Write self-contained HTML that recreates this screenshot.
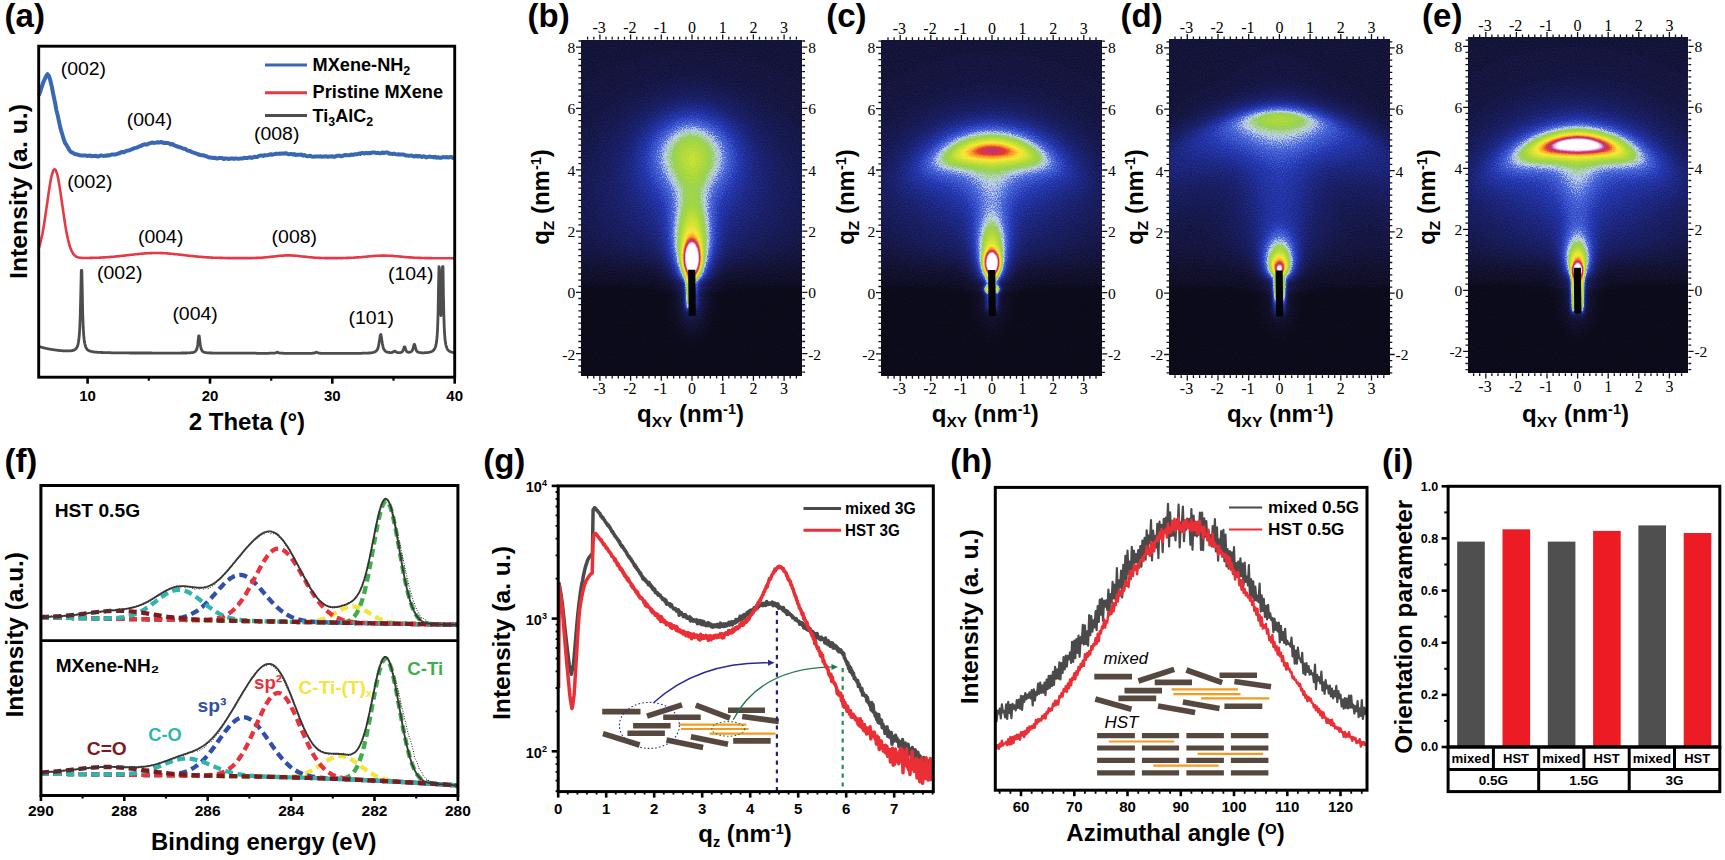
<!DOCTYPE html>
<html lang="en"><head><meta charset="utf-8"><title>Figure</title>
<style>html,body{margin:0;padding:0;background:#fff}svg{display:block}text{font-family:'Liberation Sans', Arial, Helvetica, sans-serif}.s text{font-family:'Liberation Serif','Times New Roman',serif}</style>
</head><body>
<svg width="1725" height="860" viewBox="0 0 1725 860">
<defs>
<filter id="cm" color-interpolation-filters="sRGB" filterUnits="userSpaceOnUse" x="570" y="30" width="1130" height="355"><feGaussianBlur in="SourceGraphic" stdDeviation="1.5" result="b"/><feTurbulence type="fractalNoise" baseFrequency="0.8" numOctaves="1" seed="7" result="t"/><feColorMatrix in="t" type="matrix" values="1 0 0 0 0 1 0 0 0 0 1 0 0 0 0 0 0 0 0 1" result="n"/><feComposite in="b" in2="n" operator="arithmetic" k1="-0.2" k2="1.1" k3="0.22" k4="-0.11" result="c"/><feComponentTransfer in="c"><feFuncR type="table" tableValues="0.043 0.046 0.048 0.051 0.054 0.056 0.059 0.063 0.067 0.071 0.075 0.078 0.082 0.085 0.087 0.089 0.092 0.094 0.096 0.099 0.101 0.104 0.106 0.11 0.115 0.119 0.123 0.127 0.132 0.136 0.14 0.145 0.149 0.17 0.19 0.211 0.231 0.252 0.273 0.293 0.314 0.405 0.496 0.587 0.678 0.769 0.724 0.678 0.633 0.588 0.601 0.613 0.626 0.638 0.651 0.675 0.698 0.722 0.745 0.769 0.792 0.816 0.839 0.864 0.889 0.914 0.939 0.963 0.988 0.987 0.986 0.985 0.984 0.983 0.982 0.98 0.966 0.952 0.937 0.923 0.908 0.894 0.867 0.839 0.812 0.784 0.757 0.729 0.761 0.792 0.824 0.855 0.886 0.915 0.943 0.972 1 1 1 1 1"/><feFuncG type="table" tableValues="0.039 0.042 0.044 0.047 0.05 0.052 0.055 0.059 0.064 0.069 0.073 0.078 0.082 0.087 0.093 0.098 0.103 0.108 0.113 0.118 0.123 0.128 0.133 0.143 0.152 0.162 0.171 0.18 0.19 0.199 0.209 0.218 0.227 0.253 0.278 0.304 0.329 0.355 0.38 0.406 0.431 0.511 0.591 0.671 0.751 0.831 0.827 0.824 0.82 0.816 0.822 0.828 0.835 0.841 0.847 0.853 0.859 0.865 0.871 0.876 0.882 0.888 0.894 0.897 0.899 0.902 0.905 0.907 0.91 0.869 0.829 0.789 0.748 0.708 0.668 0.627 0.559 0.492 0.424 0.356 0.288 0.22 0.217 0.214 0.212 0.209 0.207 0.204 0.298 0.392 0.486 0.58 0.675 0.751 0.827 0.904 0.98 0.985 0.99 0.995 1"/><feFuncB type="table" tableValues="0.086 0.095 0.105 0.114 0.123 0.132 0.141 0.157 0.173 0.188 0.204 0.22 0.235 0.256 0.276 0.296 0.317 0.337 0.358 0.378 0.398 0.419 0.439 0.467 0.494 0.522 0.549 0.576 0.604 0.631 0.659 0.686 0.714 0.733 0.753 0.773 0.792 0.812 0.831 0.851 0.871 0.885 0.899 0.913 0.927 0.941 0.8 0.659 0.518 0.376 0.35 0.323 0.296 0.27 0.243 0.238 0.233 0.228 0.224 0.219 0.214 0.209 0.204 0.204 0.204 0.204 0.204 0.204 0.204 0.198 0.193 0.187 0.182 0.176 0.17 0.165 0.167 0.17 0.173 0.175 0.178 0.18 0.237 0.293 0.349 0.405 0.461 0.518 0.591 0.665 0.739 0.813 0.886 0.915 0.943 0.972 1 1 1 1 1"/><feFuncA type="linear" slope="0" intercept="1"/></feComponentTransfer></filter>
<clipPath id="hc1"><rect x="581" y="40" width="221" height="336"/></clipPath>
<clipPath id="hc2"><rect x="881" y="40" width="221" height="336"/></clipPath>
<clipPath id="hc3"><rect x="1169" y="39" width="221" height="336"/></clipPath>
<clipPath id="hc4"><rect x="1468" y="37" width="220" height="336"/></clipPath>
<clipPath id="cg"><rect x="558.2" y="485.9" width="375.1" height="305.7"/></clipPath>
<clipPath id="ch"><rect x="995.3" y="487.4" width="371.7" height="302.8"/></clipPath>
</defs>
<rect width="1725" height="860" fill="#fff"/>
<g id="pa">
<path d="M38.7,95.6 40.2,91.7 41.6,87.3 43.1,82.8 44.6,79.5 46,76.4 47.5,74.2 49,76.2 50.4,80.7 51.9,87.1 53.4,95 54.9,101.9 56.3,109.6 57.8,115.9 59.3,122.9 60.7,129.2 62.2,134 63.7,139.2 65.1,143 66.6,145.2 68.1,147.7 69.5,150.2 71,152.1 72.5,152.7 73.9,153.4 75.4,154.2 76.9,154.3 78.3,154.8 79.8,155.3 81.3,155.5 82.7,155.4 84.2,155.5 85.7,155.5 87.2,155.9 88.6,155.7 90.1,155.5 91.6,156.3 93,156.1 94.5,156.1 96,155.7 97.4,156.4 98.9,156.3 100.4,155.5 101.8,155.6 103.3,155.9 104.8,155.8 106.2,155.8 107.7,155.2 109.2,155.4 110.6,155 112.1,154.4 113.6,154.5 115,154.5 116.5,154.2 118,153.5 119.5,153.2 120.9,152.3 122.4,152.1 123.9,152.2 125.3,151.4 126.8,150.7 128.3,150.5 129.7,150.2 131.2,149.6 132.7,148.8 134.1,148.3 135.6,147.9 137.1,147.6 138.5,146.8 140,146.1 141.5,145.7 142.9,144.8 144.4,144.3 145.9,144.5 147.3,144.4 148.8,143.6 150.3,143.1 151.8,142.6 153.2,142.7 154.7,142.9 156.2,142.6 157.6,142.3 159.1,142.6 160.6,142 162,142.3 163.5,142.9 165,142.7 166.4,142.9 167.9,143 169.4,143.6 170.8,144.4 172.3,143.9 173.8,145.1 175.2,145.7 176.7,146.3 178.2,146.7 179.7,147.3 181.1,147.6 182.6,148.3 184.1,148.8 185.5,149 187,150.4 188.5,150.7 189.9,150.9 191.4,151.8 192.9,152.4 194.3,152.8 195.8,153.3 197.3,154 198.7,154.5 200.2,155 201.7,155.2 203.1,155.2 204.6,155.8 206.1,156.1 207.5,156.8 209,157.4 210.5,157.6 212,157.8 213.4,158 214.9,157.7 216.4,158.4 217.8,158.4 219.3,158 220.8,158 222.2,158.1 223.7,159 225.2,158.5 226.6,158.4 228.1,159 229.6,158.7 231,158.5 232.5,158.5 234,158.9 235.4,158.5 236.9,158.6 238.4,158.9 239.8,158.6 241.3,158.4 242.8,158.4 244.3,157.8 245.7,158.1 247.2,158 248.7,157.6 250.1,157.3 251.6,157.9 253.1,157.3 254.5,156.8 256,157 257.5,156.9 258.9,155.9 260.4,155.6 261.9,155.5 263.3,155.9 264.8,155.1 266.3,155.4 267.7,155.1 269.2,154.8 270.7,154.2 272.1,154.8 273.6,154.4 275.1,154 276.6,153.6 278,153.9 279.5,153.6 281,153.7 282.4,153.4 283.9,153.7 285.4,153.2 286.8,153.5 288.3,154.2 289.8,154.2 291.2,153.8 292.7,154.5 294.2,154.1 295.6,154.9 297.1,154.8 298.6,154.7 300,154.7 301.5,154.6 303,155.7 304.5,155 305.9,155.9 307.4,156.2 308.9,156 310.3,155.7 311.8,156.6 313.3,156.8 314.7,156.6 316.2,156.5 317.7,156.4 319.1,156.4 320.6,156.3 322.1,156.8 323.5,156.6 325,156.4 326.5,156.3 327.9,156.8 329.4,156.4 330.9,156.5 332.3,156.3 333.8,156.7 335.3,156.7 336.8,155.7 338.2,155.7 339.7,155.7 341.2,156.3 342.6,155.9 344.1,155.3 345.6,155 347,155.3 348.5,155.3 350,155.3 351.4,154.5 352.9,154.9 354.4,154.5 355.8,154.1 357.3,154.4 358.8,153.5 360.2,153.9 361.7,153.1 363.2,153 364.6,153.6 366.1,152.8 367.6,153.3 369.1,153 370.5,153.2 372,152.6 373.5,152.6 374.9,152.5 376.4,153.1 377.9,152.8 379.3,153.2 380.8,153.2 382.3,152.5 383.7,153 385.2,152.6 386.7,152.6 388.1,152.8 389.6,153.7 391.1,153.8 392.5,154 394,153.6 395.5,154.1 396.9,154.4 398.4,154.2 399.9,154.5 401.4,154.4 402.8,154.4 404.3,154.8 405.8,155.6 407.2,155.4 408.7,155.9 410.2,155.6 411.6,155.6 413.1,156.2 414.6,156.4 416,155.7 417.5,156.5 419,156 420.4,156.2 421.9,157 423.4,156.3 424.8,156.6 426.3,157.4 427.8,156.9 429.3,156.6 430.7,156.8 432.2,156.9 433.7,157.4 435.1,156.8 436.6,157.7 438.1,157.2 439.5,157.8 441,157.8 442.5,157.2 443.9,157.1 445.4,157.4 446.9,157 448.3,157.6 449.8,157 451.3,157 452.7,157.9 454.2,157.3" fill="none" stroke="#3a67b1" stroke-width="4" stroke-linejoin="round" />
<path d="M38.7,248.3 39.9,244.5 41.1,239.8 42.4,234 43.6,227.2 44.8,219.5 46,211.1 47.3,202.5 48.5,193.9 49.7,185.9 50.9,179 52.2,173.7 53.4,170.3 54.6,169.2 55.8,170.3 57.1,173.7 58.3,179 59.5,185.9 60.7,193.9 61.9,202.5 63.2,211.1 64.4,219.5 65.6,227.1 66.8,233.9 68.1,239.7 69.3,244.5 70.5,248.3 71.7,251.2 73,253.4 74.2,255 75.4,256.1 76.6,256.8 77.9,257.3 79.1,257.6 80.3,257.8 81.5,257.9 82.7,258 84,258 85.2,258 86.4,258 87.6,258 88.9,258 90.1,257.9 91.3,257.9 92.5,257.9 93.8,257.8 95,257.8 96.2,257.8 97.4,257.7 98.7,257.7 99.9,257.6 101.1,257.6 102.3,257.5 103.5,257.4 104.8,257.4 106,257.3 107.2,257.2 108.4,257.1 109.7,257 110.9,256.9 112.1,256.8 113.3,256.7 114.6,256.6 115.8,256.5 117,256.4 118.2,256.3 119.5,256.1 120.7,256 121.9,255.9 123.1,255.8 124.3,255.6 125.6,255.5 126.8,255.3 128,255.2 129.2,255 130.5,254.9 131.7,254.8 132.9,254.6 134.1,254.5 135.4,254.3 136.6,254.2 137.8,254.1 139,254 140.3,253.8 141.5,253.7 142.7,253.6 143.9,253.5 145.1,253.4 146.4,253.3 147.6,253.3 148.8,253.2 150,253.1 151.3,253.1 152.5,253 153.7,253 154.9,253 156.2,253 157.4,253 158.6,253 159.8,253 161.1,253.1 162.3,253.1 163.5,253.2 164.7,253.3 165.9,253.3 167.2,253.4 168.4,253.5 169.6,253.6 170.8,253.7 172.1,253.8 173.3,254 174.5,254.1 175.7,254.2 177,254.3 178.2,254.5 179.4,254.6 180.6,254.8 181.9,254.9 183.1,255 184.3,255.2 185.5,255.3 186.7,255.5 188,255.6 189.2,255.8 190.4,255.9 191.6,256 192.9,256.1 194.1,256.3 195.3,256.4 196.5,256.5 197.8,256.6 199,256.7 200.2,256.8 201.4,256.9 202.7,257 203.9,257.1 205.1,257.2 206.3,257.3 207.5,257.4 208.8,257.4 210,257.5 211.2,257.6 212.4,257.6 213.7,257.7 214.9,257.7 216.1,257.8 217.3,257.8 218.6,257.8 219.8,257.9 221,257.9 222.2,257.9 223.5,258 224.7,258 225.9,258 227.1,258 228.3,258.1 229.6,258.1 230.8,258.1 232,258.1 233.2,258.1 234.5,258.1 235.7,258.1 236.9,258.1 238.1,258.1 239.4,258.1 240.6,258.1 241.8,258.1 243,258.1 244.3,258.1 245.5,258.1 246.7,258.1 247.9,258.1 249.1,258.1 250.4,258.1 251.6,258.1 252.8,258 254,258 255.3,258 256.5,257.9 257.7,257.9 258.9,257.8 260.2,257.8 261.4,257.7 262.6,257.6 263.8,257.5 265.1,257.4 266.3,257.3 267.5,257.2 268.7,257 269.9,256.9 271.2,256.8 272.4,256.6 273.6,256.5 274.8,256.4 276.1,256.2 277.3,256.1 278.5,256 279.7,255.8 281,255.7 282.2,255.6 283.4,255.6 284.6,255.5 285.9,255.4 287.1,255.4 288.3,255.4 289.5,255.4 290.7,255.4 292,255.5 293.2,255.6 294.4,255.6 295.6,255.7 296.9,255.8 298.1,256 299.3,256.1 300.5,256.2 301.8,256.4 303,256.5 304.2,256.6 305.4,256.8 306.7,256.9 307.9,257 309.1,257.2 310.3,257.3 311.5,257.4 312.8,257.5 314,257.6 315.2,257.7 316.4,257.8 317.7,257.8 318.9,257.9 320.1,257.9 321.3,258 322.6,258 323.8,258 325,258.1 326.2,258.1 327.5,258.1 328.7,258.1 329.9,258.1 331.1,258.1 332.3,258.1 333.6,258.1 334.8,258.1 336,258.1 337.2,258.1 338.5,258.1 339.7,258.1 340.9,258.1 342.1,258.1 343.4,258 344.6,258 345.8,258 347,257.9 348.3,257.9 349.5,257.8 350.7,257.8 351.9,257.7 353.1,257.7 354.4,257.6 355.6,257.5 356.8,257.4 358,257.4 359.3,257.3 360.5,257.2 361.7,257.1 362.9,257 364.2,256.8 365.4,256.7 366.6,256.6 367.8,256.5 369.1,256.4 370.3,256.3 371.5,256.2 372.7,256.1 373.9,256 375.2,255.9 376.4,255.8 377.6,255.8 378.8,255.7 380.1,255.7 381.3,255.6 382.5,255.6 383.7,255.6 385,255.6 386.2,255.6 387.4,255.7 388.6,255.7 389.9,255.8 391.1,255.8 392.3,255.9 393.5,256 394.7,256.1 396,256.2 397.2,256.3 398.4,256.4 399.6,256.5 400.9,256.6 402.1,256.7 403.3,256.8 404.5,257 405.8,257.1 407,257.2 408.2,257.3 409.4,257.4 410.7,257.4 411.9,257.5 413.1,257.6 414.3,257.7 415.5,257.7 416.8,257.8 418,257.8 419.2,257.9 420.4,257.9 421.7,258 422.9,258 424.1,258 425.3,258.1 426.6,258.1 427.8,258.1 429,258.1 430.2,258.1 431.5,258.1 432.7,258.2 433.9,258.2 435.1,258.2 436.3,258.2 437.6,258.2 438.8,258.2 440,258.2 441.2,258.2 442.5,258.2 443.7,258.2 444.9,258.2 446.1,258.2 447.4,258.2 448.6,258.2 449.8,258.2 451,258.2 452.3,258.2 453.5,258.2 454.7,258.2" fill="none" stroke="#e63946" stroke-width="2.6" stroke-linejoin="round" />
<path d="M38.7,346.4 39.2,346.5 39.7,346.7 40.2,346.8 40.7,347 41.1,347.1 41.6,347.3 42.1,347.4 42.6,347.5 43.1,347.7 43.6,347.8 44.1,347.9 44.6,348 45.1,348.2 45.6,348.3 46,348.4 46.5,348.5 47,348.6 47.5,348.7 48,348.8 48.5,348.9 49,349 49.5,349.1 50,349.2 50.4,349.3 50.9,349.3 51.4,349.4 51.9,349.5 52.4,349.6 52.9,349.7 53.4,349.7 53.9,349.8 54.4,349.9 54.9,349.9 55.3,350 55.8,350.1 56.3,350.1 56.8,350.2 57.3,350.3 57.8,350.3 58.3,350.4 58.8,350.4 59.3,350.5 59.7,350.5 60.2,350.6 60.7,350.6 61.2,350.6 61.7,350.7 62.2,350.7 62.7,350.8 63.2,350.8 63.7,350.8 64.1,350.8 64.6,350.9 65.1,350.9 65.6,350.9 66.1,350.9 66.6,350.9 67.1,350.9 67.6,350.9 68.1,350.9 68.6,350.9 69,350.9 69.5,350.9 70,350.9 70.5,350.8 71,350.8 71.5,350.7 72,350.7 72.5,350.6 73,350.4 73.4,350.3 73.9,350.1 74.4,349.9 74.9,349.6 75.4,349.3 75.9,348.8 76.4,348.3 76.9,347.5 77.4,346.4 77.9,345 78.3,342.9 78.8,339.8 79.3,335 79.8,327 80.3,313.7 80.8,292.7 81.3,270.3 81.8,270.3 82.3,292.7 82.7,313.8 83.2,327.2 83.7,335.1 84.2,340 84.7,343.2 85.2,345.3 85.7,346.8 86.2,347.9 86.7,348.7 87.2,349.3 87.6,349.8 88.1,350.2 88.6,350.5 89.1,350.7 89.6,350.9 90.1,351.1 90.6,351.3 91.1,351.4 91.6,351.5 92,351.6 92.5,351.7 93,351.8 93.5,351.9 94,352 94.5,352 95,352.1 95.5,352.1 96,352.2 96.5,352.2 96.9,352.2 97.4,352.3 97.9,352.3 98.4,352.3 98.9,352.4 99.4,352.4 99.9,352.4 100.4,352.4 100.9,352.5 101.3,352.5 101.8,352.5 102.3,352.5 102.8,352.5 103.3,352.6 103.8,352.6 104.3,352.6 104.8,352.6 105.3,352.6 105.7,352.6 106.2,352.6 106.7,352.7 107.2,352.7 107.7,352.7 108.2,352.7 108.7,352.7 109.2,352.7 109.7,352.7 110.2,352.7 110.6,352.7 111.1,352.8 111.6,352.8 112.1,352.8 112.6,352.8 113.1,352.8 113.6,352.8 114.1,352.8 114.6,352.8 115,352.8 115.5,352.8 116,352.8 116.5,352.8 117,352.8 117.5,352.8 118,352.9 118.5,352.9 119,352.9 119.5,352.9 119.9,352.9 120.4,352.9 120.9,352.9 121.4,352.9 121.9,352.9 122.4,352.9 122.9,352.9 123.4,352.9 123.9,352.9 124.3,352.9 124.8,352.9 125.3,352.9 125.8,352.9 126.3,352.9 126.8,352.9 127.3,352.9 127.8,352.9 128.3,352.9 128.8,352.9 129.2,352.9 129.7,353 130.2,353 130.7,353 131.2,353 131.7,353 132.2,353 132.7,353 133.2,353 133.6,353 134.1,353 134.6,353 135.1,353 135.6,353 136.1,353 136.6,353 137.1,353 137.6,353 138.1,353 138.5,353 139,353 139.5,353 140,353 140.5,353 141,353 141.5,353 142,353 142.5,353 142.9,353 143.4,353 143.9,353 144.4,353 144.9,353 145.4,353 145.9,353 146.4,353 146.9,353 147.3,353 147.8,353 148.3,353 148.8,353 149.3,353 149.8,353 150.3,353 150.8,353 151.3,353 151.8,353 152.2,353 152.7,353.1 153.2,353.1 153.7,353.1 154.2,353.1 154.7,353.1 155.2,353.1 155.7,353.1 156.2,353.1 156.6,353.1 157.1,353.1 157.6,353.1 158.1,353.1 158.6,353.1 159.1,353.1 159.6,353.1 160.1,353.1 160.6,353.1 161.1,353.1 161.5,353.1 162,353.1 162.5,353.1 163,353.1 163.5,353.1 164,353.1 164.5,353.1 165,353.1 165.5,353.1 165.9,353.1 166.4,353.1 166.9,353.1 167.4,353.1 167.9,353.1 168.4,353.1 168.9,353.1 169.4,353.1 169.9,353.1 170.4,353.1 170.8,353.1 171.3,353.1 171.8,353.1 172.3,353.1 172.8,353.1 173.3,353.1 173.8,353.1 174.3,353.1 174.8,353.1 175.2,353.1 175.7,353.1 176.2,353.1 176.7,353.1 177.2,353.1 177.7,353.1 178.2,353.1 178.7,353.1 179.2,353.1 179.7,353.1 180.1,353.1 180.6,353.1 181.1,353 181.6,353 182.1,353 182.6,353 183.1,353 183.6,353 184.1,353 184.5,353 185,353 185.5,353 186,353 186.5,353 187,353 187.5,352.9 188,352.9 188.5,352.9 188.9,352.9 189.4,352.9 189.9,352.8 190.4,352.8 190.9,352.7 191.4,352.7 191.9,352.6 192.4,352.6 192.9,352.5 193.4,352.3 193.8,352.2 194.3,352 194.8,351.7 195.3,351.4 195.8,350.8 196.3,350.1 196.8,348.9 197.3,347.1 197.8,344.2 198.2,339.9 198.7,335.9 199.2,335.9 199.7,339.9 200.2,344.2 200.7,347.1 201.2,348.9 201.7,350.1 202.2,350.9 202.7,351.4 203.1,351.7 203.6,352 204.1,352.2 204.6,352.4 205.1,352.5 205.6,352.6 206.1,352.7 206.6,352.7 207.1,352.8 207.5,352.8 208,352.9 208.5,352.9 209,352.9 209.5,352.9 210,353 210.5,353 211,353 211.5,353 212,353 212.4,353 212.9,353.1 213.4,353.1 213.9,353.1 214.4,353.1 214.9,353.1 215.4,353.1 215.9,353.1 216.4,353.1 216.8,353.1 217.3,353.1 217.8,353.1 218.3,353.1 218.8,353.1 219.3,353.1 219.8,353.1 220.3,353.1 220.8,353.1 221.3,353.2 221.7,353.2 222.2,353.2 222.7,353.2 223.2,353.2 223.7,353.2 224.2,353.2 224.7,353.2 225.2,353.2 225.7,353.2 226.1,353.2 226.6,353.2 227.1,353.2 227.6,353.2 228.1,353.2 228.6,353.2 229.1,353.2 229.6,353.2 230.1,353.2 230.5,353.2 231,353.2 231.5,353.2 232,353.2 232.5,353.2 233,353.2 233.5,353.2 234,353.2 234.5,353.2 235,353.2 235.4,353.2 235.9,353.2 236.4,353.2 236.9,353.2 237.4,353.2 237.9,353.2 238.4,353.2 238.9,353.2 239.4,353.2 239.8,353.2 240.3,353.2 240.8,353.2 241.3,353.2 241.8,353.2 242.3,353.2 242.8,353.2 243.3,353.2 243.8,353.2 244.3,353.2 244.7,353.2 245.2,353.2 245.7,353.2 246.2,353.2 246.7,353.2 247.2,353.2 247.7,353.2 248.2,353.2 248.7,353.2 249.1,353.2 249.6,353.2 250.1,353.2 250.6,353.2 251.1,353.2 251.6,353.2 252.1,353.2 252.6,353.2 253.1,353.2 253.6,353.2 254,353.2 254.5,353.2 255,353.2 255.5,353.2 256,353.2 256.5,353.3 257,353.3 257.5,353.3 258,353.3 258.4,353.3 258.9,353.3 259.4,353.3 259.9,353.3 260.4,353.3 260.9,353.3 261.4,353.3 261.9,353.3 262.4,353.3 262.9,353.3 263.3,353.3 263.8,353.3 264.3,353.3 264.8,353.3 265.3,353.3 265.8,353.3 266.3,353.3 266.8,353.3 267.3,353.3 267.7,353.3 268.2,353.3 268.7,353.3 269.2,353.2 269.7,353.2 270.2,353.2 270.7,353.2 271.2,353.2 271.7,353.2 272.1,353.2 272.6,353.2 273.1,353.2 273.6,353.2 274.1,353.1 274.6,353.1 275.1,353 275.6,352.9 276.1,352.7 276.6,352.4 277,352.1 277.5,352.1 278,352.4 278.5,352.7 279,352.9 279.5,353 280,353.1 280.5,353.1 281,353.2 281.4,353.2 281.9,353.2 282.4,353.2 282.9,353.2 283.4,353.3 283.9,353.3 284.4,353.3 284.9,353.3 285.4,353.3 285.9,353.3 286.3,353.3 286.8,353.3 287.3,353.3 287.8,353.3 288.3,353.3 288.8,353.3 289.3,353.3 289.8,353.3 290.3,353.3 290.7,353.3 291.2,353.3 291.7,353.3 292.2,353.3 292.7,353.3 293.2,353.3 293.7,353.3 294.2,353.3 294.7,353.3 295.2,353.3 295.6,353.3 296.1,353.3 296.6,353.3 297.1,353.3 297.6,353.3 298.1,353.3 298.6,353.3 299.1,353.3 299.6,353.3 300,353.3 300.5,353.3 301,353.3 301.5,353.3 302,353.3 302.5,353.3 303,353.3 303.5,353.3 304,353.3 304.5,353.3 304.9,353.3 305.4,353.3 305.9,353.3 306.4,353.3 306.9,353.3 307.4,353.3 307.9,353.3 308.4,353.3 308.9,353.3 309.3,353.3 309.8,353.3 310.3,353.3 310.8,353.3 311.3,353.3 311.8,353.3 312.3,353.2 312.8,353.2 313.3,353.2 313.7,353.1 314.2,353.1 314.7,352.9 315.2,352.7 315.7,352.5 316.2,352.2 316.7,352.2 317.2,352.5 317.7,352.7 318.2,352.9 318.6,353.1 319.1,353.1 319.6,353.2 320.1,353.2 320.6,353.3 321.1,353.3 321.6,353.3 322.1,353.3 322.6,353.3 323,353.3 323.5,353.3 324,353.3 324.5,353.3 325,353.3 325.5,353.3 326,353.3 326.5,353.3 327,353.3 327.5,353.3 327.9,353.3 328.4,353.3 328.9,353.3 329.4,353.3 329.9,353.3 330.4,353.3 330.9,353.3 331.4,353.3 331.9,353.3 332.3,353.3 332.8,353.3 333.3,353.3 333.8,353.3 334.3,353.3 334.8,353.3 335.3,353.3 335.8,353.3 336.3,353.4 336.8,353.4 337.2,353.4 337.7,353.4 338.2,353.4 338.7,353.4 339.2,353.4 339.7,353.4 340.2,353.4 340.7,353.4 341.2,353.4 341.6,353.4 342.1,353.3 342.6,353.3 343.1,353.3 343.6,353.3 344.1,353.3 344.6,353.3 345.1,353.3 345.6,353.3 346.1,353.3 346.5,353.3 347,353.3 347.5,353.3 348,353.3 348.5,353.3 349,353.3 349.5,353.3 350,353.3 350.5,353.3 350.9,353.3 351.4,353.3 351.9,353.3 352.4,353.3 352.9,353.3 353.4,353.3 353.9,353.3 354.4,353.3 354.9,353.3 355.3,353.3 355.8,353.3 356.3,353.3 356.8,353.3 357.3,353.3 357.8,353.3 358.3,353.3 358.8,353.3 359.3,353.3 359.8,353.3 360.2,353.3 360.7,353.3 361.2,353.3 361.7,353.3 362.2,353.2 362.7,353.2 363.2,353.2 363.7,353.2 364.2,353.2 364.6,353.2 365.1,353.2 365.6,353.2 366.1,353.1 366.6,353.1 367.1,353.1 367.6,353.1 368.1,353.1 368.6,353 369.1,353 369.5,353 370,352.9 370.5,352.9 371,352.8 371.5,352.8 372,352.7 372.5,352.6 373,352.5 373.5,352.4 373.9,352.2 374.4,352.1 374.9,351.9 375.4,351.6 375.9,351.2 376.4,350.8 376.9,350.2 377.4,349.4 377.9,348.3 378.4,346.7 378.8,344.5 379.3,341.6 379.8,338.2 380.3,335.2 380.8,334.5 381.3,336.5 381.8,339.9 382.3,343.2 382.8,345.7 383.2,347.5 383.7,348.8 384.2,349.8 384.7,350.5 385.2,351 385.7,351.4 386.2,351.7 386.7,351.9 387.2,352.1 387.7,352.2 388.1,352.3 388.6,352.4 389.1,352.5 389.6,352.5 390.1,352.6 390.6,352.6 391.1,352.6 391.6,352.5 392.1,352.5 392.5,352.3 393,352.1 393.5,351.8 394,351.4 394.5,351.1 395,351.1 395.5,351.4 396,351.8 396.5,352.2 396.9,352.4 397.4,352.5 397.9,352.6 398.4,352.7 398.9,352.7 399.4,352.7 399.9,352.6 400.4,352.5 400.9,352.4 401.4,352.3 401.8,352 402.3,351.6 402.8,350.9 403.3,349.9 403.8,348.3 404.3,346.8 404.8,346.8 405.3,348.3 405.8,349.8 406.2,350.8 406.7,351.5 407.2,351.9 407.7,352.1 408.2,352.2 408.7,352.3 409.2,352.3 409.7,352.2 410.2,352.1 410.7,352 411.1,351.7 411.6,351.3 412.1,350.7 412.6,349.7 413.1,348.2 413.6,346.2 414.1,344.4 414.6,344.4 415.1,346.2 415.5,348.2 416,349.7 416.5,350.7 417,351.4 417.5,351.8 418,352.1 418.5,352.3 419,352.4 419.5,352.5 420,352.6 420.4,352.7 420.9,352.7 421.4,352.8 421.9,352.8 422.4,352.8 422.9,352.8 423.4,352.8 423.9,352.8 424.4,352.8 424.8,352.7 425.3,352.7 425.8,352.7 426.3,352.7 426.8,352.6 427.3,352.6 427.8,352.5 428.3,352.4 428.8,352.4 429.3,352.3 429.7,352.2 430.2,352 430.7,351.9 431.2,351.7 431.7,351.5 432.2,351.3 432.7,351 433.2,350.6 433.7,350.1 434.1,349.6 434.6,348.8 435.1,347.8 435.6,346.4 436.1,344.4 436.6,341.3 437.1,336.5 437.6,328.3 438.1,313.3 438.5,287 439,266.6 439.5,269 440,296.1 440.5,311.7 441,315.5 441.5,309 442,290 442.5,266.6 443,266.6 443.4,294.7 443.9,317.9 444.4,330.8 444.9,338 445.4,342.3 445.9,345 446.4,346.8 446.9,348.1 447.4,349.1 447.8,349.8 448.3,350.3 448.8,350.8 449.3,351.1 449.8,351.4 450.3,351.7 450.8,351.9 451.3,352 451.8,352.2 452.3,352.3 452.7,352.4 453.2,352.5 453.7,352.6 454.2,352.7 454.7,352.7" fill="none" stroke="#4d4d4d" stroke-width="2.8" stroke-linejoin="round" />
<rect x="38.7" y="46.2" width="416" height="331" fill="none" stroke="#000" stroke-width="2.9" />
<line x1="87.6" y1="377.2" x2="87.6" y2="383.7" stroke="#000" stroke-width="2.6" />
<text x="87.6" y="401.3" font-size="15" font-weight="bold" text-anchor="middle" >10</text>
<line x1="210" y1="377.2" x2="210" y2="383.7" stroke="#000" stroke-width="2.6" />
<text x="210" y="401.3" font-size="15" font-weight="bold" text-anchor="middle" >20</text>
<line x1="332.3" y1="377.2" x2="332.3" y2="383.7" stroke="#000" stroke-width="2.6" />
<text x="332.3" y="401.3" font-size="15" font-weight="bold" text-anchor="middle" >30</text>
<line x1="454.7" y1="377.2" x2="454.7" y2="383.7" stroke="#000" stroke-width="2.6" />
<text x="454.7" y="401.3" font-size="15" font-weight="bold" text-anchor="middle" >40</text>
<line x1="148.8" y1="377.2" x2="148.8" y2="380.7" stroke="#000" stroke-width="2.2" />
<line x1="271.2" y1="377.2" x2="271.2" y2="380.7" stroke="#000" stroke-width="2.2" />
<line x1="393.5" y1="377.2" x2="393.5" y2="380.7" stroke="#000" stroke-width="2.2" />
<text x="246.9" y="430.2" font-size="24" font-weight="bold" text-anchor="middle" >2 Theta (°)</text>
<text x="26.5" y="191.5" font-size="24" font-weight="bold" text-anchor="middle" transform="rotate(-90 26.5 191.5)" textLength="175" lengthAdjust="spacingAndGlyphs" >Intensity (a. u.)</text>
<text x="60.7" y="75.3" font-size="18" textLength="45.4" lengthAdjust="spacingAndGlyphs" >(002)</text>
<text x="126.8" y="126.3" font-size="18" textLength="45.4" lengthAdjust="spacingAndGlyphs" >(004)</text>
<text x="254" y="140.3" font-size="18" textLength="45.4" lengthAdjust="spacingAndGlyphs" >(008)</text>
<text x="67.2" y="187.9" font-size="18" textLength="45.4" lengthAdjust="spacingAndGlyphs" >(002)</text>
<text x="138" y="243" font-size="18" textLength="45.4" lengthAdjust="spacingAndGlyphs" >(004)</text>
<text x="271.6" y="243" font-size="18" textLength="45.4" lengthAdjust="spacingAndGlyphs" >(008)</text>
<text x="97" y="279.2" font-size="18" textLength="45.4" lengthAdjust="spacingAndGlyphs" >(002)</text>
<text x="172.4" y="320.3" font-size="18" textLength="45.4" lengthAdjust="spacingAndGlyphs" >(004)</text>
<text x="348.5" y="324.1" font-size="18" textLength="45.4" lengthAdjust="spacingAndGlyphs" >(101)</text>
<text x="388" y="280.4" font-size="18" textLength="45.4" lengthAdjust="spacingAndGlyphs" >(104)</text>
<line x1="265" y1="65.1" x2="307" y2="65.1" stroke="#3a67b1" stroke-width="3" />
<line x1="265" y1="92.7" x2="307" y2="92.7" stroke="#e63946" stroke-width="3" />
<line x1="265" y1="115.4" x2="307" y2="115.4" stroke="#4d4d4d" stroke-width="3" />
<text x="312.6" y="70.9" font-size="17.5" font-weight="bold" textLength="97.7" lengthAdjust="spacingAndGlyphs" >MXene-NH<tspan font-size="12" dy="4">2</tspan></text>
<text x="312.6" y="97.9" font-size="17.5" font-weight="bold" textLength="130.5" lengthAdjust="spacingAndGlyphs" >Pristine MXene</text>
<text x="312.6" y="121.6" font-size="17.5" font-weight="bold" textLength="60.5" lengthAdjust="spacingAndGlyphs" >Ti<tspan font-size="12" dy="4">3</tspan><tspan dy="-4">AlC</tspan><tspan font-size="12" dy="4">2</tspan></text>
</g>
<g clip-path="url(#hc1)"><g filter="url(#cm)">
<rect x="573.2" y="31.6" width="237" height="352" fill="rgb(4,4,4)" />
<path fill="rgb(6,6,6)" fill-rule="evenodd" d="M575,33.5l233,0 0,255.5 -49.5,.5 -29.5,3 -5,1.5 -1,.5 -1,2 -2,17 -2.5,10 -2,6 -3,7 -4.5,7 -5,5 -5,3 -6,1 -6,-1 -5,-3 -5,-4.5 -4,-6.5 -3.5,-7 -3,-10 -1.5,-9 -2,-15 -1,-2 -1.5,-1 -4.5,-1 -29.5,-3 -50.5,-.5z"/>
<path fill="rgb(9,9,9)" fill-rule="evenodd" d="M575,33.5l233,0 0,253.5 -43,.5 -15,.5 -9,1 -16.5,2.5 -4.5,1.5 -1.5,.5 -1,2 -1,12 -1,8 -2.5,9 -3,7 -4,6 -4,4 -5,3 -5,1 -5,-.5 -5,-3 -4,-4.5 -4,-6 -3.5,-8 -2,-8 -1,-8 -1,-12 -1,-2 -1.5,-.5 -5,-1.5 -18,-3 -7,-.5 -16,-.5 -43,-.5z"/>
<path fill="rgb(12,12,12)" fill-rule="evenodd" d="M575,33.5l233,0 0,252.5 -48,.5 -18,.5 -8,1 -17,4.5 -2,2 -.5,11 -1.5,8 -1.5,7 -3,7 -3.5,5.5 -4,4.5 -4,2.5 -5,1 -5,-1 -4,-2 -4,-4 -3,-5.5 -2.5,-5 -2,-7 -1.5,-10 -1,-11 -.5,-2 -1.5,-1 -18,-4.5 -8,-1 -18,-.5 -48,-.5z"/>
<path fill="rgb(15,15,15)" fill-rule="evenodd" d="M575,33.5l233,0 0,251.5 -52,.5 -20,.5 -7,1 -5.5,2.5 -7.5,2.5 -2,1 -1,1.5 -.5,10 -1,8 -2,7 -3,7 -3.5,5 -3,3 -4,2.5 -4,.5 -4,-.5 -4,-2 -3,-3.5 -3.5,-5 -2.5,-6 -2.5,-8 -1,-7 -.5,-11 -1.5,-2 -2,-1 -7,-2 -6.5,-2.5 -7,-1 -20,-.5 -52,-.5z"/>
<path fill="rgb(18,18,18)" fill-rule="evenodd" d="M575,33.5l233,0 0,249.5 -67,1 -11,1 -5,1 -1,.5 -2,2 -7.5,3 -3,2 -.5,2 0,8 -1,7 -1.5,6 -2,6 -3,5 -3.5,4 -4,2.5 -4,1 -4,-1 -4,-2.5 -3.5,-4 -3,-5 -2,-5 -1.5,-7 -1.5,-17 -3,-2 -7.5,-3 -3,-2.5 -5,-1 -11,-1 -68,-1z"/>
<path fill="rgb(20,20,20)" fill-rule="evenodd" d="M575,33.5l233,0 0,243.5 -70,4.5 -10,1.5 -6,1.5 -2,1.5 -1,2.5 -6.5,3 -2.5,2 -.5,11 -1,7 -2,7 -3,6 -2.5,3 -3,2.5 -3,1.5 -3,1 -3,-.5 -3,-1.5 -3,-2.5 -2.5,-3.5 -3,-6 -2,-7 -1,-6 -.5,-12 -2.5,-2 -6.5,-3 -1,-2 -2,-1.5 -6,-2 -10,-1.5 -71,-4.5z"/>
<path fill="rgb(23,23,23)" fill-rule="evenodd" d="M575,33.5l233,0 0,237 -69,6.5 -9,2 -10,4.5 -3,2 -.5,3 -5.5,3 -2,2 -1.5,16 -2,7 -2.5,5 -2,3 -3,3 -3,2 -3,.5 -3,-.5 -3,-1.5 -2.5,-2.5 -2.5,-3 -2.5,-6 -1.5,-6 -1,-6 -1,-11 -2,-2 -5.5,-3 -.5,-3 -4,-2.5 -10,-4 -8,-2 -70,-6.5z"/>
<path fill="rgb(26,26,26)" fill-rule="evenodd" d="M575,33.5l233,0 0,232 -30,4 -38,3.5 -7,1.5 -5,2 -12,7.5 -1.5,1.5 0,3 -5,3 -2,2 -1,14 -1,5 -2,5 -2.5,4.5 -3,3.5 -3,1.5 -3,1 -4,-1 -3,-2 -2.5,-3.5 -2,-4 -2,-5 -1,-5 -1,-13 -.5,-1 -1.5,-2 -5,-3 0,-3 -2,-2 -11.5,-6.5 -5,-2.5 -7,-1.5 -38,-3.5 -31,-4z"/>
<path fill="rgb(29,29,29)" fill-rule="evenodd" d="M575,33.5l233,0 0,227 -31,5 -38,4.5 -6,1.5 -5,2 -13.5,10 -1.5,2 0,3 -6,4 -1,2 0,7 -.5,6 -1.5,5 -1.5,4 -2,4 -2.5,2.5 -3,2 -3,.5 -3,-.5 -3,-1.5 -2.5,-3 -2,-4 -1.5,-4 -1.5,-5 -.5,-6 0,-7 -1,-1.5 -6,-4.5 0,-3 -1.5,-2 -13.5,-9.5 -5,-2.5 -6,-1 -38.5,-5 -31.5,-5z"/>
<path fill="rgb(32,32,32)" fill-rule="evenodd" d="M692,48.5l13,.5 20,3 15,3 14,4.5 15,5.5 13,6 14,8 12,8.5 0,167.5 -14.5,3.5 -14.5,3 -42,6 -5,1.5 -4,2 -3,2 -6,5.5 -6.5,5 -1.5,2 .5,3 -5.5,4 -1,2 -.5,12 -2.5,8 -2,4 -2,2.5 -3,2 -3,.5 -3,-.5 -2.5,-1.5 -2.5,-2.5 -2,-3.5 -2.5,-8 -.5,-6 0,-7 -1,-2 -5.5,-4 .5,-3 -1.5,-2 -15.5,-12.5 -4,-1.5 -6,-2 -41,-6 -14.5,-3 -15.5,-4 0,-166.5 12,-8.5 13,-7.5 14,-7 14,-5 15,-4.5 15,-3.5 21,-3z"/>
<path fill="rgb(34,34,34)" fill-rule="evenodd" d="M692,66l14,1 20,4 15,4 15,6 15,8 14,8.5 12,9.5 11,11 0,129 -11,5 -14,4.5 -18,4 -28,4.5 -6,2 -4,2 -4,3.5 -5.5,6 -7.5,6 -.5,1 .5,3 -5,4 -1,1 -.5,12 -1,5 -1.5,4 -4,5 -2,1.5 -3,1 -3,-1 -2,-1 -2,-2 -2,-3.5 -1.5,-4 -1,-5 -.5,-12 -1,-1 -5,-4 .5,-3 -.5,-1 -7.5,-6 -6.5,-7 -4,-3 -4,-2 -6,-1.5 -27,-4.5 -17.5,-4 -14.5,-4.5 -12,-5 0,-128.5 11.5,-11 12.5,-10 14,-9 15,-7.5 15,-6 15,-4.5 20,-3.5z"/>
<path fill="rgb(37,37,37)" fill-rule="evenodd" d="M692,75l7,.5 8,1 20,4.5 16,6 14,7 16,10.5 14,12 11.5,12 5.5,7 4,7 0,92.5 -4.5,4.5 -5,4 -7,4 -6.5,3 -8.5,3 -11,3 -29.5,6 -5,2 -5,3 -4,3.5 -6,7.5 -7.5,6 0,1 .5,3 -5.5,4 -.5,1 -.5,11 -.5,4 -2,4.5 -2,3.5 -2,2 -2,1 -2,.5 -3,-1 -2,-1 -3,-4.5 -1.5,-4 -1,-4 -.5,-12 -.5,-1 -5.5,-4 .5,-3 0,-1 -7.5,-6 -7,-8 -4,-3.5 -4,-2.5 -5,-2 -30,-6 -10.5,-3 -8.5,-3 -6.5,-3 -7,-4 -5,-4 -5.5,-5.5 0,-90.5 6.5,-10 10,-12 12,-11 13.5,-10.5 14,-8.5 14,-6.5 15,-5 19,-4z"/>
<path fill="rgb(40,40,40)" fill-rule="evenodd" d="M692,81l8,.5 9,1.5 11,3 10,3 9,4 8,4 9,5.5 8,6 8.5,7 8,8 7,8 6,8 5.5,9 3.5,8 3.5,8 2,9 0,34.5 -1.5,6.5 -3,7 -3,6 -3.5,5 -4.5,5 -5,4 -6,4 -6,3 -14,5 -25.5,6.5 -5,2 -5,3 -4,4 -7.5,9.5 -7,6 -.5,1 1,3 -5.5,4 -.5,1 -.5,10 -2,8 -1.5,3 -2,2 -2,1 -2,.5 -3,-.5 -2,-1 -2.5,-4 -1,-3 -1,-5 -.5,-11 -.5,-1 -5.5,-4 1,-3 -.5,-1 -8,-7 -8.5,-10.5 -5,-4 -5,-2.5 -6,-1.5 -18,-4.5 -10,-3 -11,-4.5 -8.5,-5.5 -8,-7 -5.5,-8 -4.5,-10 -3.5,-11.5 0,-28.5 3.5,-13 4,-10 6,-11 7.5,-10 7.5,-9 9.5,-9 10,-8.5 10,-6.5 11,-6 12,-5 11,-3.5 14,-3z"/>
<path fill="rgb(43,43,43)" fill-rule="evenodd" d="M692,86l8,.5 11,2 11,3 10,4 9,4.5 8,5 9,6.5 7.5,7 8.5,9 7,9 5.5,9 5,9 3.5,9 3,9 1.5,10 .5,9 -1,12 -3,11 -4.5,10 -6.5,9 -8,7 -10,6 -10,4 -22,7 -5,2.5 -4,2.5 -5,5.5 -6.5,9.5 -8,7 -.5,1 .5,3 -5.5,4.5 0,1.5 -.5,11 -1,4 -1.5,3 -1,1.5 -2,1.5 -5,.5 -3,-1 -2,-3.5 -1.5,-5 -.5,-13 -1,-1 -4,-3 -.5,-1 .5,-3 -.5,-1 -8,-7 -6.5,-9 -5,-5.5 -4,-3 -5,-2.5 -22,-7 -12,-5 -9.5,-6 -7,-7 -6.5,-9 -4,-10 -3,-12 -1,-12 .5,-9 2,-10 3,-9 4,-9 5,-9 6,-9 7.5,-9 7.5,-8 8,-7 7.5,-5.5 8,-5 9,-4.5 10,-4 11,-3 10,-2z"/>
<path fill="rgb(46,46,46)" fill-rule="evenodd" d="M693,89.5l8,1 10,2 10,3 9,3.5 8,4.5 8,5 7,5.5 7,6.5 7,8 6.5,9 5.5,9 4.5,9 3.5,9 2.5,9 1.5,9 0,8 -1,11 -3,11 -4.5,10 -5.5,8 -7,7 -7,5 -9,4.5 -19,7 -5,3 -4,3 -5,6 -8,11.5 -8,7 0,1 .5,3 -.5,1 -4.5,3 -.5,2 -.5,12 -1.5,5 -2,2 -4,.5 -3,.5 -2,-.5 -2,-3.5 -1.5,-6 0,-11 -.5,-1 -4,-3 -.5,-1 .5,-3 0,-1 -8,-7 -7,-10 -5,-6 -5,-4 -5,-3 -20,-8 -9,-4.5 -8.5,-6.5 -6,-7 -6,-9 -3.5,-10 -2.5,-10 -.5,-11 .5,-9 2,-9 2.5,-9 4,-9 4.5,-9 6,-9 6,-8 7.5,-8 6.5,-6 7.5,-5.5 8,-5 8,-4 10,-4 10,-2.5 9,-1.5z"/>
<path fill="rgb(48,48,48)" fill-rule="evenodd" d="M693,92.5l7,1 9,1.5 10,3 8,3.5 8,4 7,5 6.5,5 6.5,6 6,7 5.5,8 5.5,9 4,9 3.5,9 2,9 1.5,9 0,8 -.5,10 -2.5,10 -4,9 -5,8 -6,6.5 -7,5.5 -6.5,4 -17.5,8.5 -4,3 -4,3.5 -6,7.5 -8,12.5 -8,7 -.5,1 1,3 -.5,1 -4,2.5 -.5,1.5 -.5,14 -1.5,4 -2.5,1.5 -3,-1 -2.5,1.5 -1.5,.5 -2,-1.5 -1,-3 -1,-6 0,-10 -1,-2 -3.5,-3 1,-3 -.5,-1 -8,-7 -8,-12 -5,-6.5 -4,-4 -5,-3.5 -17.5,-9 -8,-5 -7,-6 -6,-7 -5,-9 -3,-9 -2,-10 -.5,-10 .5,-8 1.5,-9 2.5,-9 4,-9 4.5,-9 4.5,-8 6,-8 6.5,-7 6.5,-6 6.5,-5 7,-4 8,-4 9,-3.5 10,-2.5 8,-1.5z"/>
<path fill="rgb(51,51,51)" fill-rule="evenodd" d="M693,95.5l7,.5 9,2 9,3 8,3 7,4 7,4.5 6,5 6,6 5.5,7 4.5,7 4.5,8 3.5,8 2.5,8 2,9 1.5,9 0,8 -.5,10 -2.5,9 -3,8 -5,8 -5,6 -5,5 -5.5,4 -15.5,9.5 -4,3.5 -4,4.5 -6,8 -8,13.5 -2.5,3 -6.5,5 -.5,1 1,3 -3.5,3 -1,2 0,12 -.5,3 -1,2 -1.5,1.5 -1,0 -3,-2 -2,2.5 -2,1 -2,-1.5 -1.5,-3.5 -.5,-15.5 -1,-2 -2.5,-2.5 1,-3 -.5,-1 -8.5,-7 -10.5,-17 -7,-8.5 -6,-5 -14.5,-9.5 -6.5,-4.5 -6,-6.5 -5,-7 -4,-8 -3,-9 -2,-9 0,-9 .5,-8 1.5,-9 2.5,-9 3,-8 3.5,-8 5,-8 5,-7 5,-6 6,-5.5 6,-5 7,-4.5 7,-3.5 8,-3 10,-3 8,-1z"/>
<path fill="rgb(54,54,54)" fill-rule="evenodd" d="M693,98l7,.5 8,2 8,2.5 8,3 7,4 6,4 6,5.5 5.5,5 4.5,6 5,7 3.5,7 3,8 2.5,8 2,8 1,8 0,8 -.5,9 -2,8 -3,8 -4,8 -3.5,5 -5,5 -18,15 -7,8 -6,8.5 -9.5,17.5 -3,3 -6.5,5 -.5,1 1,3 -2.5,2 -1,2 -.5,13 -.5,4 -2,2 -1,0 -1,-1 -2,-2.5 -1.5,3.5 -2.5,1.5 -2,-1.5 -1.5,-4 0,-15 -1.5,-2 -1.5,-2 1,-3 -.5,-1 -6.5,-5 -3,-3 -10.5,-18 -8,-11.5 -6,-6 -11,-8.5 -5.5,-5 -5,-6 -4.5,-7 -4,-8 -2.5,-8 -1.5,-9 0,-9 .5,-8 1.5,-8 2,-8 3,-8 3,-7 4,-7 4.5,-6 5,-6 5.5,-5.5 6,-4.5 6,-4 7,-3.5 8,-3 9,-2.5 7,-1.5z"/>
<path fill="rgb(57,57,57)" fill-rule="evenodd" d="M693,100l7,1 7,1.5 8,2.5 7,3 6,3 6,4 5.5,4.5 5,5 5,6 4,6 3.5,7 3,7 2,7 2,8 .5,8 .5,7 -1,9 -1.5,8 -3,8 -3.5,7 -7,9.5 -14,14 -6,7.5 -6,9.5 -12.5,23.5 -3,3 -6.5,5 -.5,1 1,3 -2.5,3 0,1 -.5,13 -1.5,4.5 -1,1 -1,0 -1,-1 -1,-2.5 -1,-2.5 -1.5,5.5 -1.5,2 -1,0 -1,-.5 -1,-1 -1,-3.5 -.5,-14 -.5,-2 -1.5,-3 .5,-2.5 0,-1.5 -6.5,-5 -3,-3 -13.5,-24.5 -6,-9.5 -5,-6 -14.5,-15 -4.5,-6 -3.5,-6 -3.5,-8 -2.5,-8 -1,-8 -.5,-9 .5,-7 1.5,-8 1.5,-7 3,-8 3.5,-7 3.5,-6 4.5,-6 4,-5 5.5,-5 5.5,-4 6,-4 7,-3 8,-3 7,-2 7,-1z"/>
<path fill="rgb(60,60,60)" fill-rule="evenodd" d="M693,102l6,.5 7,1.5 7,2.5 7,3 6,3 6,4 5,4 5,5 4,5 4,6 3.5,6 2.5,6 2,7 1.5,7 .5,7 .5,7 -1,8 -1.5,8 -2,7 -3,7 -6,9 -12,14 -5,7 -20.5,40 -2.5,3 -7,5 0,1 .5,3 -2,4 0,12 -.5,3 -1,2 -1,1 -1,0 -1,-1 -.5,-2 -1,-5 -.5,-9.5 -.5,13.5 -1,4 -1.5,1.5 -1,.5 -1,-.5 -1,-1.5 -1,-3 -.5,-14 -.5,-3 -.5,-2 0,-3 -.5,-1.5 -6,-4.5 -3.5,-4 -19.5,-38 -5,-7.5 -13,-15.5 -3,-5 -3,-6 -3,-7 -2,-8 -1,-8 -.5,-8 .5,-7 1.5,-7 1.5,-6 2.5,-7 2.5,-6 3.5,-6 4,-5 4.5,-5.5 5,-4.5 5,-3.5 6,-4 6,-3 7,-2.5 7,-2 7,-1z"/>
<path fill="rgb(62,62,62)" fill-rule="evenodd" d="M693,104l6,.5 6,1.5 7,2 6,2.5 11,6.5 5,4 5,4.5 4,5 3.5,5 3.5,6 2.5,6 3,12 1,13 -.5,8 -1.5,7 -2,7 -3.5,8 -4,7 -11,14.5 -4,6.5 -4,8 -8.5,21 -8,16 -2,3 -7.5,5 -.5,1 .5,4 -2,5 0,11 -.5,4 -1.5,1.5 -1,0 -1.5,-2.5 -.5,-6 0,-8 -1,-1.5 -.5,1.5 0,9 -.5,6 -1,2 -2,1.5 -1,-.5 -1,-1 -.5,-3 -.5,-14 -1.5,-5 .5,-4 -1,-1 -6.5,-5 -3,-4 -7,-15 -12.5,-28.5 -4,-6.5 -11,-15 -4.5,-8 -3.5,-8 -2,-8 -1,-8 -.5,-8 .5,-6 1,-7 4,-12 5.5,-11 4,-5 4.5,-5 4.5,-4 5,-4 5.5,-3 6,-3 6,-2.5 7,-1.5 6,-1z"/>
<path fill="rgb(65,65,65)" fill-rule="evenodd" d="M693,106l6,.5 6,1 12,4.5 6,3.5 5,3 9,8 7,9 2.5,5 3,6 1.5,6 1.5,6 .5,12 -.5,7 -1,6 -2,7 -2.5,6 -4,7 -10,14.5 -4,7.5 -3,7 -8,24 -8.5,18 -3,4 -6.5,4.5 -1,1.5 .5,4 -1.5,4 0,12 -1,4 -1,1 -1,0 -1,-2 -.5,-4 0,-10 -1.5,-2.5 -.5,2.5 -.5,14 -1,3 -2,1 -1.5,-1 -1,-3 -.5,-14 -1,-5 0,-4 -1,-2 -6,-4 -3,-5 -8,-18 -11,-29.5 -4,-7.5 -10,-15 -4.5,-8 -2.5,-7 -2,-7 -1,-7 0,-7 1,-12 3.5,-11 3,-6 3,-5 7.5,-9 9,-7.5 11,-6 6,-2 7,-2 6,-1z"/>
<path fill="rgb(68,68,68)" fill-rule="evenodd" d="M693,107.5l5,.5 6,1 11,4 10,5.5 5,4 4.5,4 7,9 5,10 3,11 .5,6 0,6 -1,10 -3,10 -4,9 -10,15 -4,7.5 -3,8.5 -6.5,23 -6,15 -5,10 -2.5,2.5 -5,3.5 -1,1.5 0,4.5 -1,5 0,10 -1,4.5 -1,1 -1,0 -1,-2.5 -.5,-13 -.5,-1.5 -1,-1.5 -1,2 0,15 -1.5,3 -1.5,1 -1.5,-1 -1,-3 -.5,-14 -.5,-5 -.5,-5 -1,-1 -6,-5 -3,-5 -5.5,-12 -2.5,-8 -7,-22.5 -3,-9 -4,-7.5 -9.5,-15 -4,-8 -2,-6 -1.5,-6 -1,-7 0,-6 1,-11 3.5,-11 5.5,-10 7,-8.5 9,-7 11,-6 12,-3.5z"/>
<path fill="rgb(71,71,71)" fill-rule="evenodd" d="M693,109l5,.5 6,1.5 11,4 10,5.5 8,7 6,8 5,10 3,10 .5,11 -1.5,11 -3,10 -4,8 -9.5,15 -3.5,7 -2,6.5 -5.5,24.5 -5.5,16 -6,12 -1.5,2 -5.5,3.5 -1,1.5 -.5,2 .5,3 -1.5,5 0,10 -.5,4 -1,1.5 -1,-.5 -.5,-2 -.5,-13 -1,-2.5 -1,-1 -1,2.5 -.5,15 -1,3 -1.5,1 -1,-1 -1.5,-3 -.5,-15 -.5,-4 -.5,-5.5 -1,-1 -4.5,-3.5 -2,-3 -6.5,-14 -4.5,-13 -5.5,-23 -3,-9.5 -3,-6.5 -10,-16 -4.5,-10 -2.5,-10 -.5,-10 1.5,-11 3,-10 5.5,-9 6.5,-8 9,-7 10,-5 11,-3.5z"/>
<path fill="rgb(74,74,74)" fill-rule="evenodd" d="M693,110.5l10,1.5 11,4 9.5,5.5 7.5,7 6.5,8 4.5,9 2.5,10 .5,10 -1,10 -3,9 -4,8 -9,14 -3.5,9 -2.5,9 -4,22 -5,16 -4.5,10 -2,4 -2.5,2.5 -4,3 -1,1.5 -.5,2 0,3 -1,5 -.5,13 -1,2 -1,-.5 -.5,-1.5 -.5,-13 -.5,-2 -1.5,-2.5 -1,3.5 -.5,15 -.5,2 -2,1.5 -1,-.5 -.5,-1 -1,-3 0,-14 -1.5,-10 -4.5,-4 -2.5,-3 -6.5,-14 -4.5,-16 -5,-24 -1.5,-7 -3.5,-7 -9,-15 -4.5,-9 -3,-10 -.5,-11 1,-10 3.5,-10 4.5,-8.5 6.5,-7.5 8.5,-6.5 10,-5.5 10,-3 5,-.5z"/>
<path fill="rgb(76,76,76)" fill-rule="evenodd" d="M693,112l9,1.5 10,3.5 9,5 8,6.5 5.5,7 5,9 2.5,9 1,10 -1.5,10 -2.5,9 -4,7.5 -9,14.5 -3,7.5 -2,8 -3.5,24.5 -2,8 -3,9 -6,14 -2.5,3 -5,4 -1,3 .5,3 -1,5 0,10 -.5,3 -1,1.5 -1,-.5 -.5,-2 0,-12 -2,-5 .5,-3 -1,-1 -.5,1 .5,3 -1,4 -.5,14 -1,3 -1.5,1.5 -1,-.5 -.5,-1 -1,-3 0,-14 -1,-10 -1.5,-1.5 -3,-2.5 -2.5,-3 -6.5,-15 -4.5,-16 -3.5,-24 -2,-8 -3,-8 -9.5,-15 -4,-8 -2.5,-10 -1,-10 1.5,-10 3,-9 4.5,-8 6,-7 8,-6.5 10,-5 10,-3z"/>
<path fill="rgb(79,79,79)" fill-rule="evenodd" d="M693,113.5l9,1.5 9,3 9,5 7.5,6.5 6.5,8 4,8 2,9 1,9 -1.5,9 -2.5,8 -3.5,7 -8.5,14 -3.5,8 -1.5,8 -3.5,27 -2,9 -2.5,8 -6,14 -2.5,3 -4.5,3.5 -1,2 0,4.5 -1,5 0,10 -1,4 -1,-.5 0,-1.5 -.5,-12 -1.5,-5 0,-3.5 -1,-1 -.5,1.5 0,3 -.5,4 -.5,14 -1,3 -1.5,1 -1.5,-1 -1,-3 -.5,-23 -1,-1.5 -4.5,-4.5 -2,-3 -6,-14 -4,-16 -3.5,-26 -1.5,-9 -3.5,-7.5 -8.5,-14.5 -4,-8 -2.5,-9 -1,-10 1.5,-9 3,-9 4.5,-8 6,-7 8,-6 9,-4.5 9,-2.5z"/>
<path fill="rgb(82,82,82)" fill-rule="evenodd" d="M693,115l9,1.5 9,3 8.5,5 7,6 5.5,7 4,8 2,8 1,9 -1,8 -2.5,8 -3.5,7 -9,14.5 -3,7.5 -1.5,9 -2,24 -2.5,12 -3,10 -4.5,11 -2.5,4 -5,4 -1,2 0,5 -1,5 0,9 -.5,4 -1,0 -.5,-1 -.5,-13 -1,-4 0,-4 -1.5,-1 -.5,1 -1,22 -1,3 -1.5,1 -1,-1 -1,-3 -1,-21 -.5,-3 -1.5,-2 -3,-3 -2.5,-4 -5,-12 -3,-10 -2,-11 -2,-24 -1.5,-9 -3.5,-8 -8.5,-14 -3.5,-7 -2.5,-9 -1,-9 1.5,-9 2.5,-8 4.5,-8 5.5,-6.5 7,-5.5 9,-5 9,-2.5z"/>
<path fill="rgb(85,85,85)" fill-rule="evenodd" d="M693,116.5l8,1 9,3 8,5 7,6 5.5,7 3.5,7 2.5,8 .5,8 -1,8 -2.5,8 -3.5,7 -8,13 -3,8 -1.5,9 -2.5,29 -1.5,9 -2.5,9 -3.5,9 -2.5,5 -2.5,3 -3.5,3 -1,2 -.5,6 -.5,4 -.5,9 -.5,3.5 -1,-1.5 0,-11 -1.5,-5 0,-4 -1.5,-1.5 -1,1 -.5,21.5 -.5,3 -1,1 -1,1 -1,-1 -1,-3 -1,-23 -1,-2.5 -4.5,-4.5 -2,-4 -4.5,-12 -2.5,-9 -2,-12 -2,-25 -1.5,-9 -3,-7.5 -8.5,-14.5 -3.5,-7 -2,-8 -1,-9 1,-8 2.5,-8 4,-7 6,-7 7.5,-5.5 8,-4.5 9,-2.5z"/>
<path fill="rgb(88,88,88)" fill-rule="evenodd" d="M693,117.5l8,1.5 8,3 8,4.5 6.5,5 5.5,7 3.5,7 2,8 .5,8 -1,8 -2.5,7 -3,6 -8,14 -3,8 -1.5,9 -1.5,28 -1.5,10 -2.5,9 -5.5,14 -2,3 -4,3.5 -1,2.5 -.5,6 -1,4 -.5,11.5 -1,-2 0,-9.5 -1,-5 0,-4 -1,-1 -1,-.5 -1,.5 -.5,10 -.5,13 -.5,2 -1.5,1.5 -1,-.5 -1,-3 -1,-23 -1,-2.5 -4,-4.5 -2,-4 -4,-11 -3,-11 -2,-14 -1.5,-25 -1,-8 -3.5,-8 -7.5,-13 -3.5,-7 -2.5,-8 -.5,-9 1,-8 2.5,-7 4,-7 5.5,-6.5 7,-5 8,-4.5 8,-2z"/>
<path fill="rgb(91,91,91)" fill-rule="evenodd" d="M693,119l7,1 8,2.5 8,5 6.5,5 4.5,6 3.5,7 2,7 1,8 -1,7 -2,7 -3.5,7 -8,13 -3,8.5 -1,8.5 -.5,20 -.5,10 -1.5,9 -2.5,10 -5.5,14 -2,3 -3.5,3 -1.5,3 0,6 -1,4 -.5,9.5 0,-3.5 0,-5 -1.5,-5 -.5,-5 -1,-1.5 -.5,-.5 -1.5,1 -.5,10 -.5,13 -.5,2 -1.5,1.5 -1,-.5 -.5,-1 -.5,-3 -1,-22.5 -1,-2.5 -4,-5 -2,-4 -4,-11 -2.5,-10 -1.5,-13 -1,-25 -1.5,-10 -3,-8 -7.5,-13 -3.5,-7 -2,-8 -1,-8 1.5,-8 2,-7 4,-6.5 5,-6 7,-5 8,-4.5 8,-2z"/>
<path fill="rgb(93,93,93)" fill-rule="evenodd" d="M693,120l7,1 8,3 7,4.5 6.5,5 4.5,6 3.5,7 1.5,7 .5,7 -1,7 -1.5,6 -3,6 -8,13.5 -2,4.5 -1,4 -1,9 -.5,20 -.5,10 -1,10 -2,9 -3,9 -3,6 -2,3 -3,3 -1,2 -1,3 0,4 -1,3 -1,-1 -.5,-2 0,-4 -.5,-2 -2,-1 -1,.5 -1,10.5 0,13 -.5,2 -1.5,1.5 -1,-.5 -.5,-1 -.5,-3 -1,-23 -1,-2.5 -3.5,-4.5 -2,-4 -4,-11 -2.5,-11 -1.5,-12 -.5,-26 -1,-10 -3,-8 -8,-14 -3,-6 -2,-7 -.5,-8 .5,-7 2.5,-7 3.5,-6.5 5,-6 6,-4.5 8,-4.5 8,-2.5z"/>
<path fill="rgb(96,96,96)" fill-rule="evenodd" d="M693,121.5l7,1 7,2.5 6.5,3.5 6,5 4.5,6 3.5,6 2,7 .5,7 -1,7 -1.5,6 -3,6 -7.5,13 -2,4 -1.5,5 -1,9 .5,21 -.5,10 -1.5,10 -2,10 -5,14 -2,3 -3,2.5 -1.5,2.5 -.5,3 0,3 -1,3.5 -1,-1 -.5,-1.5 0,-4 -.5,-2 -2,-1.5 -1,1 -1,9.5 0,14 -.5,2 -1.5,1 -1,-1 -1,-3 -1,-23.5 -1,-2 -3.5,-4.5 -1.5,-4 -4,-12 -2.5,-10 -1.5,-13 .5,-27 -1.5,-9 -3,-8.5 -7.5,-13.5 -3,-6 -2,-7 -.5,-8 1,-7 2.5,-7 3.5,-6 4.5,-5 6.5,-5 7,-3.5 7,-2z"/>
<path fill="rgb(99,99,99)" fill-rule="evenodd" d="M693,122.5l6,1 7,2.5 6.5,3.5 6,5 4.5,6 3,6 2,6 .5,7 -1,6 -1.5,6 -3,6 -8,14 -2.5,8 -1,9 .5,21 0,10 -1,10 -2.5,10 -4.5,14 -1.5,3 -3.5,3.5 -1.5,2.5 -.5,2 0,4 -1,2.5 -1,-.5 0,-1 0,-4 -.5,-2 -2.5,-1.5 -1,.5 -.5,2 -.5,22 -1,2 -1,1 -1,-1 -1,-3 0,-12 -1,-11.5 -1,-2.5 -3,-4 -2,-5 -3.5,-11 -2.5,-11 -1,-15 .5,-26 -1,-9 -3,-8 -7.5,-13 -3,-6 -2,-7 -.5,-7 1,-7 2,-6 3.5,-6 5,-5.5 6,-4.5 7,-3.5 7,-2z"/>
<path fill="rgb(102,102,102)" fill-rule="evenodd" d="M692,124l6,.5 7,2.5 6.5,3.5 5.5,5 4.5,5 3,6 1.5,6 1,6 -1,6 -1.5,6 -3,6 -7.5,13.5 -2.5,8.5 -1,9 1,22 0,10 -1.5,11 -2,10 -4.5,13 -1.5,3 -4,4.5 -1,2.5 -1,7 -1,-1 0,-4 -.5,-2 -1.5,-1.5 -1,-.5 -1,1 -.5,2 -.5,21 -1,3 -1,1 -1,-1 -1,-3 -.5,-21 -.5,-3 -1,-2.5 -3,-4.5 -2,-5 -3.5,-10 -2,-11 -1,-13 1,-27 -1,-10 -1,-5 -2,-4 -7,-13 -3,-6 -2,-7 -.5,-6 1,-6 2,-6 3,-6 4.5,-5 5.5,-4.5 6,-3.5 7,-2z"/>
<path fill="rgb(105,105,105)" fill-rule="evenodd" d="M692,125l6,1 6,2 6,3 5.5,4.5 4.5,5 3,6 1.5,6 .5,6 -.5,6 -2,6 -2,5 -7.5,13 -1.5,5 -1.5,4.5 -.5,9.5 1,20 0,11 -.5,10 -2,11 -4.5,14 -2,3 -3.5,4.5 -1,2.5 -1,2 0,4.5 -1,-1.5 1,-3 -2,-3 -2,-1 -1,1 -.5,3 -.5,20 -1,3 -1,1 -1,-1 -.5,-3 -.5,-12 -.5,-12 -1.5,-2.5 -3.5,-5.5 -1.5,-5 -3,-10 -2,-11 -1,-13 1.5,-27 -1,-10 -2.5,-8 -7.5,-14 -2.5,-6 -1.5,-6 -.5,-6 .5,-6 2,-6 2.5,-5 4.5,-5 5.5,-4.5 6,-3.5 6,-2z"/>
<path fill="rgb(107,107,107)" fill-rule="evenodd" d="M692,126.5l6,.5 6,2 6,3.5 4.5,4 4.5,5 2.5,5 1.5,6 .5,6 -.5,5 -1.5,6 -2.5,5 -7.5,14 -1.5,4 -1,5 -.5,9 1.5,21 0,10 -.5,11 -2,11 -4.5,14 -5,7 -2,4 -1,-.5 -2,-2.5 -1,0 -1,.5 -1,3.5 0,20 -1,2.5 -1,1 -1,-.5 -.5,-3 -.5,-12.5 -.5,-11.5 -1.5,-3 -3,-5 -2,-6 -2.5,-9 -2,-11 -.5,-14 1.5,-27 -.5,-10 -3,-8 -7,-14 -2.5,-5 -1.5,-6 -.5,-6 .5,-6 2,-6 3,-5 4,-5 5,-4 6,-3 5,-1.5z"/>
<path fill="rgb(110,110,110)" fill-rule="evenodd" d="M692,127.5l5,.5 6,2 6,3.5 5,4 3.5,5 2.5,5 1.5,5 .5,6 -.5,5 -1.5,5 -2,5 -7.5,14 -1.5,4 -1,5 -.5,9 2,21 0,11 -.5,11 -2.5,12 -4,13 -6.5,10.5 -1,-.5 -1.5,-2 -1.5,-.5 -1,.5 -1,4 -.5,20 -.5,2.5 -1,1 -1,-.5 -.5,-3 -.5,-21 -.5,-3 -1.5,-3 -2.5,-5 -2.5,-7 -2.5,-9 -1.5,-11 -.5,-16 2,-26 -.5,-9 -3,-8.5 -7,-13.5 -2,-5 -1.5,-6 -.5,-5 .5,-6 1.5,-5 3,-5 4,-5 5,-4 5,-2.5 6,-2z"/>
<path fill="rgb(113,113,113)" fill-rule="evenodd" d="M692,129l6,.5 5,2 5.5,3 4.5,4 3,4 2.5,5 1.5,5 .5,6 -.5,5 -1.5,5 -9.5,19 -1.5,4 -1,5 0,9 2,20 .5,11 -.5,11 -2,12 -3.5,13 -7,11 -4,-2.5 -1,.5 -.5,1 -.5,3 -.5,20 -.5,2 -1,1.5 -1,-.5 -.5,-3 -.5,-21 -.5,-3 -1.5,-3.5 -2.5,-4.5 -2.5,-8 -2,-9 -1.5,-10 -.5,-14 2.5,-27 -.5,-10 -1,-4 -1.5,-5 -7,-13 -2.5,-6 -1.5,-6 0,-5 .5,-5 1.5,-5 3,-5 3.5,-4 5,-4 5,-2.5 5,-1.5z"/>
<path fill="rgb(116,116,116)" fill-rule="evenodd" d="M692,130l5,.5 6,2 4.5,3 4.5,4 3,4 2.5,5 1.5,5 0,5 -.5,4 -1,5 -9.5,19 -1.5,5 -1,4 0,9 2.5,21 .5,11 -.5,12 -2,12 -3.5,12 -6.5,10.5 -4,-2 -1,0 -.5,1.5 -.5,3 -.5,20 -.5,2 -1,1 -1,-.5 -.5,-2.5 -.5,-23 -1,-2.5 -3,-6.5 -2.5,-7 -2,-9 -1.5,-11 -.5,-14 3,-28 0,-10 -3,-9 -6.5,-13 -2.5,-5 -1.5,-6 0,-5 .5,-5 2,-5 2,-4 3.5,-4 4,-3.5 5,-3 5,-1.5z"/>
<path fill="rgb(120,120,120)" fill-rule="evenodd" d="M692,132l5,.5 4,1.5 4,2 4.5,3.5 3,4 2.5,4 1.5,5 .5,5 -.5,4 -1,5 -2,5 -7.5,14.5 -1.5,4.5 -.5,5 0,8 2.5,20 1,11 0,12 -2,13 -3,12 -2,4 -4.5,7 -1,0 -3,-2 -1,.5 -.5,1.5 -.5,3 -1,21.5 -1,1.5 -1,-.5 -.5,-2.5 -.5,-23 -1,-3 -3,-7 -2.5,-7 -1.5,-9 -1.5,-10 0,-16 3.5,-27 0,-9 -.5,-4 -2,-5 -7,-14 -2,-5 -1,-5 -.5,-5 1,-5 1,-4 2.5,-4 3,-4 3.5,-3 5,-3 4,-1z"/>
<path fill="rgb(126,126,126)" fill-rule="evenodd" d="M692,135l4,.5 4,1 4,2.5 3,3 3,3.5 2,4 1,4 .5,4 -.5,4 -1,5 -9,19 -1.5,5 -.5,4 0,8 4,19 1.5,12 0,13 -1.5,14 -1.5,6 -2,6 -5.5,9.5 -1,0 -3,-2 -1,.5 -1,2 -.5,11 0,11 -.5,2 -1,1.5 -1,-.5 0,-3 -1,-22 -1,-4 -3.5,-8 -2,-7 -1,-7 -1,-11 0,-9 .5,-8 5,-26 0,-9 -.5,-4 -2,-5 -8.5,-18 -1,-5 -.5,-5 .5,-4 1.5,-4 2,-4 2.5,-3 3.5,-3 3.5,-2 4,-1.5z"/>
<path fill="rgb(133,133,133)" fill-rule="evenodd" d="M692,138l4,.5 3,1.5 3,1.5 3,3 2.5,3 1.5,3 .5,3 .5,4 -.5,4 -1,5 -10,20 -1.5,7 .5,6 5,18 2,13 1,14 -1,15 -2.5,11 -5,9.5 -1,1.5 -1,-.5 -3,-1 -1,0 -1,2 -.5,3.5 -.5,19 -1,3 -1,-1 0,-2 -1,-22 -1,-4.5 -2.5,-6.5 -2,-7 -1,-8 -1,-12 .5,-10 1,-9 2,-10 4.5,-16 .5,-7 -2,-7 -9.5,-19 -1,-5 -.5,-5 .5,-4 1,-3 1.5,-3 2.5,-3 2.5,-2 3,-2 3,-1z"/>
<path fill="rgb(139,139,139)" fill-rule="evenodd" d="M692,141.5l5,1.5 3,1.5 2,2 3.5,5 1,6 -1,7 -3.5,7.5 -6,9 -2,2 -2,1 -2,-.5 -2,-2 -6,-9 -3.5,-8 -1,-7 1.5,-6 1,-3 2,-2.5 2,-1.5 3,-2zM692,203.5l2,1 3,4.5 2.5,5.5 2,7 2.5,14 .5,16 -1.5,13 -3,9 -4,7 -1,0 -3,-1 -1,.5 -1,1.5 -.5,4 -.5,18 -1,3.5 -1,-1 -.5,-23.5 -1.5,-5.5 -3.5,-9.5 -1,-7 -1,-9 0,-10 1.5,-14 3,-12 4,-9 2,-2.5z"/>
<path fill="rgb(145,145,145)" fill-rule="evenodd" d="M692,146l4,1 3.5,2.5 2,4 1,5 -1,5 -2.5,5.5 -3.5,4.5 -3.5,1.5 -3,-1 -4,-4.5 -2.5,-6 -1,-5 1,-5 2,-4 3.5,-2.5zM692,210.5l2,.5 3,3.5 2,5 1.5,5 2.5,14 .5,16 -.5,8 -1.5,6 -1.5,4 -4,7.5 -1,0 -3,-1 -1,.5 -1,2 -.5,3 -.5,19 -1,3 -1,-2 -.5,-22 -1.5,-6.5 -3,-9.5 -1.5,-6 0,-15 1,-13 2.5,-11 2,-5 2,-3.5 2,-2z"/>
<path fill="rgb(152,152,152)" fill-rule="evenodd" d="M692,153l2,.5 1,1 1,2 .5,2 -.5,3 -.5,2 -1.5,1.5 -2,1 -2,-1 -1,-1.5 -1,-2 -.5,-3 .5,-2 1,-2 1,-1zM692,215.5l2,1 2,2 2,4 2,6 2.5,14 .5,14 -1.5,11 -1.5,5 -4,7 -1,.5 -3,-1 -1,0 -1,2.5 -1,3 -1,21.5 -.5,-3.5 -.5,-19 -1.5,-8 -2.5,-6 -1.5,-6 -.5,-7 0,-8 1.5,-13 2.5,-11 3,-6.5 2,-2z"/>
<path fill="rgb(158,158,158)" fill-rule="evenodd" d="M692,220l2,1 2,2.5 2,4 2,5 2.5,13 0,12 -.5,6 -1,5 -5,10.5 -1,.5 -3,-1 -1,0 -1.5,3 -.5,4 -1,19.5 -1,-21.5 -1.5,-8 -2,-6 -1.5,-6 -.5,-6 0,-7 1,-11 2.5,-10.5 3,-6 2,-2z"/>
<path fill="rgb(164,164,164)" fill-rule="evenodd" d="M692,224.5l2,1 2,2 3.5,8 2.5,11 .5,11 -1,6 -1,5 -4.5,10 -1,.5 -3,-1 -1,.5 -1,1 -.5,2 -1,4 -.5,17 0,-9 -1,-4 0,-6 -1,-8 -3.5,-11 -.5,-6 0,-7 1,-10 2.5,-9 1.5,-4 2,-2.5 1,-1z"/>
<path fill="rgb(171,171,171)" fill-rule="evenodd" d="M692,228l2,1 2,2 3.5,7.5 2,10 .5,11 -2,10 -4,8 -1,.5 -4,0 -1,1 -1.5,5.5 -.5,7 -.5,-3 0,-3 -1.5,-10 -2,-7 -1.5,-5 -.5,-11 1.5,-9 2,-8 1.5,-3.5 2,-2.5 2,-1.5z"/>
<path fill="rgb(177,177,177)" fill-rule="evenodd" d="M692,231l2,.5 2,2.5 3,6.5 2,9 .5,10 -1.5,9 -4,8.5 -1,.5 -4,0 -1,1 -1.5,5 -.5,6.5 0,-5.5 -1,-4 -.5,-6 -2.5,-6 -1,-5 -.5,-5 0,-6 1,-8 2.5,-7.5 3,-5 2,-1z"/>
<path fill="rgb(184,184,184)" fill-rule="evenodd" d="M692,233l2,1 2,2 3,6.5 2,8 0,10 -1.5,8 -3.5,7.5 -1,1 -3,0 -1.5,.5 -.5,1 -2,5.5 -1,-3.5 -.5,-6 -3,-10 -1,-6 .5,-6 1,-7 2,-6.5 3,-4.5z"/>
<path fill="rgb(190,190,190)" fill-rule="evenodd" d="M692,235l2,.5 2,2 3,6 1.5,8 .5,9 -1.5,7 -2.5,6 -2,3 -4,.5 -1,.5 -2,5.5 -1,-2.5 0,-6 -2.5,-6 -1,-5 -.5,-5 0,-6 1.5,-7 2,-6 2.5,-3.5z"/>
<path fill="rgb(196,196,196)" fill-rule="evenodd" d="M692,236.5l2,.5 2,2 3,5.5 1.5,8 0,8 -1,7 -2.5,5.5 -2,3 -4,.5 -1,.5 -2,5 -1,-2.5 0,-5 -2,-6 -1,-5 -.5,-10 1,-7 2,-5 2.5,-4z"/>
<path fill="rgb(203,203,203)" fill-rule="evenodd" d="M692,237.5l3,1.5 2,2.5 1.5,3 1.5,7 .5,9 -1,6 -2.5,6 -2,3 -5,1 -2,5 -.5,-3 0,-4 -2.5,-7 -1,-4 -.5,-5 0,-5 1.5,-7 2,-5 2,-3 1,-.5z"/>
<path fill="rgb(209,209,209)" fill-rule="evenodd" d="M692,238.5l3,1.5 2,2.5 1,3 2,8 0,8 -1.5,7 -2.5,5 -2,2 -4,.5 -.5,.5 -1.5,4 -.5,-2 .5,-4 -2.5,-6 -1,-5 -.5,-5 0,-5 1,-6 2,-5 2,-2.5 1,-1z"/>
<path fill="rgb(215,215,215)" fill-rule="evenodd" d="M692,239.5l3,1.5 2,2.5 1,3 1.5,7 .5,8 -1.5,6 -2.5,5.5 -2,2 -4,.5 -1,.5 -1,-1 -3,-9.5 -1,-6 0,-5 1,-6 2,-5 2,-3 1,-.5zM688,276.5l.5,1 -.5,2z"/>
<path fill="rgb(222,222,222)" fill-rule="evenodd" d="M692,240.5l2,.5 1,1 3,4.5 1.5,7 0,8 -1,6 -2.5,5 -1,1.5 -2,1 -4,0 -2.5,-4.5 -1.5,-5 -.5,-5 0,-6 1,-6 1.5,-4 2,-3 1,-.5z"/>
<path fill="rgb(228,228,228)" fill-rule="evenodd" d="M692,241l2,1 1,1 2.5,3.5 1.5,6 .5,7 -1,7 -2,5 -2.5,2.5 -3,.5 -2,-.5 -2.5,-4.5 -1.5,-6 -.5,-6 1,-7 1.5,-5 2,-3 2,-1.5z"/>
<path fill="rgb(235,235,235)" fill-rule="evenodd" d="M692,242l2,.5 1,1 2,3.5 2,5.5 .5,6 -1,6 -1.5,5 -2,3.5 -1,.5 -2,1 -3,-1 -2,-3 -1.5,-5 -1,-7 1,-7 1.5,-5 2,-3.5 1,-.5z"/>
<path fill="rgb(241,241,241)" fill-rule="evenodd" d="M692,242.5l2,1 1,1 2,3.5 1.5,5.5 .5,5 -.5,5 -1.5,5.5 -2,3.5 -1,1 -2,.5 -3,-1 -2,-3 -1.5,-4.5 -.5,-7 .5,-7 1.5,-4.5 2,-3 1,-1z"/>
<path fill="rgb(247,247,247)" fill-rule="evenodd" d="M692,243l2,1 1,1 2,3.5 1.5,5 0,10 -1.5,5 -2,3.5 -1,1 -2,.5 -2.5,-1 -2.5,-3 -1,-4 -1,-7 1,-7 1,-4 2,-3 1.5,-1z"/>
<path fill="rgb(254,254,254)" fill-rule="evenodd" d="M692,244l2,.5 1,1 1.5,3 .5,1 .5,3 .5,1 0,10 -.5,1 -.5,3 -.5,1 -.5,1 -2.5,3 -3.5,0 -2,-2 0,-1 -1,-1 0,-2 -1,-1 0,-14 1,-1 0,-2 1,-1 0,-1 2,-2z"/>
</g>
<path d="M688.1,269.7 l7.2,0 l0.6,46 l-7.2,0z" fill="#050508"/>
</g>
<path d="M587.6,39.6v-2.8M587.6,375.6v2.8M593.8,39.6v-2.8M593.8,375.6v2.8M599.9,39.6v-5.2M599.9,375.6v5.2M606,39.6v-2.8M606,375.6v2.8M612.2,39.6v-2.8M612.2,375.6v2.8M618.3,39.6v-2.8M618.3,375.6v2.8M624.5,39.6v-2.8M624.5,375.6v2.8M630.6,39.6v-5.2M630.6,375.6v5.2M636.7,39.6v-2.8M636.7,375.6v2.8M642.9,39.6v-2.8M642.9,375.6v2.8M649,39.6v-2.8M649,375.6v2.8M655.2,39.6v-2.8M655.2,375.6v2.8M661.3,39.6v-5.2M661.3,375.6v5.2M667.4,39.6v-2.8M667.4,375.6v2.8M673.6,39.6v-2.8M673.6,375.6v2.8M679.7,39.6v-2.8M679.7,375.6v2.8M685.9,39.6v-2.8M685.9,375.6v2.8M692,39.6v-5.2M692,375.6v5.2M698.1,39.6v-2.8M698.1,375.6v2.8M704.3,39.6v-2.8M704.3,375.6v2.8M710.4,39.6v-2.8M710.4,375.6v2.8M716.6,39.6v-2.8M716.6,375.6v2.8M722.7,39.6v-5.2M722.7,375.6v5.2M728.8,39.6v-2.8M728.8,375.6v2.8M735,39.6v-2.8M735,375.6v2.8M741.1,39.6v-2.8M741.1,375.6v2.8M747.3,39.6v-2.8M747.3,375.6v2.8M753.4,39.6v-5.2M753.4,375.6v5.2M759.5,39.6v-2.8M759.5,375.6v2.8M765.7,39.6v-2.8M765.7,375.6v2.8M771.8,39.6v-2.8M771.8,375.6v2.8M778,39.6v-2.8M778,375.6v2.8M784.1,39.6v-5.2M784.1,375.6v5.2M790.2,39.6v-2.8M790.2,375.6v2.8M796.4,39.6v-2.8M796.4,375.6v2.8M581.2,372.1h-2.8M802.2,372.1h2.8M581.2,366h-2.8M802.2,366h2.8M581.2,359.9h-2.8M802.2,359.9h2.8M581.2,353.7h-5.2M802.2,353.7h5.2M581.2,347.6h-2.8M802.2,347.6h2.8M581.2,341.5h-2.8M802.2,341.5h2.8M581.2,335.3h-2.8M802.2,335.3h2.8M581.2,329.2h-2.8M802.2,329.2h2.8M581.2,323.1h-2.8M802.2,323.1h2.8M581.2,316.9h-2.8M802.2,316.9h2.8M581.2,310.8h-2.8M802.2,310.8h2.8M581.2,304.7h-2.8M802.2,304.7h2.8M581.2,298.5h-2.8M802.2,298.5h2.8M581.2,292.4h-5.2M802.2,292.4h5.2M581.2,286.3h-2.8M802.2,286.3h2.8M581.2,280.1h-2.8M802.2,280.1h2.8M581.2,274h-2.8M802.2,274h2.8M581.2,267.9h-2.8M802.2,267.9h2.8M581.2,261.7h-2.8M802.2,261.7h2.8M581.2,255.6h-2.8M802.2,255.6h2.8M581.2,249.5h-2.8M802.2,249.5h2.8M581.2,243.3h-2.8M802.2,243.3h2.8M581.2,237.2h-2.8M802.2,237.2h2.8M581.2,231.1h-5.2M802.2,231.1h5.2M581.2,224.9h-2.8M802.2,224.9h2.8M581.2,218.8h-2.8M802.2,218.8h2.8M581.2,212.7h-2.8M802.2,212.7h2.8M581.2,206.6h-2.8M802.2,206.6h2.8M581.2,200.4h-2.8M802.2,200.4h2.8M581.2,194.3h-2.8M802.2,194.3h2.8M581.2,188.2h-2.8M802.2,188.2h2.8M581.2,182h-2.8M802.2,182h2.8M581.2,175.9h-2.8M802.2,175.9h2.8M581.2,169.8h-5.2M802.2,169.8h5.2M581.2,163.6h-2.8M802.2,163.6h2.8M581.2,157.5h-2.8M802.2,157.5h2.8M581.2,151.4h-2.8M802.2,151.4h2.8M581.2,145.2h-2.8M802.2,145.2h2.8M581.2,139.1h-2.8M802.2,139.1h2.8M581.2,133h-2.8M802.2,133h2.8M581.2,126.8h-2.8M802.2,126.8h2.8M581.2,120.7h-2.8M802.2,120.7h2.8M581.2,114.6h-2.8M802.2,114.6h2.8M581.2,108.4h-5.2M802.2,108.4h5.2M581.2,102.3h-2.8M802.2,102.3h2.8M581.2,96.2h-2.8M802.2,96.2h2.8M581.2,90h-2.8M802.2,90h2.8M581.2,83.9h-2.8M802.2,83.9h2.8M581.2,77.8h-2.8M802.2,77.8h2.8M581.2,71.6h-2.8M802.2,71.6h2.8M581.2,65.5h-2.8M802.2,65.5h2.8M581.2,59.4h-2.8M802.2,59.4h2.8M581.2,53.3h-2.8M802.2,53.3h2.8M581.2,47.1h-5.2M802.2,47.1h5.2M581.2,41h-2.8M802.2,41h2.8" stroke="#111" stroke-width="1.3" fill="none"/>
<g class="s">
<text x="599.1" y="33.3" font-size="16" text-anchor="middle" >-3</text>
<text x="599.1" y="394" font-size="16" text-anchor="middle" >-3</text>
<text x="629.8" y="33.3" font-size="16" text-anchor="middle" >-2</text>
<text x="629.8" y="394" font-size="16" text-anchor="middle" >-2</text>
<text x="660.5" y="33.3" font-size="16" text-anchor="middle" >-1</text>
<text x="660.5" y="394" font-size="16" text-anchor="middle" >-1</text>
<text x="692" y="33.3" font-size="16" text-anchor="middle" >0</text>
<text x="692" y="394" font-size="16" text-anchor="middle" >0</text>
<text x="722.7" y="33.3" font-size="16" text-anchor="middle" >1</text>
<text x="722.7" y="394" font-size="16" text-anchor="middle" >1</text>
<text x="753.4" y="33.3" font-size="16" text-anchor="middle" >2</text>
<text x="753.4" y="394" font-size="16" text-anchor="middle" >2</text>
<text x="784.1" y="33.3" font-size="16" text-anchor="middle" >3</text>
<text x="784.1" y="394" font-size="16" text-anchor="middle" >3</text>
<text x="575.2" y="53" font-size="15.5" text-anchor="end" >8</text>
<text x="808.2" y="53" font-size="15.5" >8</text>
<text x="575.2" y="114.3" font-size="15.5" text-anchor="end" >6</text>
<text x="808.2" y="114.3" font-size="15.5" >6</text>
<text x="575.2" y="175.7" font-size="15.5" text-anchor="end" >4</text>
<text x="808.2" y="175.7" font-size="15.5" >4</text>
<text x="575.2" y="237" font-size="15.5" text-anchor="end" >2</text>
<text x="808.2" y="237" font-size="15.5" >2</text>
<text x="575.2" y="298.3" font-size="15.5" text-anchor="end" >0</text>
<text x="808.2" y="298.3" font-size="15.5" >0</text>
<text x="575.2" y="359.6" font-size="15.5" text-anchor="end" >-2</text>
<text x="808.2" y="359.6" font-size="15.5" >-2</text>
</g>
<text x="690.5" y="421.6" font-size="24" font-weight="bold" text-anchor="middle" >q<tspan font-size="15.5" dy="5">XY</tspan><tspan dy="-5"> (nm</tspan><tspan font-size="14.5" dy="-8">-1</tspan><tspan dy="8">)</tspan></text>
<text x="548.6" y="197" font-size="24" font-weight="bold" text-anchor="middle" transform="rotate(-90 548.6 197)" >q<tspan font-size="15.5" dy="5">Z</tspan><tspan dy="-5"> (nm</tspan><tspan font-size="14.5" dy="-8">-1</tspan><tspan dy="8">)</tspan></text>
<g clip-path="url(#hc2)"><g filter="url(#cm)">
<rect x="873.2" y="32.1" width="236.9" height="351.9" fill="rgb(4,4,4)" />
<path fill="rgb(6,6,6)" fill-rule="evenodd" d="M875,34l233,0 0,255 -33,.5 -18,.5 -31,3 -4.5,1 -1.5,1 -.5,1 -3.5,23 -2.5,8 -3,7 -4,6 -4.5,4.5 -5,2.5 -5,1 -5,-.5 -5,-3 -4.5,-4.5 -4,-6 -3,-7 -2.5,-9 -3.5,-22 -.5,-1 -1.5,-1 -4.5,-1 -32,-3 -51,-1z"/>
<path fill="rgb(9,9,9)" fill-rule="evenodd" d="M875,34l233,0 0,253.5 -58,.5 -9.5,1 -19,3 -4,1 -2,1 -.5,1 -2.5,19 -2,7 -3,7 -3.5,5.5 -4,4 -4,2 -4,1 -5,-1 -4,-2.5 -3.5,-4 -3,-5 -3,-6 -2,-7 -1,-7 -1.5,-13 -.5,-1 -2,-1 -4,-1 -19.5,-3 -9,-1 -59,-.5z"/>
<path fill="rgb(12,12,12)" fill-rule="evenodd" d="M875,34l233,0 0,252.5 -46,0 -19,.5 -8.5,1 -18,4 -3,1 -1.5,1 -.5,1 -.5,10 -1,7 -1.5,6 -2.5,6 -3.5,5 -3.5,3.5 -3,2 -4,.5 -4,-.5 -4,-2.5 -3,-3 -3,-5 -2.5,-6 -1.5,-7 -1.5,-16 -2,-2 -3,-1 -18,-4 -8.5,-1 -19,-.5 -47,0z"/>
<path fill="rgb(15,15,15)" fill-rule="evenodd" d="M875,34l233,0 0,251.5 -52,0 -20,.5 -7,1 -4.5,2 -11.5,3 -2,1 -2,2 -.5,9 -.5,6 -1.5,6 -2.5,6 -3,4 -3,3 -3,1.5 -3,.5 -3,-.5 -3,-1.5 -3,-2.5 -3,-4.5 -2.5,-6 -1.5,-6 -1,-15 -2,-2 -2,-1 -11.5,-3 -4.5,-2 -7,-1 -20,-.5 -53,0z"/>
<path fill="rgb(18,18,18)" fill-rule="evenodd" d="M875,34l233,0 0,249.5 -70,1 -9,.5 -5.5,1 -3.5,3 -9.5,3 -3,2 -.5,2 -1,12 -1,5 -2,5 -2,3.5 -3,3.5 -3,2 -3,.5 -3,-.5 -3,-2 -3,-3 -2,-4 -2,-5 -1,-5 -1.5,-14 -3,-2 -9.5,-3 -3.5,-3 -5.5,-1 -10,-.5 -70,-1z"/>
<path fill="rgb(20,20,20)" fill-rule="evenodd" d="M875,34l233,0 0,243.5 -73,4 -8,1 -6,1.5 -3,2 -.5,2 -.5,1 -8.5,3 -3,2 -1,13 -2.5,8 -2,4 -3,3 -2,1.5 -3,.5 -3,-.5 -2,-1.5 -3,-2.5 -2,-3.5 -2.5,-9 -1,-13 -3,-2 -8.5,-3 -.5,-1 -.5,-2 -3,-2 -6,-1.5 -8,-1 -74,-4z"/>
<path fill="rgb(23,23,23)" fill-rule="evenodd" d="M875,34l233,0 0,237 -72,6 -7,1 -5,1.5 -9,5 -.5,1.5 .5,2 -1,1 -7.5,3 -2.5,2 -1,11 -2,8 -2,3.5 -2,2.5 -2,1 -3,1 -3,-.5 -2,-1.5 -1.5,-2 -2,-3 -2.5,-8 -1,-12 -2.5,-2 -7.5,-3 -1,-1 .5,-2 -1.5,-2 -9,-4.5 -5,-1.5 -7,-1.5 -72,-5.5z"/>
<path fill="rgb(26,26,26)" fill-rule="evenodd" d="M875,34l233,0 0,232 -36,4 -36,3 -6,1 -5,1.5 -12.5,8.5 -1,2 1,2 -.5,1 -7,3 -3,2 -.5,2 0,6 -.5,6 -2,6 -3,3 -6,.5 -3,-.5 -2.5,-4 -2,-8 0,-9 -1,-2 -2.5,-2 -7,-3 -.5,-1 1,-2 -1,-2 -9.5,-6.5 -4,-2 -4,-1.5 -6,-1 -37,-3 -36,-4z"/>
<path fill="rgb(29,29,29)" fill-rule="evenodd" d="M875,34l233,0 0,227 -35.5,5 -38,4 -5.5,1 -4,1.5 -4,2.5 -10.5,9 -1,2 1,2 -.5,1 -7,3 -2,2 -.5,2 -1,14 -1.5,4 -2,2 -1,0 -3,-1.5 -4,1.5 -2,-1.5 -1.5,-4.5 -1,-6 0,-8 -.5,-2 -2.5,-2 -6.5,-3 -.5,-1 1,-2 0,-1 -1,-1 -10.5,-8.5 -4,-2.5 -4,-1.5 -6,-1.5 -38,-4 -36,-5z"/>
<path fill="rgb(32,32,32)" fill-rule="evenodd" d="M977,52l18,-.5 18,1 18,3 17,4 17,6 15,6.5 15,9 13,9 0,165.5 -16.5,3.5 -17,3 -41.5,5.5 -5,1 -4,1.5 -4,3 -5.5,6 -6,5 -1,1 0,1 1,2 -.5,1 -6,3 -1.5,2 -.5,2 -.5,10 -.5,5 -1,2 -2,2 -2,-.5 -2,-3 -3,3 -2,0 -1,-1 -1.5,-4.5 -.5,-13 -.5,-2 -2.5,-2.5 -5,-2.5 -.5,-1 1,-2 0,-1 -1,-1 -6,-5 -6.5,-6.5 -4,-2.5 -8,-2.5 -41.5,-5.5 -17,-3 -17.5,-3.5 0,-165 11,-8 11,-7 12,-6 14,-5.5 13,-4.5 13,-3.5 14,-2.5z"/>
<path fill="rgb(34,34,34)" fill-rule="evenodd" d="M981,72.5l18,0 17,1.5 18,3.5 17,5 16,7 15,8.5 14,10.5 12,11.5 0,128.5 -13,4.5 -15,4 -20,4 -27,3.5 -6,2 -4,1.5 -4,3.5 -6,7.5 -6.5,5 -.5,1 0,1 1,2 -.5,1 -4.5,2.5 -2,2.5 -.5,2 -.5,14 -1.5,3 -1.5,1 -1,0 -1,-1 -1.5,-2 -.5,-2 -1,3 -2,2 -1,0 -1,0 -1,-1 -1,-5 -.5,-12 -.5,-2 -3,-3 -3.5,-2 -.5,-1 1,-2 0,-1 -.5,-1 -5.5,-4 -7,-8 -5,-4 -4,-2 -5,-1 -27,-4 -19.5,-4 -15.5,-4 -14,-4.5 0,-128 10,-9.5 12,-9.5 12,-8 13,-6.5 14,-5.5 14,-4 15,-3z"/>
<path fill="rgb(37,37,37)" fill-rule="evenodd" d="M982,84.5l19,0 18,2 17,4 17,6 16,8 15,10 13,12 11,12.5 0,100.5 -6,3.5 -6,3 -16,6 -19,5 -29,5 -5,1.5 -4,2 -5,4.5 -6.5,9 -7.5,6 0,1 1.5,2 -.5,1 -3,2 -2.5,4 -.5,14 -1,3 -2,1.5 -1.5,-.5 -1,-2 -1,-2 -.5,-5 -.5,4 -1.5,4 -1,1.5 -1,0 -1,0 -1,-1.5 -.5,-2 -.5,-3 -.5,-12 -2.5,-3.5 -3,-2.5 -.5,-1 1.5,-2 0,-1 -7.5,-6 -7.5,-9.5 -5,-4 -4,-2 -4,-1.5 -29,-5 -19,-5 -16,-6 -7,-3.5 -6,-3.5 0,-99 9,-11 11,-10.5 12,-9 13,-8 15,-7 15,-5 16,-3.5z"/>
<path fill="rgb(40,40,40)" fill-rule="evenodd" d="M983,92l9,0 10,.5 18,2 9,2 10,3 17,7 8,4.5 8,5 7,5 7,6 6.5,6 6.5,7 5,7 4,6.5 0,73.5 -6,5.5 -7,5.5 -8,5 -8,3.5 -8.5,3.5 -10,3 -29.5,6.5 -5,2 -4,2.5 -5,5 -6.5,10 -8,6 0,1 1.5,2 -.5,1 -4.5,6 -.5,14 -1,3 -1.5,1 -1,0 -1,-1 -1,-3 -1,-15.5 -.5,1.5 0,8 -.5,7 -2,3 -1,.5 -1,-.5 -1,-2 -.5,-2 -.5,-14 -2,-2.5 -2.5,-3.5 -.5,-1 1.5,-2 0,-1 -8,-6 -7.5,-11 -5,-4.5 -4,-2.5 -4,-1.5 -29.5,-6.5 -10,-3 -9.5,-3.5 -8.5,-4.5 -8,-5 -6.5,-5 -6,-6 0,-71.5 5,-7.5 5,-7 9,-10 10,-8.5 11,-8 13,-7 13,-5.5 14,-4.5 14,-3z"/>
<path fill="rgb(43,43,43)" fill-rule="evenodd" d="M984,97.5l10,0 9,.5 10,1 10,2 10,2.5 9,3 9,4 8,4 8,5 8,5.5 7.5,6 6.5,7 6.5,7 5,7 4.5,8 3,7.5 0,44.5 -4,6 -6,7 -6.5,6 -8.5,6 -8.5,5 -8,4 -8.5,3 -28,8 -5,2 -4,3 -5,6 -6,10 -3,3 -5,3 -.5,1 1.5,3 -.5,1 -3.5,6 -.5,14 -.5,2 -2,2 -1.5,-1 -1,-2 -.5,-5 -.5,-10 -.5,-2.5 -1,2 0,11.5 -.5,4 -1.5,2.5 -1,.5 -1,-.5 -1.5,-3.5 -.5,-14 -3.5,-6 0,-1 .5,-2 0,-1.5 -6,-4 -2,-2.5 -7,-11 -5,-5.5 -4,-2.5 -4,-2 -29,-8 -9.5,-4 -10,-5 -9.5,-6 -9,-8 -7,-8 -5,-7.5 0,-41.5 3.5,-8 5,-9 6,-8 7,-8 8.5,-8 9,-7 10,-6 11,-5.5 12,-5 11,-3 13,-2.5z"/>
<path fill="rgb(46,46,46)" fill-rule="evenodd" d="M985,101.5l11,0 11,1 12,2 10,2 9,3 10,4 10,5.5 9,5.5 8,6 8,7.5 6.5,7 6,8 4.5,8 4,9 2,8 1,8 0,6 -1,5 -1,5 -2,4 -3,5 -4,5 -10,10 -10.5,8 -10.5,6.5 -12.5,5.5 -23.5,8 -5,3 -5,4.5 -4,6 -6,10.5 -3,3 -5,3 0,1 1,4 -3,6 -.5,13 -1,3 -1.5,1.5 -1,-.5 -1.5,-3 -.5,-14 -1,-3 -.5,1 -.5,13 -1,4 -1,2 -1,.5 -1,-.5 -.5,-1 -1,-4 -.5,-12 -3,-6 1,-4 0,-1 -6,-3.5 -2,-2.5 -7,-11.5 -5,-6.5 -4,-3.5 -5,-2.5 -22,-7.5 -11,-5 -10,-5.5 -10,-7.5 -10.5,-9.5 -7.5,-9 -2,-4 -2,-5 -1.5,-5 -.5,-5 .5,-8 1,-8 3,-8 3.5,-8 5,-8 5,-7 6.5,-7 7.5,-7 8,-6 8,-5 9,-4.5 9,-4 9,-3 11,-3 11,-2z"/>
<path fill="rgb(48,48,48)" fill-rule="evenodd" d="M985,105l10,0 11,.5 11,1.5 10,2.5 10,3 9,4 9,4.5 8,5 8,6 7,6 6.5,7 6,8 5,8 3,8 2.5,8 1,7 -1,9 -1,4 -2,4.5 -5,7.5 -9,9.5 -11,9 -10.5,7.5 -12.5,6.5 -20,8.5 -5,3 -5,5 -5,7 -6.5,13 -2.5,2 -5.5,4 1.5,5 -3.5,6 -.5,14 -.5,2 -1.5,1 -1,0 -.5,-1 -1,-2 -.5,-15 -1,-2.5 -1,1 0,1.5 -.5,12 -.5,4 -1,1.5 -1,.5 -1.5,-1 -1,-4 0,-12 -3.5,-6 1.5,-5 -1,-1 -5,-3 -2,-2 -7.5,-14 -5,-7 -4,-3.5 -5,-3.5 -20,-8 -10.5,-6 -10.5,-6.5 -10,-8 -9.5,-9.5 -6.5,-8 -3,-7 -2,-9 .5,-7 1.5,-7 2.5,-8 3,-7 5,-8 5.5,-7 6,-6.5 7,-6 8,-6 8,-4.5 9,-4.5 9,-4 9,-3 9,-2 10,-1.5z"/>
<path fill="rgb(51,51,51)" fill-rule="evenodd" d="M985,107.5l10,0 9,.5 10,1.5 10,2 10,3 8,3 10,5 8,5 8,5.5 7,6 6.5,7 5,7 4.5,7 3.5,8 2,7 .5,7 -.5,8 -2.5,7 -4,6.5 -7,7.5 -12,10 -13,9.5 -9,5.5 -15,7.5 -5,3 -5,4 -4,4.5 -5,8 -7,14 -2.5,3 -5.5,3.5 0,1.5 1.5,4 -3,6 -.5,13 -1,3 -1,1 -1.5,-1 -.5,-2 -.5,-15 -1.5,-3 -1,1 -.5,2 0,12 -.5,4 -1,1.5 -1,.5 -1,-1 -1,-4 -.5,-12 -3,-6 1.5,-5 -1,-1 -5,-3 -2,-3 -8,-15 -6,-9 -4,-4 -5,-3.5 -18,-9.5 -11.5,-7 -10.5,-7.5 -10,-8.5 -8,-8 -4,-6 -3,-7 -1,-7 0,-7 1.5,-7 3,-7 3.5,-7 4.5,-7 5,-6 6,-6 6.5,-6 7,-5 8,-4.5 8,-4 9,-3.5 9,-3 9,-2 9,-1.5z"/>
<path fill="rgb(54,54,54)" fill-rule="evenodd" d="M986,110l9,-.5 10,1 9,1 9,2 9,3 9,3.5 8,3.5 8,5 8,5.5 7,6 5.5,6 5.5,7 4,7 3.5,7 1.5,7 1,6 -.5,7 -2,6 -3.5,5.5 -5,5.5 -11,9.5 -12,9 -9.5,6.5 -19.5,11.5 -4,4 -4,4.5 -6,9.5 -8.5,18.5 -2.5,2.5 -5,3.5 0,2 1.5,4 -.5,2 -2.5,4 -.5,13 -1,2.5 -1,1 -1,-.5 -1,-2 -.5,-15 -1.5,-3.5 -1,1 -.5,2.5 -.5,15 -1,2 -1,.5 -1,-.5 -1,-4 -.5,-12 -3,-6 2,-4 -.5,-1.5 -5,-3.5 -2.5,-3 -9.5,-19.5 -3,-5 -4,-5.5 -4,-4.5 -4,-3 -18,-10.5 -12,-8 -10,-8 -9,-7.5 -6,-6.5 -3,-5 -2,-5 -1,-6 .5,-6 1.5,-7 2,-6 3.5,-7 4.5,-7 5,-6 6,-6 6,-5 7,-5 8,-4.5 8,-4 8,-3 9,-2.5 9,-2z"/>
<path fill="rgb(57,57,57)" fill-rule="evenodd" d="M986,112l9,-.5 9,1 9,1 9,2 8,2.5 9,3.5 9,4 7,4.5 7,5 6.5,5 6,6 4.5,6 4,6 3,7 2.5,7 .5,6 0,6 -1.5,5 -3,5 -4.5,5 -9,7.5 -12,9.5 -27,17.5 -4,3.5 -4,5 -7,12 -9.5,22 -2.5,3 -5,3.5 -.5,.5 0,2 1,2 .5,2 -.5,2 -2.5,4 0,13 -1,2.5 -1,1 -1,-.5 -1,-3 -.5,-14 -1.5,-4 -1,1 -.5,3 -.5,15 -1,1.5 -1,1 -1,-.5 -.5,-1 -.5,-4 0,-11 -2.5,-4 -.5,-2 1.5,-4 0,-2 -5.5,-4 -2.5,-3 -10.5,-23.5 -4,-7 -3,-4.5 -4,-4.5 -4,-3.5 -26,-17 -12,-9 -9,-7.5 -4,-4.5 -3,-4.5 -1.5,-4.5 -.5,-5 0,-6 1.5,-6 2,-6 3,-6 4,-6 5,-6 5.5,-5.5 6.5,-5.5 6.5,-4.5 7,-4 8,-4 8,-3 9,-3 8,-1.5 8,-1.5zM992,284.5l0,1.5 0,1z"/>
<path fill="rgb(60,60,60)" fill-rule="evenodd" d="M986,113.5l9,0 8,.5 9,1 8,2 9,2.5 8,3 8,3.5 7,4 7,5 6.5,5 5.5,6 5,6 4,6 3,6 2,6 1,6 -.5,5 -1,5 -2.5,4 -4,4.5 -7,6 -14,10.5 -24,15.5 -4,3.5 -4,5 -6,11 -11.5,29 -2.5,3 -5,4 -.5,1 0,2 1.5,4 -.5,2 -2.5,4 -.5,13 -.5,2 -1,1 -1,0 -1,-3 -.5,-14 -1.5,-4.5 -1,1.5 -1,3 -.5,15 -.5,1.5 -1,.5 -1,-1 -1,-3 0,-12 -2.5,-4 -.5,-2 1.5,-4 0,-2 -.5,-1 -5,-3.5 -2.5,-3.5 -11.5,-28 -4,-8.5 -3,-4.5 -3,-3.5 -4,-3.5 -25,-16.5 -13,-9.5 -6.5,-6 -4,-4 -2.5,-3.5 -1,-4.5 -1,-4 .5,-5 1.5,-6 2,-6 3.5,-6 4,-6 4,-5 5.5,-5.5 6,-4.5 13,-8.5 8,-4 8,-3 16,-4zM992,284l-.5,1 .5,3 .5,-3z"/>
<path fill="rgb(62,62,62)" fill-rule="evenodd" d="M986,115l8,0 9,.5 8,1 9,2 8,2.5 8,3 7,3 7,4 7,5 6,5 5.5,5 5,6 3.5,6 3,6 2,6 .5,5 0,5 -1.5,4 -2,3.5 -3,3.5 -6,5 -14,9.5 -24,16 -4,3.5 -4,5 -4,8.5 -13,35.5 -2.5,4 -4.5,3.5 -1,1 0,2.5 2,4 -.5,2 -2.5,4 -.5,13 -.5,1.5 -1,1.5 -1,-.5 -.5,-2.5 -.5,-13 -1.5,-6 .5,-4 -1,-1.5 -1,1 0,2.5 1,2 -2,5 -.5,14 -.5,2 -1,1 -1,-1 -.5,-3 -.5,-12 -2.5,-4 -.5,-2 .5,-2 1.5,-2 0,-2 -1,-1 -4.5,-4 -2.5,-4 -14,-37 -2,-4.5 -3,-4.5 -3,-3.5 -4,-3.5 -22,-14.5 -20,-14.5 -3,-3 -2.5,-4 -1.5,-4 -.5,-4 0,-5 1.5,-5 2.5,-6 3,-6 4.5,-6 4,-4.5 11,-9.5 12,-7.5 14,-6 15,-4 9,-1.5z"/>
<path fill="rgb(65,65,65)" fill-rule="evenodd" d="M986,116.5l16,.5 16,2.5 8,2.5 8,3 7,3 7,4 6.5,4 5.5,4.5 6,5.5 4,5 3.5,5 3,6 2.5,6 .5,5 0,4 -1,4 -2,4 -3,3 -7.5,6 -34.5,22 -4.5,4 -3.5,5 -3.5,7 -8.5,28 -4.5,13 -2,4 -2,2 -3,2 -1,2 0,2 2,4 -1,2 -2,4 -.5,12 -.5,2 -1,1.5 -1,-.5 -.5,-2 -.5,-13 -1.5,-6 .5,-4 -1,-2 -1,1 0,1 .5,4 -1.5,5 -.5,14 -.5,1.5 -1,1 -1,-.5 -.5,-3 -.5,-12 -2.5,-4 0,-2 .5,-2 1,-2 0,-2 -1,-1.5 -5,-4.5 -2,-4 -5.5,-15 -7.5,-24.5 -2,-5.5 -3,-5 -3,-4 -5,-3.5 -33,-21.5 -7,-5 -2.5,-3 -2.5,-3 -1,-3 -.5,-4 0,-5 1.5,-5 2,-5 3,-6 3.5,-5 4.5,-5 5.5,-5 5.5,-4.5 12,-7 14,-6 15,-4z"/>
<path fill="rgb(68,68,68)" fill-rule="evenodd" d="M987,118l8,0 8,.5 15,2.5 14,4.5 7,3 7,4 6,4 6,4.5 5.5,5 4,5 4.5,6 2.5,5 1.5,5 1,5 0,4 -1.5,4 -1.5,3 -3,3 -5,3.5 -35,22 -5,4 -4,5.5 -3,8 -6.5,25 -5,16 -2.5,6 -1.5,2 -3.5,2.5 -1,2.5 0,2 1.5,4 -.5,2 -2,4 -.5,12 -.5,2 -1,1.5 -1,-.5 -.5,-2 -.5,-13 -1.5,-6 1,-4 -.5,-1 -1,-1 -1,.5 -.5,1.5 .5,4 -1,6 -.5,13 -1.5,2.5 -1,-1.5 -.5,-14 -2.5,-4 -.5,-2 1.5,-4 0,-2.5 -1,-1.5 -4.5,-4 -3,-6 -5,-16 -6.5,-25.5 -2,-6 -2,-3.5 -4,-5 -5,-4 -34,-21 -5,-4 -4,-5 -1.5,-3 -.5,-4 .5,-5 1.5,-5 2,-5 3,-5 4,-5 4.5,-5 10.5,-8.5 12,-7 13,-5.5 14,-3.5z"/>
<path fill="rgb(71,71,71)" fill-rule="evenodd" d="M987,119l15,.5 14,2.5 15,4.5 13,6.5 12,8 5,5 4.5,5 3.5,5 2.5,5 2,5 1,5 -.5,4 -.5,3 -2,3 -2.5,2.5 -5,3.5 -16,9 -17,10.5 -6,5 -4,5 -2,4.5 -1.5,5 -5,25 -4.5,17 -3.5,8 -5.5,5.5 -.5,1.5 0,2 2,4 -.5,2 -2.5,4 0,12 -1.5,3 -1,-.5 -.5,-1.5 0,-13 -1.5,-6 .5,-4 -.5,-1.5 -1,-1 -1,.5 -.5,2 .5,4 -1.5,6 0,13 -1.5,2 -1,-1 -.5,-3 0,-11 -2.5,-4 -.5,-2 2,-4 -.5,-3 -1,-1.5 -3,-2.5 -1.5,-2 -3,-7 -5,-17 -5.5,-27 -2,-5.5 -2,-4 -4,-4.5 -6,-4.5 -16,-10.5 -16,-8.5 -5,-3.5 -4,-5 -1,-3 -.5,-3 .5,-4 1,-5 2.5,-5 3,-5 7.5,-9 10,-8.5 12,-7 12,-5 15,-3.5z"/>
<path fill="rgb(74,74,74)" fill-rule="evenodd" d="M987,120.5l15,.5 15,2.5 13,4 13,6.5 6,4 5.5,4 9,9 3.5,5 2.5,5 2,5 .5,4 0,3 -1,3 -1.5,3 -2.5,2.5 -5,3.5 -19,10 -13,8 -6,5 -4.5,6 -2,4 -1.5,5.5 -4,26.5 -4,16 -3.5,9 -2,3 -3.5,3 -.5,2 0,2 2,4 -.5,2 -2.5,4 -.5,12 -1,2.5 -1,-.5 -.5,-2 0,-12 -1.5,-6 .5,-4 -.5,-2 -1,-.5 -1,0 -.5,2.5 .5,4 -1.5,6 -.5,13 -1,2 -1,-1 -.5,-14 -2.5,-4 -.5,-2 2,-4 0,-2 -1.5,-2.5 -2.5,-2.5 -2,-3 -3.5,-10 -4.5,-17 -4,-25 -1.5,-5 -2,-5 -5,-5.5 -6.5,-5.5 -13,-8 -16.5,-8.5 -5.5,-3.5 -2.5,-2 -1.5,-3 -1.5,-5 0,-4 1.5,-5 2.5,-5 2.5,-4 7.5,-9 10,-8 11,-6.5 13,-5 14,-3.5z"/>
<path fill="rgb(76,76,76)" fill-rule="evenodd" d="M987,121.5l14,.5 14,2 14,4.5 12,5.5 11.5,8 4.5,4.5 4.5,4.5 3,4 3,5 1.5,5 1,4 -.5,3 -.5,3 -2,2.5 -2,2 -5,3.5 -18.5,9 -11.5,7 -7,5.5 -3,3.5 -2,3 -2,4.5 -1,5.5 -3.5,26 -3.5,17 -4,11 -1,2 -4,3.5 -.5,2.5 0,2 2,4 -.5,2 -2.5,4 -.5,11 -1,3.5 -1,-1 0,-1.5 -.5,-12 -1.5,-6 .5,-5 -.5,-1 -1,-1 -1,.5 -.5,1.5 .5,5 -1.5,6 -.5,12 -1,2.5 -1,-1 -.5,-13.5 -2.5,-4 -.5,-2 2,-4 0,-2 -1.5,-3 -3,-3 -1,-2 -4,-11 -3.5,-16 -3.5,-27 -1.5,-6 -2.5,-5 -5,-6 -8,-6 -9.5,-6 -18.5,-9 -4.5,-3 -4,-4 -1,-5 0,-4 1,-4 2.5,-5 2.5,-4 7.5,-9 9,-7.5 11,-6 12,-5 14,-3.5z"/>
<path fill="rgb(79,79,79)" fill-rule="evenodd" d="M987,122.5l13,.5 14,2 13,4 12,5.5 11,7.5 9,8 3.5,5 2.5,4 2,5 .5,4 0,3 -1,3 -3.5,4 -6,4 -18,8 -9,5 -8.5,7 -2.5,3 -2.5,4 -2,5 -1,5 -2.5,27 -3,17 -4,11 -1.5,3 -3.5,3.5 -1,2.5 .5,2 1.5,4 0,2 -2.5,4 -.5,11 -1,3 -1,-.5 -.5,-13.5 -1,-6 0,-5 -.5,-1.5 -1,-.5 -1,0 -1,2 1,5 -1.5,6 -.5,12 -1,2 -1,-1 -.5,-13 -2,-4 -1,-2 2,-4 .5,-2 -1,-2 -3.5,-4 -1.5,-3 -4,-12 -3,-17 -2.5,-27 -1.5,-5 -2,-5 -3,-4 -2.5,-3 -8.5,-6 -10,-6 -17,-7.5 -5,-3 -3,-3.5 -1,-2 -.5,-3 0,-4 1,-4 4.5,-8 7,-8 10,-8 11,-6.5 11,-4 13,-3.5z"/>
<path fill="rgb(82,82,82)" fill-rule="evenodd" d="M987,123.5l13,.5 13,2 13,3.5 12,5.5 10.5,7 8.5,8 4,5 2,4 2,4 .5,4 -.5,5 -2,3 -2,2 -6,3 -17,7.5 -9,5 -8,6.5 -3.5,4 -2.5,3.5 -2,5.5 -1,5 -1.5,27 -2.5,17 -2.5,8 -1.5,5 -2,3 -3,3 -1,3 0,2 2,4 -.5,2 -2.5,4 0,10 -1,3.5 -1,-1.5 0,-12 -1.5,-5 .5,-6 -1,-1.5 -1,-1 -1,.5 -1,2 .5,5 -1.5,6 0,11 -1,2.5 -1,-1.5 0,-12 -2.5,-4 -.5,-2 2,-4 0,-2 -1,-2 -3.5,-5 -1.5,-3 -3.5,-11 -3,-18 -1.5,-27 -1.5,-6 -2.5,-5.5 -3,-4 -3,-3.5 -8,-6 -9,-5 -16,-6.5 -6,-3.5 -2,-2 -1.5,-2 -1,-4 0,-3 1,-4 2,-4 2.5,-4 7,-8 9,-7.5 11,-6 11,-4.5 13,-3z"/>
<path fill="rgb(85,85,85)" fill-rule="evenodd" d="M987,124.5l12,0 13,2 13,4 11,5 10.5,6.5 9,8 5.5,8 2,4 .5,4 -.5,5 -1,2 -2,2 -5,3 -18,7 -9.5,5 -4.5,3.5 -4,3.5 -3,3.5 -2.5,4.5 -1.5,5 -1.5,6 -.5,25 -1.5,13 -1.5,9 -2.5,8 -1.5,4 -4,4.5 -1,2.5 0,3 2,4 -.5,2 -2.5,4 -.5,10 -.5,3 -1,-1.5 0,-11.5 -1.5,-5 .5,-6 -1,-2 -1,-.5 -1,.5 -1,2 .5,5 -1.5,6 -.5,11 -.5,2.5 -.5,-2.5 -.5,-11 -2.5,-4 -.5,-2 2,-4 0,-2 -1,-2.5 -3.5,-4.5 -1.5,-4 -2.5,-7 -2,-10 -1.5,-14 -.5,-25 -1.5,-6 -2,-6 -3,-4 -3,-3.5 -8,-6.5 -8,-4.5 -18,-7 -5,-2.5 -2,-2 -1.5,-2 -1,-4 0,-3 1,-4 2,-4 2.5,-4 7,-7.5 9,-7 10,-5.5 11,-4 12,-3z"/>
<path fill="rgb(88,88,88)" fill-rule="evenodd" d="M988,125.5l12,0 13,2.5 12,3.5 11,5 10.5,6.5 8,8 3,4 2.5,4 1.5,4 .5,3 -1,4 -1,2 -2,2 -6,3 -18.5,7 -7.5,4 -5,3.5 -3.5,3.5 -3,4 -2.5,4 -2,6 -.5,6 0,25 -1.5,15 -2,10 -2,7 -2,4 -3,3.5 -1,2.5 0,3 2,4 -.5,2 -2.5,4 -1,12.5 -1,-2.5 0,-10 -1.5,-5 .5,-6 -1,-2.5 -1,-.5 -1.5,1 -.5,2 .5,5 -1.5,6 -1,12.5 -.5,-1.5 -.5,-11 -2.5,-4 -.5,-2 2,-4 0,-2 -1,-3 -3.5,-5 -2,-4 -1.5,-7 -2,-10 -1.5,-14 0,-26 -1,-6 -2.5,-6 -5,-7 -6.5,-6 -9,-5 -17.5,-6 -5,-2.5 -4,-3.5 -1,-2 -1,-3 .5,-3 1,-4 4,-7 7.5,-8 9,-6.5 10,-5 11,-4.5 11,-2.5z"/>
<path fill="rgb(91,91,91)" fill-rule="evenodd" d="M988,126.5l12,0 13,2 12,4 11,5 10,7 8,7.5 4.5,7 1.5,4 0,3 -.5,3 -1.5,2 -4,3.5 -5,2 -17,6 -9,4.5 -7,6 -5,7.5 -2,5.5 -1,6 .5,31 -1,10 -1.5,11 -3,9 -1.5,3 -2.5,3 -1,3 0,3 2,4 -.5,2 -3,4 -.5,12 -.5,-3 -.5,-9 -1.5,-5 .5,-6.5 -1,-2 -1,-.5 -1,0 -1,1.5 -.5,2.5 1,4 -1.5,6 -1,12 -.5,-3 0,-8 -.5,-2 -2.5,-3 -.5,-2 2,-4 0,-2.5 -1,-3 -3,-4.5 -2,-4 -2,-8 -1.5,-8 -1,-16 .5,-26 -1,-6 -2,-5.5 -2,-4 -3,-4 -3,-3.5 -4,-3 -9,-4.5 -17,-6 -5.5,-2.5 -3,-2 -1.5,-1.5 -1,-4.5 0,-3 1.5,-4 4.5,-7 7,-7 8,-6 10,-5 10,-4 11,-2.5z"/>
<path fill="rgb(93,93,93)" fill-rule="evenodd" d="M995,127l11,1 11,2.5 11,4 9,5 8.5,5.5 7,7 4.5,7 1,3 .5,3 -1.5,4 -1.5,2 -2.5,2 -6,2.5 -17.5,5.5 -8.5,4.5 -6,5.5 -3,3.5 -2.5,4.5 -2,6 -1,6 1.5,30 -.5,10 -2,12 -2.5,10 -4,5.5 -1,3.5 0,3 2,4 -.5,2 -3,4 -.5,10.5 -.5,-9.5 -2,-7 1,-5 -1.5,-2.5 -1,-1 -1,.5 -1,1 -.5,2 1,5 -2,7 -.5,10 -.5,-10 -.5,-2 -2.5,-3 -.5,-2 2,-4 .5,-2 -1.5,-3.5 -3,-4.5 -1.5,-4 -2,-7 -1.5,-10 -1,-16 1.5,-26 -.5,-6 -2,-6 -5,-7.5 -3,-3.5 -3.5,-3 -4.5,-2.5 -4.5,-2.5 -17.5,-5.5 -6,-2.5 -2.5,-2 -2,-2 -.5,-2 -.5,-3 1,-3 1.5,-4 5,-7 8,-7 9,-5.5 11,-5 11,-3.5 11,-1.5z"/>
<path fill="rgb(96,96,96)" fill-rule="evenodd" d="M995,128l11,1 11,2.5 10,3.5 9,4.5 8,6 7,6.5 4.5,7 1,3 0,3 -.5,2 -1,2 -4,3 -6,2.5 -18,5.5 -8,4 -6,5.5 -4.5,7.5 -2.5,6 -1,7 2.5,31 -.5,11 -1.5,11 -2.5,9 -1.5,3 -2.5,3.5 -1.5,3.5 0,3 2,3 0,2 -3,5 -.5,2 -2,-7 .5,-5 -.5,-2 -1,-2 -1,-.5 -1,.5 -1,1 -.5,3 .5,5 -1.5,5 -.5,7.5 -.5,-7.5 -3,-5 0,-2 2,-4 0,-2 -1.5,-3 -2.5,-4 -2,-4 -1.5,-7 -1.5,-9 -1,-9 0,-8 2.5,-28 -1,-6 -2,-5.5 -5,-8.5 -3,-3 -3,-3 -8,-4 -19,-5.5 -5.5,-2.5 -2.5,-2 -1.5,-2 -1,-4 .5,-3 1,-3 2.5,-4 2.5,-3.5 8,-7 9,-5.5 10,-4.5 12,-3.5 11,-2z"/>
<path fill="rgb(99,99,99)" fill-rule="evenodd" d="M987,128.5l11,.5 12,1.5 11,3 10,4.5 9,5.5 8,6.5 5,7 1.5,3 .5,3 -1,4 -1.5,2 -2.5,2 -6,2.5 -19,5.5 -8,4 -3,2.5 -3,3 -5,8.5 -2,6 -.5,6 3,28 .5,9 -1,9 -1,8 -1.5,6 -1.5,5 -4,6 -.5,3 0,2 2,3 0,2 -3.5,5.5 -1,-1.5 -1,-4 .5,-5 0,-2 -1,-2 -1.5,-.5 -1.5,.5 -1,2 0,2 .5,5 -2,5.5 -3.5,-4.5 0,-3 2,-3 0,-2 -1.5,-4.5 -3.5,-6.5 -2,-7 -2,-12 -.5,-12 .5,-9 2.5,-17 .5,-7 -1,-6 -2.5,-7 -5.5,-8 -6,-5 -8.5,-4 -17,-4.5 -5,-2 -2.5,-1.5 -2,-2 -1,-2 -.5,-2 .5,-3 1,-3 3.5,-6 6,-6 8,-5.5 9,-4.5 9,-3.5 11,-2.5z"/>
<path fill="rgb(102,102,102)" fill-rule="evenodd" d="M987,129.5l11,0 10,1.5 11,3 10,4 9,5 7.5,6 6,7 1,3 1,3 -.5,3 -.5,2 -2,2 -2.5,1.5 -6,2 -18,5 -5,2 -4,2.5 -3,2.5 -3,3 -4.5,8.5 -2,6 -.5,6 4,27 .5,9 -.5,9 -1,9 -1.5,7 -2,5 -3.5,6 -.5,3 0,2 2,3 0,2 -3.5,5 -1,-1.5 -1,-3.5 .5,-5 0,-2 -1,-2 -1.5,-1 -1.5,1 -1,2 0,2 .5,5 -2,5 -3,-4 -.5,-1 0,-2 2,-3 0,-2 -1.5,-4.5 -3.5,-6.5 -2,-8 -1.5,-13 0,-12 .5,-9 3,-17 .5,-6 -.5,-6 -2.5,-7 -5.5,-8 -5.5,-5 -4,-2 -5,-2 -17,-4 -6,-2.5 -2.5,-1.5 -2,-2 -.5,-2 -.5,-2 1,-5 4,-6 6,-6 7.5,-5 8,-4.5 10,-3.5 10,-2.5z"/>
<path fill="rgb(105,105,105)" fill-rule="evenodd" d="M987,130l11,.5 10,1 11,3 10,4 9,5.5 7.5,6 4.5,6 1.5,3 .5,3 0,2 -1,2 -2,2 -3,2 -6,2 -17,4 -5,2 -4,2 -3.5,3 -3,3 -3,5 -2.5,5 -2,6 0,5 5,26 .5,9 0,9 -1,10 -1,7 -2,5 -3.5,6.5 -1,3.5 .5,2 2,3 0,2 -1,2 -2.5,2.5 -1,-1 -1,-3.5 0,-2 1,-3 -.5,-2 -1,-2 -1.5,-1 -1,0 -1,1 -.5,2 -.5,2 1,5 -2,4.5 -1,-.5 -2,-3 -.5,-1 0,-2 2,-3 .5,-2 -2,-5 -3.5,-7 -2,-8 -1,-14 0,-12 1,-9 4,-16 .5,-6 -.5,-6 -2.5,-6 -5,-8 -3,-3 -3,-3 -4,-2 -5,-2 -17,-4 -6,-2 -4,-3 -1.5,-2 -.5,-2 1,-5 3.5,-6 6.5,-6 7,-5 9,-4.5 9,-3 9,-2z"/>
<path fill="rgb(107,107,107)" fill-rule="evenodd" d="M988,131l10,0 11,1.5 10,3 9,3.5 9,5 7,6 5,6 1.5,5 -.5,3 -1,2 -4,3 -6,2 -19,4.5 -5,2 -4,2.5 -3.5,3 -3.5,4 -3,5 -2.5,5 -1,5 0,4 6.5,24 1,9 0,9 -.5,11 -1,8 -1.5,5 -4,7 -1,4 .5,2 2,3 0,2 -1,2 -2.5,2 -1,-.5 -1,-3.5 0,-2 1,-3 0,-2 -1,-2 -2,-1 -1,0 -1,1 -1,2 0,2 1,3 0,2 -2,4 -1,0 -2,-3 -.5,-1 0,-2 2.5,-3 0,-2 -2,-5.5 -3.5,-6.5 -2,-10 -1,-15 1,-11 1.5,-10 4.5,-15 1,-5 0,-5 -2,-5 -2.5,-5 -3.5,-5 -3,-3 -4,-3 -3.5,-2 -5.5,-2 -17.5,-4 -5.5,-2 -4.5,-3 -1,-2 -.5,-2 1,-5 3.5,-5 6,-6 7,-4.5 8,-4 10,-3.5 10,-2.5z"/>
<path fill="rgb(110,110,110)" fill-rule="evenodd" d="M935,161l1.5,-5 3.5,-5 6,-5.5 8,-5 9,-4 9,-2.5 10,-2 10,-.5 9,.5 10,1.5 9,3 9,4 8,4.5 6,5 4.5,6 1.5,5 0,2 -1,2 -2.5,2 -2.5,1.5 -6,2 -18,4 -5,1.5 -5,3 -5.5,5 -9.5,13 -2,1.5 -1,-.5 -2,-2 -9.5,-13 -5.5,-4.5 -4.5,-2.5 -4.5,-1.5 -19,-4.5 -6,-2 -4,-3 -1,-2zM992,206l2,1.5 2,3.5 4.5,10 3,10 1,11 0,11 -1,11 -1.5,7 -4,8 -1,4 0,2 2,3 .5,2 -1.5,2 -2,2 -1,-1 -1,-3 0,-2 1,-3 0,-2 -1,-2 -2,-1.5 -2,1 -1,2.5 0,2 1,3 0,2 -2,4 -1,-.5 -2,-2.5 -.5,-1 .5,-2 2,-3 0,-2 -2,-5.5 -2,-4.5 -1.5,-4 -1.5,-7 -.5,-8 0,-15 2.5,-13 2,-7.5 3,-6.5 3,-5z"/>
<path fill="rgb(113,113,113)" fill-rule="evenodd" d="M936.5,161l0,-2 1,-3 3.5,-5 6,-5 8,-5 9,-4 9,-2.5 9,-2 10,-.5 9,.5 10,2 10,3 8,3.5 8,5 6,5 3.5,5 1,3 0,2 0,2 -1.5,2 -5,3 -6,1.5 -16,3.5 -9,3.5 -5.5,3.5 -9.5,9 -3,1 -3,-1 -9.5,-9 -5.5,-3.5 -9,-3.5 -17,-3.5 -6,-2 -4,-2.5 -1.5,-2zM992,212l2,.5 2,2.5 4,7.5 3,9.5 1,11 0,11 -.5,10 -1.5,7 -4,7.5 -1.5,4.5 .5,2 2,3 .5,2 -1.5,2 -2,2 -1,-1 -1,-3 0,-2 1.5,-4 -1.5,-3 -1,-1 -1,-.5 -2,1 -1,2.5 0,2 1,4 -1,3 -1,1.5 -1,0 -2,-2.5 -.5,-1 .5,-2 2.5,-4 -2,-6 -2.5,-5 -1.5,-4 -1,-5 -.5,-8 0,-16 2,-12.5 2,-6 3,-6 3,-3z"/>
<path fill="rgb(116,116,116)" fill-rule="evenodd" d="M937.5,160l.5,-2 1.5,-3 4,-5 5.5,-4.5 7,-4.5 8,-3.5 10,-3 9,-1.5 9,-.5 9,.5 9,1.5 9,3 8,3.5 7.5,4 6,5 4,5 1.5,3 .5,2 -.5,2 -1,2 -4,2.5 -6,2 -16.5,3.5 -6.5,2 -6.5,3 -10.5,7 -3,.5 -4,-1 -9.5,-6.5 -6.5,-3 -6.5,-2 -17.5,-3.5 -5,-1.5 -4,-3 -1,-2zM992,215l2,1 2,1.5 2,3.5 2,4 2.5,9 1.5,10 0,13 -1,9 -1.5,5 -3.5,7 -1.5,5 .5,2 2,3 .5,2 -1.5,2 -2,1.5 -1,-1.5 -1,-3 1.5,-5 -1.5,-3 -2,-1.5 -2,.5 -1.5,3 0,2 1.5,4 -1,3 -1,1.5 -1,0 -2,-2.5 -.5,-1 .5,-2 2.5,-4 -2,-7 -2.5,-5 -1,-3 -1.5,-10 0,-17 2,-12 1.5,-5.5 3,-6 3,-3z"/>
<path fill="rgb(120,120,120)" fill-rule="evenodd" d="M939.5,159l1.5,-4 4,-5 6,-5 8,-4.5 8,-3 8,-2 9,-1.5 9,-.5 9,.5 8,1.5 9,3 8,3.5 7,4 6,5 3.5,5 1,4 -.5,2 -2,2 -4,2.5 -6,1.5 -20,4 -5.5,2 -10.5,4.5 -4,.5 -4,-.5 -10.5,-4.5 -5.5,-2 -21,-4 -5.5,-2 -2.5,-1 -2,-2 -1,-2zM992,218.5l3,1.5 2,2.5 2,3.5 2,6 2,11 .5,17 -.5,5 -1.5,5 -3.5,7.5 -2,6.5 -2,-4 -2,-1 -2,1 -1.5,3 0,2 1.5,4 -.5,2 -1.5,2.5 -1,-.5 -1,-.5 -1,-2.5 0,-2 3,-4 -3,-8 -2.5,-5 -1,-5 -1,-8 .5,-13 1,-10 3,-9 3,-5.5 2,-1.5zM996,284l.5,1 2,2 1,2 -.5,2 -3,2.5 -1,-1.5 -1,-3 1,-3.5z"/>
<path fill="rgb(126,126,126)" fill-rule="evenodd" d="M942.5,159l1,-4 3.5,-4.5 5.5,-4.5 6.5,-4 8,-3 8,-2.5 8,-1 9,-1 9,1 8,1 8,2.5 8,3.5 7,4 5.5,4.5 3,4 1,4 -.5,2 -2,2 -5,2.5 -23.5,4.5 -13.5,3.5 -5,.5 -5,-.5 -14,-3.5 -23,-4.5 -5,-2.5 -2,-2zM992,223l3,1.5 2,2.5 2,4 1.5,4 2,11 0,16 -.5,5 -1,4 -3,5.5 -2,6 -1,-1 -1.5,-2.5 -1.5,-.5 -2,1 -2,3 -1,-1.5 -1.5,-5 -2,-4 -1.5,-6 -1,-7 .5,-11 1,-10 2.5,-8 3,-5 2,-1.5zM988,285l1.5,3 0,2 -1.5,3 -1,0 -1.5,-2 -.5,-2 1,-2.5 1,-1zM996,285l2,2 1,2 -.5,2 -1.5,1.5 -1,.5 -1,-1 -.5,-3 .5,-3z"/>
<path fill="rgb(133,133,133)" fill-rule="evenodd" d="M945.5,158l1,-4 3.5,-4 5,-4 6,-3.5 7,-2.5 8,-2.5 8,-1 8,-.5 8,.5 8,1 8,2.5 7,3 6,3 5,4 3.5,4 1,4 -.5,2 -2,2 -6,2.5 -31,5.5 -7,1 -7,-.5 -32,-6 -3.5,-1.5 -2.5,-1.5 -1,-1.5zM992,226.5l2,1 2,1.5 2,3.5 1.5,4.5 2.5,13 .5,12 -1.5,8 -3,6 -2,5.5 -1,-.5 -1,-2 -2,-.5 -2,.5 -2,2.5 -1,-1 -4.5,-12.5 -1,-6 .5,-8 1,-12 2,-8 3,-5.5 2,-1.5zM988,285.5l1.5,2.5 0,2 -1.5,2.5 -1,0 -1.5,-1.5 -.5,-2 1,-2 1,-1zM996,285.5l2,2 1,1.5 -1,2.5 -2,1.5 -1,-2 -.5,-2 .5,-2.5z"/>
<path fill="rgb(139,139,139)" fill-rule="evenodd" d="M948,157l1,-3 3,-4 5,-3.5 6,-3.5 7,-2.5 7,-2 7,-1 8,-.5 8,.5 7,1 7,2 7,3 6,3 5,3.5 3,4 1,3 -.5,2 -1.5,1.5 -2.5,1.5 -3.5,1 -26,4.5 -10,1 -10,-1 -26,-4 -3.5,-1.5 -2.5,-1.5 -1.5,-1.5zM992,230l2,.5 2,2.5 3,6 2.5,14 .5,10 -1.5,7 -4.5,10.5 -1,0 -2,-2.5 -1,0 -2,.5 -2,2.5 -1,-1.5 -.5,-3.5 -2.5,-5 -1,-3 -1,-6 0,-6 2,-13 2,-7 1,-2 2,-3zM996,286l2,1.5 1,1.5 -1,2.5 -2,1 -1,-1.5 -.5,-2 .5,-2zM987,286l1,0 1.5,3 -1,3 -1.5,.5 -1.5,-1.5 -.5,-2 1,-2z"/>
<path fill="rgb(145,145,145)" fill-rule="evenodd" d="M951,156l1,-3 2.5,-3 4.5,-3.5 6,-3 6,-2.5 7,-1.5 7,-1 7,-.5 7,.5 7,1 7,2 6,2 6,3.5 4.5,3 2.5,3 1,3 0,2 -2,2 -2,1 -4,1.5 -21,3 -12,1 -12,-1 -21,-3 -6,-2.5 -2,-2zM992,233l2,1 1,1 2,3 1,3 3,12 .5,10 -1,6 -4.5,11 -1,-.5 -1.5,-1.5 -1.5,-.5 -2,.5 -2,2 -4.5,-12 -1,-5 0,-6 1.5,-9.5 2.5,-8.5 2.5,-4.5 1,-1zM987,286.5l1,0 1.5,2.5 -1,3 -1.5,.5 -1,-1.5 -1,-2 1,-2zM996,286l2,1.5 1,1.5 -1,2 -2,1.5 -1,-1.5 -.5,-2 .5,-2z"/>
<path fill="rgb(152,152,152)" fill-rule="evenodd" d="M953.5,156l1,-3 2,-3 4.5,-3 5,-2.5 6,-2.5 6,-1.5 7,-1 7,-.5 7,.5 7,1 6,1.5 6,2.5 5,2.5 4.5,3 2,3 1,3 -1,2 -1,1 -6.5,2.5 -16,2.5 -14,1 -12,-1 -18,-2.5 -6.5,-2.5 -1.5,-1zM992,236.5l2,.5 1,1.5 3,6.5 3,10 0,9 -1,6 -4,9 -1,0 -1,-1 -2,-.5 -2,0 -2,2 -4.5,-11.5 -.5,-5 0,-5 1.5,-8 2.5,-9 2,-3 1,-1zM987,286.5l1,0 1,2.5 0,2 -1,1 -1,0 -1,-1 -.5,-2 .5,-1.5zM996,286.5l1.5,.5 1,2 -.5,2 -2,1 -1,-1 0,-2 0,-1.5z"/>
<path fill="rgb(158,158,158)" fill-rule="evenodd" d="M956,155l.5,-2 2.5,-3 4,-3 5,-2.5 11,-3 6,-1 7,-.5 7,.5 6,1 11,3 5,2.5 4,3 2.5,3 .5,2 -.5,2 -1.5,1 -6,2.5 -15,2 -13,1 -13,-.5 -15,-2.5 -6,-2.5 -1.5,-1zM992,239.5l2,1 1,1 3.5,7.5 2,8 .5,7 -1.5,6 -3.5,8 -1,0 -2,-1 -2,0 -3,1.5 -4,-10.5 -1,-5 .5,-5 1,-7 2.5,-7 2,-3 1,-1zM987,286.5l1,.5 1,2 -.5,2 -.5,1 -1,0 -1,-1 -.5,-2 .5,-1.5zM996,286.5l1,.5 1.5,2 -.5,2 -2,1 -1,-1 0,-2 0,-1z"/>
<path fill="rgb(164,164,164)" fill-rule="evenodd" d="M958.5,154l1,-2 3,-3 7.5,-4 11,-3 11,-1 11,1 11,3 7.5,4 3,3 1,2 -.5,2 -1,1 -6,2.5 -13,2 -13,1 -13,-1 -13,-2 -4,-1 -2,-1.5 -1,-1zM992,242l2,1 3,4 2.5,6 1,6 0,5 -1,5 -3.5,7.5 -1,1 -3,-1 -4,.5 -3.5,-7 -1,-6 0,-7 2,-7 1.5,-3.5 2,-3 1,-1zM987,287l1,0 1,2 -.5,2 -1.5,1 -1,-1 -.5,-2 .5,-1.5zM996,287l1,0 1.5,2 -1,2 -1.5,1 -1,-1.5 0,-1.5z"/>
<path fill="rgb(171,171,171)" fill-rule="evenodd" d="M961,154l.5,-2 2,-2 2.5,-2 5,-2.5 10,-3 11,-.5 11,1 10,2.5 5,2.5 2.5,2 2,2 .5,2 -1,2 -1.5,1 -5.5,2 -11,1.5 -12,.5 -11,-.5 -12,-1.5 -6,-2 -1.5,-2zM992,244l1,0 2,2 3,5 2,6 .5,7 -1.5,6 -3,5.5 -1,1 -6,0 -1,-.5 -3.5,-7 -1,-5 .5,-5 1,-6 2,-5 3,-3.5zM987,287l1,.5 1,1.5 -.5,2 -1.5,.5 -1,-.5 -.5,-2 .5,-1zM996,287l1,.5 1.5,1.5 -1,2 -1.5,.5 -1,-1.5 0,-1z"/>
<path fill="rgb(177,177,177)" fill-rule="evenodd" d="M963.5,153l1,-2 2.5,-2 6,-3 9,-2.5 10,-1 10,1 9,2.5 6,3 2.5,2 1,2 0,1 -1.5,1.5 -5,2 -10,2 -12,.5 -11,-.5 -11,-1.5 -5,-2 -1,-1zM991,245.5l2,0 1,1 2,2 2.5,4.5 1.5,6 0,6 -1,5 -3,5 -1,1 -6,0 -1,-.5 -2.5,-5.5 -1.5,-6 0,-6 2,-6 2,-4zM987,287.5l1,0 .5,1.5 -.5,2 -1,.5 -1,-1 0,-1.5 0,-1zM996,287.5l1,0 1,1.5 -.5,2 -1.5,.5 -1,-2.5z"/>
<path fill="rgb(184,184,184)" fill-rule="evenodd" d="M966,153l1,-2 2,-2 6,-3 8,-2 9,-.5 9,.5 8,2.5 6,3 2,1.5 1,2 -1.5,2 -5,2 -9.5,1.5 -10,.5 -10,-.5 -9.5,-1.5 -5,-2zM992,246.5l3,2 2.5,3.5 2,6 .5,6 -1,5 -3,5.5 -1,1 -1,0 -4,0 -2,-.5 -2.5,-5 -1,-5 -.5,-5 1,-5 2,-4.5 2,-2.5zM987,287.5l1,.5 .5,1 -.5,2 -1,.5 -1,-1 0,-1.5zM996,287.5l1,0 1,1.5 -1,2 -1,.5 -.5,-1.5 0,-1z"/>
<path fill="rgb(190,190,190)" fill-rule="evenodd" d="M968.5,153l0,-1 1.5,-2 5.5,-3 7.5,-2 9,-1 9,1 7.5,2 5.5,3 1.5,2 0,1 -1,1 -1.5,1 -4,1.5 -8,1 -9,.5 -9,-.5 -8,-1 -4,-1.5 -1.5,-1zM992,247.5l3,1.5 3,4 1.5,5 0,5 -1,6 -2.5,5 -2,1.5 -3,0 -2,-.5 -1,-.5 -2,-3.5 -1.5,-5 0,-5 1,-6 1.5,-3.5 2,-2.5zM987,287.5l1,.5 .5,1 -.5,1.5 -1,.5 -1,-1 0,-1zM996,287.5l1,.5 1,1 -1,2 -1,0 -.5,-1 0,-1z"/>
<path fill="rgb(196,196,196)" fill-rule="evenodd" d="M971.5,152l0,-1 2.5,-2 4.5,-2 6.5,-1.5 7,-.5 7,.5 6.5,1.5 4.5,2 2.5,2 0,1 0,1 -1,1 -4.5,1.5 -7,1 -8,.5 -9,-.5 -7,-1 -3.5,-1.5 -1,-1zM992,248.5l3,1.5 2,3 2,4 .5,5 -.5,5 -2,5 -2,2.5 -3,.5 -3,-.5 -2,-2.5 -2,-5 -.5,-5 1,-6 1.5,-4 2,-2.5zM987,288l1,.5 .5,.5 -.5,1.5 -1,.5 -.5,-1 -.5,-1zM996,288l1,0 1,1 -1,1.5 -1,.5 -.5,-2z"/>
<path fill="rgb(203,203,203)" fill-rule="evenodd" d="M974,152l1,-2 4,-2 6,-1.5 7,-.5 7,.5 6,1.5 4,2 1,2 -.5,1 -1.5,1 -4,1 -12,1 -12,-1 -4,-1 -1.5,-1zM992,249l3,1.5 2,3 2,4.5 0,5 -.5,5 -1.5,4 -2,2 -3,1 -3,-.5 -2,-2.5 -1.5,-4 -.5,-5 .5,-6 1.5,-4 2,-2.5zM987,288l1.5,1 -.5,1 -1,1 -.5,-1 0,-1zM996,288l1,.5 .5,.5 -.5,1.5 -1,0 0,-.5z"/>
<path fill="rgb(209,209,209)" fill-rule="evenodd" d="M977,151l2.5,-2 2.5,-1 4.5,-1 5.5,-.5 5,.5 5,1 2.5,1 2.5,2 0,1 -1.5,1 -2.5,1 -5,1 -6,0 -11,-1 -2.5,-1 -1.5,-1zM992,250l3,1.5 2,2.5 1.5,4 .5,5 -.5,4 -1.5,4 -2,2.5 -3,1 -3,-.5 -2,-2.5 -1.5,-3.5 -.5,-5 .5,-5 1.5,-4.5 2,-2.5zM987,288.5l1,.5 0,1 -1,.5 -.5,-1.5zM996,288.5l1,0 0,2 -1,-.5z"/>
<path fill="rgb(215,215,215)" fill-rule="evenodd" d="M980.5,151l1,-1 2.5,-1 3,-1 5,-.5 5,.5 3,1 2.5,1 1,1 -.5,1 -2,1 -9,1 -9,-1 -2,-1zM992,250.5l2,.5 3,3 1.5,4 .5,5 -.5,4 -1.5,4 -2,2.5 -3,1 -3,-1 -2,-2.5 -1.5,-4 -.5,-4 .5,-5 1.5,-4 2,-2.5zM987,288.5l1,.5 -1,1.5 0,-1.5zM996,289l1,0 0,1 -1,0z"/>
<path fill="rgb(222,222,222)" fill-rule="evenodd" d="M985.5,151l.5,-1 6,-1 5,1 1.5,1 -1.5,1 -5,.5 -5,-.5zM992,251l3,1.5 2,2.5 1.5,4 0,4 -.5,4 -1.5,4 -2.5,2.5 -2,.5 -3,-.5 -1.5,-2.5 -1.5,-4 -.5,-4 0,-4 1.5,-4.5 2,-2.5z"/>
<path fill="rgb(228,228,228)" fill-rule="evenodd" d="M992,251.5l2,.5 2.5,3 1.5,4 .5,4 -.5,4 -1.5,4 -2.5,2.5 -2,.5 -2.5,-1 -2,-2 -1.5,-4 -.5,-4 .5,-4 1.5,-4 1.5,-2.5z"/>
<path fill="rgb(235,235,235)" fill-rule="evenodd" d="M992,252l2,.5 2.5,2.5 1.5,4 .5,4 -.5,4 -2,4 -2,2 -2,.5 -2,-.5 -2,-2 -2,-4 -.5,-4 .5,-4 1.5,-4 2.5,-2.5z"/>
<path fill="rgb(241,241,241)" fill-rule="evenodd" d="M992,252l2,1 2,2.5 1.5,3.5 .5,4 -.5,4 -1,3 -2.5,2.5 -2,1 -2,-.5 -2,-2 -1.5,-3 -.5,-5 0,-3 2,-5 2,-2.5z"/>
<path fill="rgb(247,247,247)" fill-rule="evenodd" d="M992,252.5l2,1 2.5,2.5 1,3 0,8 -1.5,3 -2,2.5 -2,.5 -2.5,-1 -1.5,-1.5 -1,-2.5 -1,-5 1,-5 1,-3 2.5,-2z"/>
<path fill="rgb(254,254,254)" fill-rule="evenodd" d="M991.5,253l1,0 2.5,2 1,2 .5,1 .5,1 0,8 -.5,1 -1,3 -1.5,1 -4,0 -2,-2 0,-1 -1,-1 0,-10 1,-1 0,-1z"/>
</g>
<path d="M988.1,269.9 l7.2,0 l0.6,46 l-7.2,0z" fill="#050508"/>
</g>
<path d="M888,40.1v-2.8M888,376v2.8M894.1,40.1v-2.8M894.1,376v2.8M900.2,40.1v-5.2M900.2,376v5.2M906.3,40.1v-2.8M906.3,376v2.8M912.4,40.1v-2.8M912.4,376v2.8M918.6,40.1v-2.8M918.6,376v2.8M924.7,40.1v-2.8M924.7,376v2.8M930.8,40.1v-5.2M930.8,376v5.2M936.9,40.1v-2.8M936.9,376v2.8M943,40.1v-2.8M943,376v2.8M949.2,40.1v-2.8M949.2,376v2.8M955.3,40.1v-2.8M955.3,376v2.8M961.4,40.1v-5.2M961.4,376v5.2M967.5,40.1v-2.8M967.5,376v2.8M973.6,40.1v-2.8M973.6,376v2.8M979.8,40.1v-2.8M979.8,376v2.8M985.9,40.1v-2.8M985.9,376v2.8M992,40.1v-5.2M992,376v5.2M998.1,40.1v-2.8M998.1,376v2.8M1004.2,40.1v-2.8M1004.2,376v2.8M1010.4,40.1v-2.8M1010.4,376v2.8M1016.5,40.1v-2.8M1016.5,376v2.8M1022.6,40.1v-5.2M1022.6,376v5.2M1028.7,40.1v-2.8M1028.7,376v2.8M1034.8,40.1v-2.8M1034.8,376v2.8M1041,40.1v-2.8M1041,376v2.8M1047.1,40.1v-2.8M1047.1,376v2.8M1053.2,40.1v-5.2M1053.2,376v5.2M1059.3,40.1v-2.8M1059.3,376v2.8M1065.4,40.1v-2.8M1065.4,376v2.8M1071.6,40.1v-2.8M1071.6,376v2.8M1077.7,40.1v-2.8M1077.7,376v2.8M1083.8,40.1v-5.2M1083.8,376v5.2M1089.9,40.1v-2.8M1089.9,376v2.8M1096,40.1v-2.8M1096,376v2.8M881.2,372.3h-2.8M1102.1,372.3h2.8M881.2,366.2h-2.8M1102.1,366.2h2.8M881.2,360.1h-2.8M1102.1,360.1h2.8M881.2,353.9h-5.2M1102.1,353.9h5.2M881.2,347.8h-2.8M1102.1,347.8h2.8M881.2,341.7h-2.8M1102.1,341.7h2.8M881.2,335.5h-2.8M1102.1,335.5h2.8M881.2,329.4h-2.8M1102.1,329.4h2.8M881.2,323.3h-2.8M1102.1,323.3h2.8M881.2,317.1h-2.8M1102.1,317.1h2.8M881.2,311h-2.8M1102.1,311h2.8M881.2,304.9h-2.8M1102.1,304.9h2.8M881.2,298.7h-2.8M1102.1,298.7h2.8M881.2,292.6h-5.2M1102.1,292.6h5.2M881.2,286.5h-2.8M1102.1,286.5h2.8M881.2,280.3h-2.8M1102.1,280.3h2.8M881.2,274.2h-2.8M1102.1,274.2h2.8M881.2,268.1h-2.8M1102.1,268.1h2.8M881.2,261.9h-2.8M1102.1,261.9h2.8M881.2,255.8h-2.8M1102.1,255.8h2.8M881.2,249.7h-2.8M1102.1,249.7h2.8M881.2,243.5h-2.8M1102.1,243.5h2.8M881.2,237.4h-2.8M1102.1,237.4h2.8M881.2,231.3h-5.2M1102.1,231.3h5.2M881.2,225.1h-2.8M1102.1,225.1h2.8M881.2,219h-2.8M1102.1,219h2.8M881.2,212.9h-2.8M1102.1,212.9h2.8M881.2,206.8h-2.8M1102.1,206.8h2.8M881.2,200.6h-2.8M1102.1,200.6h2.8M881.2,194.5h-2.8M1102.1,194.5h2.8M881.2,188.4h-2.8M1102.1,188.4h2.8M881.2,182.2h-2.8M1102.1,182.2h2.8M881.2,176.1h-2.8M1102.1,176.1h2.8M881.2,170h-5.2M1102.1,170h5.2M881.2,163.8h-2.8M1102.1,163.8h2.8M881.2,157.7h-2.8M1102.1,157.7h2.8M881.2,151.6h-2.8M1102.1,151.6h2.8M881.2,145.4h-2.8M1102.1,145.4h2.8M881.2,139.3h-2.8M1102.1,139.3h2.8M881.2,133.2h-2.8M1102.1,133.2h2.8M881.2,127h-2.8M1102.1,127h2.8M881.2,120.9h-2.8M1102.1,120.9h2.8M881.2,114.8h-2.8M1102.1,114.8h2.8M881.2,108.6h-5.2M1102.1,108.6h5.2M881.2,102.5h-2.8M1102.1,102.5h2.8M881.2,96.4h-2.8M1102.1,96.4h2.8M881.2,90.2h-2.8M1102.1,90.2h2.8M881.2,84.1h-2.8M1102.1,84.1h2.8M881.2,78h-2.8M1102.1,78h2.8M881.2,71.8h-2.8M1102.1,71.8h2.8M881.2,65.7h-2.8M1102.1,65.7h2.8M881.2,59.6h-2.8M1102.1,59.6h2.8M881.2,53.5h-2.8M1102.1,53.5h2.8M881.2,47.3h-5.2M1102.1,47.3h5.2M881.2,41.2h-2.8M1102.1,41.2h2.8" stroke="#111" stroke-width="1.3" fill="none"/>
<g class="s">
<text x="899.4" y="33.8" font-size="16" text-anchor="middle" >-3</text>
<text x="899.4" y="394.4" font-size="16" text-anchor="middle" >-3</text>
<text x="930" y="33.8" font-size="16" text-anchor="middle" >-2</text>
<text x="930" y="394.4" font-size="16" text-anchor="middle" >-2</text>
<text x="960.6" y="33.8" font-size="16" text-anchor="middle" >-1</text>
<text x="960.6" y="394.4" font-size="16" text-anchor="middle" >-1</text>
<text x="992" y="33.8" font-size="16" text-anchor="middle" >0</text>
<text x="992" y="394.4" font-size="16" text-anchor="middle" >0</text>
<text x="1022.6" y="33.8" font-size="16" text-anchor="middle" >1</text>
<text x="1022.6" y="394.4" font-size="16" text-anchor="middle" >1</text>
<text x="1053.2" y="33.8" font-size="16" text-anchor="middle" >2</text>
<text x="1053.2" y="394.4" font-size="16" text-anchor="middle" >2</text>
<text x="1083.8" y="33.8" font-size="16" text-anchor="middle" >3</text>
<text x="1083.8" y="394.4" font-size="16" text-anchor="middle" >3</text>
<text x="875.2" y="53.2" font-size="15.5" text-anchor="end" >8</text>
<text x="1108.1" y="53.2" font-size="15.5" >8</text>
<text x="875.2" y="114.5" font-size="15.5" text-anchor="end" >6</text>
<text x="1108.1" y="114.5" font-size="15.5" >6</text>
<text x="875.2" y="175.9" font-size="15.5" text-anchor="end" >4</text>
<text x="1108.1" y="175.9" font-size="15.5" >4</text>
<text x="875.2" y="237.2" font-size="15.5" text-anchor="end" >2</text>
<text x="1108.1" y="237.2" font-size="15.5" >2</text>
<text x="875.2" y="298.5" font-size="15.5" text-anchor="end" >0</text>
<text x="1108.1" y="298.5" font-size="15.5" >0</text>
<text x="875.2" y="359.8" font-size="15.5" text-anchor="end" >-2</text>
<text x="1108.1" y="359.8" font-size="15.5" >-2</text>
</g>
<text x="985.2" y="421.6" font-size="24" font-weight="bold" text-anchor="middle" >q<tspan font-size="15.5" dy="5">XY</tspan><tspan dy="-5"> (nm</tspan><tspan font-size="14.5" dy="-8">-1</tspan><tspan dy="8">)</tspan></text>
<text x="854" y="197" font-size="24" font-weight="bold" text-anchor="middle" transform="rotate(-90 854 197)" >q<tspan font-size="15.5" dy="5">Z</tspan><tspan dy="-5"> (nm</tspan><tspan font-size="14.5" dy="-8">-1</tspan><tspan dy="8">)</tspan></text>
<g clip-path="url(#hc3)"><g filter="url(#cm)">
<rect x="1161.3" y="31.2" width="236.2" height="352" fill="rgb(4,4,4)" />
<path fill="rgb(6,6,6)" fill-rule="evenodd" d="M1163.5,33l233,0 0,258 -9.5,-1 -10.5,0 -30,0 -29.5,3 -6.5,1 -2,1 -1,1 -.5,2 -2,14 -2,9 -2,7 -3,6 -4,6 -4.5,5 -5,3 -5,.5 -5,-.5 -5,-3 -5,-5 -4,-6 -2.5,-6 -2,-7 -2,-9 -2,-14 -.5,-2 -1,-1 -2.5,-1 -6,-1 -28.5,-3 -29,0 -13,0 -8,1z"/>
<path fill="rgb(9,9,9)" fill-rule="evenodd" d="M1163.5,33l233,0 0,255.5 -33,-.5 -26,.5 -7,.5 -24,4 -2.5,1 -2,2 -1,13 -2,9 -2,6 -2,5 -3.5,5.5 -4,3.5 -4,2.5 -4,.5 -5,-1 -4,-2.5 -4,-4.5 -3,-5 -2.5,-6 -1.5,-5 -1.5,-8 -1.5,-13 -1.5,-2 -3,-1 -23.5,-4 -7,-.5 -26,-.5 -32,.5z"/>
<path fill="rgb(12,12,12)" fill-rule="evenodd" d="M1163.5,33l233,0 0,254.5 -37,-.5 -28,.5 -8,1 -21,4.5 -2,1 -1.5,2 -.5,9 -1,7 -2,7 -2.5,6 -2.5,4.5 -4,3.5 -3,2 -4,1 -4,-1 -3,-2 -3.5,-3 -3,-5 -2.5,-5 -2,-7 -1,-7 -1,-10 -1,-2 -2,-1 -20,-4.5 -8,-1 -27,-.5 -38,.5z"/>
<path fill="rgb(15,15,15)" fill-rule="evenodd" d="M1163.5,33l233,0 0,253.5 -40,-.5 -32,.5 -8,1 -6,2.5 -11,3 -2.5,2 -2,16 -1.5,6 -2,5 -2,3.5 -3,3.5 -3,2 -4,.5 -3,-.5 -3.5,-2 -3,-3 -2.5,-4 -2.5,-5 -1.5,-6 -1.5,-16 -2.5,-2 -11,-3 -6,-2.5 -7,-1 -31,-.5 -41,.5z"/>
<path fill="rgb(18,18,18)" fill-rule="evenodd" d="M1163.5,33l233,0 0,252 -28,-1 -29,.5 -19,.5 -9,1.5 -1.5,.5 -1.5,2 -2,1 -7,2.5 -4,1.5 -1,2 -.5,8 -.5,6 -1.5,5 -1.5,4 -2.5,4 -2.5,3 -3,1.5 -3,.5 -3,-.5 -3,-2 -3,-3 -2,-3.5 -3,-9 -1,-6 -.5,-8 -.5,-2 -4,-2 -7,-2 -2,-1 -1.5,-2 -1.5,-.5 -4,-1 -6,-.5 -18,-.5 -29,-.5 -27,1z"/>
<path fill="rgb(20,20,20)" fill-rule="evenodd" d="M1163.5,33l233,0 0,247.5 -8,-1.5 -8,-1 -9,-.5 -11,0 -15,1 -19,2 -10,1.5 -7,2 -4,2 -.5,3 -1.5,1 -8.5,3 -1.5,1 -1,2 -.5,12 -2.5,8.5 -2.5,3.5 -2.5,3 -2,1 -3,.5 -3,-.5 -2,-1 -3,-3 -2,-4 -2.5,-8 -1,-12 -.5,-2 -1.5,-1 -8.5,-3 -1.5,-1 -.5,-3 -4,-2 -7,-2 -10,-1.5 -18,-2 -15,-1 -11,0 -9,0 -8,1.5 -8,1.5z"/>
<path fill="rgb(23,23,23)" fill-rule="evenodd" d="M1163.5,33l233,0 0,239.5 -8,-1.5 -9,-.5 -19,0 -15,1.5 -15,2 -10,2 -6,2 -11,6 -2,2 .5,3 -1,1 -8,3 -1.5,1 -.5,2 -1,11 -2,8 -2.5,5 -1,1 -2,.5 -7,0 -2,-2 -2,-2.5 -3,-10 -.5,-11 -1,-2 -1.5,-1 -7.5,-3 -1.5,-1 .5,-3 -.5,-1 -4,-3 -8,-4 -6,-2 -10,-2 -14,-2 -15,-1.5 -19,0 -9,.5 -8,1.5z"/>
<path fill="rgb(26,26,26)" fill-rule="evenodd" d="M1163.5,33l233,0 0,233 -9,-1 -8,-.5 -18,.5 -13,1.5 -15,2.5 -12,3 -6,2 -4,2 -11.5,8 -1,2 1,3 -1.5,1 -7,3 -1.5,1 -1,2 0,7 -1,8 -2,6 -1.5,2.5 -1,.5 -1,0 -3,-1.5 -3,1.5 -2.5,-1 -2,-4 -2,-11 -.5,-8 -.5,-2 -1.5,-1 -7.5,-3 -1,-1 1,-3 -1.5,-2 -14,-9.5 -6,-2.5 -11,-2.5 -15,-2.5 -13,-2 -10,-.5 -9,-.5 -9,1 -8,1z"/>
<path fill="rgb(29,29,29)" fill-rule="evenodd" d="M1163.5,33l233,0 0,227 -8,-1 -8,-1 -8,0 -9,1 -12,2 -14,3 -15,4 -7,2.5 -4,2.5 -14,11 -1,2 1.5,3 -1,1 -7.5,3 -1,1 -2,20 -1,3.5 -2,1.5 -2,-1 -2,-2 -3,3 -1,0 -1.5,-1 -1.5,-2 -1,-4 -1,-18 -1,-1 -7.5,-3 -1,-1 1,-3 -1,-2 -13.5,-11 -4,-2.5 -7,-2.5 -15,-4 -14,-3 -11,-2 -9,-1 -8,0 -8,.5 -8,1.5z"/>
<path fill="rgb(32,32,32)" fill-rule="evenodd" d="M1278.5,52.5l7,.5 8,1.5 7,2.5 8,4 61,35 15,10 12,9 0,138.5 -8,-2 -8,-1 -7,0 -8,1 -9,2 -12,3.5 -21,7 -8,3.5 -4,2.5 -8,8 -8,6 -1,2 1.5,3 -1,1 -6.5,3 -1,2 -1,18 -1,4 -1,1 -1,.5 -2,-1.5 -2,-4 -1.5,3 -1.5,2 -1,.5 -1.5,-1.5 -1.5,-2 -.5,-3 -1,-17 -.5,-2 -7,-3 -1,-1 1.5,-3 -1,-2 -7.5,-6 -8,-8 -4,-2.5 -8,-3.5 -21,-7 -11,-3.5 -9,-2 -8,-1 -7,0 -8,1 -8,1.5 0,-138.5 13,-10 13,-8.5 60,-34.5 8,-4 7,-2.5 7,-1.5z"/>
<path fill="rgb(34,34,34)" fill-rule="evenodd" d="M1278.5,71.5l11,1 12,3 13,5 30,13 15,7 13,7.5 12,8 12,9 0,120 -9,-3 -8,-2 -7,-.5 -7,1 -10,4 -40,20 -5,4 -9,9.5 -7.5,6 -1.5,2 2,3 -1,1 -5,2.5 -1,2 -.5,7.5 -1,12 -1,2 -.5,1.5 -1,.5 -1.5,-1 -1.5,-2 -1,-5.5 -.5,3.5 -1.5,3.5 -1,1 -1,.5 -2,-2 -1,-4 -1.5,-19 -1,-1 -4.5,-2 -1,-1 1.5,-3 -1,-2 -8,-6 -8.5,-10 -5,-4 -40,-19.5 -10,-4 -6,-1 -7,.5 -8,1.5 -9,3.5 0,-120.5 10,-8 12,-7.5 12,-7 15,-7.5 30,-13 15,-6 11,-3z"/>
<path fill="rgb(37,37,37)" fill-rule="evenodd" d="M1278.5,80l12,1 13,2.5 18,6.5 22,8.5 15,7 13,7.5 13,8.5 12,9.5 0,104 -14,-6 -6,-2 -5,-.5 -5,0 -4,1 -5,1.5 -4,3 -18.5,16 -21.5,14.5 -4,4 -8,10.5 -10.5,8 0,1 1.5,3 -.5,1 -3.5,2 -1,1 -1.5,20 -1,3 -1.5,1.5 -2,-1.5 -1,-2 -1,-9.5 -1,6.5 -.5,4 -1.5,2 -1,.5 -1,-1 -1,-1.5 -1,-3 -1,-19 -1,-1.5 -3.5,-1.5 -1,-1 2,-3 -.5,-1 -1,-1 -9,-7 -7,-9.5 -5,-5 -20.5,-13.5 -20.5,-18 -4,-2.5 -4,-1 -4,-1 -5,0 -5,1 -6,1.5 -13,5.5 0,-104.5 12,-9 12,-8 13,-7.5 15,-7 22,-8.5 18,-6 12,-3z"/>
<path fill="rgb(40,40,40)" fill-rule="evenodd" d="M1277.5,85l13,.5 14,3 19,6 19,7.5 15,7 14,7.5 13,9 12,10 0,89.5 -15,-7 -7,-2 -6,-1 -6,-.5 -5,1 -4,1.5 -4,2.5 -5,5.5 -9.5,13 -5.5,7 -18,16.5 -11.5,15.5 -10.5,8 -.5,1 2,3 -2.5,2 -1,1.5 -1.5,20.5 -1.5,3 -1,1 -1.5,-1 -1.5,-3 -1,-11 0,-6.5 -.5,6.5 -1,12 -1.5,2.5 -1,.5 -1,-.5 -1.5,-4.5 -1.5,-19 0,-1 -4,-3 2,-3 0,-1 -11,-8 -8,-12 -3,-4 -18,-16 -5,-6 -10,-14.5 -5,-5 -4,-2.5 -4,-1.5 -5,-1 -6,.5 -6,1 -7,2 -14,6.5 0,-90 11,-9 13,-8.5 13,-7.5 14,-7 18,-7 18,-6 14,-3z"/>
<path fill="rgb(43,43,43)" fill-rule="evenodd" d="M1277.5,88.5l13,.5 14,2.5 20,6 18,7 15,7 14,8.5 13,9 12,10 0,77 -10,-4.5 -8,-3 -7,-2 -7,-1 -6,-.5 -5,1 -5,1.5 -4,3 -3,3 -3,4 -8.5,16.5 -4.5,7 -3.5,5 -11.5,13.5 -10,15.5 -3.5,4 -7.5,5 -1,1 0,2 1,2 -2.5,3 -1.5,21 -.5,2 -1.5,1.5 -2,-1.5 -.5,-2 -1.5,-19.5 -1.5,19.5 -1.5,3.5 -1,0 -1,-.5 -1.5,-4 -1,-19 -.5,-1.5 -2,-2.5 1,-2 0,-2.5 -8.5,-5.5 -4,-4 -9.5,-16 -11.5,-13 -3.5,-5 -4.5,-7 -8.5,-16.5 -3,-4.5 -3,-3 -4,-2.5 -5,-1.5 -5,-1 -6,.5 -7,1 -7,2 -17,7 0,-77 11,-9.5 12,-8.5 13,-7.5 15,-7.5 17,-6.5 19,-6 14,-3.5z"/>
<path fill="rgb(46,46,46)" fill-rule="evenodd" d="M1277.5,91l14,1 15,2.5 17,5 19,7.5 16,8 13,7.5 13,9.5 12,11 0,65 -20,-7 -8,-2 -8,-1.5 -6,0 -6,1 -5,2 -4,3 -3,3.5 -3,4 -11.5,26 -12.5,20.5 -9,16.5 -4,5 -8.5,5 -.5,2 1,3 -1,2 -1,3 -1,18 -1,3 -1,1.5 -1.5,-1.5 -1,-3 -1.5,-19.5 -2,20.5 -1,3 -1,0 -1,-.5 -1.5,-4.5 -1,-17 -1.5,-5 .5,-3 -.5,-2 -8,-5.5 -4,-4.5 -9,-17 -13,-20 -11,-26 -3,-4.5 -3,-3.5 -4,-2.5 -5,-2 -6,-1 -6,0 -7,1 -8,2 -20,7 0,-65.5 12,-10.5 12,-9 13,-7.5 14,-7 16,-6.5 18,-6 15,-3z"/>
<path fill="rgb(48,48,48)" fill-rule="evenodd" d="M1276.5,93l14,1 16,2.5 17,5 18,7 16,8 14,8.5 13,10 12,11 0,54.5 -25,-7.5 -9,-1.5 -7,-.5 -6,0 -6,1.5 -5,2.5 -4,3 -3,4 -3,5 -9.5,26 -9.5,20 -9,19 -1.5,3 -2.5,3 -8,5 -1,1 0,2 .5,3 -1.5,5 -1,18 -1,3 -1,1 -1.5,-1 -1,-3 -1,-18 -.5,-2 -2,21 -1,2.5 -1,.5 -1,-1 -1,-3 -1,-18.5 -1.5,-4.5 .5,-5 -1,-1 -8,-5 -4,-5 -9,-20.5 -9.5,-19.5 -10,-26 -2.5,-5 -4,-5 -4,-3 -5,-2 -6,-1 -6,0 -7,.5 -9,2 -23,6.5 0,-54.5 4,-4.5 11.5,-10 12.5,-8.5 13,-7.5 13,-6.5 15,-6 17,-5 14,-3z"/>
<path fill="rgb(51,51,51)" fill-rule="evenodd" d="M1276.5,95l15,.5 16,3 17,5 18,7 16,8.5 14,9 12.5,10 11.5,12 0,43 -31,-6.5 -9,-1 -7,0 -6,.5 -6,2 -5,3.5 -4,4.5 -2.5,4 -2.5,6 -7.5,23 -15,41 -2,4 -2.5,3 -3,2.5 -5,3 -1,1.5 0,5 -1,5 -1.5,18 -.5,3 -1,.5 -1,-.5 -1,-3 -1.5,-18 -.5,-2.5 -1,2.5 -1.5,19 -.5,2 -1,.5 -1.5,-1.5 -1.5,-13 0,-8 -1,-4 0,-3 0,-2.5 -1,-1 -5,-3 -3,-2.5 -2.5,-3 -1.5,-3 -15.5,-42 -8.5,-25 -3,-6.5 -4,-5 -4,-3.5 -5,-2 -6,-1.5 -6,0 -7,0 -8,1.5 -28,5.5 0,-43.5 13,-13 11,-8.5 11,-7 12,-7 13,-5.5 14,-5.5 14,-4 13,-2.5z"/>
<path fill="rgb(54,54,54)" fill-rule="evenodd" d="M1276.5,96.5l14,.5 17,3 19,6 17,7 16,8.5 14,9.5 12.5,11 10.5,11.5 0,31.5 -10,-.5 -27,-3.5 -13,-.5 -6,1 -6,2 -5,3.5 -4,4.5 -3,5 -3,8 -10,34 -5,18.5 -4,12 -2.5,5 -2.5,3 -3,3 -4,2 -1,1 -.5,6 -.5,4.5 -1.5,18.5 -.5,3 -1,.5 -1,-1 -1,-2.5 -1,-11 0,-7.5 -1,-2.5 -1,3 -1.5,19 -.5,2 -1,.5 -1.5,-1.5 -1.5,-13 0,-8 -1,-4 .5,-3 -.5,-3 -1,-1 -4,-2.5 -3.5,-2.5 -2,-3 -2.5,-4 -4,-12 -5,-20 -10.5,-35 -3.5,-9 -4,-5.5 -4,-3.5 -4,-2 -6,-1.5 -6,-1 -12,.5 -27,3.5 -9,.5 0,-32.5 10.5,-11.5 11.5,-10 10,-7 11,-6.5 11,-5.5 12,-5 12,-4 12,-3.5 12,-2z"/>
<path fill="rgb(57,57,57)" fill-rule="evenodd" d="M1276.5,98l8,0 8,.5 17,3.5 19,6 18,8 15,8.5 14,10.5 6.5,6 5.5,6 5,6 4,6 0,16 -2.5,1 -4.5,1.5 -6,.5 -29,-2 -7,0 -6,.5 -6,1.5 -5,2.5 -4.5,2.5 -3.5,4.5 -4,7 -3.5,10.5 -6.5,25.5 -5,25.5 -3.5,12 -2,5 -2,3 -2.5,2.5 -5,3 -1,1 -2.5,29.5 -.5,2.5 -1,.5 -1,-.5 -1,-2.5 -1,-11 0,-8 -1,-3 -1,4 -.5,7 -1,12 -.5,1.5 -1,.5 -1,-1 -1.5,-13 -1.5,-18 0,-1 -5,-3 -3.5,-3 -2,-3 -2.5,-5 -3.5,-12 -4.5,-25 -7,-28 -3.5,-10 -4.5,-7 -4,-4 -4,-2.5 -5,-2 -6,-1 -13,-.5 -29,2 -6,-1 -5,-1.5 0,-17.5 7,-10 7.5,-8 7.5,-7 9.5,-7 9.5,-5.5 9,-5 10,-5 11,-4 11,-3.5 10,-2.5 11,-2z"/>
<path fill="rgb(60,60,60)" fill-rule="evenodd" d="M1276.5,99l8,0 9,1 9,1.5 9,2 19,6.5 17,8 9,5 7.5,5 7.5,6 6.5,6 5.5,6 4.5,6 3.5,6 1,4 0,2.5 -2,2.5 -3,2 -3,1.5 -8,1.5 -27,0 -12,1 -6,2 -4.5,2 -4,3 -4,4 -3,5 -2.5,6 -5,21 -3,14 -2.5,24 -3,13 -2,5 -3,4 -2.5,3 -4.5,2 -1,2 0,6 -1,4 -1,18 -.5,3 -1,1 -1,-1 -.5,-2 -1.5,-11 0,-8 -1,-4 .5,-3 -.5,-2 -.5,5 -.5,4 -.5,8 -1,11 -.5,2 -1,1 -1.5,-2 -1,-13 -1,-17 -.5,-1.5 -5,-3 -3,-2.5 -2.5,-4 -2,-5 -3,-13 -2.5,-24 -3,-15 -5.5,-20 -2.5,-6.5 -3,-4.5 -3,-3.5 -3,-2.5 -4,-2 -5,-2 -6,-1.5 -7,-.5 -25,0 -9,-1 -4,-1 -4,-2 -2,-2 -1,-3 .5,-4 2.5,-5 4,-6 5.5,-6 6,-6 7.5,-6 15,-10 17,-8.5 18,-6.5 18,-4.5z"/>
<path fill="rgb(62,62,62)" fill-rule="evenodd" d="M1276.5,100l16,.5 16,3 18,6 17,7.5 15,9 6.5,5 7,6 5.5,6 4,5 3,5 1,4 -1,3 -2,2.5 -3,2 -4,1.5 -8,1 -25,1.5 -6,1 -6,2 -5,2 -4,2.5 -3.5,3 -3,4 -2.5,5 -3,7 -5,23.5 -1.5,10.5 -.5,21 -2,12 -2,7 -2.5,5 -2.5,3 -5,3.5 -1.5,1.5 -.5,3 0,4 -1.5,22 -.5,2.5 -1,1 -1,-1 -2,-13.5 0,-7 -1,-4 .5,-4 -.5,-2 -.5,2 0,4 -1,4 0,8 -1,10 -.5,3 -1,.5 -1,-1.5 -1.5,-13 -1,-17 -.5,-2 -5,-3 -3,-3 -2,-3 -2,-5 -1.5,-7 -1.5,-8 -.5,-24 -1.5,-10.5 -5.5,-23.5 -2.5,-6.5 -3.5,-5.5 -3,-4 -3.5,-2.5 -4,-2.5 -4,-2 -6,-1.5 -6,-1 -25,-1.5 -8,-1 -4,-1.5 -3,-2 -2,-2.5 -1,-3 1,-4 2,-4 3.5,-5 6,-6 11.5,-10 15,-9 15,-7.5 17,-6 16,-4z"/>
<path fill="rgb(65,65,65)" fill-rule="evenodd" d="M1275.5,101l15,.5 15,2.5 16,4.5 17,7.5 14.5,8 7,5 6,5 5,5 4,5 2.5,4 1,4 0,2.5 -2,3 -3,2 -4,1.5 -8,2 -23,2.5 -7,1.5 -5.5,2 -4.5,2.5 -4,3 -3.5,3.5 -3,4 -2.5,5 -2.5,7 -3,12 -2,11 -.5,10 1,22 -1.5,13 -2,7 -2.5,5 -2.5,3 -5.5,4 -1,4 0,4 -.5,11 -1.5,13 -1,1 -1,-1 -1.5,-13 -.5,-7 -.5,-4 0,-4 -.5,-2 -1,2 .5,4 -1,4 0,7 -1.5,13.5 -1,.5 -1.5,-2 -1,-11 -.5,-18 -1,-2 -4.5,-3 -3,-3 -2.5,-4 -2,-6 -1.5,-8 -.5,-7 1,-24 -1,-10 -2.5,-12 -2.5,-11 -2.5,-7 -3,-5 -2.5,-3.5 -3.5,-3.5 -4,-3 -4.5,-2 -5,-2 -7,-1.5 -23,-2.5 -8,-2 -3,-1 -3,-2 -2,-2 -1.5,-3 .5,-3 2,-4 2.5,-4 4.5,-5 5.5,-5 6.5,-5 14,-8.5 15,-7 16,-5.5 14,-3.5z"/>
<path fill="rgb(68,68,68)" fill-rule="evenodd" d="M1275.5,102l15,.5 14,2 15,4.5 15,6 14.5,8 12,9 5,5 3.5,4 2.5,4 .5,3 -.5,2 -2,3 -2,2 -4,2 -7.5,2 -23,4.5 -6.5,1.5 -5.5,2.5 -5,3.5 -4,3 -3.5,4 -2.5,4 -2.5,6 -2,7 -2.5,11 -1.5,9 0,9 2.5,23 -.5,7 -.5,7 -2,7 -2.5,6 -2.5,3 -5,3.5 -1,3.5 -1,17 -1,11 -1,2 -1.5,-3 -1,-11 -1,-11 .5,-4.5 -1,-2 -1,2.5 0,4 -.5,4 0,8 -1.5,11 -1,2 -1,-2.5 -1.5,-11.5 -.5,-17.5 -1,-2 -5,-3.5 -2.5,-3 -2,-4 -1.5,-5 -1.5,-9 -.5,-8 .5,-7 2,-17 0,-9 -1.5,-9 -3,-12 -2,-7 -3,-6 -3,-4.5 -3,-3.5 -4,-3 -5,-3 -5,-2 -6.5,-2 -22.5,-4 -7.5,-2 -3.5,-1.5 -3,-2.5 -2,-3 0,-2 .5,-3 2.5,-4 7,-8 10,-8 13.5,-8 14.5,-6.5 13,-4 14,-3z"/>
<path fill="rgb(71,71,71)" fill-rule="evenodd" d="M1275.5,102.5l13,.5 14,2 14,3.5 15,6 14,7.5 10.5,8 4.5,4 3.5,4 2,4 1,3 -.5,2 -2.5,3 -2.5,2 -3,2 -7,2 -22,5.5 -6,2 -6,2.5 -4.5,3 -4.5,4 -3,4 -3,5 -2.5,6 -2.5,8 -2,10 -1,7 .5,8 3,16 1,8 .5,7 -.5,8 -1.5,7 -2.5,6 -3,4 -4.5,3.5 -1,1.5 -1,19 -1,11 -1,1.5 -1,-2 -1.5,-10.5 -1,-18 -.5,-1 -1,2 -1,17 -1,11 -1,1.5 -1,-2.5 -1.5,-11 -.5,-18 -1,-2 -4.5,-3 -2.5,-3 -2,-4 -2,-6 -1,-9 0,-9 1,-8 3.5,-17 .5,-8 -1,-7 -2.5,-11 -2.5,-8 -2.5,-6 -3.5,-5 -3,-3.5 -4,-3.5 -4.5,-3 -5.5,-2.5 -6,-2.5 -22,-5 -7,-2 -3.5,-2 -2.5,-2 -2,-3 -.5,-2 .5,-3 1.5,-3 3.5,-4 4,-4 10.5,-8 11.5,-6.5 13,-5.5 13,-4.5 13,-2.5z"/>
<path fill="rgb(74,74,74)" fill-rule="evenodd" d="M1275.5,103.5l13,0 14,2 14,4 12,4.5 13,7 10,7 4.5,4 3,4 2,3 .5,3 -.5,2 -2,3 -2.5,2 -3,2 -6,2.5 -22,6 -6.5,2.5 -5.5,3 -5.5,4 -4,4 -4,5 -2.5,5 -2.5,7 -2.5,8 -1.5,7 -.5,6 .5,7 5,16 2,8 .5,9 0,8 -1.5,8 -2.5,6 -3,4 -4,3 -1,2 -1,18 -1,11 -1,2 -1,-3 -1.5,-10 -.5,-17 -1,-1.5 -1,2.5 -1,17 -1,10.5 -1,1.5 -1,-3 -1.5,-10 -.5,-18.5 -1,-1.5 -4,-3 -2.5,-3 -2.5,-5 -1.5,-7 -1,-9 1,-10 2,-9 4.5,-16 1,-7 -.5,-6 -2,-8 -2.5,-8 -2.5,-7 -3,-5 -3.5,-4.5 -4,-4 -5,-3.5 -5.5,-3 -6.5,-2.5 -22,-6 -6,-2.5 -3.5,-2 -2,-2 -2,-3 -.5,-2 0,-2 1.5,-3 2,-3 4,-4 9,-7 12.5,-7 12,-5 13,-4 12,-2.5z"/>
<path fill="rgb(76,76,76)" fill-rule="evenodd" d="M1275.5,104l13,.5 12,1.5 12,3 13,5 12.5,6 10,7 4,4 2.5,3 1.5,3 .5,2 0,2 -2,3 -2,2 -3,2 -6,3 -23,7.5 -7.5,3.5 -6.5,4 -5.5,5 -4.5,5 -3.5,6 -4.5,9 -4.5,12 -1,3 0,3 2,5 7.5,14.5 2.5,7.5 2.5,10 .5,10 -1,9 -2.5,7 -2.5,4 -4.5,3.5 -1,2.5 -1,18 -1.5,10 -.5,2.5 -1,-2.5 -1.5,-10 -.5,-17.5 -1,-1 -1,2 -1,16.5 -1,10.5 -1,2 -2,-11.5 -1,-20 -1,-1.5 -4.5,-3.5 -2.5,-3 -2,-6 -1.5,-7 0,-11 2,-11 4.5,-11.5 7.5,-14.5 1,-4 -.5,-3 -1,-3 -6.5,-16 -3.5,-6 -4,-6 -5,-5 -4.5,-4 -5.5,-3 -7,-3.5 -22,-7.5 -7,-3 -3,-2 -2,-2 -2,-3 -.5,-2 .5,-2 1.5,-3 6,-6 8,-6 11.5,-6.5 11,-4.5 11,-3.5 13,-2.5z"/>
<path fill="rgb(79,79,79)" fill-rule="evenodd" d="M1206.5,137l.5,-2 1.5,-3 6,-6 8.5,-6 11.5,-5.5 12,-4.5 11,-3 11,-2 11,-.5 11,.5 12,2 12,3.5 11,4 10.5,5.5 8.5,6 5.5,6 2,3 0,2 -.5,2 -1.5,3 -5.5,4 -6.5,3 -20.5,8 -11.5,6 -9,7 -12.5,13 -3,2 -2,.5 -2,-.5 -3,-2 -12.5,-13 -9,-7 -11.5,-6 -21,-8 -6.5,-3 -5,-4 -2,-3zM1279.5,219l3,1 3,2 3,3.5 3,5 2,4.5 2,6 2,11 -.5,10 -2,8 -2.5,5 -5,4.5 -1,1.5 -1,19 -2,12 -2,-11 -1,-19 -1,-1 -1,2 -1,17 -1,9 -1,3 -2,-11 -.5,-17 -.5,-3.5 -1,-1.5 -4,-3 -3,-4 -2,-6 -1,-9 0,-7 1,-6 1.5,-6 2.5,-5.5 3,-5.5 4,-5 3,-2z"/>
<path fill="rgb(82,82,82)" fill-rule="evenodd" d="M1211,135l0,-2 2,-3 5,-5 8.5,-6 10,-5 10,-3.5 11,-3 11,-2 11,-.5 11,.5 11,2 11,3 10,3.5 9.5,5 9,6 5,5 1.5,3 .5,2 -.5,2 -2,3 -5,4.5 -5.5,2.5 -24,10 -10.5,6 -14,10 -4,2 -3,.5 -3,-.5 -4,-2 -14,-10 -10.5,-6 -24,-10 -5.5,-2.5 -5.5,-4.5 -1.5,-3zM1279.5,223l3,.5 3,2 3,3 2,3.5 2.5,5 2,5 1,5 .5,6 0,9 -2,8 -2.5,5 -4.5,4 -1,2 -1,19 -2,11.5 -2,-10.5 -1,-19 -1,-1 -1,1.5 -1,17.5 -2,11 -2,-10 -.5,-17 -.5,-4 -1,-1 -4,-3.5 -2.5,-3.5 -2,-6 -1,-8 0,-6 1,-6 1.5,-6 2,-5 3,-4.5 3,-4 4,-2.5z"/>
<path fill="rgb(85,85,85)" fill-rule="evenodd" d="M1214.5,133l.5,-2 1.5,-2 4.5,-5 7.5,-5 10,-5 10,-3.5 10,-2.5 10,-1.5 11,-1 11,1 10,1.5 10,2.5 10,3.5 10,5 7,5 5,5 1,2 .5,2 0,2 -2,3 -2.5,3 -4,2.5 -26,11.5 -21,11.5 -5,2 -4,.5 -4,-.5 -4,-1.5 -22,-12 -26,-11.5 -4,-3 -2.5,-2.5 -2,-3zM1279.5,226l3,.5 3,1.5 3,3 2,3 2,4 2,5 1,5 .5,6 -.5,9 -1.5,7 -2.5,5 -4,3.5 -1,2 -1,19.5 -2,10 -2,-9 -.5,-16 -.5,-3.5 -1,-1 -1.5,1.5 -.5,18 -2,10 -2,-10 -.5,-16 -.5,-4 -1,-1.5 -4,-3.5 -2,-3 -2,-6 -1,-7 0,-6 1,-6 1.5,-6 2,-5 3.5,-4.5 3,-3 3,-2z"/>
<path fill="rgb(88,88,88)" fill-rule="evenodd" d="M1218.5,132l0,-2 1,-2 5,-5 7.5,-5 8,-4 9.5,-3 10,-2.5 10,-2 10,-.5 10,.5 10,1.5 10,3 9,3 8.5,4 7.5,5 4.5,5 1,2 .5,2 -1,3 -2,3 -3,2.5 -5,2.5 -39,19 -6,2 -5,.5 -5,-.5 -6,-2.5 -39,-18.5 -5,-3 -3,-2.5 -2,-2.5zM1279.5,228l3,.5 3,2 3,2.5 2,3 2,4 1.5,5 1.5,10 -.5,9 -1.5,6 -2,5 -4,3.5 -1.5,1.5 -1,20 -1.5,8.5 -2,-7.5 -.5,-16 -.5,-4 -1,-.5 -1.5,1.5 -1,19 -1.5,7.5 -2,-8.5 -.5,-16 -.5,-4 -1,-2 -3.5,-3 -2,-3 -2,-6 -1,-7 .5,-6 .5,-5 1.5,-5 2,-5 3,-4.5 3,-3 3,-2z"/>
<path fill="rgb(91,91,91)" fill-rule="evenodd" d="M1221.5,130l.5,-2 1.5,-2 4,-4 6,-4 9,-4 9,-3 9,-2.5 9,-1 10,-1 10,1 9,1 9,2.5 9,3 8.5,4 6,4 4.5,4 1,2 .5,2 -.5,3 -2.5,3 -3.5,3 -5,3.5 -33,15 -7,2.5 -6,.5 -6,-.5 -7,-2.5 -33,-15.5 -5,-3 -4,-3 -2,-3zM1279.5,230l3,.5 3,1.5 4.5,5 3.5,8 1.5,10 0,8 -1.5,7 -2,4 -4.5,4 -1,2 -1,20 -.5,4.5 -1,2.5 -2,-6 -.5,-17 -.5,-3 -1,-1 -1,1 -1.5,20 -.5,4 -1,2 -2,-7 -1,-20 -1,-2 -4,-4 -1.5,-3 -1.5,-5 -1,-6 .5,-6 .5,-5 1.5,-5 2,-5 2.5,-3.5 3,-3 3,-2z"/>
<path fill="rgb(93,93,93)" fill-rule="evenodd" d="M1224.5,129l.5,-2 1.5,-2 4.5,-4 6,-4 7.5,-3 8,-3 9,-2 9,-1.5 9,0 9,0 9,1.5 9,2 8,3 7,3 6.5,4 4.5,4 1,2 .5,2 -.5,3 -3,3.5 -4,3 -7,4 -15,7 -11,5 -8,2.5 -6,.5 -6,-1 -8,-2 -26,-12 -7,-4 -4,-3 -3,-3.5zM1279.5,231.5l2,.5 3,1 3,2.5 2,2.5 2,4 1.5,4 1,5 .5,5 0,8 -1.5,6 -2,4 -4,4 -1,2 -1,20 -.5,4 -1,2.5 -1,-2.5 -1,-4 -.5,-17 -.5,-2.5 -1,-.5 -1,1 -.5,2 -1,18 -.5,3.5 -1,1.5 -2,-6 -.5,-20 -.5,-1.5 -4,-3.5 -2,-3 -1.5,-5 -1,-6 0,-5 1,-6 1.5,-5 2,-4.5 2,-3.5 3,-3 3,-2z"/>
<path fill="rgb(96,96,96)" fill-rule="evenodd" d="M1227.5,128l1,-3 4,-4 6.5,-4 6.5,-3 8,-2.5 8,-2 9,-1.5 9,-.5 9,.5 9,1.5 8,2 8,2.5 6.5,3 6,4 4,4 1,3 -.5,3 -3,3.5 -5,3.5 -8,4.5 -12,5.5 -9,3.5 -7,2 -7,1 -7,-1 -7,-2 -9,-3.5 -12,-5.5 -8,-4.5 -5,-3.5 -3,-3.5zM1279.5,233l3,.5 2,1 3,2.5 2,3 3,7 1.5,9 0,8 -1.5,6 -2,4 -3,3.5 -1.5,1.5 -.5,5 -.5,16 -.5,4 -1,1.5 -1,-2 -1,-3.5 -.5,-17 -.5,-3 -1,-.5 -1,1 -.5,1.5 -1,18 -.5,4 -1,1.5 -1.5,-5.5 -.5,-16 -1,-5 0,-1 -3.5,-3 -2,-3 -1.5,-5 -1,-5 0,-6 1,-5 1,-5 2,-4 2,-3.5 3,-3 3,-2z"/>
<path fill="rgb(99,99,99)" fill-rule="evenodd" d="M1230.5,127l1,-3 3,-3 6,-4 7,-3 8,-2.5 8,-2 8,-1 8,-.5 8,.5 8,1 8,2 8,2.5 7,3 4.5,3 4.5,4 1,3 -1,3 -3,3.5 -5.5,3.5 -8.5,5 -10,4.5 -8,3 -7,1.5 -6,.5 -6,-.5 -7,-1.5 -8,-3 -10,-5 -9,-4.5 -5,-3.5 -3.5,-3.5zM1279.5,234.5l3,.5 2,1 2.5,2 2,3 3,7 1.5,9 0,7 -1.5,6 -2,4 -3.5,4 -.5,1 -1,21 -.5,3.5 -1,1.5 -1,-2 -.5,-3 -1,-18 -.5,-2 -1,-.5 -1,.5 -1,3 -1,19 0,1.5 -1,1.5 -1,-2 -.5,-4 -.5,-16 -.5,-4 -.5,-1 -3,-3 -2,-3 -1.5,-5 -1,-5 .5,-10 1.5,-5 1.5,-4 2.5,-4 2.5,-2 3,-2z"/>
<path fill="rgb(102,102,102)" fill-rule="evenodd" d="M1233,126l1,-3 3.5,-3 4.5,-3 6.5,-3 7,-2 8,-2 8,-1 8,-.5 8,.5 8,1 8,2 6.5,2 6.5,3 5,3 3,3 1.5,3 -1,3 -3,3 -4.5,3.5 -9,5 -9,4 -7,2.5 -7,1.5 -6,.5 -6,-.5 -7,-1.5 -7,-2.5 -9,-4.5 -9,-4.5 -5,-3.5 -2.5,-3zM1279.5,235.5l3,.5 2,1 2,2 2.5,3 3,7 1.5,9 -.5,7 -1,5 -2,4 -3.5,4 -.5,1 -1,21 -.5,3 -1,1.5 -1,-1.5 -.5,-3 -1,-18 -.5,-2.5 -1,-.5 -1.5,1 -.5,3 -1,19 -1,2.5 -1,-2 -1.5,-23.5 -.5,-1.5 -2.5,-2.5 -2,-3 -1.5,-4 -1,-5 .5,-10 1.5,-5 1.5,-4 2.5,-3.5 2,-2.5 3,-1.5z"/>
<path fill="rgb(105,105,105)" fill-rule="evenodd" d="M1235.5,125l1.5,-3 3.5,-3 5.5,-3 5.5,-2 7,-2 7,-1.5 7,-1 8,-.5 8,.5 7,1 7,1.5 7,2.5 5.5,2.5 4.5,3 3,3 1,3 -1.5,3 -3.5,3 -5,3.5 -9,4.5 -7,3 -7,2 -6,1.5 -5,0 -6,-.5 -7,-1.5 -7,-2.5 -9,-4 -7,-4 -4.5,-3 -3,-3zM1279.5,237l3,.5 2,1 4,4.5 3,6.5 1.5,8.5 -.5,7 -1,5 -1.5,3 -3.5,4.5 -1,1.5 -.5,21 -.5,3 -1,1.5 -1,-2 -.5,-2.5 -1,-18 -.5,-2.5 -1,-.5 -1.5,1 -.5,3 -1,19 -1,2.5 -1,-2.5 -1.5,-23 -.5,-2 -3,-3 -2,-3 -1,-4 -.5,-4 0,-5 .5,-5 3,-8 2,-3.5 3,-3 2,-1z"/>
<path fill="rgb(107,107,107)" fill-rule="evenodd" d="M1238,125l1,-3 3,-3 5.5,-3 4.5,-2 6.5,-2 7,-1 14,-1.5 14,1.5 6.5,1 6.5,2 5,2 5,3 3.5,3 1,3 -.5,2.5 -3,3 -5,3 -8,4 -8,3 -6,2 -6,1.5 -5,0 -6,-.5 -6,-1 -14,-5.5 -7,-3.5 -5,-3 -3,-3.5zM1279.5,238l3,.5 2,1 4,4.5 2.5,7 1.5,8 0,6 -1.5,5 -2,4 -2.5,3 -1,2 -.5,21 -.5,2.5 -1,1.5 -1,-2 -.5,-2 -.5,-18 -1,-3 -1,0 -1,.5 -1,2.5 -1,19 0,2 -1,1 -1,-2 -.5,-3 -1,-20 -.5,-2 -3,-3 -1.5,-3 -1,-4 -.5,-4 0,-5 .5,-5 3,-8 2,-3 2.5,-2 2,-1.5z"/>
<path fill="rgb(110,110,110)" fill-rule="evenodd" d="M1240,124l1,-2 3,-3 5,-3 5,-2 12.5,-3 13,-1 13,1 12.5,3 4.5,2 5.5,3 3,3 .5,2 -.5,2 -2.5,3 -4,3 -6,3 -14,5 -6,1.5 -6,0 -6,0 -6,-1.5 -14,-5.5 -6,-2.5 -4,-3 -3,-3zM1279.5,239l3,.5 2,1.5 3.5,4 2.5,6 1.5,8 0,6 -1,5 -1.5,3 -3,4 -1,1 -1,22 0,2.5 -1,1 -1.5,-3.5 -.5,-18.5 -1,-2.5 -1,-.5 -1.5,.5 -.5,3 -1,19 0,1.5 -1,1 -1,-1.5 -.5,-3 -.5,-20.5 -1,-1.5 -2.5,-3 -1.5,-3 -2,-7 0,-5 1,-4.5 1,-4.5 1.5,-4 2.5,-3 2,-2 2,-1.5z"/>
<path fill="rgb(113,113,113)" fill-rule="evenodd" d="M1242.5,124l.5,-2 2.5,-3 3,-2 6,-2.5 12,-3 13,-1 13,1 12,3 5.5,2.5 3,2 3,3 .5,2 -1,2 -2,2.5 -4,2.5 -6,2.5 -13,4.5 -6,1 -5,.5 -5,-.5 -6,-1 -13,-4.5 -9,-4.5 -3.5,-3zM1279.5,240l4,1 2,1.5 2,2.5 3,7 1.5,8 -.5,5 -1,5 -1.5,3 -2.5,3.5 -1,1.5 -1,21 0,3 -1,1.5 -1,-2 -1,-20.5 -1,-2 -1,-.5 -1.5,.5 -.5,3 -1,19 -1,2.5 -1,-1.5 -.5,-3 -.5,-21 -5,-7 -1.5,-7 .5,-9 3,-8 2,-3 2,-2 2,-1z"/>
<path fill="rgb(116,116,116)" fill-rule="evenodd" d="M1244.5,123l1,-2 2,-2 3,-2 6,-2.5 11,-2.5 12,-1 12,1 11,2.5 6,2.5 3,2 2,2 .5,2 -.5,2 -2,2 -3,2.5 -5,2 -13,4.5 -6,1 -5,0 -5,0 -6,-1 -13,-4.5 -5,-2 -3.5,-2.5 -2,-2zM1279.5,241l2,.5 2,.5 2,2 2,2.5 2.5,5.5 1.5,8 0,5 -1.5,5 -1,3 -3,3 -.5,2 -1,21 0,2.5 -1,1.5 -1,-2 -1,-20.5 -1,-2 -1,-.5 -1.5,1 -.5,2 -1,20 -1,2 -1.5,-4 -.5,-21 -4.5,-7 -1,-3 -.5,-4 .5,-8 2.5,-8 2,-3 2,-2 2,-1z"/>
<path fill="rgb(120,120,120)" fill-rule="evenodd" d="M1248,122l1,-2 2.5,-2 7,-3 10,-2.5 11,-1 11,1 10,2.5 7,3 2.5,2 1,2 -.5,2 -2,2 -3,2 -4,2 -12,3.5 -10,1 -11,-1.5 -11,-3 -7.5,-4 -1.5,-2zM1279.5,242.5l2,.5 2,.5 2,2 2,2.5 2.5,6 1,7 0,5 -1,4 -1.5,3 -2.5,3 -1,2 -.5,23.5 -1,1.5 -1.5,-4 -.5,-19 -1,-2 -1,0 -1,0 -1,3 -1,20 -1,2 -1,-2 -.5,-11 -.5,-12 0,-1 -4,-6 -1,-3 -.5,-4 .5,-8 2.5,-7 3.5,-4.5 2,-1.5z"/>
<path fill="rgb(126,126,126)" fill-rule="evenodd" d="M1253,121l.5,-1 2,-2 6.5,-3 8.5,-1.5 9,-.5 9,.5 8,1.5 7,3 2,2 .5,1 -.5,2 -1,1 -3,2 -3,1.5 -9,2.5 -10,.5 -10,-1 -9,-2 -6,-3.5 -1,-1zM1279.5,244.5l2,.5 2,1 3,3 2.5,5 1.5,7 0,4 -1,4 -1,3 -3.5,5 -.5,22 -1,3.5 -1,-3.5 -1,-20 -.5,-1 -1.5,-.5 -2,.5 0,1 -1,21 -1,2.5 -.5,-1.5 -1,-11 0,-13 -4,-6 -1.5,-6 .5,-7 2.5,-7 2,-3 2,-2 2,-1z"/>
<path fill="rgb(133,133,133)" fill-rule="evenodd" d="M1258.5,121l0,-1 2,-2 4,-2 7,-1.5 8,-.5 8,.5 7,1.5 4,2 2,2 0,1 -.5,1 -1.5,1.5 -5,2 -7,1.5 -7,.5 -7,-.5 -7,-1.5 -5,-2zM1279.5,246.5l2,.5 2,1 3,3.5 2,4.5 1,6 0,4 -1,4 -4,7 .5,13 -.5,9 -1,2.5 -1,-3.5 -1,-20 -1,-1 -1,0 -1.5,0 -1,1 -.5,21 -1,2.5 -1,-3.5 -.5,-9 .5,-12 -4,-6 -1.5,-6 1,-7 2,-6 3.5,-4 2,-1z"/>
<path fill="rgb(139,139,139)" fill-rule="evenodd" d="M1265,120l0,-1 1,-1 2.5,-1 5,-1 6,-.5 6,.5 5,1 2,1 1,1 .5,1 -1.5,2 -2.5,1 -4.5,1.5 -6,0 -6,-.5 -5,-1 -2,-1zM1279.5,248.5l3,.5 3,3 2,4 1.5,6 0,4 -1,4 -4,7 .5,4 0,8 -.5,9 -.5,3 -1,-3 -.5,-8 0,-12 -.5,-1 -2,-.5 -2.5,.5 -.5,1 0,11 0,8.5 -1,3.5 -1.5,-12 0,-8 1,-4 -4,-7 -1,-5 .5,-6 2,-5 3,-4 2,-1z"/>
<path fill="rgb(145,145,145)" fill-rule="evenodd" d="M1276,119l3.5,-.5 3,.5 -.5,1 -2.5,.5 -2.5,-.5zM1278.5,250.5l3,0 3,2 2,3.5 1.5,5 .5,5 -1,4 -4,6.5 -1,0 -3,-.5 -3,1 -1,-1 -3.5,-5 -1.5,-4 0,-6 1.5,-5 3.5,-4zM1283.5,278l1,3 0,8 -1,11.5 -1.5,-11.5 .5,-8.5zM1275.5,278.5l1,.5 0,10 -.5,9 -.5,2.5 -1.5,-11.5 .5,-8z"/>
<path fill="rgb(152,152,152)" fill-rule="evenodd" d="M1278.5,252l3,0 3,2.5 2,3 1,4.5 .5,4 -1,4 -2.5,4 -2,2 -6,0 -1,-1 -3,-4 -1.5,-4 0,-5 1.5,-5 3,-3.5zM1275.5,279l1,1.5 0,8.5 -1,10.5 -1,-10.5 0,-7zM1283.5,279l1,3 0,7 -1,10.5 -1,-10.5 0,-8z"/>
<path fill="rgb(158,158,158)" fill-rule="evenodd" d="M1279.5,253l3,1 2,2 2,4 1,4 -.5,4 -2,4 -1.5,2.5 -3,1 -3,0 -2.5,-1.5 -2.5,-4 -1,-5 .5,-4 1.5,-4 3,-3zM1275.5,280l.5,2 .5,7 -1,8 -1,-8 .5,-7zM1283.5,280l.5,2 0,7 -.5,8 -1,-8 0,-7z"/>
<path fill="rgb(164,164,164)" fill-rule="evenodd" d="M1279.5,254.5l3,1 2,2 1.5,3.5 .5,4 -.5,4 -2,4 -1.5,1.5 -3,.5 -3,-.5 -1.5,-1.5 -2.5,-4 -.5,-4 .5,-4 2,-3.5 2,-2zM1275.5,281l0,1 .5,7 -.5,4 -.5,-4zM1283.5,280.5l.5,8.5 -.5,4 -.5,-4z"/>
<path fill="rgb(171,171,171)" fill-rule="evenodd" d="M1279.5,255.5l3,1 2,2.5 1,3 .5,3 -.5,4 -1.5,3 -1.5,2 -3,1 -3,-1 -2,-2 -1.5,-3 -.5,-4 1,-4 1.5,-3 2.5,-2zM1275.5,282l0,7 0,2.5zM1283.5,282l0,7 0,2.5z"/>
<path fill="rgb(177,177,177)" fill-rule="evenodd" d="M1279.5,256.5l2,.5 2,2 1.5,3 .5,4 -.5,3 -1,3 -1.5,2 -3,.5 -3,-1 -1.5,-1.5 -1.5,-3 -.5,-4 .5,-3 2,-3 2,-1.5z"/>
<path fill="rgb(184,184,184)" fill-rule="evenodd" d="M1279.5,258l2,.5 2,1.5 1,3 .5,3 0,3 -1.5,3 -2,2 -2,.5 -2,-.5 -2,-2 -1.5,-3 -.5,-3 .5,-3 1.5,-2.5 2,-2z"/>
<path fill="rgb(190,190,190)" fill-rule="evenodd" d="M1279.5,259l2,.5 2,2 1,2.5 0,3 -.5,3 -1,2 -1.5,1.5 -2,.5 -2,-.5 -2,-1.5 -1,-2 -.5,-3 .5,-3 1,-3 2,-1.5z"/>
<path fill="rgb(196,196,196)" fill-rule="evenodd" d="M1279.5,260l2,.5 1.5,1.5 1,2 0,3 0,3 -1.5,2 -1,1.5 -2,.5 -2,-1 -1.5,-1 -1,-2 -.5,-3 .5,-3 1,-2 1.5,-1.5z"/>
<path fill="rgb(203,203,203)" fill-rule="evenodd" d="M1279.5,261l2,.5 1,1 1,2 .5,2.5 -.5,3 -1,2 -1,1 -2,.5 -2,-.5 -2,-2 -.5,-4 .5,-2 1,-2 1,-1.5z"/>
<path fill="rgb(209,209,209)" fill-rule="evenodd" d="M1279.5,262l2,.5 1,1 1,2 0,2.5 -.5,2 -.5,2 -1,1 -2,.5 -2,-1 -1,-1 -1.5,-3.5 .5,-2 1,-2 1,-1.5z"/>
<path fill="rgb(215,215,215)" fill-rule="evenodd" d="M1279.5,262.5l2,1 1,1 1,3.5 -1,3.5 -1,1 -2,.5 -2,-.5 -1,-1.5 -1,-3 1,-3 1,-1.5z"/>
<path fill="rgb(222,222,222)" fill-rule="evenodd" d="M1279.5,263.5l2,.5 1,1 .5,3 -.5,3 -1,1.5 -2,.5 -2,-1 -1,-1 -1,-3 1,-3 2,-1.5z"/>
<path fill="rgb(228,228,228)" fill-rule="evenodd" d="M1279.5,264l1,0 1.5,1 1,3 -1,3 -1,1 -1.5,.5 -1.5,-.5 -1,-1 -1,-3 1,-3z"/>
<path fill="rgb(235,235,235)" fill-rule="evenodd" d="M1279.5,264.5l2,.5 1,3 -.5,3 -1.5,1.5 -1,0 -2.5,-1.5 -1,-3 1.5,-2.5z"/>
<path fill="rgb(241,241,241)" fill-rule="evenodd" d="M1279.5,264.5l2,1 1,2.5 -1,3 -2,1.5 -2,-1.5 -1,-3 1,-2z"/>
<path fill="rgb(247,247,247)" fill-rule="evenodd" d="M1279.5,265l2,1 .5,2 -.5,3 -2,1 -2,-1 -.5,-3 .5,-1.5z"/>
<path fill="rgb(254,254,254)" fill-rule="evenodd" d="M1278.5,266l2,0 1,1 0,3 -1,1.5 -2,0 -1,-1.5 -.5,-3z"/>
</g>
<path d="M1275.5,270.5 l7.2,0 l0.6,46 l-7.2,0z" fill="#050508"/>
</g>
<path d="M1175,39.2v-2.8M1175,375.2v2.8M1181.2,39.2v-2.8M1181.2,375.2v2.8M1187.3,39.2v-5.2M1187.3,375.2v5.2M1193.4,39.2v-2.8M1193.4,375.2v2.8M1199.6,39.2v-2.8M1199.6,375.2v2.8M1205.7,39.2v-2.8M1205.7,375.2v2.8M1211.9,39.2v-2.8M1211.9,375.2v2.8M1218,39.2v-5.2M1218,375.2v5.2M1224.1,39.2v-2.8M1224.1,375.2v2.8M1230.3,39.2v-2.8M1230.3,375.2v2.8M1236.4,39.2v-2.8M1236.4,375.2v2.8M1242.6,39.2v-2.8M1242.6,375.2v2.8M1248.7,39.2v-5.2M1248.7,375.2v5.2M1254.8,39.2v-2.8M1254.8,375.2v2.8M1261,39.2v-2.8M1261,375.2v2.8M1267.1,39.2v-2.8M1267.1,375.2v2.8M1273.3,39.2v-2.8M1273.3,375.2v2.8M1279.4,39.2v-5.2M1279.4,375.2v5.2M1285.5,39.2v-2.8M1285.5,375.2v2.8M1291.7,39.2v-2.8M1291.7,375.2v2.8M1297.8,39.2v-2.8M1297.8,375.2v2.8M1304,39.2v-2.8M1304,375.2v2.8M1310.1,39.2v-5.2M1310.1,375.2v5.2M1316.2,39.2v-2.8M1316.2,375.2v2.8M1322.4,39.2v-2.8M1322.4,375.2v2.8M1328.5,39.2v-2.8M1328.5,375.2v2.8M1334.7,39.2v-2.8M1334.7,375.2v2.8M1340.8,39.2v-5.2M1340.8,375.2v5.2M1346.9,39.2v-2.8M1346.9,375.2v2.8M1353.1,39.2v-2.8M1353.1,375.2v2.8M1359.2,39.2v-2.8M1359.2,375.2v2.8M1365.4,39.2v-2.8M1365.4,375.2v2.8M1371.5,39.2v-5.2M1371.5,375.2v5.2M1377.6,39.2v-2.8M1377.6,375.2v2.8M1383.8,39.2v-2.8M1383.8,375.2v2.8M1169.3,372.9h-2.8M1389.5,372.9h2.8M1169.3,366.8h-2.8M1389.5,366.8h2.8M1169.3,360.7h-2.8M1389.5,360.7h2.8M1169.3,354.5h-5.2M1389.5,354.5h5.2M1169.3,348.4h-2.8M1389.5,348.4h2.8M1169.3,342.3h-2.8M1389.5,342.3h2.8M1169.3,336.1h-2.8M1389.5,336.1h2.8M1169.3,330h-2.8M1389.5,330h2.8M1169.3,323.9h-2.8M1389.5,323.9h2.8M1169.3,317.7h-2.8M1389.5,317.7h2.8M1169.3,311.6h-2.8M1389.5,311.6h2.8M1169.3,305.5h-2.8M1389.5,305.5h2.8M1169.3,299.3h-2.8M1389.5,299.3h2.8M1169.3,293.2h-5.2M1389.5,293.2h5.2M1169.3,287.1h-2.8M1389.5,287.1h2.8M1169.3,280.9h-2.8M1389.5,280.9h2.8M1169.3,274.8h-2.8M1389.5,274.8h2.8M1169.3,268.7h-2.8M1389.5,268.7h2.8M1169.3,262.5h-2.8M1389.5,262.5h2.8M1169.3,256.4h-2.8M1389.5,256.4h2.8M1169.3,250.3h-2.8M1389.5,250.3h2.8M1169.3,244.1h-2.8M1389.5,244.1h2.8M1169.3,238h-2.8M1389.5,238h2.8M1169.3,231.9h-5.2M1389.5,231.9h5.2M1169.3,225.7h-2.8M1389.5,225.7h2.8M1169.3,219.6h-2.8M1389.5,219.6h2.8M1169.3,213.5h-2.8M1389.5,213.5h2.8M1169.3,207.4h-2.8M1389.5,207.4h2.8M1169.3,201.2h-2.8M1389.5,201.2h2.8M1169.3,195.1h-2.8M1389.5,195.1h2.8M1169.3,189h-2.8M1389.5,189h2.8M1169.3,182.8h-2.8M1389.5,182.8h2.8M1169.3,176.7h-2.8M1389.5,176.7h2.8M1169.3,170.6h-5.2M1389.5,170.6h5.2M1169.3,164.4h-2.8M1389.5,164.4h2.8M1169.3,158.3h-2.8M1389.5,158.3h2.8M1169.3,152.2h-2.8M1389.5,152.2h2.8M1169.3,146h-2.8M1389.5,146h2.8M1169.3,139.9h-2.8M1389.5,139.9h2.8M1169.3,133.8h-2.8M1389.5,133.8h2.8M1169.3,127.6h-2.8M1389.5,127.6h2.8M1169.3,121.5h-2.8M1389.5,121.5h2.8M1169.3,115.4h-2.8M1389.5,115.4h2.8M1169.3,109.2h-5.2M1389.5,109.2h5.2M1169.3,103.1h-2.8M1389.5,103.1h2.8M1169.3,97h-2.8M1389.5,97h2.8M1169.3,90.8h-2.8M1389.5,90.8h2.8M1169.3,84.7h-2.8M1389.5,84.7h2.8M1169.3,78.6h-2.8M1389.5,78.6h2.8M1169.3,72.4h-2.8M1389.5,72.4h2.8M1169.3,66.3h-2.8M1389.5,66.3h2.8M1169.3,60.2h-2.8M1389.5,60.2h2.8M1169.3,54.1h-2.8M1389.5,54.1h2.8M1169.3,47.9h-5.2M1389.5,47.9h5.2M1169.3,41.8h-2.8M1389.5,41.8h2.8" stroke="#111" stroke-width="1.3" fill="none"/>
<g class="s">
<text x="1186.5" y="32.9" font-size="16" text-anchor="middle" >-3</text>
<text x="1186.5" y="393.6" font-size="16" text-anchor="middle" >-3</text>
<text x="1217.2" y="32.9" font-size="16" text-anchor="middle" >-2</text>
<text x="1217.2" y="393.6" font-size="16" text-anchor="middle" >-2</text>
<text x="1247.9" y="32.9" font-size="16" text-anchor="middle" >-1</text>
<text x="1247.9" y="393.6" font-size="16" text-anchor="middle" >-1</text>
<text x="1279.4" y="32.9" font-size="16" text-anchor="middle" >0</text>
<text x="1279.4" y="393.6" font-size="16" text-anchor="middle" >0</text>
<text x="1310.1" y="32.9" font-size="16" text-anchor="middle" >1</text>
<text x="1310.1" y="393.6" font-size="16" text-anchor="middle" >1</text>
<text x="1340.8" y="32.9" font-size="16" text-anchor="middle" >2</text>
<text x="1340.8" y="393.6" font-size="16" text-anchor="middle" >2</text>
<text x="1371.5" y="32.9" font-size="16" text-anchor="middle" >3</text>
<text x="1371.5" y="393.6" font-size="16" text-anchor="middle" >3</text>
<text x="1163.3" y="53.8" font-size="15.5" text-anchor="end" >8</text>
<text x="1395.5" y="53.8" font-size="15.5" >8</text>
<text x="1163.3" y="115.1" font-size="15.5" text-anchor="end" >6</text>
<text x="1395.5" y="115.1" font-size="15.5" >6</text>
<text x="1163.3" y="176.5" font-size="15.5" text-anchor="end" >4</text>
<text x="1395.5" y="176.5" font-size="15.5" >4</text>
<text x="1163.3" y="237.8" font-size="15.5" text-anchor="end" >2</text>
<text x="1395.5" y="237.8" font-size="15.5" >2</text>
<text x="1163.3" y="299.1" font-size="15.5" text-anchor="end" >0</text>
<text x="1395.5" y="299.1" font-size="15.5" >0</text>
<text x="1163.3" y="360.4" font-size="15.5" text-anchor="end" >-2</text>
<text x="1395.5" y="360.4" font-size="15.5" >-2</text>
</g>
<text x="1280.4" y="421.6" font-size="24" font-weight="bold" text-anchor="middle" >q<tspan font-size="15.5" dy="5">XY</tspan><tspan dy="-5"> (nm</tspan><tspan font-size="14.5" dy="-8">-1</tspan><tspan dy="8">)</tspan></text>
<text x="1142.5" y="197" font-size="24" font-weight="bold" text-anchor="middle" transform="rotate(-90 1142.5 197)" >q<tspan font-size="15.5" dy="5">Z</tspan><tspan dy="-5"> (nm</tspan><tspan font-size="14.5" dy="-8">-1</tspan><tspan dy="8">)</tspan></text>
<g clip-path="url(#hc4)"><g filter="url(#cm)">
<rect x="1460.3" y="29.2" width="236.1" height="352" fill="rgb(4,4,4)" />
<path fill="rgb(6,6,6)" fill-rule="evenodd" d="M1462.5,31l233,0 0,256 -36,0 -14,.5 -28.5,2.5 -6.5,1 -2.5,1 -1,1 -.5,2 -2,15 -1.5,9 -3,9 -3,6 -4,6 -4.5,5 -5,2.5 -6,1.5 -6,-1.5 -5,-3 -5,-5.5 -4,-6 -2.5,-6 -2.5,-7 -2,-9 -2,-16 -.5,-2 -1,-1 -2.5,-1 -6.5,-1 -26.5,-2.5 -14,-.5 -35,0z"/>
<path fill="rgb(9,9,9)" fill-rule="evenodd" d="M1462.5,31l233,0 0,254.5 -42,0 -19,.5 -28,4 -2.5,1 -1.5,2 -1.5,13 -1.5,9 -2,7 -2.5,6 -4,6 -4.5,4.5 -4,2 -5,1 -5,-1 -4,-2.5 -4,-4 -4,-6 -2.5,-6 -2.5,-7 -1.5,-9 -1,-13 -1.5,-2 -3,-1 -27,-4 -19,-.5 -40,0z"/>
<path fill="rgb(12,12,12)" fill-rule="evenodd" d="M1462.5,31l233,0 0,253 -47,.5 -20,.5 -8,1 -18,4 -2,1 -1,2 -.5,10 -1.5,8 -1.5,7 -3,7 -3.5,5.5 -4,4 -4,2 -4,.5 -4,-1 -4,-2 -4,-4 -3,-5 -3,-6 -2,-8 -1,-7 -1,-11 -1,-2 -1.5,-1 -17.5,-4 -8,-1 -20,-.5 -45,-.5z"/>
<path fill="rgb(15,15,15)" fill-rule="evenodd" d="M1462.5,31l233,0 0,252 -53,.5 -21,.5 -7,1 -5,2 -10,3 -2,2 -1.5,17 -2,7 -2.5,6 -3,5 -3,3.5 -4,2 -4,1 -4,-1 -4,-2.5 -3,-3.5 -3,-4.5 -2.5,-6 -1.5,-6 -1,-7 -1,-11 -2,-2 -10,-3 -5,-2 -7,-1 -20,-.5 -51,-.5z"/>
<path fill="rgb(18,18,18)" fill-rule="evenodd" d="M1462.5,31l233,0 0,250.5 -70,1 -10,.5 -5,1 -5,3 -6,2.5 -3,1.5 -1,2 -.5,9 -.5,6 -1.5,6 -2,5 -3,5 -3.5,4 -3,1.5 -4,1 -4,-1 -3,-2 -3,-3.5 -3,-5 -2,-5 -1.5,-6 -1,-7 -.5,-8 -.5,-2 -3.5,-2 -6,-2 -4,-3 -5,-1 -9,-.5 -69,-1z"/>
<path fill="rgb(20,20,20)" fill-rule="evenodd" d="M1462.5,31l233,0 0,245.5 -76,3 -7,1 -5,1.5 -2.5,1 -1,3 -1,1 -5.5,2.5 -3,1.5 -.5,2 0,8 -1,6 -1,5 -2,5 -2.5,4.5 -3,3.5 -3,2 -4,.5 -4,-1 -3,-2 -3,-3.5 -2,-4 -2,-5 -1.5,-5 -.5,-6 -.5,-8 -.5,-2 -2,-1.5 -6,-2.5 -1.5,-1 -1,-3 -1.5,-1 -5,-1.5 -7,-1 -74,-3z"/>
<path fill="rgb(23,23,23)" fill-rule="evenodd" d="M1462.5,31l233,0 0,239.5 -77,5 -6,.5 -4,1.5 -3,2 -3.5,2.5 -.5,1 0,3 -1,1 -5,2.5 -2.5,1.5 -.5,2 0,7 -1,6 -2.5,9 -2.5,5 -3,3 -3,1.5 -3,.5 -3,-.5 -3,-2 -3,-3.5 -2.5,-4 -2.5,-9 -1,-6 0,-7 -.5,-2 -1.5,-1 -6,-3 -1,-1 0,-3 -.5,-1 -2.5,-2 -4,-2.5 -4,-1.5 -6,-.5 -74,-5z"/>
<path fill="rgb(26,26,26)" fill-rule="evenodd" d="M1462.5,31l233,0 0,234.5 -46,4 -32,2.5 -5,.5 -4,1.5 -4,3 -4.5,4 -1,2 .5,3 -1,1 -5,3 -1.5,1 -.5,2 -.5,7 -.5,5 -1,5 -1.5,4 -2.5,4 -2,2.5 -3,2 -3,0 -3,-.5 -3,-2 -2.5,-3 -2,-4 -2.5,-8 -.5,-5 0,-7 -.5,-2 -1,-1 -6,-3 -1,-1 .5,-3 -.5,-1.5 -5,-5 -3,-2.5 -4,-1.5 -5,-.5 -32,-2.5 -44,-3.5z"/>
<path fill="rgb(29,29,29)" fill-rule="evenodd" d="M1462.5,31l233,0 0,230 -42,5 -37,3 -5,1 -3,1 -4,3 -6.5,7 -1,2 1,3 -1,1 -5.5,3 -1,1 -.5,2 0,7 -1,6 -2,6 -2.5,5 -1,2 -2,1 -4,.5 -3,-.5 -2,-1 -2,-2 -2,-4 -2.5,-9 -1,-11 -.5,-2 -1,-1 -5.5,-3 -.5,-1 .5,-3 -.5,-2 -6,-7 -4,-3 -3,-1 -5,-1 -37,-3 -40,-4.5z"/>
<path fill="rgb(32,32,32)" fill-rule="evenodd" d="M1568.5,45.5l17,0 17,1.5 18,2.5 16,4 16,5 15,6.5 15,8 13,8.5 0,175 -40,6 -40,4 -5,1 -3,1 -4,3.5 -7.5,9 -.5,2 1,3 -1,1 -5,3 -1,1 -1,2 0,10 -2.5,9 -2.5,5 -2,2 -4,-1 -3,1 -1,-.5 -2.5,-2.5 -2.5,-5 -1.5,-7 -.5,-5 0,-6 -.5,-2 -1,-1 -5.5,-3 -.5,-1 1,-3 -1,-2 -7.5,-9.5 -4,-3 -3,-1 -4,-1 -39,-4 -39,-5.5 0,-177.5 11,-7 13,-6.5 12,-5.5 13,-5 14,-4 14,-2.5 14,-2.5z"/>
<path fill="rgb(34,34,34)" fill-rule="evenodd" d="M1573.5,65.5l16,.5 18,2 17,3.5 16,5 15,6.5 15,8 13,8.5 12,10 0,141.5 -13.5,3 -18.5,3.5 -22,3.5 -26,3 -5,1 -3,1 -4,3.5 -9,11.5 -.5,2 1,3 -1,1 -5,3 -1,1 -.5,2 -.5,10 -1,8 -2.5,5 -1,1.5 -1,.5 -4,-1.5 -2,1 -2,0 -2.5,-2.5 -1.5,-3 -1,-5 -1.5,-16 -6,-4 -.5,-1 1,-3 -1,-2 -8,-11 -4,-3.5 -3,-1.5 -4,-1 -41,-5 -21,-3.5 -17,-4 0,-144 11,-9 12,-8 13,-7 14,-6 14,-4.5 15,-3.5 16,-3z"/>
<path fill="rgb(37,37,37)" fill-rule="evenodd" d="M1574.5,77l16,.5 20,3 17,4 15,5.5 15,7 14,8.5 13,10.5 11,10.5 0,118 -14,4.5 -18,5 -22,4 -27,3.5 -5,1.5 -3,1.5 -4,4 -5.5,7.5 -4.5,6 0,1 1,3 -.5,1 -5,3 -1,1 -1.5,19 -1.5,5 -1.5,2 -1,0 -1,0 -3,-2.5 -2,2 -2,.5 -1,-.5 -2,-2.5 -1,-3 -.5,-7 -.5,-13 -1,-1 -5,-3 -1,-1 1.5,-3 -.5,-1 -4.5,-6 -5.5,-8.5 -4,-3.5 -3,-1.5 -4,-1 -27,-3.5 -21,-4 -16,-4 -15,-4.5 0,-121.5 11,-10 12,-9.5 13,-7.5 13,-6.5 14,-5 15,-4 17,-3z"/>
<path fill="rgb(40,40,40)" fill-rule="evenodd" d="M1574.5,84.5l16,.5 20,3.5 17,4.5 16,6 15,8 14,9.5 12,10.5 11,12.5 0,96.5 -14.5,7 -17.5,6.5 -21,5 -29,4.5 -4,1.5 -3,1.5 -4,4 -6.5,10 -4.5,6 -.5,1 1.5,3 -1,1 -4,2.5 -1,1.5 -.5,14 -1,7 -1.5,3.5 -2,1 -1.5,-.5 -2.5,-2.5 -1.5,1.5 -1.5,1.5 -2,-.5 -1.5,-2 -1.5,-5 -.5,-18 -.5,-1 -5,-3 -.5,-1 1,-3 0,-1 -5,-6 -5.5,-9.5 -2,-2.5 -3,-2.5 -3,-1.5 -4,-1 -26,-4 -21,-5 -18,-6 -14,-6.5 0,-101 10,-11.5 12,-9.5 13,-9 13,-6.5 15,-6 15,-4.5 18,-3.5z"/>
<path fill="rgb(43,43,43)" fill-rule="evenodd" d="M1575.5,90l8,.5 8,.5 21,4 17,5 16,6.5 15,8.5 13,10 12,12 10,13 0,76 -7,5 -8.5,5 -10,5 -9.5,4 -9,3 -11,3 -28,5.5 -3,1 -3,2 -4,4 -6.5,11.5 -6,7 0,1 1,3 -.5,1 -3,2 -1.5,1 -1,21 -1.5,4 -1,1 -1,0 -2,-1 -2,-3 -2,3 -1,1 -2,-.5 -2,-3.5 -.5,-4 -.5,-17.5 -1,-1 -4,-2.5 -.5,-1 1.5,-3 -.5,-1 -5.5,-7 -6,-11 -4,-4 -3,-2 -4,-1.5 -28,-5.5 -11,-3 -9,-3 -9.5,-4 -8,-4 -7.5,-4 -7,-5 0,-81.5 4.5,-6.5 9.5,-10 11,-9.5 13,-8.5 13,-7 14,-5.5 15,-4.5 18,-3.5z"/>
<path fill="rgb(46,46,46)" fill-rule="evenodd" d="M1575.5,95l8,0 9,1 21,4 18,5.5 16,7.5 8,4.5 7,5 13,11 6,6 5,6.5 5,7 4,6.5 0,56 -6.5,5.5 -9.5,7 -10,6.5 -11,5.5 -9.5,4 -9.5,3.5 -27,6.5 -4,1.5 -3,2 -4,5.5 -6.5,12 -6,7 -.5,1 1.5,3 -.5,1 -3,2 -1,2 -.5,20 -1.5,4 -1,.5 -1,.5 -2,-1.5 -2,-3.5 -1.5,3 -1.5,2 -1,0 -1,-1 -1.5,-2 -1,-6 -.5,-17.5 -3.5,-2.5 -.5,-1 1,-3 0,-1 -5.5,-6 -7.5,-14 -4,-5 -3,-2 -3,-1 -26,-6 -9,-3 -9.5,-4 -10.5,-5 -9,-5.5 -10,-7 -7,-5.5 0,-62.5 6,-9.5 6.5,-8 9.5,-9 11,-8.5 11,-6.5 12,-6 13,-5 14,-4 17,-3z"/>
<path fill="rgb(48,48,48)" fill-rule="evenodd" d="M1575.5,98.5l8,0 10,1.5 11,1.5 11,3 9,2.5 9,3.5 16,8 8,5 7,5.5 7,6 6,6 5.5,7 5,7 4,7 3.5,8 0,34 -2.5,3 -4.5,5.5 -8.5,6.5 -12.5,9 -12,7 -9,5 -9,3.5 -26,7.5 -3,1.5 -3,2.5 -4,5.5 -7.5,14.5 -6.5,7 0,1 1,3 -.5,1 -1.5,1.5 -1,2.5 -1,20 -1,3.5 -2,1 -2,-1.5 -2,-4.5 -1,3.5 -2,2.5 -1,0 -1,-.5 -1.5,-2 -.5,-2 -1,-21 0,-1 -2.5,-2 -.5,-1 1,-2 0,-2 -6.5,-7 -6.5,-14 -2,-3 -3,-3.5 -3,-2.5 -3,-1 -25,-7.5 -9,-3.5 -9,-4.5 -11,-6.5 -13,-9 -9,-7 -5,-5.5 0,-43 4,-8.5 5,-7 5.5,-7 6.5,-6.5 9,-7.5 10,-7 11,-6.5 11,-5 12,-4 13,-3.5 14,-2.5z"/>
<path fill="rgb(51,51,51)" fill-rule="evenodd" d="M1575.5,101.5l9,.5 11,1.5 13,2.5 11,3 10,3.5 9,4 8,4 9,6 8,6 7,6.5 6.5,7 6,8 4.5,8 3.5,8 2.5,8 1,7 -1,8 -1,4 -2,3 -4.5,6 -7.5,6.5 -18,12.5 -15,9 -13,6.5 -21,7 -3,1.5 -3,3 -4,5.5 -7.5,16.5 -2,3 -5,5 -.5,2 1,2 -2,3 -.5,2 -.5,19 -1,4 -1,1 -1,.5 -1,-.5 -1.5,-2 -1.5,-5.5 -.5,3.5 -1.5,3.5 -1,.5 -1,.5 -1,-1 -1,-1.5 -1,-4 -.5,-18 -.5,-2.5 -2,-2.5 1,-2 0,-2 -6.5,-7 -7.5,-16.5 -2,-3.5 -3,-4 -3,-2.5 -4,-1.5 -16,-5.5 -11,-4.5 -8,-4 -9.5,-6 -15.5,-10.5 -11,-8.5 -5.5,-6 -3.5,-6.5 0,-20 4,-11.5 5,-9 6,-8 7,-8 8,-7 9,-6.5 9,-5.5 10,-5.5 9,-3.5 11,-3.5 12,-3 13,-2z"/>
<path fill="rgb(54,54,54)" fill-rule="evenodd" d="M1575.5,104.5l9,0 9,1 12,2.5 11,3 9,3 10,4 9,4.5 8,5 8,6 7,6.5 6.5,7 5.5,7 4,7 3.5,8 2,7 1,7 -.5,6 -2,6 -3.5,5 -5.5,5 -22,15.5 -13,8.5 -13,6.5 -19,8 -3,2 -3,2.5 -4,6.5 -8.5,19.5 -2,3 -4.5,5 -.5,2 .5,2 -1,3 -1,21 -1,4 -1,1 -1,0 -1.5,-1 -1.5,-2 -1,-8 -.5,6 -1,3 -1.5,2 -1,0 -2,-2 -1,-4 -.5,-18 -1.5,-5 .5,-3 -.5,-2 -4.5,-4 -2,-3 -7.5,-18.5 -2,-4 -3,-4 -3,-2.5 -3,-2 -18,-7 -13,-7 -12.5,-8 -21.5,-15 -6,-5 -4,-5 -2.5,-5 -1,-6 .5,-7 2,-7 3,-8 4,-7 5,-7 6,-7 7,-6 8,-6.5 7,-4.5 9,-5 9,-4.5 8,-3 10,-3 12,-2.5 11,-2z"/>
<path fill="rgb(57,57,57)" fill-rule="evenodd" d="M1575.5,107l8,0 9,1 11,2 12,3 9,3 9,3.5 8,4.5 8,4.5 8,6 7,6 6,6.5 5.5,7 4.5,7 3,7 2,7 .5,6 0,5 -2,5 -2.5,4.5 -5,4.5 -35,23 -12,7 -18,8.5 -3,2.5 -3,3 -4,7.5 -8.5,21.5 -2.5,4 -4.5,4 -.5,2 .5,3 -1,5 -.5,18 -1,4 -1,1.5 -1,.5 -1.5,-1 -1.5,-3 -1,-9 0,-11 -.5,15 -.5,5 -.5,2 -1.5,2 -1,0 -2,-2 -1,-4 0,-18 -1.5,-5 .5,-4.5 -1,-1.5 -4,-3.5 -2.5,-3.5 -8.5,-23 -4,-7 -3,-2.5 -3,-2 -17.5,-8.5 -11.5,-6.5 -35,-23 -5,-4.5 -3,-4 -2,-5 -.5,-5 .5,-6 2,-7 3,-7 4,-7 5.5,-7 5.5,-6 6.5,-6 7.5,-5.5 7,-4.5 8,-4.5 8,-3.5 9,-3.5 10,-3 11,-2.5 10,-1.5z"/>
<path fill="rgb(60,60,60)" fill-rule="evenodd" d="M1575.5,109l8,0 9,1 11,2 11,3 9,3 9,3.5 8,4 7,4.5 7,5 7,6 6,6 5.5,7 4,6 3,7 2,6 .5,6 -.5,5 -1.5,4 -2.5,4 -3.5,3.5 -39,25 -24,13 -3,2 -3,3.5 -2,3.5 -2,4.5 -6,18 -2.5,7 -2.5,4 -4,4 -1,3 .5,3 -1,5 -.5,18 -1,4 -1,1.5 -1,0 -2,-1.5 -1,-3 -.5,-18 -.5,-2 -.5,16 -.5,5 -1,2 -1,1.5 -1,0 -1,-.5 -1,-2 -1,-4 0,-17 -1,-4 0,-6 -5,-5 -2.5,-4 -8.5,-26.5 -2,-4.5 -2,-3 -3,-3 -3,-2 -23,-12.5 -39,-25 -4,-3.5 -3,-4 -1.5,-4 -.5,-4 .5,-6 1.5,-6 3.5,-7 3.5,-6 5.5,-7 5.5,-5.5 6,-5.5 7,-5.5 8,-5 7,-3.5 9,-4 8,-3 9,-2.5 11,-2.5 9,-1.5z"/>
<path fill="rgb(62,62,62)" fill-rule="evenodd" d="M1575.5,110.5l8,.5 9,1 11,2 10,2.5 9,3 8,3 8,4 7,4.5 7,5 6,5 6,6 5,6 4,6 3.5,7 2,6 .5,5 -.5,4 -1.5,4 -2,3.5 -3,3 -5,3.5 -15.5,8 -20.5,13 -18,10.5 -5,3.5 -3,3.5 -2,3 -2,5 -5.5,20.5 -3,9 -2.5,5 -4,3.5 -1,2.5 0,4 -1,5 -.5,19 -.5,3 -1,1.5 -1,0 -2,-1.5 -1,-3 0,-18 -1,-2.5 -.5,17.5 -1,5 -1.5,2 -1,.5 -1,-.5 -1,-2 -1,-4 0,-17 -1,-5 0,-5 0,-1 -5,-5 -2,-4 -3,-8 -5.5,-22 -2.5,-5 -2,-3.5 -3,-3 -4,-3 -18,-10 -23,-14.5 -18,-10 -3,-3 -3,-4 -1,-3 -.5,-4 0,-5 2,-6 2.5,-6 4.5,-7 4.5,-6 6,-5.5 6,-5.5 7,-5 14,-8 16,-6.5 19,-4.5 9,-1.5z"/>
<path fill="rgb(65,65,65)" fill-rule="evenodd" d="M1575.5,112.5l8,0 9,1 19,4 9,3 8,3 14,7.5 7,4.5 6.5,5.5 5.5,5.5 5,5.5 4,6 3,6 2,6 1,5 -.5,4 -1.5,4 -2,3 -3,2.5 -5,3 -16,8 -34,20 -6,4.5 -4,4.5 -2,3.5 -2,6 -4.5,21 -3,10 -2,5 -4.5,5 -1,2 -1.5,29 -1,3 -.5,1 -1,.5 -1.5,-1.5 -1,-3 -.5,-19.5 -1,-2 -1,18.5 -.5,4 -.5,2 -1,1 -1,.5 -1,-1 -1,-1.5 -.5,-4 -.5,-17 -.5,-5 0,-5 -.5,-1.5 -5,-5.5 -2.5,-5 -3,-11 -4.5,-22 -2,-5 -2,-3.5 -4,-4 -6,-4.5 -34.5,-20 -14.5,-7 -5,-3 -3.5,-3 -2,-3 -1.5,-3 -.5,-4 .5,-5 1.5,-5 2.5,-6 4,-6 4.5,-6 5.5,-5 6,-5.5 7,-5 14,-7.5 16,-6.5 19,-4.5 9,-1z"/>
<path fill="rgb(68,68,68)" fill-rule="evenodd" d="M1575.5,113.5l8,.5 8,1 19,4 16,5.5 14,7 7,4.5 6,5 5.5,5 5,6 3.5,5 3.5,6 1.5,5 1,5 -.5,4 -1,3 -2,3 -2.5,2.5 -5,3 -19.5,8.5 -26.5,15.5 -8,5.5 -5,5.5 -2.5,4.5 -1.5,5.5 -3.5,22.5 -3,12 -2.5,6 -4,4.5 -1,2 -1,10.5 -.5,19 -1,3 -.5,1 -1,0 -1.5,-1 -1,-3 -.5,-20 -1,-2 -.5,3 -.5,14 -.5,6 -.5,2 -1,1 -1,0 -2,-2 -.5,-4 -.5,-17 -.5,-10 -.5,-2 -4.5,-5 -3,-7 -3,-13 -3,-21 -1.5,-5 -3,-5.5 -5,-5 -8,-5.5 -26.5,-15 -18.5,-8 -5,-3 -3,-2.5 -2,-3 -1.5,-3.5 0,-3 .5,-5 1.5,-5 3,-6 3.5,-5 4,-5 6,-5.5 12,-9.5 14,-7.5 15,-5.5 18,-4.5z"/>
<path fill="rgb(71,71,71)" fill-rule="evenodd" d="M1575.5,115l7,0 8,1 18,3.5 16,5.5 14,7 7,4.5 6,4.5 5,5 4.5,5 4,5 3,6 2,5 .5,5 0,3 -1,3.5 -2,2.5 -3,2.5 -6,3 -19.5,7.5 -20.5,11 -10,7 -3,3 -3,3.5 -2.5,4.5 -2,6 -2.5,24 -2.5,13 -2.5,7 -5,7 -1,11 -.5,19 -1,3 -1.5,1 -1.5,-1 -1,-3 -.5,-21 -1,-1.5 -1,3.5 0,14 -.5,6 -1,2 -.5,1 -1,0 -1,-1 -1,-2 -.5,-4 -.5,-25.5 -1,-3 -4.5,-5.5 -3,-8 -2.5,-12 -2,-23 -2,-6.5 -3,-5.5 -3,-4 -4,-3.5 -10.5,-6.5 -18.5,-10 -20,-7.5 -5,-2.5 -3,-2.5 -2,-2.5 -1.5,-3 -.5,-3 .5,-4 1,-5 2.5,-5 4,-6 4,-5 6,-5.5 6,-5 6,-4 13,-7 15,-5.5 18,-4.5z"/>
<path fill="rgb(74,74,74)" fill-rule="evenodd" d="M1575.5,116.5l14,.5 18,3.5 15,5 14,7 12,8 5,4.5 5,5 3.5,5 3,5 2,5 1,5 0,3 -1,3 -2,3 -2.5,2.5 -6,2.5 -21.5,7 -14.5,7.5 -7,4 -5,3.5 -4,4 -4,5 -2.5,6 -1.5,6 -1.5,24 -2,13 -2.5,8 -2,3 -2,2.5 -1.5,2.5 -.5,11 -.5,19 -1.5,3 -1,1 -2,-2 -.5,-3 -.5,-20.5 -1,-2.5 .5,-3 -.5,-1 -1.5,29 -1,2 -1.5,1 -1,-1 -1,-2 -.5,-4 -.5,-26 -1,-3 -3,-3 -1.5,-3 -3,-8 -2,-13 -.5,-19 -1,-6 -2,-7 -3,-6 -4,-4.5 -4,-3.5 -6,-4 -8,-4.5 -13,-6 -19,-6 -6,-3 -3,-2.5 -1.5,-2 -1.5,-3 -.5,-3 .5,-4 1.5,-5 2.5,-5 3.5,-5 4.5,-5 5,-4.5 6,-4.5 6,-4 13,-7 14,-5 17,-4z"/>
<path fill="rgb(76,76,76)" fill-rule="evenodd" d="M1575.5,117.5l7,0 8,1 17,3 15,5 13,6.5 11.5,8 9.5,9 4,5 3,5 1.5,5 .5,4 0,3 -1,3 -2,2 -2.5,2 -6.5,3.5 -21.5,5.5 -12.5,6 -7,4 -5,4 -4.5,4 -3.5,5.5 -3,6.5 -2,7 0,24 -1.5,12 -2.5,10 -1.5,3 -2.5,3 -1.5,2 -1,12 0,18 -.5,3 -1,1.5 -1,.5 -2,-2 -.5,-3 -.5,-18 -.5,-5 0,-3 -.5,-1.5 -1,9.5 -.5,19 -.5,2 -1,1.5 -1,0 -1,-.5 -1,-2 -.5,-4 -.5,-26.5 -1,-3 -4.5,-5.5 -2.5,-9 -2,-13 .5,-20 -.5,-6 -2,-7 -3,-6.5 -4,-5.5 -4,-3.5 -6,-4.5 -7,-4 -11.5,-5 -20.5,-5.5 -7,-3 -3,-2.5 -1.5,-2 -1,-2 -.5,-3 .5,-4 1,-4 2.5,-5 3.5,-5 8.5,-9 12,-8.5 13,-6.5 14,-5.5 17,-3.5z"/>
<path fill="rgb(79,79,79)" fill-rule="evenodd" d="M1575.5,118.5l14,.5 17,3.5 15,5 13,6 11,7.5 5,4.5 4.5,4.5 3.5,5 2.5,4 2,5 .5,4 -.5,3 -1.5,3 -2,2.5 -3,2 -7,2.5 -22.5,5 -7.5,3 -6,3.5 -5,3.5 -4,3.5 -4,5 -3,4.5 -3,7 -1.5,7 0,6 1,18 -1,13 -1.5,6 -1.5,5 -5,8 -1,12 0,18 -1,3 -.5,1.5 -1,0 -1.5,-1.5 -1,-3 -.5,-26.5 -1,-1.5 -1,10 -.5,19 -.5,2 -1,1.5 -1,0 -2,-2.5 -.5,-4 0,-16 -.5,-11 -1,-2.5 -2.5,-3.5 -2,-4 -2,-7 -1,-7 -.5,-9 1,-19 -.5,-7 -2,-7 -3.5,-7 -3.5,-5 -4.5,-5 -5,-3.5 -6,-3.5 -10,-4 -22,-5.5 -5,-1.5 -3,-1.5 -3,-2.5 -1.5,-2 -1,-2 0,-3 .5,-4 1.5,-4 2,-4 3.5,-5 9,-8.5 11,-8 12,-6 14,-5 16,-3.5z"/>
<path fill="rgb(82,82,82)" fill-rule="evenodd" d="M1574.5,119.5l13,.5 16,2.5 14,4.5 13,5.5 12,7.5 5,4.5 5,4.5 3,4 3,5 2,4 .5,4 0,3 -1,3 -2.5,3 -3,1.5 -7,2.5 -23,4.5 -7,2.5 -5,2.5 -5,4 -4,3.5 -4,5 -3.5,5 -3.5,8 -1,7 0,6 1.5,19 -.5,13 -1,6 -1.5,5 -1.5,3 -3,5 -.5,2 -1,11 0,18 -1,3 -.5,1 -1,.5 -1.5,-1.5 -1,-3 -.5,-27 -1,-1.5 -1,10 -.5,19.5 -.5,2 -1,1.5 -1.5,-.5 -1.5,-2 -1,-31.5 -1,-2.5 -3,-4 -1.5,-4 -2,-7 -1,-7 0,-9 2,-19 -.5,-8 -1.5,-7 -3.5,-7.5 -3,-4.5 -4,-4.5 -4,-3.5 -5.5,-4 -5.5,-2.5 -6,-2 -22,-4.5 -7,-2 -3,-2 -2.5,-2 -1.5,-3 -.5,-3 .5,-4 1.5,-4 3,-5 3,-4 8.5,-8 11,-7.5 12,-6 12,-4 15,-3.5z"/>
<path fill="rgb(85,85,85)" fill-rule="evenodd" d="M1575.5,120l13,1 15,2.5 14,4.5 13,5.5 11,7 9,8.5 6,8 2,4 .5,4 0,3 -1.5,3 -2,2.5 -4,2 -7,2 -23,4 -6,2 -5,2.5 -4.5,3 -4.5,5 -4,5.5 -3.5,5.5 -3.5,8 -1,7 0,6 3,19 0,7 -.5,7 -2,10 -2,4 -2.5,4.5 -1,2.5 -.5,29 -1,3 -.5,1 -1,.5 -1.5,-1.5 -.5,-3 -1,-28 -1,-1 -1,10 -.5,20 -1,2 -.5,1 -1,.5 -1.5,-1.5 -.5,-2 -.5,-19 -.5,-12 -1,-2.5 -3,-4.5 -1.5,-4 -1.5,-6 -1,-7 .5,-10 2.5,-20 0,-7 -1.5,-7 -3.5,-8 -4,-6 -4,-5 -4,-3.5 -4.5,-3.5 -4.5,-2 -6.5,-2 -21.5,-3.5 -7,-1.5 -3.5,-2 -2.5,-2 -2,-3 -.5,-3 .5,-3 1,-4 2.5,-4 3.5,-5 8.5,-8 10.5,-7 11,-5.5 14,-4.5 15,-3.5z"/>
<path fill="rgb(88,88,88)" fill-rule="evenodd" d="M1575.5,121l13,.5 15,3 14,4 11,5 11,7 9,7.5 3,4 3,4 2,4 .5,4 0,3 -1.5,3 -2.5,2 -3.5,2 -8,2 -22,3 -6,2 -5,2 -4,3.5 -4,4.5 -4.5,6 -4.5,7 -3,8 -1,7 .5,6 3.5,19 .5,7 0,7 -2,10 -1.5,4 -3,5 -1,3 -.5,29 -1,3 -.5,1 -1,0 -1.5,-1 -.5,-3 -1,-28.5 -1,-1 -1,2.5 -.5,28 -1,2 -.5,1 -1,0 -1,-1 -1,-2 -1,-30 -1,-4 -2.5,-4 -2,-5 -1,-5 -1,-7 .5,-12 4,-19 0,-7 -1.5,-7 -3.5,-8 -4,-6.5 -4,-5.5 -4,-4 -4,-3 -5,-2.5 -6,-1.5 -21,-2.5 -8,-2 -3,-1.5 -3,-2.5 -2,-2.5 -.5,-3 .5,-3 1.5,-4 2,-4 3,-4 8.5,-7.5 10,-7 12,-6 12,-4 14,-3z"/>
<path fill="rgb(91,91,91)" fill-rule="evenodd" d="M1575.5,121.5l13,1 13,2 14,4.5 12,5 11,7 8.5,7 3.5,4 2.5,4 1.5,4 .5,3 0,3 -1.5,3 -2.5,2 -3.5,2 -8,2 -23,2.5 -6,1.5 -4,2 -4,3.5 -4,5 -5.5,7.5 -4.5,8 -2.5,7 -1,6 1,5 4.5,19 1,8 0,7 -1,6 -1,5 -1.5,4 -2.5,5 -1,3 -1,29 -.5,3 -1.5,1 -1.5,-1 -.5,-3 -1,-27 0,-2 -1,-.5 -1,3.5 -1,27 -1,3 -1,0 -1.5,-2 -.5,-4 0,-16 -1,-11 -1,-4.5 -3.5,-6.5 -1.5,-7 -1,-8 .5,-9 1.5,-8 4,-14 .5,-5 0,-3 -1,-4 -4,-9 -4.5,-7.5 -4.5,-6.5 -3.5,-4 -4,-3 -4,-2 -6,-1.5 -22,-2.5 -8,-2 -3,-1 -3,-2.5 -2,-2.5 -.5,-3 .5,-3 1.5,-4 4.5,-7 8.5,-8 10.5,-6.5 12,-5.5 12,-4 14,-3z"/>
<path fill="rgb(93,93,93)" fill-rule="evenodd" d="M1574.5,122.5l12,.5 13,2 14,4 12,5 10.5,6 8.5,7 3.5,4 3,4 1.5,4 1,3 -.5,3 -1,2 -1.5,2.5 -4,2 -9,2 -23,2.5 -5,1.5 -5,2 -4,3.5 -4,5.5 -8,11.5 -4.5,9 -2,5 .5,4 7,21.5 1,7.5 .5,8 -.5,6 -1,5 -1.5,5 -2.5,5.5 -1,4 -1,28.5 -1,3 -1,1 -1,-1 -1,-3 -1,-27 0,-2 -1,-1 -1,4 -1,27 -1,3 -1,0 -1.5,-2 -.5,-4 0,-16 -1,-11 -1,-5 -3.5,-7 -1.5,-7 -.5,-9 1.5,-10 2,-7.5 4.5,-12.5 1,-5 -.5,-5 -2.5,-6 -11.5,-18.5 -4,-5 -4,-3 -5,-2.5 -5,-1 -22,-2.5 -8,-1.5 -4,-2 -2.5,-2 -1.5,-2 -.5,-3 0,-3 2,-4 5,-7 7.5,-7 10,-6 11,-5.5 12,-4 13,-2.5z"/>
<path fill="rgb(96,96,96)" fill-rule="evenodd" d="M1503.5,162l.5,-3 1,-3 5,-7 8,-7 10.5,-6.5 11,-5 12,-3.5 14,-3 12,-1 12,1 14,2.5 12,4 11,4.5 9.5,6 8,7 5.5,7 1.5,4 .5,3 -.5,3 -1.5,2 -2.5,2 -3.5,1.5 -8,2 -22,2 -6,1.5 -4,1.5 -3,2.5 -3.5,3 -14.5,22 -3,3 -2,.5 -2,-1 -2,-2 -15,-22 -3,-3 -3,-2.5 -4,-2 -6,-1.5 -23,-2.5 -8,-1.5 -3.5,-1.5 -2.5,-2 -1.5,-2zM1577.5,221l2,.5 2,2 3,5 2,4.5 2.5,9 1.5,10 0,7 -1,6 -1.5,5 -2.5,6 -1,4 -1,29 -1,3 -1,1 -1,-1 -1,-3 -.5,-27 -.5,-2.5 -1,-.5 -1,3.5 -1,27.5 -1,2.5 -1,.5 -1.5,-2 -.5,-4 -.5,-27 -.5,-3 -4.5,-10 -1.5,-10 1,-11 2.5,-11 2.5,-5 3,-5.5 2,-2.5z"/>
<path fill="rgb(99,99,99)" fill-rule="evenodd" d="M1505,161l1,-3 1,-3 5.5,-7 8,-6.5 9,-5.5 11,-5 13,-4 12,-2.5 12,-1 12,1 12,2.5 13,3.5 11,5 10,6 7.5,6.5 5,7 1.5,3 .5,3 -.5,3 -1.5,2 -2.5,2 -3,1.5 -8,1.5 -23,2 -5,1 -5,2 -2.5,2 -3,3 -8.5,13 -4,5 -3,2.5 -3,1 -3,-1 -3,-3 -12,-17 -3,-3.5 -3,-2 -4,-1.5 -5,-1.5 -23,-2 -8,-1.5 -3.5,-1.5 -3,-2 -1,-2zM1577.5,225.5l2,0 2,2 2,2.5 2,4 3,9 1.5,10 0,7 -1,6 -1,4 -2.5,5.5 -1,4 -1,28.5 -.5,3 -.5,1.5 -1,.5 -1,-1 -1,-3 -.5,-27 -.5,-3 -1,-.5 -1,3.5 -1,27 -.5,2 -.5,1.5 -1,0 -1.5,-1.5 -.5,-4 -.5,-27 -.5,-3 -4,-10 -1.5,-9 .5,-11 3,-10 4,-8 3,-3z"/>
<path fill="rgb(102,102,102)" fill-rule="evenodd" d="M1507,160l.5,-3 1.5,-3 5.5,-7 7.5,-6 9.5,-5.5 11,-4.5 11,-3.5 13,-2.5 11,-.5 11,.5 14,2.5 11,3.5 11,4.5 10,6.5 7,6 5,6 1,3 1,3 -.5,3 -1.5,2 -2.5,2 -3.5,1.5 -8,1.5 -23,2 -5,1 -4,2 -3,2 -2.5,2 -8.5,12.5 -3,3.5 -3,2.5 -3,.5 -3,-1 -3,-2.5 -11,-15 -3,-3 -3,-2 -4,-1.5 -5,-1 -23,-2 -8,-1.5 -3,-1.5 -3,-2 -1,-2zM1577.5,228l2,.5 2,1.5 2,2 2,3.5 3,8.5 1,10 0,6 -.5,5 -1,4 -2.5,6 -1,4 -1,29 -.5,3 -.5,1.5 -1,0 -1,-1 -1,-2.5 -.5,-27 -.5,-3 -1,-1 -1.5,4 -.5,27 -1,3.5 -1,0 -1.5,-1.5 -.5,-4 -.5,-26 -.5,-4.5 -4,-9.5 -1,-8 .5,-10 2.5,-10 2,-4 2,-3.5 3,-2.5z"/>
<path fill="rgb(105,105,105)" fill-rule="evenodd" d="M1508.5,160l.5,-3 1,-3 4.5,-6 8,-6.5 10,-5.5 10,-4.5 12,-3.5 12,-2.5 11,-.5 11,.5 12,2.5 13,3.5 10,4.5 10,6 7,6 4.5,6 1.5,3 .5,3 -1,3 -1.5,2 -3,1.5 -3,1 -8,1.5 -21,1.5 -5,1 -5,1.5 -3,2 -3,3 -10,13 -3,2 -3,1 -2,-.5 -3,-2 -3,-3.5 -7.5,-10 -3,-3 -3.5,-2 -4,-1.5 -5,-1 -22,-1.5 -8,-1.5 -3.5,-1.5 -2.5,-1.5 -1.5,-2.5zM1577.5,230.5l2,0 2,1.5 2,2 2,3.5 2.5,7.5 1.5,9 0,6 -1,5 -3,9.5 -1.5,5.5 -.5,29 -1,3 -1,.5 -1.5,-1.5 -.5,-3 -.5,-26 -.5,-3.5 -1,-.5 -1.5,4 -.5,27 -1,3.5 -1,0 -1.5,-2.5 -1,-29 -.5,-5 -3.5,-10 -1,-7 .5,-10 2.5,-9 3.5,-6.5 2,-2z"/>
<path fill="rgb(107,107,107)" fill-rule="evenodd" d="M1510,159l.5,-3 1.5,-3 5,-6 7,-6 9.5,-5 10,-4.5 11,-3 12,-2.5 11,-.5 11,.5 12,2.5 11,3 10,4 9.5,5.5 7.5,6 5,6 1,3 1,3 -.5,2 -1.5,2.5 -2.5,1.5 -3.5,1.5 -8,1.5 -22,1.5 -5,1 -4.5,1.5 -3.5,2 -2,2 -10,12 -3,1.5 -2,.5 -2,-.5 -3,-2 -9.5,-11.5 -2.5,-2 -3.5,-2 -4.5,-1.5 -5,-1 -21,-1.5 -8,-1 -3,-1 -3,-2 -2,-2zM1577.5,232l2,.5 2,1.5 2,2 1.5,3 2.5,7 1.5,9 0,5 -.5,5 -3,9.5 -1.5,5.5 -.5,29 -1,3 -1,.5 -1.5,-1.5 -.5,-3 -.5,-26 -.5,-3.5 -1,-1 -1,2.5 -1,29 -1,3 -1,.5 -1.5,-2.5 -.5,-29 -1,-5.5 -3.5,-9.5 -.5,-6 .5,-10 2,-9 2.5,-4 2,-2.5 2,-1.5z"/>
<path fill="rgb(110,110,110)" fill-rule="evenodd" d="M1511.5,158l1.5,-5 5,-6 7.5,-6 9,-5 10,-4 11,-3 11,-2 11,-1 11,.5 11,2 11,3.5 10,4 9.5,5 7.5,6 4.5,6 2,5 -.5,2 -1,2.5 -2.5,1.5 -3.5,1.5 -8,1.5 -22,2 -5,.5 -4.5,1.5 -4,2 -2.5,2 -8,9 -3,1.5 -2,.5 -2,-.5 -2,-1.5 -9,-9 -2.5,-2 -3.5,-2 -5,-1.5 -5,-1 -21,-1.5 -8,-1 -4,-1.5 -2,-1.5 -1.5,-2zM1577.5,234l2,0 2,1.5 3.5,4.5 2.5,7 1,9 -.5,9 -2.5,9 -1.5,6 -.5,29 -1,3 -1,.5 -1,-1.5 -1,-3 -.5,-26 -.5,-4 -1,-.5 -1,2.5 -1,29 -1,3 -1,.5 -1.5,-2.5 -.5,-29 -1,-5.5 -3,-9.5 -1,-6 .5,-9 2.5,-8.5 2,-4 2,-2.5 2,-1.5z"/>
<path fill="rgb(113,113,113)" fill-rule="evenodd" d="M1513,158l0,-2 1,-3 5,-6 7.5,-5.5 8,-5 9,-3.5 11,-3.5 12,-2 11,-1 10,.5 11,2 11,3 11,4.5 9,5 6.5,5.5 5,6 1,3 .5,2 -.5,2 -1.5,2.5 -3,1.5 -3,1 -8,1.5 -21,1.5 -9,2 -6.5,3 -8.5,7.5 -2,1 -2,.5 -3,-1 -9.5,-8 -5.5,-3 -5,-1.5 -5,-.5 -20,-1.5 -8.5,-1.5 -3.5,-1 -3,-2 -1.5,-2zM1577.5,235.5l2,0 2,1.5 3,4 2.5,7 1.5,8 -.5,9 -2.5,8.5 -1.5,6.5 -1,29 -.5,3 -1,0 -1,-1 -1,-3 0,-26 -1,-4 -1,-1 -1,2.5 -.5,2.5 -.5,27 -1,3 -1,0 -1.5,-2 -.5,-29.5 -1,-5.5 -3,-9 -.5,-5 .5,-9 2,-8 2,-4 2,-2.5 2,-1.5z"/>
<path fill="rgb(116,116,116)" fill-rule="evenodd" d="M1514,157l.5,-2 1.5,-3 5,-6 7.5,-5.5 8,-4 9,-4 11,-3 11,-2 10,-.5 11,.5 11,2 11,3.5 9,3.5 9,5 6.5,5.5 4.5,5 1,3 .5,2 -.5,2 -1,2 -2,2 -3,1 -7,1.5 -20,1 -9,1.5 -8,3 -9,6 -4,1 -4,-1.5 -10,-6 -6.5,-2.5 -8.5,-1 -20,-1.5 -8,-1.5 -3,-1.5 -2,-1.5 -1,-2zM1577.5,237l2,0 2,1.5 3,4 2.5,6.5 1,8 -.5,7 -3,13 -.5,4 -1,28 -.5,2.5 -1,.5 -1,-1 -.5,-3 -.5,-26 -1,-4.5 -1,-.5 -1,2 -.5,3 -.5,27 -1,3 -1,0 -1.5,-2 -.5,-30 -1,-5.5 -2.5,-8.5 -1,-5 .5,-9 2.5,-8 3.5,-5 2,-1.5z"/>
<path fill="rgb(120,120,120)" fill-rule="evenodd" d="M1516,156l.5,-2 1.5,-3 4.5,-5 6.5,-5 8.5,-4.5 10,-3.5 10,-3 10,-1.5 10,-1 10,.5 10,2 10,2.5 10,4 8.5,4.5 6.5,5 4.5,5 1.5,3 .5,2 0,2 -1.5,2 -2,2 -3,1 -8,1.5 -17,1 -8,1 -7,2 -11,4.5 -4,.5 -4,-1 -10,-4 -7,-2 -8,-1 -18,-1 -7,-1.5 -3,-1 -3,-2 -1,-2zM1577.5,238.5l2,.5 2,1.5 2.5,3.5 2.5,6 1,7 -.5,7 -2.5,12.5 -1,4.5 -.5,28 -.5,2.5 -1,.5 -1,-1.5 -.5,-2.5 -.5,-27 -1,-4 -1,-.5 -1,2.5 -.5,3 -1,27 -.5,2.5 -1,.5 -1,-2 -1,-30 -3.5,-15 -.5,-4 .5,-8 2.5,-7.5 3,-4.5 2,-1.5z"/>
<path fill="rgb(126,126,126)" fill-rule="evenodd" d="M1519,155l1.5,-4 4,-5 7,-5 8,-4 9,-3.5 10,-2.5 10,-2 9,-.5 9,.5 10,1.5 10,3 9,3 8.5,4.5 6.5,5 4.5,5 1.5,4 -.5,2 -1.5,2 -2,1.5 -4,1.5 -7,1 -22,1.5 -17,4 -5,.5 -4,-.5 -17,-4 -23,-1.5 -7,-1.5 -3,-.5 -3,-2 -1.5,-2zM1577.5,241l3,1 3,3.5 2,5.5 1.5,7 -.5,6 -3,17 -.5,27 -.5,3 -1,.5 -1,-1.5 -.5,-3 -.5,-26 -1,-4.5 -1,-.5 -1,2 -1,4 -.5,27 -.5,2.5 -1,0 -1,-2 -1,-28.5 -3,-19 0,-7 2,-7 3,-4.5 2,-1.5z"/>
<path fill="rgb(133,133,133)" fill-rule="evenodd" d="M1521.5,154l1.5,-4 3.5,-4 6,-4 8,-4.5 8,-3 10,-3 10,-1.5 9,-.5 9,.5 10,1.5 9,2.5 8,3 8,4 6,4 4.5,5 1.5,4 0,2 -2,2 -2,1.5 -4,1 -26,2.5 -16,3 -6,.5 -5,-.5 -16,-3 -20,-1.5 -7,-1 -3,-1 -3,-1.5 -1.5,-2zM1577.5,243.5l3,1 3,3.5 2,5 1,6 -.5,5 -2.5,17 -.5,27 -.5,3 -1,.5 -1,-2 -1,-28.5 -1,-5 -1,-.5 -1,2 -1,4.5 -.5,27 -.5,2 -1,.5 -1,-2.5 -1,-28 -2.5,-19 .5,-7 2,-6 3,-4z"/>
<path fill="rgb(139,139,139)" fill-rule="evenodd" d="M1524,153l2,-4 3.5,-4 6,-4 7,-3.5 8,-3 9,-2 9,-1.5 9,-.5 8,0 9,1.5 10,2.5 8,3 7,3.5 6,4 4,4 1.5,4 0,2 -1.5,2 -2,1 -4,1.5 -46,4.5 -21,-2.5 -24,-2 -4,-1 -2.5,-1.5 -1.5,-2zM1577.5,245.5l3,1 2,2.5 2.5,5 .5,5 -.5,10 -1.5,13 -.5,26 -.5,2.5 -1,.5 -1,-2 -1,-28 -1,-5.5 -1,-.5 -1,2 -1,5 -.5,27 -.5,2 -1,0 -1,-2 -.5,-28 -2.5,-18 .5,-6 1.5,-5.5 3,-4.5z"/>
<path fill="rgb(145,145,145)" fill-rule="evenodd" d="M1526.5,153l.5,-3 3.5,-4 5,-4 8,-4 8,-2.5 9,-2.5 9,-1.5 8,-.5 8,.5 9,1.5 8,2 9,3 6.5,3 5.5,4 4,4 1,2 .5,2 -1,2 -1,1 -2.5,1.5 -4,1 -43,4 -42,-4 -4,-1 -3,-1.5 -1.5,-1zM1577.5,247.5l3,.5 2,2.5 2,4.5 .5,5 0,9 -2,13 0,25 -.5,3.5 -1,.5 -1,-4 -.5,-26 -1.5,-6 -1,-.5 -1,2 -1,5.5 -1,27 0,1.5 -1,.5 -1,-4 -.5,-25 -1.5,-12 -.5,-11 1,-4 1.5,-4 2,-2z"/>
<path fill="rgb(152,152,152)" fill-rule="evenodd" d="M1528.5,152l1,-3 3.5,-4 5.5,-3.5 7,-3.5 7,-2.5 8,-2 8,-1 9,-.5 9,.5 8,1 8,2 7,2.5 7,3.5 5.5,3.5 3.5,4 1,3 -.5,2 -1,1 -2.5,1.5 -4,1 -41,3.5 -40,-3.5 -4,-1 -3,-1.5 -1,-1zM1577.5,249l3,1 2,2.5 1.5,3.5 .5,4 0,9 -1.5,13 -.5,25 0,3 -1,.5 -1,-4.5 -.5,-25 -1.5,-6.5 -1,-.5 -1,2 -1.5,6 -.5,26 0,2 -1,.5 -1,-3.5 -.5,-25 -1.5,-12 0,-10 1,-4 1.5,-4 2.5,-2.5z"/>
<path fill="rgb(158,158,158)" fill-rule="evenodd" d="M1530.5,151l1.5,-3 3,-3 5.5,-3.5 6,-3 8,-2.5 8,-2 8,-1 7,-.5 7,0 8,1.5 8,1.5 8,3 7,3.5 5,3 2.5,3 1.5,3 -.5,2 -1.5,1.5 -6,2 -31,3 -8,.5 -31,-2.5 -8,-1 -4,-1 -2,-1 -1.5,-1.5zM1577.5,250.5l2,0 2.5,2.5 1.5,3.5 .5,4.5 .5,8 -1.5,13 -.5,27.5 -1,.5 -1,-4 -.5,-25 -1.5,-7 -1,-.5 -1,2 -1.5,5.5 -.5,28.5 -1,.5 -1,-3 -.5,-25 -1,-13 0,-8 1,-4 1.5,-3.5 2,-2.5z"/>
<path fill="rgb(164,164,164)" fill-rule="evenodd" d="M1533,151l.5,-3 3,-3 4.5,-3 6.5,-3 7,-2.5 8,-2 7,-1 8,-.5 8,.5 7,1 8,2 7,2 6,3 5,3.5 3,3 1,3 -1,2 -1.5,1 -5.5,2 -28,2.5 -9,.5 -36,-3 -6,-2 -1.5,-1zM1577.5,251.5l2,.5 1,1 2,3 1,4 .5,7 0,5 -1,10 -.5,26.5 -1,1.5 -1,-5 -.5,-24 -1,-6 -.5,-1.5 -1,-.5 -1,1.5 -1.5,6.5 -.5,28 -1,.5 -.5,-2.5 -.5,-25 -1.5,-11 0,-4 1,-7 1,-4 1.5,-3z"/>
<path fill="rgb(171,171,171)" fill-rule="evenodd" d="M1534.5,150l1.5,-3 3.5,-3 4.5,-3 5.5,-2 7,-2.5 7,-1.5 7,-1 7,-.5 7,.5 7,1 7,1.5 7,2 5.5,2.5 5,3 3,3 1.5,3 -1,2 -1,1 -6,2 -25,2.5 -10,.5 -26,-2 -9,-1 -6,-2 -1,-1zM1577.5,253l2,.5 2,2.5 1.5,4 1,8 -1,14 -.5,25 -1,2.5 -.5,-4.5 -1,-24 -1,-6 -.5,-2 -1,-.5 -1,1.5 -1.5,7 -.5,27 -1,1 -.5,-2 -.5,-25 -1.5,-14 1.5,-7.5 1,-3.5 2,-3z"/>
<path fill="rgb(177,177,177)" fill-rule="evenodd" d="M1536.5,150l.5,-2 2.5,-3 4.5,-3 6.5,-3 7,-2 6,-1.5 7,-1 7,-.5 7,.5 7,1 7,1.5 6.5,2 6.5,3 4,3 2.5,3 .5,2 -.5,1 -1.5,1.5 -6,2 -22,2 -11,.5 -11,-.5 -21,-2 -6,-1.5 -2,-1.5zM1577.5,254.5l2,.5 2,2.5 1,3.5 1.5,7 -1.5,14 0,23 -1,3.5 -1,-27.5 -1,-6 -1,-2.5 -1,-.5 -1,1.5 -1.5,6.5 -.5,26.5 -1,2 -1,-26.5 -1,-14 2,-10 2,-2.5z"/>
<path fill="rgb(184,184,184)" fill-rule="evenodd" d="M1538.5,149l.5,-2 3.5,-3 4,-2.5 5.5,-2.5 12.5,-3 13,-1.5 13,1.5 7,1.5 5.5,1.5 5.5,2.5 4.5,2.5 3,3 .5,2 -.5,2 -1.5,1 -5,1.5 -17,2 -15,.5 -14,-.5 -17,-1.5 -5.5,-2 -1.5,-1zM1577.5,255.5l2,.5 1.5,2 1.5,4 1,6 0,4 -1,10 -.5,22 -.5,4 -1,-27 -1,-6.5 -1,-2.5 -1,0 -1,1 -2,8 0,21 -.5,4 -.5,1 -1,-25 -1,-9 0,-5 1.5,-6 1.5,-4 1,-1.5z"/>
<path fill="rgb(190,190,190)" fill-rule="evenodd" d="M1540.5,149l.5,-2 2.5,-3 4,-2 5,-2.5 12,-3 13,-1.5 13,1.5 12,3 5,2 4,2.5 3,3 .5,2 -1.5,2.5 -6,1.5 -15,1.5 -15,1 -15,-1 -14,-1 -6,-2 -2,-1.5zM1577.5,257l2,.5 2,3 1.5,4.5 .5,4 -1,12 0,8 -.5,2 -.5,15 -1,-25 -1,-7 -1,-2 -1,-.5 -1.5,1.5 -1.5,7 -1,25.5 -.5,-23.5 -1.5,-9 0,-5 3,-8 1,-2z"/>
<path fill="rgb(196,196,196)" fill-rule="evenodd" d="M1542,148l1,-2 2,-2 4.5,-2.5 5,-2 11,-3 12,-1 12,1 11,3 4.5,1.5 4.5,2.5 2.5,2.5 1,2 0,1 -1.5,2 -5,1.5 -13,1.5 -16,.5 -16,-.5 -12,-1.5 -5,-1.5 -1.5,-1zM1577.5,258l2,1 1,1 2,4 1,4 0,4 -1.5,11 .5,4.5 -1,4 -1,-12.5 -1.5,-6 -.5,-1.5 -1,-.5 -1,1 -2,9 0,7 -1,2.5 -.5,-9.5 -1.5,-9 0,-4 3,-7 1,-1.5z"/>
<path fill="rgb(203,203,203)" fill-rule="evenodd" d="M1544,148l.5,-2 2,-2 3,-2 6,-2 11,-3 11,-1 12,1 11,3 5,2 3,2 2,2 1,2 -.5,1 -1.5,1.5 -6,1.5 -13,1.5 -13,.5 -13,-.5 -13,-1.5 -6,-1.5 -1.5,-1.5zM1577.5,259.5l1,0 2,1.5 2,4 1,3 0,4 -1.5,11 0,4 -.5,2 -.5,-8 -1.5,-8 -1,-2 -1,0 -1,1 -2.5,11 0,4 -.5,2 -.5,-8 -1,-9 0,-4 2.5,-6 2,-2.5z"/>
<path fill="rgb(209,209,209)" fill-rule="evenodd" d="M1545.5,147l1.5,-2 2.5,-2 8,-3.5 10,-2 11,-1 11,1 10,2.5 4.5,2 3,2 2,2 .5,2 -.5,1 -1.5,1 -6,2 -13,1 -13,.5 -14,-1 -10,-1 -3,-1 -2,-1 -1,-1.5zM1577.5,260l2,1 1,1 2,3.5 .5,2.5 0,4 -.5,8 -1,2 0,6 -.5,-8 -1.5,-7.5 -1,-1.5 -1,-.5 -1,1 -2,9 -1,2.5 -1.5,-10 0,-5 2.5,-5.5 2,-2z"/>
<path fill="rgb(215,215,215)" fill-rule="evenodd" d="M1547,147l1.5,-2 2.5,-2 6.5,-3 10,-2 10,-1 10,.5 10,2.5 7,3 2.5,2 1,2 0,1 -1.5,1.5 -5.5,1.5 -11.5,1.5 -12,.5 -12,-.5 -11,-1.5 -4,-1 -2,-1 -1,-1zM1577.5,261l2,.5 1,1 2,3.5 .5,2 0,7 -.5,4 -1,2.5 -2,-9.5 -1,-1.5 -1,0 -1,.5 -2,8.5 -1,1.5 -1.5,-8 0,-5 2.5,-4.5 1,-1.5z"/>
<path fill="rgb(222,222,222)" fill-rule="evenodd" d="M1549,147l0,-1 2,-2 3,-2 4.5,-1.5 9,-2 10,-1 10,.5 9,2.5 6.5,2.5 2.5,2 1,2 -.5,1 -1.5,1 -5,2 -10,1 -12,.5 -11,-.5 -10,-1 -6,-2 -1,-1zM1577.5,261.5l2,.5 1,1 2.5,5 -.5,7 0,3 -1,2 -2,-8.5 -1,-1 -1,-.5 -1.5,1 -1.5,8 -1,1 -1.5,-7 .5,-5 2,-5 2,-1.5z"/>
<path fill="rgb(228,228,228)" fill-rule="evenodd" d="M1550.5,147l0,-1 1.5,-2 6.5,-3 9,-2.5 10,-.5 10,.5 9,2.5 3,1 3.5,2 1.5,2 0,1 -.5,1 -2,1 -4.5,1.5 -9,1 -11,.5 -11,-.5 -9,-1 -4.5,-1.5 -1.5,-1zM1577.5,262l2,.5 1,1 2.5,4.5 -.5,9.5 -1,2 -2,-8.5 -1,-1 -1,0 -1.5,1 -1.5,7 -1,1 -1,-6 0,-4 2,-5 1,-1z"/>
<path fill="rgb(235,235,235)" fill-rule="evenodd" d="M1552,146l.5,-1 2.5,-2 6.5,-2.5 8,-1.5 8,-.5 9,.5 8,1.5 5.5,2.5 2.5,2 .5,1 0,1 -1,1 -4.5,1.5 -9,1.5 -11,.5 -11,-.5 -8,-1 -5,-2 -1,-1zM1577.5,262l2,1 1,1 2,4 0,8.5 -1,2 -2,-7.5 -1,-1 -1,-.5 -1,.5 -1,1 -1,6.5 -1,1 -1,-7.5 .5,-4 2.5,-3.5z"/>
<path fill="rgb(241,241,241)" fill-rule="evenodd" d="M1554,146l.5,-1 2,-2 5,-2 8,-1.5 8,-1 8,.5 8,2 5,2 2.5,2 .5,1 -.5,1 -1.5,1 -4,1.5 -8,1 -10,.5 -10,-.5 -8,-1 -4,-1.5 -1,-1zM1577.5,262.5l2,.5 3,5 0,7 -1,3 -1.5,-7 -1.5,-1.5 -1,0 -1.5,.5 -1,3 -.5,4 -1,.5 -1,-6.5 .5,-4 2.5,-3z"/>
<path fill="rgb(247,247,247)" fill-rule="evenodd" d="M1555.5,146l.5,-1 2,-2 5,-2 6.5,-1.5 8,-.5 8,.5 7,1.5 4.5,2 2.5,2 0,1 -.5,1 -1.5,1 -4.5,1 -15.5,1.5 -15.5,-1.5 -4,-1 -1.5,-1zM1577.5,263l2,.5 3,4.5 0,7 -1,2 -2,-7 -2,-.5 -2,.5 -.5,2 -.5,4 -1,1 -.5,-6 0,-4 2.5,-3z"/>
<path fill="rgb(254,254,254)" fill-rule="evenodd" d="M1557.5,146l1,-2 3.5,-2 2.5,-.5 .5,-.5 3.5,0 2,-1 15,0 2,1 3,0 1,1 2,0 2,1 2,2 0,1 -1,1 -2,1 -4,.5 -2,.5 -11,.5 -11,-.5 -1,-.5 -4.5,-.5 -2.5,-1zM1577.5,263l2,1 1,1 0,1 2,3 0,5.5 -1,.5 0,1.5 -.5,-3.5 -.5,-.5 -.5,-2.5 -1.5,-1.5 -1,0 -3,2.5 0,4.5 -1,.5 0,-8 .5,-1 .5,-1z"/>
</g>
<path d="M1573.7,267.7 l7.2,0 l0.6,45.8 l-7.2,0z" fill="#050508"/>
</g>
<path d="M1473.6,37.2v-2.8M1473.6,373.2v2.8M1479.7,37.2v-2.8M1479.7,373.2v2.8M1485.8,37.2v-5.2M1485.8,373.2v5.2M1491.9,37.2v-2.8M1491.9,373.2v2.8M1498,37.2v-2.8M1498,373.2v2.8M1504.2,37.2v-2.8M1504.2,373.2v2.8M1510.3,37.2v-2.8M1510.3,373.2v2.8M1516.4,37.2v-5.2M1516.4,373.2v5.2M1522.5,37.2v-2.8M1522.5,373.2v2.8M1528.6,37.2v-2.8M1528.6,373.2v2.8M1534.8,37.2v-2.8M1534.8,373.2v2.8M1540.9,37.2v-2.8M1540.9,373.2v2.8M1547,37.2v-5.2M1547,373.2v5.2M1553.1,37.2v-2.8M1553.1,373.2v2.8M1559.2,37.2v-2.8M1559.2,373.2v2.8M1565.4,37.2v-2.8M1565.4,373.2v2.8M1571.5,37.2v-2.8M1571.5,373.2v2.8M1577.6,37.2v-5.2M1577.6,373.2v5.2M1583.7,37.2v-2.8M1583.7,373.2v2.8M1589.8,37.2v-2.8M1589.8,373.2v2.8M1596,37.2v-2.8M1596,373.2v2.8M1602.1,37.2v-2.8M1602.1,373.2v2.8M1608.2,37.2v-5.2M1608.2,373.2v5.2M1614.3,37.2v-2.8M1614.3,373.2v2.8M1620.4,37.2v-2.8M1620.4,373.2v2.8M1626.6,37.2v-2.8M1626.6,373.2v2.8M1632.7,37.2v-2.8M1632.7,373.2v2.8M1638.8,37.2v-5.2M1638.8,373.2v5.2M1644.9,37.2v-2.8M1644.9,373.2v2.8M1651,37.2v-2.8M1651,373.2v2.8M1657.2,37.2v-2.8M1657.2,373.2v2.8M1663.3,37.2v-2.8M1663.3,373.2v2.8M1669.4,37.2v-5.2M1669.4,373.2v5.2M1675.5,37.2v-2.8M1675.5,373.2v2.8M1681.6,37.2v-2.8M1681.6,373.2v2.8M1468.3,369.6h-2.8M1688.4,369.6h2.8M1468.3,363.5h-2.8M1688.4,363.5h2.8M1468.3,357.4h-2.8M1688.4,357.4h2.8M1468.3,351.3h-5.2M1688.4,351.3h5.2M1468.3,345.2h-2.8M1688.4,345.2h2.8M1468.3,339.1h-2.8M1688.4,339.1h2.8M1468.3,333h-2.8M1688.4,333h2.8M1468.3,326.9h-2.8M1688.4,326.9h2.8M1468.3,320.8h-2.8M1688.4,320.8h2.8M1468.3,314.7h-2.8M1688.4,314.7h2.8M1468.3,308.6h-2.8M1688.4,308.6h2.8M1468.3,302.5h-2.8M1688.4,302.5h2.8M1468.3,296.4h-2.8M1688.4,296.4h2.8M1468.3,290.3h-5.2M1688.4,290.3h5.2M1468.3,284.2h-2.8M1688.4,284.2h2.8M1468.3,278.1h-2.8M1688.4,278.1h2.8M1468.3,272h-2.8M1688.4,272h2.8M1468.3,265.9h-2.8M1688.4,265.9h2.8M1468.3,259.8h-2.8M1688.4,259.8h2.8M1468.3,253.7h-2.8M1688.4,253.7h2.8M1468.3,247.6h-2.8M1688.4,247.6h2.8M1468.3,241.5h-2.8M1688.4,241.5h2.8M1468.3,235.4h-2.8M1688.4,235.4h2.8M1468.3,229.3h-5.2M1688.4,229.3h5.2M1468.3,223.2h-2.8M1688.4,223.2h2.8M1468.3,217.1h-2.8M1688.4,217.1h2.8M1468.3,211h-2.8M1688.4,211h2.8M1468.3,204.9h-2.8M1688.4,204.9h2.8M1468.3,198.8h-2.8M1688.4,198.8h2.8M1468.3,192.7h-2.8M1688.4,192.7h2.8M1468.3,186.6h-2.8M1688.4,186.6h2.8M1468.3,180.5h-2.8M1688.4,180.5h2.8M1468.3,174.4h-2.8M1688.4,174.4h2.8M1468.3,168.3h-5.2M1688.4,168.3h5.2M1468.3,162.2h-2.8M1688.4,162.2h2.8M1468.3,156.1h-2.8M1688.4,156.1h2.8M1468.3,150h-2.8M1688.4,150h2.8M1468.3,143.9h-2.8M1688.4,143.9h2.8M1468.3,137.8h-2.8M1688.4,137.8h2.8M1468.3,131.7h-2.8M1688.4,131.7h2.8M1468.3,125.6h-2.8M1688.4,125.6h2.8M1468.3,119.5h-2.8M1688.4,119.5h2.8M1468.3,113.4h-2.8M1688.4,113.4h2.8M1468.3,107.3h-5.2M1688.4,107.3h5.2M1468.3,101.2h-2.8M1688.4,101.2h2.8M1468.3,95.1h-2.8M1688.4,95.1h2.8M1468.3,89h-2.8M1688.4,89h2.8M1468.3,82.9h-2.8M1688.4,82.9h2.8M1468.3,76.8h-2.8M1688.4,76.8h2.8M1468.3,70.7h-2.8M1688.4,70.7h2.8M1468.3,64.6h-2.8M1688.4,64.6h2.8M1468.3,58.5h-2.8M1688.4,58.5h2.8M1468.3,52.4h-2.8M1688.4,52.4h2.8M1468.3,46.3h-5.2M1688.4,46.3h5.2M1468.3,40.2h-2.8M1688.4,40.2h2.8" stroke="#111" stroke-width="1.3" fill="none"/>
<g class="s">
<text x="1485" y="30.9" font-size="16" text-anchor="middle" >-3</text>
<text x="1485" y="391.6" font-size="16" text-anchor="middle" >-3</text>
<text x="1515.6" y="30.9" font-size="16" text-anchor="middle" >-2</text>
<text x="1515.6" y="391.6" font-size="16" text-anchor="middle" >-2</text>
<text x="1546.2" y="30.9" font-size="16" text-anchor="middle" >-1</text>
<text x="1546.2" y="391.6" font-size="16" text-anchor="middle" >-1</text>
<text x="1577.6" y="30.9" font-size="16" text-anchor="middle" >0</text>
<text x="1577.6" y="391.6" font-size="16" text-anchor="middle" >0</text>
<text x="1608.2" y="30.9" font-size="16" text-anchor="middle" >1</text>
<text x="1608.2" y="391.6" font-size="16" text-anchor="middle" >1</text>
<text x="1638.8" y="30.9" font-size="16" text-anchor="middle" >2</text>
<text x="1638.8" y="391.6" font-size="16" text-anchor="middle" >2</text>
<text x="1669.4" y="30.9" font-size="16" text-anchor="middle" >3</text>
<text x="1669.4" y="391.6" font-size="16" text-anchor="middle" >3</text>
<text x="1462.3" y="52.2" font-size="15.5" text-anchor="end" >8</text>
<text x="1694.4" y="52.2" font-size="15.5" >8</text>
<text x="1462.3" y="113.2" font-size="15.5" text-anchor="end" >6</text>
<text x="1694.4" y="113.2" font-size="15.5" >6</text>
<text x="1462.3" y="174.2" font-size="15.5" text-anchor="end" >4</text>
<text x="1694.4" y="174.2" font-size="15.5" >4</text>
<text x="1462.3" y="235.2" font-size="15.5" text-anchor="end" >2</text>
<text x="1694.4" y="235.2" font-size="15.5" >2</text>
<text x="1462.3" y="296.2" font-size="15.5" text-anchor="end" >0</text>
<text x="1694.4" y="296.2" font-size="15.5" >0</text>
<text x="1462.3" y="357.2" font-size="15.5" text-anchor="end" >-2</text>
<text x="1694.4" y="357.2" font-size="15.5" >-2</text>
</g>
<text x="1575.5" y="421.6" font-size="24" font-weight="bold" text-anchor="middle" >q<tspan font-size="15.5" dy="5">XY</tspan><tspan dy="-5"> (nm</tspan><tspan font-size="14.5" dy="-8">-1</tspan><tspan dy="8">)</tspan></text>
<text x="1434.5" y="197" font-size="24" font-weight="bold" text-anchor="middle" transform="rotate(-90 1434.5 197)" >q<tspan font-size="15.5" dy="5">Z</tspan><tspan dy="-5"> (nm</tspan><tspan font-size="14.5" dy="-8">-1</tspan><tspan dy="8">)</tspan></text>
<g id="pf">
<path d="M40.9,617.4 41.9,617.4 43,617.4 44,617.5 45.1,617.5 46.1,617.5 47.2,617.5 48.2,617.5 49.2,617.5 50.3,617.6 51.3,617.6 52.4,617.6 53.4,617.6 54.5,617.6 55.5,617.7 56.5,617.7 57.6,617.7 58.6,617.7 59.7,617.7 60.7,617.8 61.8,617.8 62.8,617.8 63.8,617.8 64.9,617.8 65.9,617.8 67,617.9 68,617.9 69,617.9 70.1,617.9 71.1,617.9 72.2,618 73.2,618 74.3,618 75.3,618 76.3,618 77.4,618 78.4,618.1 79.5,618.1 80.5,618.1 81.6,618.1 82.6,618.1 83.6,618.2 84.7,618.2 85.7,618.2 86.8,618.2 87.8,618.2 88.9,618.3 89.9,618.3 90.9,618.3 92,618.3 93,618.3 94.1,618.3 95.1,618.4 96.2,618.4 97.2,618.4 98.2,618.4 99.3,618.4 100.3,618.5 101.4,618.5 102.4,618.5 103.5,618.5 104.5,618.5 105.5,618.5 106.6,618.6 107.6,618.6 108.7,618.6 109.7,618.6 110.7,618.6 111.8,618.7 112.8,618.7 113.9,618.7 114.9,618.7 116,618.7 117,618.8 118,618.8 119.1,618.8 120.1,618.8 121.2,618.8 122.2,618.8 123.3,618.9 124.3,618.9 125.3,618.9 126.4,618.9 127.4,618.9 128.5,619 129.5,619 130.6,619 131.6,619 132.6,619 133.7,619 134.7,619.1 135.8,619.1 136.8,619.1 137.9,619.1 138.9,619.1 139.9,619.2 141,619.2 142,619.2 143.1,619.2 144.1,619.2 145.2,619.2 146.2,619.3 147.2,619.3 148.3,619.3 149.3,619.3 150.4,619.3 151.4,619.4 152.4,619.4 153.5,619.4 154.5,619.4 155.6,619.4 156.6,619.5 157.7,619.5 158.7,619.5 159.7,619.5 160.8,619.5 161.8,619.5 162.9,619.6 163.9,619.6 165,619.6 166,619.6 167,619.6 168.1,619.7 169.1,619.7 170.2,619.7 171.2,619.7 172.3,619.7 173.3,619.7 174.3,619.8 175.4,619.8 176.4,619.8 177.5,619.8 178.5,619.8 179.6,619.9 180.6,619.9 181.6,619.9 182.7,619.9 183.7,619.9 184.8,620 185.8,620 186.9,620 187.9,620 188.9,620 190,620 191,620.1 192.1,620.1 193.1,620.1 194.1,620.1 195.2,620.1 196.2,620.2 197.3,620.2 198.3,620.2 199.4,620.2 200.4,620.2 201.4,620.2 202.5,620.3 203.5,620.3 204.6,620.3 205.6,620.3 206.7,620.3 207.7,620.4 208.7,620.4 209.8,620.4 210.8,620.4 211.9,620.4 212.9,620.5 214,620.5 215,620.5 216,620.5 217.1,620.5 218.1,620.5 219.2,620.6 220.2,620.6 221.3,620.6 222.3,620.6 223.3,620.6 224.4,620.7 225.4,620.7 226.5,620.7 227.5,620.7 228.6,620.7 229.6,620.7 230.6,620.8 231.7,620.8 232.7,620.8 233.8,620.8 234.8,620.8 235.8,620.9 236.9,620.9 237.9,620.9 239,620.9 240,620.9 241.1,621 242.1,621 243.1,621 244.2,621 245.2,621 246.3,621 247.3,621.1 248.4,621.1 249.4,621.1 250.4,621.1 251.5,621.1 252.5,621.2 253.6,621.2 254.6,621.2 255.7,621.2 256.7,621.2 257.7,621.2 258.8,621.3 259.8,621.3 260.9,621.3 261.9,621.3 263,621.3 264,621.4 265,621.4 266.1,621.4 267.1,621.4 268.2,621.4 269.2,621.5 270.2,621.5 271.3,621.5 272.3,621.5 273.4,621.5 274.4,621.5 275.5,621.6 276.5,621.6 277.5,621.6 278.6,621.6 279.6,621.6 280.7,621.7 281.7,621.7 282.8,621.7 283.8,621.7 284.8,621.7 285.9,621.7 286.9,621.8 288,621.8 289,621.8 290.1,621.8 291.1,621.8 292.1,621.8 293.2,621.8 294.2,621.9 295.3,621.9 296.3,621.9 297.4,621.9 298.4,621.9 299.4,621.9 300.5,621.9 301.5,621.9 302.6,621.9 303.6,621.8 304.7,621.8 305.7,621.8 306.7,621.8 307.8,621.7 308.8,621.6 309.9,621.6 310.9,621.5 311.9,621.4 313,621.3 314,621.1 315.1,621 316.1,620.8 317.2,620.6 318.2,620.4 319.2,620.2 320.3,619.9 321.3,619.6 322.4,619.3 323.4,618.9 324.5,618.5 325.5,618.1 326.5,617.7 327.6,617.2 328.6,616.7 329.7,616.2 330.7,615.7 331.8,615.1 332.8,614.5 333.8,614 334.9,613.4 335.9,612.8 337,612.1 338,611.5 339.1,611 340.1,610.4 341.1,609.8 342.2,609.3 343.2,608.8 344.3,608.3 345.3,607.9 346.4,607.5 347.4,607.2 348.4,606.9 349.5,606.7 350.5,606.5 351.6,606.5 352.6,606.4 353.6,606.5 354.7,606.6 355.7,606.7 356.8,607 357.8,607.3 358.9,607.6 359.9,608 360.9,608.4 362,608.9 363,609.4 364.1,610 365.1,610.6 366.2,611.2 367.2,611.8 368.2,612.5 369.3,613.1 370.3,613.7 371.4,614.4 372.4,615 373.5,615.6 374.5,616.2 375.5,616.8 376.6,617.4 377.6,617.9 378.7,618.4 379.7,618.9 380.8,619.4 381.8,619.8 382.8,620.2 383.9,620.6 384.9,620.9 386,621.2 387,621.5 388.1,621.8 389.1,622 390.1,622.2 391.2,622.4 392.2,622.6 393.3,622.8 394.3,622.9 395.4,623.1 396.4,623.2 397.4,623.3 398.5,623.4 399.5,623.4 400.6,623.5 401.6,623.6 402.6,623.6 403.7,623.7 404.7,623.7 405.8,623.8 406.8,623.8 407.9,623.8 408.9,623.9 409.9,623.9 411,623.9 412,624 413.1,624 414.1,624 415.2,624 416.2,624 417.2,624.1 418.3,624.1 419.3,624.1 420.4,624.1 421.4,624.1 422.5,624.2 423.5,624.2 424.5,624.2 425.6,624.2 426.6,624.2 427.7,624.3 428.7,624.3 429.8,624.3 430.8,624.3 431.8,624.3 432.9,624.4 433.9,624.4 435,624.4 436,624.4 437.1,624.4 438.1,624.4 439.1,624.5 440.2,624.5 441.2,624.5 442.3,624.5 443.3,624.5 444.3,624.6 445.4,624.6 446.4,624.6 447.5,624.6 448.5,624.6 449.6,624.7 450.6,624.7 451.6,624.7 452.7,624.7 453.7,624.7 454.8,624.7 455.8,624.8 456.9,624.8 457.9,624.8" fill="none" stroke="#f2e63c" stroke-width="4.3" stroke-linejoin="round" stroke-dasharray="8 4.6"/>
<path d="M40.9,617.4 41.9,617.4 43,617.4 44,617.5 45.1,617.5 46.1,617.5 47.2,617.5 48.2,617.5 49.2,617.5 50.3,617.6 51.3,617.6 52.4,617.6 53.4,617.6 54.5,617.6 55.5,617.7 56.5,617.7 57.6,617.7 58.6,617.7 59.7,617.7 60.7,617.8 61.8,617.8 62.8,617.8 63.8,617.8 64.9,617.8 65.9,617.8 67,617.9 68,617.9 69,617.9 70.1,617.9 71.1,617.9 72.2,618 73.2,618 74.3,618 75.3,618 76.3,618 77.4,618 78.4,618.1 79.5,618.1 80.5,618.1 81.6,618.1 82.6,618.1 83.6,618.2 84.7,618.2 85.7,618.2 86.8,618.2 87.8,618.2 88.9,618.3 89.9,618.3 90.9,618.3 92,618.3 93,618.3 94.1,618.3 95.1,618.4 96.2,618.4 97.2,618.4 98.2,618.4 99.3,618.4 100.3,618.5 101.4,618.5 102.4,618.5 103.5,618.5 104.5,618.5 105.5,618.5 106.6,618.6 107.6,618.6 108.7,618.6 109.7,618.6 110.7,618.6 111.8,618.7 112.8,618.7 113.9,618.7 114.9,618.7 116,618.7 117,618.8 118,618.8 119.1,618.8 120.1,618.8 121.2,618.8 122.2,618.8 123.3,618.9 124.3,618.9 125.3,618.9 126.4,618.9 127.4,618.9 128.5,619 129.5,619 130.6,619 131.6,619 132.6,619 133.7,619 134.7,619.1 135.8,619.1 136.8,619.1 137.9,619.1 138.9,619.1 139.9,619.2 141,619.2 142,619.2 143.1,619.2 144.1,619.2 145.2,619.2 146.2,619.3 147.2,619.3 148.3,619.3 149.3,619.3 150.4,619.3 151.4,619.4 152.4,619.4 153.5,619.4 154.5,619.4 155.6,619.4 156.6,619.5 157.7,619.5 158.7,619.5 159.7,619.5 160.8,619.5 161.8,619.5 162.9,619.6 163.9,619.6 165,619.6 166,619.6 167,619.6 168.1,619.7 169.1,619.7 170.2,619.7 171.2,619.7 172.3,619.7 173.3,619.7 174.3,619.8 175.4,619.8 176.4,619.8 177.5,619.8 178.5,619.8 179.6,619.9 180.6,619.9 181.6,619.9 182.7,619.9 183.7,619.9 184.8,620 185.8,620 186.9,620 187.9,620 188.9,620 190,620 191,620.1 192.1,620.1 193.1,620.1 194.1,620.1 195.2,620.1 196.2,620.2 197.3,620.2 198.3,620.2 199.4,620.2 200.4,620.2 201.4,620.2 202.5,620.3 203.5,620.3 204.6,620.3 205.6,620.3 206.7,620.3 207.7,620.4 208.7,620.4 209.8,620.4 210.8,620.4 211.9,620.4 212.9,620.5 214,620.5 215,620.5 216,620.5 217.1,620.5 218.1,620.5 219.2,620.6 220.2,620.6 221.3,620.6 222.3,620.6 223.3,620.6 224.4,620.7 225.4,620.7 226.5,620.7 227.5,620.7 228.6,620.7 229.6,620.7 230.6,620.8 231.7,620.8 232.7,620.8 233.8,620.8 234.8,620.8 235.8,620.9 236.9,620.9 237.9,620.9 239,620.9 240,620.9 241.1,621 242.1,621 243.1,621 244.2,621 245.2,621 246.3,621 247.3,621.1 248.4,621.1 249.4,621.1 250.4,621.1 251.5,621.1 252.5,621.2 253.6,621.2 254.6,621.2 255.7,621.2 256.7,621.2 257.7,621.2 258.8,621.3 259.8,621.3 260.9,621.3 261.9,621.3 263,621.3 264,621.4 265,621.4 266.1,621.4 267.1,621.4 268.2,621.4 269.2,621.5 270.2,621.5 271.3,621.5 272.3,621.5 273.4,621.5 274.4,621.5 275.5,621.6 276.5,621.6 277.5,621.6 278.6,621.6 279.6,621.6 280.7,621.7 281.7,621.7 282.8,621.7 283.8,621.7 284.8,621.7 285.9,621.7 286.9,621.8 288,621.8 289,621.8 290.1,621.8 291.1,621.8 292.1,621.9 293.2,621.9 294.2,621.9 295.3,621.9 296.3,621.9 297.4,622 298.4,622 299.4,622 300.5,622 301.5,622 302.6,622 303.6,622.1 304.7,622.1 305.7,622.1 306.7,622.1 307.8,622.1 308.8,622.2 309.9,622.2 310.9,622.2 311.9,622.2 313,622.2 314,622.2 315.1,622.3 316.1,622.3 317.2,622.3 318.2,622.3 319.2,622.3 320.3,622.4 321.3,622.4 322.4,622.4 323.4,622.4 324.5,622.4 325.5,622.4 326.5,622.5 327.6,622.5 328.6,622.5 329.7,622.5 330.7,622.5 331.8,622.5 332.8,622.5 333.8,622.6 334.9,622.6 335.9,622.6 337,622.5 338,622.5 339.1,622.5 340.1,622.4 341.1,622.4 342.2,622.3 343.2,622.2 344.3,622 345.3,621.8 346.4,621.6 347.4,621.3 348.4,620.9 349.5,620.4 350.5,619.8 351.6,619.1 352.6,618.3 353.6,617.2 354.7,616 355.7,614.6 356.8,613 357.8,611.1 358.9,608.9 359.9,606.5 360.9,603.7 362,600.6 363,597.2 364.1,593.4 365.1,589.3 366.2,584.8 367.2,580 368.2,575 369.3,569.6 370.3,564.1 371.4,558.4 372.4,552.5 373.5,546.6 374.5,540.8 375.5,535.1 376.6,529.5 377.6,524.3 378.7,519.3 379.7,514.9 380.8,510.9 381.8,507.6 382.8,504.9 383.9,502.8 384.9,501.6 386,501 387,501.3 388.1,502.3 389.1,504.1 390.1,506.5 391.2,509.7 392.2,513.4 393.3,517.8 394.3,522.5 395.4,527.7 396.4,533.2 397.4,538.9 398.5,544.7 399.5,550.6 400.6,556.5 401.6,562.3 402.6,568 403.7,573.5 404.7,578.7 405.8,583.6 406.8,588.3 407.9,592.6 408.9,596.5 409.9,600.1 411,603.4 412,606.3 413.1,608.9 414.1,611.3 415.2,613.3 416.2,615.1 417.2,616.6 418.3,617.9 419.3,619 420.4,620 421.4,620.8 422.5,621.5 423.5,622 424.5,622.5 425.6,622.9 426.6,623.2 427.7,623.4 428.7,623.6 429.8,623.8 430.8,623.9 431.8,624 432.9,624.1 433.9,624.2 435,624.3 436,624.3 437.1,624.4 438.1,624.4 439.1,624.4 440.2,624.5 441.2,624.5 442.3,624.5 443.3,624.5 444.3,624.6 445.4,624.6 446.4,624.6 447.5,624.6 448.5,624.6 449.6,624.7 450.6,624.7 451.6,624.7 452.7,624.7 453.7,624.7 454.8,624.7 455.8,624.8 456.9,624.8 457.9,624.8" fill="none" stroke="#3fae4a" stroke-width="4.3" stroke-linejoin="round" stroke-dasharray="8 4.6"/>
<path d="M40.9,617.4 41.9,617.4 43,617.4 44,617.5 45.1,617.5 46.1,617.5 47.2,617.5 48.2,617.5 49.2,617.5 50.3,617.6 51.3,617.6 52.4,617.6 53.4,617.6 54.5,617.6 55.5,617.7 56.5,617.7 57.6,617.7 58.6,617.7 59.7,617.7 60.7,617.8 61.8,617.8 62.8,617.8 63.8,617.8 64.9,617.8 65.9,617.8 67,617.9 68,617.9 69,617.9 70.1,617.9 71.1,617.9 72.2,618 73.2,618 74.3,618 75.3,618 76.3,618 77.4,618 78.4,618.1 79.5,618.1 80.5,618.1 81.6,618.1 82.6,618.1 83.6,618.2 84.7,618.2 85.7,618.2 86.8,618.2 87.8,618.2 88.9,618.3 89.9,618.3 90.9,618.3 92,618.3 93,618.3 94.1,618.3 95.1,618.4 96.2,618.4 97.2,618.4 98.2,618.4 99.3,618.4 100.3,618.5 101.4,618.5 102.4,618.5 103.5,618.5 104.5,618.5 105.5,618.5 106.6,618.6 107.6,618.6 108.7,618.6 109.7,618.6 110.7,618.6 111.8,618.7 112.8,618.7 113.9,618.7 114.9,618.7 116,618.7 117,618.8 118,618.8 119.1,618.8 120.1,618.8 121.2,618.8 122.2,618.8 123.3,618.9 124.3,618.9 125.3,618.9 126.4,618.9 127.4,618.9 128.5,619 129.5,619 130.6,619 131.6,619 132.6,619 133.7,619 134.7,619.1 135.8,619.1 136.8,619.1 137.9,619.1 138.9,619.1 139.9,619.1 141,619.2 142,619.2 143.1,619.2 144.1,619.2 145.2,619.2 146.2,619.2 147.2,619.3 148.3,619.3 149.3,619.3 150.4,619.3 151.4,619.3 152.4,619.3 153.5,619.3 154.5,619.3 155.6,619.3 156.6,619.3 157.7,619.3 158.7,619.3 159.7,619.3 160.8,619.3 161.8,619.3 162.9,619.3 163.9,619.3 165,619.2 166,619.2 167,619.2 168.1,619.1 169.1,619.1 170.2,619 171.2,618.9 172.3,618.8 173.3,618.7 174.3,618.6 175.4,618.5 176.4,618.4 177.5,618.2 178.5,618.1 179.6,617.9 180.6,617.7 181.6,617.5 182.7,617.2 183.7,616.9 184.8,616.6 185.8,616.3 186.9,616 187.9,615.6 188.9,615.2 190,614.7 191,614.3 192.1,613.7 193.1,613.2 194.1,612.6 195.2,612 196.2,611.4 197.3,610.7 198.3,609.9 199.4,609.2 200.4,608.4 201.4,607.5 202.5,606.7 203.5,605.7 204.6,604.8 205.6,603.8 206.7,602.8 207.7,601.7 208.7,600.7 209.8,599.6 210.8,598.4 211.9,597.3 212.9,596.1 214,595 215,593.8 216,592.6 217.1,591.4 218.1,590.2 219.2,589.1 220.2,587.9 221.3,586.8 222.3,585.7 223.3,584.6 224.4,583.5 225.4,582.5 226.5,581.6 227.5,580.7 228.6,579.8 229.6,579 230.6,578.2 231.7,577.6 232.7,577 233.8,576.4 234.8,576 235.8,575.6 236.9,575.3 237.9,575.1 239,575 240,574.9 241.1,575 242.1,575.1 243.1,575.3 244.2,575.6 245.2,576 246.3,576.5 247.3,577 248.4,577.6 249.4,578.3 250.4,579 251.5,579.9 252.5,580.7 253.6,581.7 254.6,582.7 255.7,583.7 256.7,584.8 257.7,585.9 258.8,587 259.8,588.2 260.9,589.3 261.9,590.5 263,591.8 264,593 265,594.2 266.1,595.4 267.1,596.6 268.2,597.8 269.2,599 270.2,600.2 271.3,601.3 272.3,602.5 273.4,603.5 274.4,604.6 275.5,605.6 276.5,606.6 277.5,607.6 278.6,608.5 279.6,609.4 280.7,610.3 281.7,611.1 282.8,611.9 283.8,612.6 284.8,613.3 285.9,614 286.9,614.6 288,615.2 289,615.8 290.1,616.3 291.1,616.8 292.1,617.3 293.2,617.7 294.2,618.1 295.3,618.5 296.3,618.8 297.4,619.1 298.4,619.4 299.4,619.7 300.5,619.9 301.5,620.2 302.6,620.4 303.6,620.6 304.7,620.8 305.7,620.9 306.7,621.1 307.8,621.2 308.8,621.3 309.9,621.4 310.9,621.5 311.9,621.6 313,621.7 314,621.8 315.1,621.9 316.1,621.9 317.2,622 318.2,622.1 319.2,622.1 320.3,622.2 321.3,622.2 322.4,622.3 323.4,622.3 324.5,622.3 325.5,622.4 326.5,622.4 327.6,622.4 328.6,622.4 329.7,622.5 330.7,622.5 331.8,622.5 332.8,622.5 333.8,622.6 334.9,622.6 335.9,622.6 337,622.6 338,622.7 339.1,622.7 340.1,622.7 341.1,622.7 342.2,622.7 343.2,622.8 344.3,622.8 345.3,622.8 346.4,622.8 347.4,622.8 348.4,622.9 349.5,622.9 350.5,622.9 351.6,622.9 352.6,622.9 353.6,622.9 354.7,623 355.7,623 356.8,623 357.8,623 358.9,623 359.9,623.1 360.9,623.1 362,623.1 363,623.1 364.1,623.1 365.1,623.2 366.2,623.2 367.2,623.2 368.2,623.2 369.3,623.2 370.3,623.2 371.4,623.3 372.4,623.3 373.5,623.3 374.5,623.3 375.5,623.3 376.6,623.4 377.6,623.4 378.7,623.4 379.7,623.4 380.8,623.4 381.8,623.4 382.8,623.5 383.9,623.5 384.9,623.5 386,623.5 387,623.5 388.1,623.6 389.1,623.6 390.1,623.6 391.2,623.6 392.2,623.6 393.3,623.7 394.3,623.7 395.4,623.7 396.4,623.7 397.4,623.7 398.5,623.7 399.5,623.8 400.6,623.8 401.6,623.8 402.6,623.8 403.7,623.8 404.7,623.9 405.8,623.9 406.8,623.9 407.9,623.9 408.9,623.9 409.9,623.9 411,624 412,624 413.1,624 414.1,624 415.2,624 416.2,624.1 417.2,624.1 418.3,624.1 419.3,624.1 420.4,624.1 421.4,624.2 422.5,624.2 423.5,624.2 424.5,624.2 425.6,624.2 426.6,624.2 427.7,624.3 428.7,624.3 429.8,624.3 430.8,624.3 431.8,624.3 432.9,624.4 433.9,624.4 435,624.4 436,624.4 437.1,624.4 438.1,624.4 439.1,624.5 440.2,624.5 441.2,624.5 442.3,624.5 443.3,624.5 444.3,624.6 445.4,624.6 446.4,624.6 447.5,624.6 448.5,624.6 449.6,624.7 450.6,624.7 451.6,624.7 452.7,624.7 453.7,624.7 454.8,624.7 455.8,624.8 456.9,624.8 457.9,624.8" fill="none" stroke="#2f4fa8" stroke-width="4.3" stroke-linejoin="round" stroke-dasharray="8 4.6"/>
<path d="M40.9,617.4 41.9,617.4 43,617.4 44,617.5 45.1,617.5 46.1,617.5 47.2,617.5 48.2,617.5 49.2,617.5 50.3,617.6 51.3,617.6 52.4,617.6 53.4,617.6 54.5,617.6 55.5,617.7 56.5,617.7 57.6,617.7 58.6,617.7 59.7,617.7 60.7,617.8 61.8,617.8 62.8,617.8 63.8,617.8 64.9,617.8 65.9,617.8 67,617.9 68,617.9 69,617.9 70.1,617.9 71.1,617.9 72.2,618 73.2,618 74.3,618 75.3,618 76.3,618 77.4,618 78.4,618.1 79.5,618.1 80.5,618.1 81.6,618.1 82.6,618.1 83.6,618.2 84.7,618.2 85.7,618.2 86.8,618.2 87.8,618.2 88.9,618.3 89.9,618.3 90.9,618.3 92,618.3 93,618.3 94.1,618.3 95.1,618.4 96.2,618.4 97.2,618.4 98.2,618.4 99.3,618.4 100.3,618.5 101.4,618.5 102.4,618.5 103.5,618.5 104.5,618.5 105.5,618.5 106.6,618.6 107.6,618.6 108.7,618.6 109.7,618.6 110.7,618.6 111.8,618.7 112.8,618.7 113.9,618.7 114.9,618.7 116,618.7 117,618.8 118,618.8 119.1,618.8 120.1,618.8 121.2,618.8 122.2,618.8 123.3,618.9 124.3,618.9 125.3,618.9 126.4,618.9 127.4,618.9 128.5,619 129.5,619 130.6,619 131.6,619 132.6,619 133.7,619 134.7,619.1 135.8,619.1 136.8,619.1 137.9,619.1 138.9,619.1 139.9,619.2 141,619.2 142,619.2 143.1,619.2 144.1,619.2 145.2,619.2 146.2,619.3 147.2,619.3 148.3,619.3 149.3,619.3 150.4,619.3 151.4,619.4 152.4,619.4 153.5,619.4 154.5,619.4 155.6,619.4 156.6,619.5 157.7,619.5 158.7,619.5 159.7,619.5 160.8,619.5 161.8,619.5 162.9,619.6 163.9,619.6 165,619.6 166,619.6 167,619.6 168.1,619.7 169.1,619.7 170.2,619.7 171.2,619.7 172.3,619.7 173.3,619.7 174.3,619.8 175.4,619.8 176.4,619.8 177.5,619.8 178.5,619.8 179.6,619.9 180.6,619.9 181.6,619.9 182.7,619.9 183.7,619.9 184.8,619.9 185.8,619.9 186.9,620 187.9,620 188.9,620 190,620 191,620 192.1,620 193.1,620 194.1,620 195.2,620 196.2,620 197.3,620 198.3,620 199.4,620 200.4,620 201.4,620 202.5,620 203.5,619.9 204.6,619.9 205.6,619.8 206.7,619.8 207.7,619.7 208.7,619.6 209.8,619.5 210.8,619.4 211.9,619.3 212.9,619.2 214,619 215,618.8 216,618.6 217.1,618.4 218.1,618.2 219.2,617.9 220.2,617.6 221.3,617.2 222.3,616.9 223.3,616.4 224.4,616 225.4,615.5 226.5,614.9 227.5,614.3 228.6,613.7 229.6,613 230.6,612.2 231.7,611.4 232.7,610.6 233.8,609.6 234.8,608.6 235.8,607.6 236.9,606.4 237.9,605.2 239,604 240,602.6 241.1,601.2 242.1,599.8 243.1,598.2 244.2,596.7 245.2,595 246.3,593.3 247.3,591.5 248.4,589.7 249.4,587.9 250.4,586 251.5,584 252.5,582.1 253.6,580.1 254.6,578.1 255.7,576.1 256.7,574.1 257.7,572.2 258.8,570.2 259.8,568.3 260.9,566.4 261.9,564.5 263,562.8 264,561.1 265,559.4 266.1,557.9 267.1,556.4 268.2,555.1 269.2,553.8 270.2,552.7 271.3,551.7 272.3,550.8 273.4,550.1 274.4,549.5 275.5,549.1 276.5,548.8 277.5,548.6 278.6,548.6 279.6,548.8 280.7,549 281.7,549.4 282.8,549.9 283.8,550.5 284.8,551.2 285.9,552 286.9,553 288,554 289,555.1 290.1,556.4 291.1,557.7 292.1,559.1 293.2,560.5 294.2,562.1 295.3,563.7 296.3,565.3 297.4,567 298.4,568.8 299.4,570.5 300.5,572.3 301.5,574.1 302.6,576 303.6,577.8 304.7,579.6 305.7,581.4 306.7,583.3 307.8,585.1 308.8,586.8 309.9,588.6 310.9,590.3 311.9,592 313,593.6 314,595.2 315.1,596.8 316.1,598.3 317.2,599.8 318.2,601.2 319.2,602.5 320.3,603.8 321.3,605.1 322.4,606.3 323.4,607.4 324.5,608.5 325.5,609.5 326.5,610.5 327.6,611.4 328.6,612.3 329.7,613.1 330.7,613.9 331.8,614.6 332.8,615.3 333.8,615.9 334.9,616.5 335.9,617.1 337,617.6 338,618.1 339.1,618.5 340.1,618.9 341.1,619.3 342.2,619.7 343.2,620 344.3,620.3 345.3,620.6 346.4,620.8 347.4,621 348.4,621.2 349.5,621.4 350.5,621.6 351.6,621.8 352.6,621.9 353.6,622.1 354.7,622.2 355.7,622.3 356.8,622.4 357.8,622.5 358.9,622.6 359.9,622.6 360.9,622.7 362,622.8 363,622.8 364.1,622.9 365.1,622.9 366.2,623 367.2,623 368.2,623.1 369.3,623.1 370.3,623.1 371.4,623.2 372.4,623.2 373.5,623.2 374.5,623.3 375.5,623.3 376.6,623.3 377.6,623.3 378.7,623.4 379.7,623.4 380.8,623.4 381.8,623.4 382.8,623.5 383.9,623.5 384.9,623.5 386,623.5 387,623.5 388.1,623.6 389.1,623.6 390.1,623.6 391.2,623.6 392.2,623.6 393.3,623.7 394.3,623.7 395.4,623.7 396.4,623.7 397.4,623.7 398.5,623.7 399.5,623.8 400.6,623.8 401.6,623.8 402.6,623.8 403.7,623.8 404.7,623.9 405.8,623.9 406.8,623.9 407.9,623.9 408.9,623.9 409.9,623.9 411,624 412,624 413.1,624 414.1,624 415.2,624 416.2,624.1 417.2,624.1 418.3,624.1 419.3,624.1 420.4,624.1 421.4,624.2 422.5,624.2 423.5,624.2 424.5,624.2 425.6,624.2 426.6,624.2 427.7,624.3 428.7,624.3 429.8,624.3 430.8,624.3 431.8,624.3 432.9,624.4 433.9,624.4 435,624.4 436,624.4 437.1,624.4 438.1,624.4 439.1,624.5 440.2,624.5 441.2,624.5 442.3,624.5 443.3,624.5 444.3,624.6 445.4,624.6 446.4,624.6 447.5,624.6 448.5,624.6 449.6,624.7 450.6,624.7 451.6,624.7 452.7,624.7 453.7,624.7 454.8,624.7 455.8,624.8 456.9,624.8 457.9,624.8" fill="none" stroke="#e8323c" stroke-width="4.3" stroke-linejoin="round" stroke-dasharray="8 4.6"/>
<path d="M40.9,617.4 41.9,617.4 43,617.4 44,617.5 45.1,617.5 46.1,617.5 47.2,617.5 48.2,617.5 49.2,617.5 50.3,617.6 51.3,617.6 52.4,617.6 53.4,617.6 54.5,617.6 55.5,617.7 56.5,617.7 57.6,617.7 58.6,617.7 59.7,617.7 60.7,617.8 61.8,617.8 62.8,617.8 63.8,617.8 64.9,617.8 65.9,617.8 67,617.9 68,617.9 69,617.9 70.1,617.9 71.1,617.9 72.2,618 73.2,618 74.3,618 75.3,618 76.3,618 77.4,618 78.4,618.1 79.5,618.1 80.5,618.1 81.6,618.1 82.6,618.1 83.6,618.2 84.7,618.2 85.7,618.2 86.8,618.2 87.8,618.2 88.9,618.2 89.9,618.2 90.9,618.3 92,618.3 93,618.3 94.1,618.3 95.1,618.3 96.2,618.3 97.2,618.3 98.2,618.3 99.3,618.4 100.3,618.4 101.4,618.4 102.4,618.4 103.5,618.4 104.5,618.4 105.5,618.3 106.6,618.3 107.6,618.3 108.7,618.3 109.7,618.3 110.7,618.2 111.8,618.2 112.8,618.2 113.9,618.1 114.9,618 116,618 117,617.9 118,617.8 119.1,617.7 120.1,617.6 121.2,617.5 122.2,617.3 123.3,617.2 124.3,617 125.3,616.8 126.4,616.6 127.4,616.4 128.5,616.2 129.5,615.9 130.6,615.6 131.6,615.3 132.6,615 133.7,614.6 134.7,614.2 135.8,613.8 136.8,613.4 137.9,612.9 138.9,612.4 139.9,611.9 141,611.4 142,610.8 143.1,610.2 144.1,609.6 145.2,609 146.2,608.3 147.2,607.6 148.3,606.9 149.3,606.2 150.4,605.5 151.4,604.7 152.4,603.9 153.5,603.1 154.5,602.4 155.6,601.6 156.6,600.8 157.7,600 158.7,599.2 159.7,598.4 160.8,597.6 161.8,596.9 162.9,596.2 163.9,595.5 165,594.8 166,594.1 167,593.5 168.1,592.9 169.1,592.4 170.2,591.9 171.2,591.5 172.3,591.1 173.3,590.7 174.3,590.4 175.4,590.2 176.4,590 177.5,589.9 178.5,589.9 179.6,589.9 180.6,589.9 181.6,590 182.7,590.2 183.7,590.5 184.8,590.8 185.8,591.1 186.9,591.5 187.9,592 188.9,592.5 190,593 191,593.6 192.1,594.2 193.1,594.9 194.1,595.6 195.2,596.3 196.2,597.1 197.3,597.8 198.3,598.6 199.4,599.4 200.4,600.3 201.4,601.1 202.5,601.9 203.5,602.7 204.6,603.6 205.6,604.4 206.7,605.2 207.7,606 208.7,606.8 209.8,607.6 210.8,608.3 211.9,609.1 212.9,609.8 214,610.5 215,611.1 216,611.8 217.1,612.4 218.1,613 219.2,613.6 220.2,614.1 221.3,614.6 222.3,615.1 223.3,615.6 224.4,616 225.4,616.4 226.5,616.8 227.5,617.1 228.6,617.5 229.6,617.8 230.6,618.1 231.7,618.4 232.7,618.6 233.8,618.8 234.8,619.1 235.8,619.3 236.9,619.4 237.9,619.6 239,619.8 240,619.9 241.1,620 242.1,620.2 243.1,620.3 244.2,620.4 245.2,620.5 246.3,620.6 247.3,620.6 248.4,620.7 249.4,620.8 250.4,620.8 251.5,620.9 252.5,620.9 253.6,621 254.6,621 255.7,621.1 256.7,621.1 257.7,621.1 258.8,621.2 259.8,621.2 260.9,621.2 261.9,621.3 263,621.3 264,621.3 265,621.3 266.1,621.4 267.1,621.4 268.2,621.4 269.2,621.4 270.2,621.5 271.3,621.5 272.3,621.5 273.4,621.5 274.4,621.5 275.5,621.6 276.5,621.6 277.5,621.6 278.6,621.6 279.6,621.6 280.7,621.7 281.7,621.7 282.8,621.7 283.8,621.7 284.8,621.7 285.9,621.7 286.9,621.8 288,621.8 289,621.8 290.1,621.8 291.1,621.8 292.1,621.9 293.2,621.9 294.2,621.9 295.3,621.9 296.3,621.9 297.4,622 298.4,622 299.4,622 300.5,622 301.5,622 302.6,622 303.6,622.1 304.7,622.1 305.7,622.1 306.7,622.1 307.8,622.1 308.8,622.2 309.9,622.2 310.9,622.2 311.9,622.2 313,622.2 314,622.2 315.1,622.3 316.1,622.3 317.2,622.3 318.2,622.3 319.2,622.3 320.3,622.4 321.3,622.4 322.4,622.4 323.4,622.4 324.5,622.4 325.5,622.5 326.5,622.5 327.6,622.5 328.6,622.5 329.7,622.5 330.7,622.5 331.8,622.6 332.8,622.6 333.8,622.6 334.9,622.6 335.9,622.6 337,622.7 338,622.7 339.1,622.7 340.1,622.7 341.1,622.7 342.2,622.7 343.2,622.8 344.3,622.8 345.3,622.8 346.4,622.8 347.4,622.8 348.4,622.9 349.5,622.9 350.5,622.9 351.6,622.9 352.6,622.9 353.6,622.9 354.7,623 355.7,623 356.8,623 357.8,623 358.9,623 359.9,623.1 360.9,623.1 362,623.1 363,623.1 364.1,623.1 365.1,623.2 366.2,623.2 367.2,623.2 368.2,623.2 369.3,623.2 370.3,623.2 371.4,623.3 372.4,623.3 373.5,623.3 374.5,623.3 375.5,623.3 376.6,623.4 377.6,623.4 378.7,623.4 379.7,623.4 380.8,623.4 381.8,623.4 382.8,623.5 383.9,623.5 384.9,623.5 386,623.5 387,623.5 388.1,623.6 389.1,623.6 390.1,623.6 391.2,623.6 392.2,623.6 393.3,623.7 394.3,623.7 395.4,623.7 396.4,623.7 397.4,623.7 398.5,623.7 399.5,623.8 400.6,623.8 401.6,623.8 402.6,623.8 403.7,623.8 404.7,623.9 405.8,623.9 406.8,623.9 407.9,623.9 408.9,623.9 409.9,623.9 411,624 412,624 413.1,624 414.1,624 415.2,624 416.2,624.1 417.2,624.1 418.3,624.1 419.3,624.1 420.4,624.1 421.4,624.2 422.5,624.2 423.5,624.2 424.5,624.2 425.6,624.2 426.6,624.2 427.7,624.3 428.7,624.3 429.8,624.3 430.8,624.3 431.8,624.3 432.9,624.4 433.9,624.4 435,624.4 436,624.4 437.1,624.4 438.1,624.4 439.1,624.5 440.2,624.5 441.2,624.5 442.3,624.5 443.3,624.5 444.3,624.6 445.4,624.6 446.4,624.6 447.5,624.6 448.5,624.6 449.6,624.7 450.6,624.7 451.6,624.7 452.7,624.7 453.7,624.7 454.8,624.7 455.8,624.8 456.9,624.8 457.9,624.8" fill="none" stroke="#2fb5b0" stroke-width="4.3" stroke-linejoin="round" stroke-dasharray="8 4.6"/>
<path d="M40.9,616.9 41.9,616.9 43,616.9 44,616.9 45.1,616.8 46.1,616.8 47.2,616.8 48.2,616.7 49.2,616.7 50.3,616.7 51.3,616.6 52.4,616.6 53.4,616.5 54.5,616.5 55.5,616.4 56.5,616.4 57.6,616.3 58.6,616.3 59.7,616.2 60.7,616.1 61.8,616 62.8,616 63.8,615.9 64.9,615.8 65.9,615.7 67,615.6 68,615.5 69,615.4 70.1,615.3 71.1,615.2 72.2,615.1 73.2,615 74.3,614.9 75.3,614.8 76.3,614.6 77.4,614.5 78.4,614.4 79.5,614.3 80.5,614.2 81.6,614 82.6,613.9 83.6,613.8 84.7,613.6 85.7,613.5 86.8,613.4 87.8,613.2 88.9,613.1 89.9,613 90.9,612.8 92,612.7 93,612.6 94.1,612.4 95.1,612.3 96.2,612.2 97.2,612.1 98.2,612 99.3,611.9 100.3,611.7 101.4,611.6 102.4,611.5 103.5,611.5 104.5,611.4 105.5,611.3 106.6,611.2 107.6,611.1 108.7,611.1 109.7,611 110.7,610.9 111.8,610.9 112.8,610.9 113.9,610.8 114.9,610.8 116,610.8 117,610.8 118,610.8 119.1,610.8 120.1,610.8 121.2,610.8 122.2,610.9 123.3,610.9 124.3,610.9 125.3,611 126.4,611.1 127.4,611.1 128.5,611.2 129.5,611.3 130.6,611.4 131.6,611.5 132.6,611.6 133.7,611.7 134.7,611.8 135.8,611.9 136.8,612 137.9,612.2 138.9,612.3 139.9,612.5 141,612.6 142,612.7 143.1,612.9 144.1,613.1 145.2,613.2 146.2,613.4 147.2,613.5 148.3,613.7 149.3,613.9 150.4,614 151.4,614.2 152.4,614.4 153.5,614.5 154.5,614.7 155.6,614.9 156.6,615.1 157.7,615.2 158.7,615.4 159.7,615.6 160.8,615.7 161.8,615.9 162.9,616 163.9,616.2 165,616.4 166,616.5 167,616.7 168.1,616.8 169.1,617 170.2,617.1 171.2,617.2 172.3,617.4 173.3,617.5 174.3,617.6 175.4,617.8 176.4,617.9 177.5,618 178.5,618.1 179.6,618.2 180.6,618.3 181.6,618.4 182.7,618.5 183.7,618.6 184.8,618.7 185.8,618.8 186.9,618.9 187.9,619 188.9,619.1 190,619.2 191,619.2 192.1,619.3 193.1,619.4 194.1,619.4 195.2,619.5 196.2,619.6 197.3,619.6 198.3,619.7 199.4,619.7 200.4,619.8 201.4,619.8 202.5,619.9 203.5,619.9 204.6,620 205.6,620 206.7,620.1 207.7,620.1 208.7,620.1 209.8,620.2 210.8,620.2 211.9,620.3 212.9,620.3 214,620.3 215,620.3 216,620.4 217.1,620.4 218.1,620.4 219.2,620.5 220.2,620.5 221.3,620.5 222.3,620.5 223.3,620.6 224.4,620.6 225.4,620.6 226.5,620.6 227.5,620.7 228.6,620.7 229.6,620.7 230.6,620.7 231.7,620.8 232.7,620.8 233.8,620.8 234.8,620.8 235.8,620.8 236.9,620.9 237.9,620.9 239,620.9 240,620.9 241.1,620.9 242.1,621 243.1,621 244.2,621 245.2,621 246.3,621 247.3,621.1 248.4,621.1 249.4,621.1 250.4,621.1 251.5,621.1 252.5,621.2 253.6,621.2 254.6,621.2 255.7,621.2 256.7,621.2 257.7,621.2 258.8,621.3 259.8,621.3 260.9,621.3 261.9,621.3 263,621.3 264,621.4 265,621.4 266.1,621.4 267.1,621.4 268.2,621.4 269.2,621.5 270.2,621.5 271.3,621.5 272.3,621.5 273.4,621.5 274.4,621.5 275.5,621.6 276.5,621.6 277.5,621.6 278.6,621.6 279.6,621.6 280.7,621.7 281.7,621.7 282.8,621.7 283.8,621.7 284.8,621.7 285.9,621.7 286.9,621.8 288,621.8 289,621.8 290.1,621.8 291.1,621.8 292.1,621.9 293.2,621.9 294.2,621.9 295.3,621.9 296.3,621.9 297.4,622 298.4,622 299.4,622 300.5,622 301.5,622 302.6,622 303.6,622.1 304.7,622.1 305.7,622.1 306.7,622.1 307.8,622.1 308.8,622.2 309.9,622.2 310.9,622.2 311.9,622.2 313,622.2 314,622.2 315.1,622.3 316.1,622.3 317.2,622.3 318.2,622.3 319.2,622.3 320.3,622.4 321.3,622.4 322.4,622.4 323.4,622.4 324.5,622.4 325.5,622.5 326.5,622.5 327.6,622.5 328.6,622.5 329.7,622.5 330.7,622.5 331.8,622.6 332.8,622.6 333.8,622.6 334.9,622.6 335.9,622.6 337,622.7 338,622.7 339.1,622.7 340.1,622.7 341.1,622.7 342.2,622.7 343.2,622.8 344.3,622.8 345.3,622.8 346.4,622.8 347.4,622.8 348.4,622.9 349.5,622.9 350.5,622.9 351.6,622.9 352.6,622.9 353.6,622.9 354.7,623 355.7,623 356.8,623 357.8,623 358.9,623 359.9,623.1 360.9,623.1 362,623.1 363,623.1 364.1,623.1 365.1,623.2 366.2,623.2 367.2,623.2 368.2,623.2 369.3,623.2 370.3,623.2 371.4,623.3 372.4,623.3 373.5,623.3 374.5,623.3 375.5,623.3 376.6,623.4 377.6,623.4 378.7,623.4 379.7,623.4 380.8,623.4 381.8,623.4 382.8,623.5 383.9,623.5 384.9,623.5 386,623.5 387,623.5 388.1,623.6 389.1,623.6 390.1,623.6 391.2,623.6 392.2,623.6 393.3,623.7 394.3,623.7 395.4,623.7 396.4,623.7 397.4,623.7 398.5,623.7 399.5,623.8 400.6,623.8 401.6,623.8 402.6,623.8 403.7,623.8 404.7,623.9 405.8,623.9 406.8,623.9 407.9,623.9 408.9,623.9 409.9,623.9 411,624 412,624 413.1,624 414.1,624 415.2,624 416.2,624.1 417.2,624.1 418.3,624.1 419.3,624.1 420.4,624.1 421.4,624.2 422.5,624.2 423.5,624.2 424.5,624.2 425.6,624.2 426.6,624.2 427.7,624.3 428.7,624.3 429.8,624.3 430.8,624.3 431.8,624.3 432.9,624.4 433.9,624.4 435,624.4 436,624.4 437.1,624.4 438.1,624.4 439.1,624.5 440.2,624.5 441.2,624.5 442.3,624.5 443.3,624.5 444.3,624.6 445.4,624.6 446.4,624.6 447.5,624.6 448.5,624.6 449.6,624.7 450.6,624.7 451.6,624.7 452.7,624.7 453.7,624.7 454.8,624.7 455.8,624.8 456.9,624.8 457.9,624.8" fill="none" stroke="#7d1a1f" stroke-width="4.3" stroke-linejoin="round" stroke-dasharray="8 4.6"/>
<path d="M40.9,616.9 41.9,616.9 43,616.9 44,616.9 45.1,616.8 46.1,616.8 47.2,616.8 48.2,616.7 49.2,616.7 50.3,616.7 51.3,616.6 52.4,616.6 53.4,616.5 54.5,616.5 55.5,616.4 56.5,616.4 57.6,616.3 58.6,616.3 59.7,616.2 60.7,616.1 61.8,616 62.8,616 63.8,615.9 64.9,615.8 65.9,615.7 67,615.6 68,615.5 69,615.4 70.1,615.3 71.1,615.2 72.2,615.1 73.2,615 74.3,614.9 75.3,614.8 76.3,614.6 77.4,614.5 78.4,614.4 79.5,614.3 80.5,614.1 81.6,614 82.6,613.9 83.6,613.8 84.7,613.6 85.7,613.5 86.8,613.4 87.8,613.2 88.9,613.1 89.9,612.9 90.9,612.8 92,612.7 93,612.5 94.1,612.4 95.1,612.3 96.2,612.1 97.2,612 98.2,611.9 99.3,611.8 100.3,611.6 101.4,611.5 102.4,611.4 103.5,611.3 104.5,611.2 105.5,611.1 106.6,611 107.6,610.9 108.7,610.8 109.7,610.7 110.7,610.5 111.8,610.4 112.8,610.3 113.9,610.2 114.9,610.1 116,610 117,609.9 118,609.8 119.1,609.7 120.1,609.6 121.2,609.5 122.2,609.4 123.3,609.2 124.3,609.1 125.3,608.9 126.4,608.8 127.4,608.6 128.5,608.4 129.5,608.2 130.6,608 131.6,607.8 132.6,607.5 133.7,607.2 134.7,607 135.8,606.7 136.8,606.3 137.9,606 138.9,605.6 139.9,605.2 141,604.8 142,604.4 143.1,603.9 144.1,603.4 145.2,602.9 146.2,602.4 147.2,601.9 148.3,601.3 149.3,600.7 150.4,600.1 151.4,599.5 152.4,598.9 153.5,598.2 154.5,597.6 155.6,596.9 156.6,596.3 157.7,595.6 158.7,594.9 159.7,594.3 160.8,593.6 161.8,593 162.9,592.4 163.9,591.8 165,591.2 166,590.6 167,590.1 168.1,589.6 169.1,589.1 170.2,588.6 171.2,588.2 172.3,587.8 173.3,587.5 174.3,587.2 175.4,586.9 176.4,586.7 177.5,586.5 178.5,586.4 179.6,586.2 180.6,586.2 181.6,586.1 182.7,586.1 183.7,586.1 184.8,586.2 185.8,586.3 186.9,586.4 187.9,586.5 188.9,586.6 190,586.7 191,586.9 192.1,587 193.1,587.2 194.1,587.3 195.2,587.4 196.2,587.5 197.3,587.6 198.3,587.7 199.4,587.7 200.4,587.7 201.4,587.7 202.5,587.6 203.5,587.5 204.6,587.3 205.6,587.1 206.7,586.8 207.7,586.5 208.7,586.1 209.8,585.7 210.8,585.2 211.9,584.6 212.9,584 214,583.4 215,582.7 216,581.9 217.1,581.1 218.1,580.2 219.2,579.3 220.2,578.3 221.3,577.4 222.3,576.3 223.3,575.2 224.4,574.1 225.4,573 226.5,571.9 227.5,570.7 228.6,569.5 229.6,568.2 230.6,567 231.7,565.8 232.7,564.5 233.8,563.2 234.8,562 235.8,560.7 236.9,559.4 237.9,558.1 239,556.9 240,555.6 241.1,554.3 242.1,553.1 243.1,551.9 244.2,550.6 245.2,549.4 246.3,548.2 247.3,547 248.4,545.9 249.4,544.7 250.4,543.6 251.5,542.5 252.5,541.4 253.6,540.4 254.6,539.4 255.7,538.5 256.7,537.5 257.7,536.7 258.8,535.8 259.8,535.1 260.9,534.4 261.9,533.7 263,533.1 264,532.6 265,532.2 266.1,531.9 267.1,531.6 268.2,531.4 269.2,531.4 270.2,531.4 271.3,531.5 272.3,531.8 273.4,532.1 274.4,532.6 275.5,533.1 276.5,533.8 277.5,534.6 278.6,535.5 279.6,536.6 280.7,537.6 281.7,538.8 282.8,540.1 283.8,541.4 284.8,542.8 285.9,544.3 286.9,545.8 288,547.4 289,549.1 290.1,550.8 291.1,552.6 292.1,554.5 293.2,556.3 294.2,558.2 295.3,560.2 296.3,562.1 297.4,564.1 298.4,566.1 299.4,568.1 300.5,570.1 301.5,572.1 302.6,574.1 303.6,576.1 304.7,578 305.7,580 306.7,581.8 307.8,583.7 308.8,585.5 309.9,587.3 310.9,589 311.9,590.6 313,592.2 314,593.7 315.1,595.1 316.1,596.5 317.2,597.8 318.2,599 319.2,600.1 320.3,601.2 321.3,602.1 322.4,603 323.4,603.8 324.5,604.5 325.5,605.1 326.5,605.6 327.6,606.1 328.6,606.5 329.7,606.8 330.7,607 331.8,607.1 332.8,607.2 333.8,607.2 334.9,607.2 335.9,607.1 337,607 338,606.8 339.1,606.6 340.1,606.3 341.1,606.1 342.2,605.7 343.2,605.4 344.3,605.1 345.3,604.7 346.4,604.3 347.4,603.8 348.4,603.3 349.5,602.8 350.5,602.2 351.6,601.5 352.6,600.7 353.6,599.9 354.7,598.9 355.7,597.7 356.8,596.3 357.8,594.8 358.9,593 359.9,591 360.9,588.7 362,586.1 363,583.2 364.1,580 365.1,576.5 366.2,572.6 367.2,568.5 368.2,564.1 369.3,559.4 370.3,554.5 371.4,549.4 372.4,544.2 373.5,538.9 374.5,533.7 375.5,528.5 376.6,523.5 377.6,518.8 378.7,514.4 379.7,510.4 380.8,506.9 381.8,503.9 382.8,501.6 383.9,499.9 384.9,499 386,498.7 387,499.3 388.1,500.5 389.1,502.5 390.1,505.2 391.2,508.5 392.2,512.4 393.3,516.9 394.3,521.8 395.4,527.1 396.4,532.6 397.4,538.4 398.5,544.3 399.5,550.3 400.6,556.3 401.6,562.1 402.6,567.8 403.7,573.3 404.7,578.6 405.8,583.5 406.8,588.2 407.9,592.5 408.9,596.4 409.9,600.1 411,603.4 412,606.3 413.1,608.9 414.1,611.2 415.2,613.3 416.2,615.1 417.2,616.6 418.3,617.9 419.3,619 420.4,620 421.4,620.8 422.5,621.5 423.5,622 424.5,622.5 425.6,622.9 426.6,623.2 427.7,623.4 428.7,623.6 429.8,623.8 430.8,623.9 431.8,624 432.9,624.1 433.9,624.2 435,624.3 436,624.3 437.1,624.4 438.1,624.4 439.1,624.4 440.2,624.5 441.2,624.5 442.3,624.5 443.3,624.5 444.3,624.6 445.4,624.6 446.4,624.6 447.5,624.6 448.5,624.6 449.6,624.7 450.6,624.7 451.6,624.7 452.7,624.7 453.7,624.7 454.8,624.7 455.8,624.8 456.9,624.8 457.9,624.8" fill="none" stroke="#3c3c3c" stroke-width="1.9" stroke-linejoin="round" />
<path d="M40.9,616.3 43,617 45.1,616.6 47.2,617 49.2,617 51.3,615.7 53.4,615.5 55.5,617.2 57.6,615.8 59.7,615.6 61.8,617.1 63.8,615.8 65.9,616.4 68,615.5 70.1,615.6 72.2,614.3 74.3,615.2 76.3,615.5 78.4,614.5 80.5,614.7 82.6,614.3 84.7,612.7 86.8,613.9 88.9,613.3 90.9,612.4 93,611.5 95.1,613.1 97.2,612 99.3,612.3 101.4,612.4 103.5,611.8 105.5,612 107.6,610.6 109.7,611.3 111.8,610.3 113.9,611.2 116,610.9 118,608.9 120.1,608.8 122.2,608.7 124.3,610.1 126.4,608.6 128.5,608.7 130.6,607.6 132.6,607.5 134.7,606.7 136.8,606 138.9,605.8 141,605 143.1,604.8 145.2,603.3 147.2,602.8 149.3,601.5 151.4,600.6 153.5,598.6 155.6,596.2 157.7,596.4 159.7,595.4 161.8,594 163.9,592 166,591.2 168.1,589.1 170.2,589.6 172.3,588.2 174.3,587 176.4,586.1 178.5,587.6 180.6,587.7 182.7,585.8 184.8,587.5 186.9,586.9 188.9,586.7 191,587.4 193.1,588.8 195.2,589.4 197.3,587.8 199.4,589.2 201.4,588 203.5,589.3 205.6,588.1 207.7,588.7 209.8,588.1 211.9,586 214,585.7 216,582.6 218.1,580.3 220.2,579.5 222.3,576.1 224.4,574.2 226.5,572.2 228.6,570.1 230.6,566.5 232.7,563.7 234.8,562.9 236.9,559 239,557.9 241.1,555.2 243.1,551.6 245.2,549.4 247.3,547.2 249.4,545.3 251.5,543.1 253.6,541.1 255.7,539.4 257.7,538.4 259.8,536 261.9,534.6 264,534.3 266.1,532.5 268.2,532.3 270.2,533.8 272.3,533.2 274.4,534.1 276.5,534.1 278.6,536.7 280.7,539.1 282.8,540.2 284.8,544.2 286.9,547.2 289,549.1 291.1,553.8 293.2,557 295.3,561.3 297.4,564.4 299.4,569.1 301.5,573.1 303.6,575.4 305.7,579.3 307.8,584.3 309.9,588.5 311.9,590.2 314,593.7 316.1,596.8 318.2,598.7 320.3,600.9 322.4,602.6 324.5,604.2 326.5,605.9 328.6,606.1 330.7,606.7 332.8,607.8 334.9,606.2 337,607.1 339.1,607.1 341.1,605.6 343.2,604.8 345.3,605.3 347.4,603.2 349.5,602.1 351.6,601.4 353.6,600.3 355.7,596.8 357.8,594.4 359.9,590.6 362,586.8 364.1,579.9 366.2,573.4 368.2,563.3 370.3,554.1 372.4,544.5 374.5,534.5 376.6,523.4 378.7,513.7 380.8,506 382.8,501.6 384.9,498.3 387,499.9 389.1,502.8 391.2,506.5 393.3,513.9 395.5,524 397.7,533.7 399.9,544.8 402.2,554.7 404.4,564.9 406.6,575.3 408.9,585.6 410.9,592.5 413,599.6 415.1,605.6 417.2,610.3 419.3,614 421.4,618 423.5,618.5 425.5,619.7 427.6,623 429.7,623.6 431.7,624.4 433.7,623.6 435.7,625 437.7,625.1 439.6,623.7 441.6,625 443.6,625.2 445.6,624.9 447.6,624.6 449.6,624.2 451.6,624.3 453.7,624.1 455.8,623.8 457.9,625" fill="none" stroke="#222" stroke-width="1.0" stroke-linejoin="round" stroke-dasharray="1 1.6"/>
<path d="M40.9,773.6 41.9,773.6 43,773.6 44,773.6 45.1,773.7 46.1,773.7 47.2,773.7 48.2,773.7 49.2,773.7 50.3,773.7 51.3,773.7 52.4,773.8 53.4,773.8 54.5,773.8 55.5,773.8 56.5,773.8 57.6,773.8 58.6,773.8 59.7,773.8 60.7,773.9 61.8,773.9 62.8,773.9 63.8,773.9 64.9,773.9 65.9,773.9 67,773.9 68,774 69,774 70.1,774 71.1,774 72.2,774 73.2,774 74.3,774 75.3,774.1 76.3,774.1 77.4,774.1 78.4,774.1 79.5,774.1 80.5,774.1 81.6,774.1 82.6,774.1 83.6,774.2 84.7,774.2 85.7,774.2 86.8,774.2 87.8,774.2 88.9,774.2 89.9,774.2 90.9,774.3 92,774.3 93,774.3 94.1,774.3 95.1,774.3 96.2,774.3 97.2,774.3 98.2,774.4 99.3,774.4 100.3,774.4 101.4,774.4 102.4,774.4 103.5,774.4 104.5,774.4 105.5,774.5 106.6,774.5 107.6,774.5 108.7,774.5 109.7,774.5 110.7,774.5 111.8,774.5 112.8,774.5 113.9,774.6 114.9,774.6 116,774.6 117,774.6 118,774.6 119.1,774.6 120.1,774.6 121.2,774.7 122.2,774.7 123.3,774.7 124.3,774.7 125.3,774.7 126.4,774.7 127.4,774.7 128.5,774.8 129.5,774.8 130.6,774.8 131.6,774.8 132.6,774.8 133.7,774.8 134.7,774.8 135.8,774.9 136.8,774.9 137.9,774.9 138.9,774.9 139.9,774.9 141,774.9 142,774.9 143.1,774.9 144.1,775 145.2,775 146.2,775 147.2,775 148.3,775 149.3,775 150.4,775 151.4,775.1 152.4,775.1 153.5,775.1 154.5,775.1 155.6,775.1 156.6,775.1 157.7,775.1 158.7,775.2 159.7,775.2 160.8,775.2 161.8,775.2 162.9,775.2 163.9,775.2 165,775.2 166,775.2 167,775.3 168.1,775.3 169.1,775.3 170.2,775.3 171.2,775.3 172.3,775.3 173.3,775.3 174.3,775.4 175.4,775.4 176.4,775.4 177.5,775.4 178.5,775.4 179.6,775.4 180.6,775.4 181.6,775.5 182.7,775.5 183.7,775.5 184.8,775.5 185.8,775.5 186.9,775.5 187.9,775.5 188.9,775.6 190,775.6 191,775.6 192.1,775.6 193.1,775.6 194.1,775.6 195.2,775.6 196.2,775.6 197.3,775.7 198.3,775.7 199.4,775.7 200.4,775.7 201.4,775.7 202.5,775.7 203.5,775.7 204.6,775.8 205.6,775.8 206.7,775.8 207.7,775.8 208.7,775.8 209.8,775.8 210.8,775.8 211.9,775.9 212.9,775.9 214,775.9 215,775.9 216,775.9 217.1,775.9 218.1,775.9 219.2,776 220.2,776 221.3,776 222.3,776 223.3,776 224.4,776 225.4,776 226.5,776 227.5,776.1 228.6,776.1 229.6,776.1 230.6,776.1 231.7,776.1 232.7,776.1 233.8,776.1 234.8,776.2 235.8,776.2 236.9,776.2 237.9,776.2 239,776.2 240,776.2 241.1,776.3 242.1,776.3 243.1,776.3 244.2,776.3 245.2,776.3 246.3,776.3 247.3,776.4 248.4,776.4 249.4,776.4 250.4,776.4 251.5,776.4 252.5,776.5 253.6,776.5 254.6,776.5 255.7,776.5 256.7,776.5 257.7,776.6 258.8,776.6 259.8,776.6 260.9,776.6 261.9,776.6 263,776.7 264,776.7 265,776.7 266.1,776.7 267.1,776.7 268.2,776.8 269.2,776.8 270.2,776.8 271.3,776.8 272.3,776.8 273.4,776.9 274.4,776.9 275.5,776.9 276.5,776.9 277.5,776.9 278.6,776.9 279.6,776.9 280.7,776.9 281.7,776.9 282.8,776.9 283.8,776.9 284.8,776.8 285.9,776.8 286.9,776.8 288,776.7 289,776.6 290.1,776.6 291.1,776.5 292.1,776.4 293.2,776.3 294.2,776.2 295.3,776 296.3,775.8 297.4,775.7 298.4,775.5 299.4,775.2 300.5,775 301.5,774.7 302.6,774.4 303.6,774.1 304.7,773.7 305.7,773.3 306.7,772.9 307.8,772.5 308.8,772 309.9,771.5 310.9,771 311.9,770.4 313,769.8 314,769.2 315.1,768.6 316.1,768 317.2,767.3 318.2,766.6 319.2,765.9 320.3,765.2 321.3,764.5 322.4,763.8 323.4,763.1 324.5,762.4 325.5,761.8 326.5,761.1 327.6,760.5 328.6,759.8 329.7,759.3 330.7,758.7 331.8,758.2 332.8,757.8 333.8,757.3 334.9,757 335.9,756.7 337,756.4 338,756.3 339.1,756.1 340.1,756.1 341.1,756.1 342.2,756.2 343.2,756.3 344.3,756.5 345.3,756.8 346.4,757.1 347.4,757.5 348.4,757.9 349.5,758.4 350.5,759 351.6,759.6 352.6,760.2 353.6,760.9 354.7,761.6 355.7,762.3 356.8,763 357.8,763.8 358.9,764.6 359.9,765.3 360.9,766.1 362,766.9 363,767.7 364.1,768.5 365.1,769.2 366.2,770 367.2,770.7 368.2,771.4 369.3,772.1 370.3,772.8 371.4,773.4 372.4,774 373.5,774.6 374.5,775.2 375.5,775.7 376.6,776.2 377.6,776.7 378.7,777.1 379.7,777.5 380.8,777.9 381.8,778.3 382.8,778.6 383.9,778.9 384.9,779.2 386,779.5 387,779.7 388.1,779.9 389.1,780.2 390.1,780.3 391.2,780.5 392.2,780.7 393.3,780.9 394.3,781 395.4,781.1 396.4,781.3 397.4,781.4 398.5,781.5 399.5,781.6 400.6,781.7 401.6,781.8 402.6,781.9 403.7,781.9 404.7,782 405.8,782.1 406.8,782.2 407.9,782.3 408.9,782.3 409.9,782.4 411,782.5 412,782.5 413.1,782.6 414.1,782.7 415.2,782.7 416.2,782.8 417.2,782.9 418.3,782.9 419.3,783 420.4,783 421.4,783.1 422.5,783.2 423.5,783.2 424.5,783.3 425.6,783.4 426.6,783.4 427.7,783.5 428.7,783.6 429.8,783.6 430.8,783.7 431.8,783.7 432.9,783.8 433.9,783.9 435,783.9 436,784 437.1,784.1 438.1,784.1 439.1,784.2 440.2,784.3 441.2,784.3 442.3,784.4 443.3,784.5 444.3,784.5 445.4,784.6 446.4,784.7 447.5,784.8 448.5,784.8 449.6,784.9 450.6,785 451.6,785 452.7,785.1 453.7,785.2 454.8,785.2 455.8,785.3 456.9,785.4 457.9,785.5" fill="none" stroke="#f2e63c" stroke-width="4.3" stroke-linejoin="round" stroke-dasharray="8 4.6"/>
<path d="M40.9,773.6 41.9,773.6 43,773.6 44,773.6 45.1,773.7 46.1,773.7 47.2,773.7 48.2,773.7 49.2,773.7 50.3,773.7 51.3,773.7 52.4,773.8 53.4,773.8 54.5,773.8 55.5,773.8 56.5,773.8 57.6,773.8 58.6,773.8 59.7,773.8 60.7,773.9 61.8,773.9 62.8,773.9 63.8,773.9 64.9,773.9 65.9,773.9 67,773.9 68,774 69,774 70.1,774 71.1,774 72.2,774 73.2,774 74.3,774 75.3,774.1 76.3,774.1 77.4,774.1 78.4,774.1 79.5,774.1 80.5,774.1 81.6,774.1 82.6,774.1 83.6,774.2 84.7,774.2 85.7,774.2 86.8,774.2 87.8,774.2 88.9,774.2 89.9,774.2 90.9,774.3 92,774.3 93,774.3 94.1,774.3 95.1,774.3 96.2,774.3 97.2,774.3 98.2,774.4 99.3,774.4 100.3,774.4 101.4,774.4 102.4,774.4 103.5,774.4 104.5,774.4 105.5,774.5 106.6,774.5 107.6,774.5 108.7,774.5 109.7,774.5 110.7,774.5 111.8,774.5 112.8,774.5 113.9,774.6 114.9,774.6 116,774.6 117,774.6 118,774.6 119.1,774.6 120.1,774.6 121.2,774.7 122.2,774.7 123.3,774.7 124.3,774.7 125.3,774.7 126.4,774.7 127.4,774.7 128.5,774.8 129.5,774.8 130.6,774.8 131.6,774.8 132.6,774.8 133.7,774.8 134.7,774.8 135.8,774.9 136.8,774.9 137.9,774.9 138.9,774.9 139.9,774.9 141,774.9 142,774.9 143.1,774.9 144.1,775 145.2,775 146.2,775 147.2,775 148.3,775 149.3,775 150.4,775 151.4,775.1 152.4,775.1 153.5,775.1 154.5,775.1 155.6,775.1 156.6,775.1 157.7,775.1 158.7,775.2 159.7,775.2 160.8,775.2 161.8,775.2 162.9,775.2 163.9,775.2 165,775.2 166,775.2 167,775.3 168.1,775.3 169.1,775.3 170.2,775.3 171.2,775.3 172.3,775.3 173.3,775.3 174.3,775.4 175.4,775.4 176.4,775.4 177.5,775.4 178.5,775.4 179.6,775.4 180.6,775.4 181.6,775.5 182.7,775.5 183.7,775.5 184.8,775.5 185.8,775.5 186.9,775.5 187.9,775.5 188.9,775.6 190,775.6 191,775.6 192.1,775.6 193.1,775.6 194.1,775.6 195.2,775.6 196.2,775.6 197.3,775.7 198.3,775.7 199.4,775.7 200.4,775.7 201.4,775.7 202.5,775.7 203.5,775.7 204.6,775.8 205.6,775.8 206.7,775.8 207.7,775.8 208.7,775.8 209.8,775.8 210.8,775.8 211.9,775.9 212.9,775.9 214,775.9 215,775.9 216,775.9 217.1,775.9 218.1,775.9 219.2,776 220.2,776 221.3,776 222.3,776 223.3,776 224.4,776 225.4,776 226.5,776 227.5,776.1 228.6,776.1 229.6,776.1 230.6,776.1 231.7,776.1 232.7,776.1 233.8,776.1 234.8,776.2 235.8,776.2 236.9,776.2 237.9,776.2 239,776.2 240,776.2 241.1,776.3 242.1,776.3 243.1,776.3 244.2,776.3 245.2,776.3 246.3,776.3 247.3,776.4 248.4,776.4 249.4,776.4 250.4,776.4 251.5,776.4 252.5,776.5 253.6,776.5 254.6,776.5 255.7,776.5 256.7,776.5 257.7,776.6 258.8,776.6 259.8,776.6 260.9,776.6 261.9,776.6 263,776.7 264,776.7 265,776.7 266.1,776.7 267.1,776.8 268.2,776.8 269.2,776.8 270.2,776.8 271.3,776.9 272.3,776.9 273.4,776.9 274.4,776.9 275.5,777 276.5,777 277.5,777 278.6,777 279.6,777.1 280.7,777.1 281.7,777.1 282.8,777.1 283.8,777.2 284.8,777.2 285.9,777.2 286.9,777.3 288,777.3 289,777.3 290.1,777.3 291.1,777.4 292.1,777.4 293.2,777.4 294.2,777.5 295.3,777.5 296.3,777.5 297.4,777.6 298.4,777.6 299.4,777.6 300.5,777.6 301.5,777.7 302.6,777.7 303.6,777.7 304.7,777.8 305.7,777.8 306.7,777.8 307.8,777.9 308.8,777.9 309.9,777.9 310.9,778 311.9,778 313,778 314,778.1 315.1,778.1 316.1,778.2 317.2,778.2 318.2,778.2 319.2,778.3 320.3,778.3 321.3,778.3 322.4,778.4 323.4,778.4 324.5,778.4 325.5,778.5 326.5,778.5 327.6,778.6 328.6,778.6 329.7,778.6 330.7,778.7 331.8,778.7 332.8,778.7 333.8,778.7 334.9,778.7 335.9,778.7 337,778.7 338,778.7 339.1,778.7 340.1,778.6 341.1,778.5 342.2,778.4 343.2,778.3 344.3,778.1 345.3,777.8 346.4,777.5 347.4,777.1 348.4,776.6 349.5,776 350.5,775.3 351.6,774.4 352.6,773.4 353.6,772.2 354.7,770.8 355.7,769.2 356.8,767.3 357.8,765.2 358.9,762.7 359.9,760 360.9,757 362,753.7 363,750 364.1,746 365.1,741.7 366.2,737.1 367.2,732.2 368.2,727.1 369.3,721.8 370.3,716.3 371.4,710.7 372.4,705 373.5,699.4 374.5,693.8 375.5,688.4 376.6,683.3 377.6,678.4 378.7,673.9 379.7,669.9 380.8,666.5 381.8,663.6 382.8,661.3 383.9,659.7 384.9,658.8 386,658.7 387,659.2 388.1,660.5 389.1,662.5 390.1,665.1 391.2,668.3 392.2,672.1 393.3,676.4 394.3,681.2 395.4,686.3 396.4,691.6 397.4,697.2 398.5,702.9 399.5,708.7 400.6,714.5 401.6,720.1 402.6,725.7 403.7,731 404.7,736.2 405.8,741 406.8,745.6 407.9,749.9 408.9,753.9 409.9,757.5 411,760.8 412,763.8 413.1,766.5 414.1,769 415.2,771.1 416.2,773 417.2,774.6 418.3,776 419.3,777.3 420.4,778.4 421.4,779.3 422.5,780 423.5,780.7 424.5,781.3 425.6,781.7 426.6,782.1 427.7,782.5 428.7,782.7 429.8,783 430.8,783.2 431.8,783.4 432.9,783.5 433.9,783.7 435,783.8 436,783.9 437.1,784 438.1,784.1 439.1,784.2 440.2,784.2 441.2,784.3 442.3,784.4 443.3,784.5 444.3,784.5 445.4,784.6 446.4,784.7 447.5,784.7 448.5,784.8 449.6,784.9 450.6,785 451.6,785 452.7,785.1 453.7,785.2 454.8,785.2 455.8,785.3 456.9,785.4 457.9,785.5" fill="none" stroke="#3fae4a" stroke-width="4.3" stroke-linejoin="round" stroke-dasharray="8 4.6"/>
<path d="M40.9,773.6 41.9,773.6 43,773.6 44,773.6 45.1,773.7 46.1,773.7 47.2,773.7 48.2,773.7 49.2,773.7 50.3,773.7 51.3,773.7 52.4,773.8 53.4,773.8 54.5,773.8 55.5,773.8 56.5,773.8 57.6,773.8 58.6,773.8 59.7,773.8 60.7,773.9 61.8,773.9 62.8,773.9 63.8,773.9 64.9,773.9 65.9,773.9 67,773.9 68,774 69,774 70.1,774 71.1,774 72.2,774 73.2,774 74.3,774 75.3,774.1 76.3,774.1 77.4,774.1 78.4,774.1 79.5,774.1 80.5,774.1 81.6,774.1 82.6,774.1 83.6,774.2 84.7,774.2 85.7,774.2 86.8,774.2 87.8,774.2 88.9,774.2 89.9,774.2 90.9,774.3 92,774.3 93,774.3 94.1,774.3 95.1,774.3 96.2,774.3 97.2,774.3 98.2,774.4 99.3,774.4 100.3,774.4 101.4,774.4 102.4,774.4 103.5,774.4 104.5,774.4 105.5,774.5 106.6,774.5 107.6,774.5 108.7,774.5 109.7,774.5 110.7,774.5 111.8,774.5 112.8,774.5 113.9,774.6 114.9,774.6 116,774.6 117,774.6 118,774.6 119.1,774.6 120.1,774.6 121.2,774.7 122.2,774.7 123.3,774.7 124.3,774.7 125.3,774.7 126.4,774.7 127.4,774.7 128.5,774.8 129.5,774.8 130.6,774.8 131.6,774.8 132.6,774.8 133.7,774.8 134.7,774.8 135.8,774.8 136.8,774.9 137.9,774.9 138.9,774.9 139.9,774.9 141,774.9 142,774.9 143.1,774.9 144.1,774.9 145.2,775 146.2,775 147.2,775 148.3,775 149.3,775 150.4,775 151.4,775 152.4,775 153.5,775 154.5,775 155.6,775 156.6,775 157.7,775 158.7,775 159.7,775 160.8,774.9 161.8,774.9 162.9,774.9 163.9,774.9 165,774.8 166,774.8 167,774.7 168.1,774.7 169.1,774.6 170.2,774.5 171.2,774.5 172.3,774.4 173.3,774.3 174.3,774.1 175.4,774 176.4,773.8 177.5,773.7 178.5,773.5 179.6,773.3 180.6,773.1 181.6,772.8 182.7,772.5 183.7,772.2 184.8,771.9 185.8,771.6 186.9,771.2 187.9,770.8 188.9,770.3 190,769.8 191,769.3 192.1,768.7 193.1,768.1 194.1,767.5 195.2,766.8 196.2,766.1 197.3,765.3 198.3,764.5 199.4,763.7 200.4,762.8 201.4,761.8 202.5,760.8 203.5,759.8 204.6,758.7 205.6,757.6 206.7,756.4 207.7,755.2 208.7,753.9 209.8,752.6 210.8,751.3 211.9,750 212.9,748.6 214,747.2 215,745.7 216,744.3 217.1,742.8 218.1,741.3 219.2,739.9 220.2,738.4 221.3,736.9 222.3,735.5 223.3,734 224.4,732.6 225.4,731.2 226.5,729.9 227.5,728.6 228.6,727.3 229.6,726.1 230.6,724.9 231.7,723.8 232.7,722.8 233.8,721.9 234.8,721 235.8,720.2 236.9,719.5 237.9,718.9 239,718.4 240,718 241.1,717.7 242.1,717.4 243.1,717.3 244.2,717.3 245.2,717.4 246.3,717.6 247.3,717.9 248.4,718.3 249.4,718.8 250.4,719.4 251.5,720 252.5,720.8 253.6,721.7 254.6,722.6 255.7,723.6 256.7,724.7 257.7,725.8 258.8,727.1 259.8,728.3 260.9,729.6 261.9,731 263,732.4 264,733.9 265,735.3 266.1,736.8 267.1,738.3 268.2,739.8 269.2,741.3 270.2,742.8 271.3,744.3 272.3,745.8 273.4,747.3 274.4,748.8 275.5,750.2 276.5,751.6 277.5,753 278.6,754.4 279.6,755.7 280.7,757 281.7,758.2 282.8,759.4 283.8,760.5 284.8,761.7 285.9,762.7 286.9,763.7 288,764.7 289,765.6 290.1,766.5 291.1,767.4 292.1,768.2 293.2,768.9 294.2,769.6 295.3,770.3 296.3,770.9 297.4,771.5 298.4,772 299.4,772.6 300.5,773 301.5,773.5 302.6,773.9 303.6,774.3 304.7,774.7 305.7,775 306.7,775.3 307.8,775.6 308.8,775.9 309.9,776.1 310.9,776.3 311.9,776.5 313,776.7 314,776.9 315.1,777.1 316.1,777.2 317.2,777.4 318.2,777.5 319.2,777.6 320.3,777.7 321.3,777.8 322.4,777.9 323.4,778 324.5,778.1 325.5,778.2 326.5,778.3 327.6,778.3 328.6,778.4 329.7,778.5 330.7,778.5 331.8,778.6 332.8,778.7 333.8,778.7 334.9,778.8 335.9,778.8 337,778.9 338,778.9 339.1,779 340.1,779 341.1,779.1 342.2,779.1 343.2,779.2 344.3,779.2 345.3,779.2 346.4,779.3 347.4,779.3 348.4,779.4 349.5,779.4 350.5,779.5 351.6,779.5 352.6,779.6 353.6,779.6 354.7,779.7 355.7,779.7 356.8,779.7 357.8,779.8 358.9,779.8 359.9,779.9 360.9,779.9 362,780 363,780 364.1,780.1 365.1,780.1 366.2,780.2 367.2,780.2 368.2,780.3 369.3,780.3 370.3,780.4 371.4,780.4 372.4,780.5 373.5,780.5 374.5,780.6 375.5,780.6 376.6,780.7 377.6,780.7 378.7,780.8 379.7,780.8 380.8,780.9 381.8,780.9 382.8,781 383.9,781 384.9,781.1 386,781.1 387,781.2 388.1,781.3 389.1,781.3 390.1,781.4 391.2,781.4 392.2,781.5 393.3,781.5 394.3,781.6 395.4,781.6 396.4,781.7 397.4,781.7 398.5,781.8 399.5,781.9 400.6,781.9 401.6,782 402.6,782 403.7,782.1 404.7,782.1 405.8,782.2 406.8,782.3 407.9,782.3 408.9,782.4 409.9,782.4 411,782.5 412,782.6 413.1,782.6 414.1,782.7 415.2,782.7 416.2,782.8 417.2,782.9 418.3,782.9 419.3,783 420.4,783 421.4,783.1 422.5,783.2 423.5,783.2 424.5,783.3 425.6,783.4 426.6,783.4 427.7,783.5 428.7,783.6 429.8,783.6 430.8,783.7 431.8,783.7 432.9,783.8 433.9,783.9 435,783.9 436,784 437.1,784.1 438.1,784.1 439.1,784.2 440.2,784.3 441.2,784.3 442.3,784.4 443.3,784.5 444.3,784.5 445.4,784.6 446.4,784.7 447.5,784.8 448.5,784.8 449.6,784.9 450.6,785 451.6,785 452.7,785.1 453.7,785.2 454.8,785.2 455.8,785.3 456.9,785.4 457.9,785.5" fill="none" stroke="#2f4fa8" stroke-width="4.3" stroke-linejoin="round" stroke-dasharray="8 4.6"/>
<path d="M40.9,773.6 41.9,773.6 43,773.6 44,773.6 45.1,773.7 46.1,773.7 47.2,773.7 48.2,773.7 49.2,773.7 50.3,773.7 51.3,773.7 52.4,773.8 53.4,773.8 54.5,773.8 55.5,773.8 56.5,773.8 57.6,773.8 58.6,773.8 59.7,773.8 60.7,773.9 61.8,773.9 62.8,773.9 63.8,773.9 64.9,773.9 65.9,773.9 67,773.9 68,774 69,774 70.1,774 71.1,774 72.2,774 73.2,774 74.3,774 75.3,774.1 76.3,774.1 77.4,774.1 78.4,774.1 79.5,774.1 80.5,774.1 81.6,774.1 82.6,774.1 83.6,774.2 84.7,774.2 85.7,774.2 86.8,774.2 87.8,774.2 88.9,774.2 89.9,774.2 90.9,774.3 92,774.3 93,774.3 94.1,774.3 95.1,774.3 96.2,774.3 97.2,774.3 98.2,774.4 99.3,774.4 100.3,774.4 101.4,774.4 102.4,774.4 103.5,774.4 104.5,774.4 105.5,774.5 106.6,774.5 107.6,774.5 108.7,774.5 109.7,774.5 110.7,774.5 111.8,774.5 112.8,774.5 113.9,774.6 114.9,774.6 116,774.6 117,774.6 118,774.6 119.1,774.6 120.1,774.6 121.2,774.7 122.2,774.7 123.3,774.7 124.3,774.7 125.3,774.7 126.4,774.7 127.4,774.7 128.5,774.8 129.5,774.8 130.6,774.8 131.6,774.8 132.6,774.8 133.7,774.8 134.7,774.8 135.8,774.9 136.8,774.9 137.9,774.9 138.9,774.9 139.9,774.9 141,774.9 142,774.9 143.1,774.9 144.1,775 145.2,775 146.2,775 147.2,775 148.3,775 149.3,775 150.4,775 151.4,775.1 152.4,775.1 153.5,775.1 154.5,775.1 155.6,775.1 156.6,775.1 157.7,775.1 158.7,775.2 159.7,775.2 160.8,775.2 161.8,775.2 162.9,775.2 163.9,775.2 165,775.2 166,775.2 167,775.3 168.1,775.3 169.1,775.3 170.2,775.3 171.2,775.3 172.3,775.3 173.3,775.3 174.3,775.4 175.4,775.4 176.4,775.4 177.5,775.4 178.5,775.4 179.6,775.4 180.6,775.4 181.6,775.5 182.7,775.5 183.7,775.5 184.8,775.5 185.8,775.5 186.9,775.5 187.9,775.5 188.9,775.5 190,775.5 191,775.5 192.1,775.6 193.1,775.6 194.1,775.6 195.2,775.6 196.2,775.6 197.3,775.6 198.3,775.6 199.4,775.5 200.4,775.5 201.4,775.5 202.5,775.5 203.5,775.5 204.6,775.4 205.6,775.4 206.7,775.3 207.7,775.3 208.7,775.2 209.8,775.1 210.8,775 211.9,774.9 212.9,774.8 214,774.6 215,774.5 216,774.3 217.1,774.1 218.1,773.8 219.2,773.6 220.2,773.3 221.3,772.9 222.3,772.6 223.3,772.1 224.4,771.7 225.4,771.2 226.5,770.6 227.5,770 228.6,769.3 229.6,768.6 230.6,767.8 231.7,766.9 232.7,766 233.8,765 234.8,763.9 235.8,762.8 236.9,761.5 237.9,760.2 239,758.8 240,757.3 241.1,755.7 242.1,754.1 243.1,752.4 244.2,750.6 245.2,748.7 246.3,746.7 247.3,744.7 248.4,742.6 249.4,740.4 250.4,738.2 251.5,735.9 252.5,733.6 253.6,731.3 254.6,728.9 255.7,726.5 256.7,724.2 257.7,721.8 258.8,719.4 259.8,717.1 260.9,714.8 261.9,712.6 263,710.4 264,708.3 265,706.3 266.1,704.4 267.1,702.6 268.2,701 269.2,699.4 270.2,698.1 271.3,696.8 272.3,695.8 273.4,694.9 274.4,694.1 275.5,693.6 276.5,693.2 277.5,693 278.6,693.1 279.6,693.2 280.7,693.6 281.7,694.2 282.8,694.9 283.8,695.9 284.8,696.9 285.9,698.2 286.9,699.6 288,701.1 289,702.8 290.1,704.7 291.1,706.6 292.1,708.6 293.2,710.7 294.2,712.9 295.3,715.2 296.3,717.5 297.4,719.9 298.4,722.3 299.4,724.7 300.5,727.2 301.5,729.6 302.6,732 303.6,734.4 304.7,736.8 305.7,739.1 306.7,741.4 307.8,743.6 308.8,745.8 309.9,747.9 310.9,749.9 311.9,751.9 313,753.8 314,755.6 315.1,757.3 316.1,758.9 317.2,760.5 318.2,761.9 319.2,763.3 320.3,764.6 321.3,765.9 322.4,767 323.4,768.1 324.5,769.1 325.5,770 326.5,770.9 327.6,771.7 328.6,772.4 329.7,773.1 330.7,773.7 331.8,774.3 332.8,774.8 333.8,775.3 334.9,775.7 335.9,776.1 337,776.5 338,776.8 339.1,777.1 340.1,777.4 341.1,777.6 342.2,777.9 343.2,778.1 344.3,778.3 345.3,778.4 346.4,778.6 347.4,778.7 348.4,778.9 349.5,779 350.5,779.1 351.6,779.2 352.6,779.3 353.6,779.4 354.7,779.5 355.7,779.5 356.8,779.6 357.8,779.7 358.9,779.7 359.9,779.8 360.9,779.9 362,779.9 363,780 364.1,780 365.1,780.1 366.2,780.1 367.2,780.2 368.2,780.3 369.3,780.3 370.3,780.4 371.4,780.4 372.4,780.5 373.5,780.5 374.5,780.6 375.5,780.6 376.6,780.7 377.6,780.7 378.7,780.8 379.7,780.8 380.8,780.9 381.8,780.9 382.8,781 383.9,781 384.9,781.1 386,781.1 387,781.2 388.1,781.3 389.1,781.3 390.1,781.4 391.2,781.4 392.2,781.5 393.3,781.5 394.3,781.6 395.4,781.6 396.4,781.7 397.4,781.7 398.5,781.8 399.5,781.9 400.6,781.9 401.6,782 402.6,782 403.7,782.1 404.7,782.1 405.8,782.2 406.8,782.3 407.9,782.3 408.9,782.4 409.9,782.4 411,782.5 412,782.6 413.1,782.6 414.1,782.7 415.2,782.7 416.2,782.8 417.2,782.9 418.3,782.9 419.3,783 420.4,783 421.4,783.1 422.5,783.2 423.5,783.2 424.5,783.3 425.6,783.4 426.6,783.4 427.7,783.5 428.7,783.6 429.8,783.6 430.8,783.7 431.8,783.7 432.9,783.8 433.9,783.9 435,783.9 436,784 437.1,784.1 438.1,784.1 439.1,784.2 440.2,784.3 441.2,784.3 442.3,784.4 443.3,784.5 444.3,784.5 445.4,784.6 446.4,784.7 447.5,784.8 448.5,784.8 449.6,784.9 450.6,785 451.6,785 452.7,785.1 453.7,785.2 454.8,785.2 455.8,785.3 456.9,785.4 457.9,785.5" fill="none" stroke="#e8323c" stroke-width="4.3" stroke-linejoin="round" stroke-dasharray="8 4.6"/>
<path d="M40.9,773.6 41.9,773.6 43,773.6 44,773.6 45.1,773.7 46.1,773.7 47.2,773.7 48.2,773.7 49.2,773.7 50.3,773.7 51.3,773.7 52.4,773.8 53.4,773.8 54.5,773.8 55.5,773.8 56.5,773.8 57.6,773.8 58.6,773.8 59.7,773.8 60.7,773.9 61.8,773.9 62.8,773.9 63.8,773.9 64.9,773.9 65.9,773.9 67,773.9 68,774 69,774 70.1,774 71.1,774 72.2,774 73.2,774 74.3,774 75.3,774.1 76.3,774.1 77.4,774.1 78.4,774.1 79.5,774.1 80.5,774.1 81.6,774.1 82.6,774.1 83.6,774.2 84.7,774.2 85.7,774.2 86.8,774.2 87.8,774.2 88.9,774.2 89.9,774.2 90.9,774.3 92,774.3 93,774.3 94.1,774.3 95.1,774.3 96.2,774.3 97.2,774.3 98.2,774.3 99.3,774.3 100.3,774.4 101.4,774.4 102.4,774.4 103.5,774.4 104.5,774.4 105.5,774.4 106.6,774.4 107.6,774.4 108.7,774.4 109.7,774.4 110.7,774.4 111.8,774.4 112.8,774.4 113.9,774.4 114.9,774.4 116,774.4 117,774.3 118,774.3 119.1,774.3 120.1,774.3 121.2,774.2 122.2,774.2 123.3,774.2 124.3,774.1 125.3,774 126.4,774 127.4,773.9 128.5,773.8 129.5,773.7 130.6,773.7 131.6,773.5 132.6,773.4 133.7,773.3 134.7,773.2 135.8,773 136.8,772.9 137.9,772.7 138.9,772.5 139.9,772.3 141,772.1 142,771.9 143.1,771.6 144.1,771.4 145.2,771.1 146.2,770.9 147.2,770.6 148.3,770.3 149.3,769.9 150.4,769.6 151.4,769.2 152.4,768.9 153.5,768.5 154.5,768.1 155.6,767.7 156.6,767.3 157.7,766.9 158.7,766.5 159.7,766.1 160.8,765.7 161.8,765.2 162.9,764.8 163.9,764.4 165,764 166,763.5 167,763.1 168.1,762.7 169.1,762.3 170.2,761.9 171.2,761.5 172.3,761.2 173.3,760.8 174.3,760.5 175.4,760.2 176.4,759.9 177.5,759.6 178.5,759.4 179.6,759.2 180.6,759 181.6,758.8 182.7,758.7 183.7,758.6 184.8,758.6 185.8,758.5 186.9,758.5 187.9,758.6 188.9,758.6 190,758.7 191,758.8 192.1,759 193.1,759.1 194.1,759.3 195.2,759.6 196.2,759.8 197.3,760.1 198.3,760.4 199.4,760.7 200.4,761 201.4,761.4 202.5,761.7 203.5,762.1 204.6,762.5 205.6,762.9 206.7,763.4 207.7,763.8 208.7,764.2 209.8,764.7 210.8,765.1 211.9,765.5 212.9,766 214,766.4 215,766.9 216,767.3 217.1,767.7 218.1,768.2 219.2,768.6 220.2,769 221.3,769.4 222.3,769.8 223.3,770.1 224.4,770.5 225.4,770.9 226.5,771.2 227.5,771.5 228.6,771.8 229.6,772.1 230.6,772.4 231.7,772.7 232.7,773 233.8,773.2 234.8,773.5 235.8,773.7 236.9,773.9 237.9,774.1 239,774.3 240,774.5 241.1,774.6 242.1,774.8 243.1,774.9 244.2,775.1 245.2,775.2 246.3,775.3 247.3,775.4 248.4,775.6 249.4,775.7 250.4,775.7 251.5,775.8 252.5,775.9 253.6,776 254.6,776.1 255.7,776.1 256.7,776.2 257.7,776.3 258.8,776.3 259.8,776.4 260.9,776.4 261.9,776.5 263,776.5 264,776.5 265,776.6 266.1,776.6 267.1,776.7 268.2,776.7 269.2,776.7 270.2,776.8 271.3,776.8 272.3,776.8 273.4,776.9 274.4,776.9 275.5,776.9 276.5,777 277.5,777 278.6,777 279.6,777 280.7,777.1 281.7,777.1 282.8,777.1 283.8,777.2 284.8,777.2 285.9,777.2 286.9,777.3 288,777.3 289,777.3 290.1,777.3 291.1,777.4 292.1,777.4 293.2,777.4 294.2,777.5 295.3,777.5 296.3,777.5 297.4,777.6 298.4,777.6 299.4,777.6 300.5,777.6 301.5,777.7 302.6,777.7 303.6,777.7 304.7,777.8 305.7,777.8 306.7,777.8 307.8,777.9 308.8,777.9 309.9,777.9 310.9,778 311.9,778 313,778 314,778.1 315.1,778.1 316.1,778.2 317.2,778.2 318.2,778.2 319.2,778.3 320.3,778.3 321.3,778.3 322.4,778.4 323.4,778.4 324.5,778.5 325.5,778.5 326.5,778.5 327.6,778.6 328.6,778.6 329.7,778.6 330.7,778.7 331.8,778.7 332.8,778.8 333.8,778.8 334.9,778.8 335.9,778.9 337,778.9 338,779 339.1,779 340.1,779 341.1,779.1 342.2,779.1 343.2,779.2 344.3,779.2 345.3,779.3 346.4,779.3 347.4,779.3 348.4,779.4 349.5,779.4 350.5,779.5 351.6,779.5 352.6,779.6 353.6,779.6 354.7,779.7 355.7,779.7 356.8,779.8 357.8,779.8 358.9,779.8 359.9,779.9 360.9,779.9 362,780 363,780 364.1,780.1 365.1,780.1 366.2,780.2 367.2,780.2 368.2,780.3 369.3,780.3 370.3,780.4 371.4,780.4 372.4,780.5 373.5,780.5 374.5,780.6 375.5,780.6 376.6,780.7 377.6,780.7 378.7,780.8 379.7,780.8 380.8,780.9 381.8,780.9 382.8,781 383.9,781 384.9,781.1 386,781.1 387,781.2 388.1,781.3 389.1,781.3 390.1,781.4 391.2,781.4 392.2,781.5 393.3,781.5 394.3,781.6 395.4,781.6 396.4,781.7 397.4,781.7 398.5,781.8 399.5,781.9 400.6,781.9 401.6,782 402.6,782 403.7,782.1 404.7,782.1 405.8,782.2 406.8,782.3 407.9,782.3 408.9,782.4 409.9,782.4 411,782.5 412,782.6 413.1,782.6 414.1,782.7 415.2,782.7 416.2,782.8 417.2,782.9 418.3,782.9 419.3,783 420.4,783 421.4,783.1 422.5,783.2 423.5,783.2 424.5,783.3 425.6,783.4 426.6,783.4 427.7,783.5 428.7,783.6 429.8,783.6 430.8,783.7 431.8,783.7 432.9,783.8 433.9,783.9 435,783.9 436,784 437.1,784.1 438.1,784.1 439.1,784.2 440.2,784.3 441.2,784.3 442.3,784.4 443.3,784.5 444.3,784.5 445.4,784.6 446.4,784.7 447.5,784.8 448.5,784.8 449.6,784.9 450.6,785 451.6,785 452.7,785.1 453.7,785.2 454.8,785.2 455.8,785.3 456.9,785.4 457.9,785.5" fill="none" stroke="#2fb5b0" stroke-width="4.3" stroke-linejoin="round" stroke-dasharray="8 4.6"/>
<path d="M40.9,772.5 41.9,772.4 43,772.4 44,772.3 45.1,772.2 46.1,772.2 47.2,772.1 48.2,772 49.2,772 50.3,771.9 51.3,771.8 52.4,771.7 53.4,771.6 54.5,771.6 55.5,771.5 56.5,771.4 57.6,771.3 58.6,771.2 59.7,771.1 60.7,771 61.8,770.9 62.8,770.8 63.8,770.7 64.9,770.5 65.9,770.4 67,770.3 68,770.2 69,770.1 70.1,770 71.1,769.9 72.2,769.7 73.2,769.6 74.3,769.5 75.3,769.4 76.3,769.3 77.4,769.1 78.4,769 79.5,768.9 80.5,768.8 81.6,768.7 82.6,768.6 83.6,768.4 84.7,768.3 85.7,768.2 86.8,768.1 87.8,768 88.9,767.9 89.9,767.8 90.9,767.7 92,767.7 93,767.6 94.1,767.5 95.1,767.4 96.2,767.4 97.2,767.3 98.2,767.2 99.3,767.2 100.3,767.1 101.4,767.1 102.4,767.1 103.5,767 104.5,767 105.5,767 106.6,767 107.6,767 108.7,767 109.7,767 110.7,767 111.8,767 112.8,767.1 113.9,767.1 114.9,767.2 116,767.2 117,767.3 118,767.3 119.1,767.4 120.1,767.5 121.2,767.5 122.2,767.6 123.3,767.7 124.3,767.8 125.3,767.9 126.4,768 127.4,768.1 128.5,768.2 129.5,768.4 130.6,768.5 131.6,768.6 132.6,768.7 133.7,768.9 134.7,769 135.8,769.1 136.8,769.3 137.9,769.4 138.9,769.5 139.9,769.7 141,769.8 142,770 143.1,770.1 144.1,770.3 145.2,770.4 146.2,770.6 147.2,770.7 148.3,770.9 149.3,771 150.4,771.2 151.4,771.3 152.4,771.4 153.5,771.6 154.5,771.7 155.6,771.9 156.6,772 157.7,772.1 158.7,772.3 159.7,772.4 160.8,772.5 161.8,772.7 162.9,772.8 163.9,772.9 165,773 166,773.1 167,773.2 168.1,773.3 169.1,773.5 170.2,773.6 171.2,773.7 172.3,773.8 173.3,773.8 174.3,773.9 175.4,774 176.4,774.1 177.5,774.2 178.5,774.3 179.6,774.4 180.6,774.4 181.6,774.5 182.7,774.6 183.7,774.6 184.8,774.7 185.8,774.8 186.9,774.8 187.9,774.9 188.9,774.9 190,775 191,775 192.1,775.1 193.1,775.1 194.1,775.2 195.2,775.2 196.2,775.3 197.3,775.3 198.3,775.3 199.4,775.4 200.4,775.4 201.4,775.5 202.5,775.5 203.5,775.5 204.6,775.6 205.6,775.6 206.7,775.6 207.7,775.6 208.7,775.7 209.8,775.7 210.8,775.7 211.9,775.7 212.9,775.8 214,775.8 215,775.8 216,775.8 217.1,775.8 218.1,775.9 219.2,775.9 220.2,775.9 221.3,775.9 222.3,775.9 223.3,776 224.4,776 225.4,776 226.5,776 227.5,776 228.6,776 229.6,776.1 230.6,776.1 231.7,776.1 232.7,776.1 233.8,776.1 234.8,776.1 235.8,776.2 236.9,776.2 237.9,776.2 239,776.2 240,776.2 241.1,776.3 242.1,776.3 243.1,776.3 244.2,776.3 245.2,776.3 246.3,776.3 247.3,776.4 248.4,776.4 249.4,776.4 250.4,776.4 251.5,776.4 252.5,776.5 253.6,776.5 254.6,776.5 255.7,776.5 256.7,776.5 257.7,776.6 258.8,776.6 259.8,776.6 260.9,776.6 261.9,776.6 263,776.7 264,776.7 265,776.7 266.1,776.7 267.1,776.8 268.2,776.8 269.2,776.8 270.2,776.8 271.3,776.9 272.3,776.9 273.4,776.9 274.4,776.9 275.5,777 276.5,777 277.5,777 278.6,777 279.6,777.1 280.7,777.1 281.7,777.1 282.8,777.1 283.8,777.2 284.8,777.2 285.9,777.2 286.9,777.3 288,777.3 289,777.3 290.1,777.3 291.1,777.4 292.1,777.4 293.2,777.4 294.2,777.5 295.3,777.5 296.3,777.5 297.4,777.6 298.4,777.6 299.4,777.6 300.5,777.6 301.5,777.7 302.6,777.7 303.6,777.7 304.7,777.8 305.7,777.8 306.7,777.8 307.8,777.9 308.8,777.9 309.9,777.9 310.9,778 311.9,778 313,778 314,778.1 315.1,778.1 316.1,778.2 317.2,778.2 318.2,778.2 319.2,778.3 320.3,778.3 321.3,778.3 322.4,778.4 323.4,778.4 324.5,778.5 325.5,778.5 326.5,778.5 327.6,778.6 328.6,778.6 329.7,778.6 330.7,778.7 331.8,778.7 332.8,778.8 333.8,778.8 334.9,778.8 335.9,778.9 337,778.9 338,779 339.1,779 340.1,779 341.1,779.1 342.2,779.1 343.2,779.2 344.3,779.2 345.3,779.3 346.4,779.3 347.4,779.3 348.4,779.4 349.5,779.4 350.5,779.5 351.6,779.5 352.6,779.6 353.6,779.6 354.7,779.7 355.7,779.7 356.8,779.8 357.8,779.8 358.9,779.8 359.9,779.9 360.9,779.9 362,780 363,780 364.1,780.1 365.1,780.1 366.2,780.2 367.2,780.2 368.2,780.3 369.3,780.3 370.3,780.4 371.4,780.4 372.4,780.5 373.5,780.5 374.5,780.6 375.5,780.6 376.6,780.7 377.6,780.7 378.7,780.8 379.7,780.8 380.8,780.9 381.8,780.9 382.8,781 383.9,781 384.9,781.1 386,781.1 387,781.2 388.1,781.3 389.1,781.3 390.1,781.4 391.2,781.4 392.2,781.5 393.3,781.5 394.3,781.6 395.4,781.6 396.4,781.7 397.4,781.7 398.5,781.8 399.5,781.9 400.6,781.9 401.6,782 402.6,782 403.7,782.1 404.7,782.1 405.8,782.2 406.8,782.3 407.9,782.3 408.9,782.4 409.9,782.4 411,782.5 412,782.6 413.1,782.6 414.1,782.7 415.2,782.7 416.2,782.8 417.2,782.9 418.3,782.9 419.3,783 420.4,783 421.4,783.1 422.5,783.2 423.5,783.2 424.5,783.3 425.6,783.4 426.6,783.4 427.7,783.5 428.7,783.6 429.8,783.6 430.8,783.7 431.8,783.7 432.9,783.8 433.9,783.9 435,783.9 436,784 437.1,784.1 438.1,784.1 439.1,784.2 440.2,784.3 441.2,784.3 442.3,784.4 443.3,784.5 444.3,784.5 445.4,784.6 446.4,784.7 447.5,784.8 448.5,784.8 449.6,784.9 450.6,785 451.6,785 452.7,785.1 453.7,785.2 454.8,785.2 455.8,785.3 456.9,785.4 457.9,785.5" fill="none" stroke="#7d1a1f" stroke-width="4.3" stroke-linejoin="round" stroke-dasharray="8 4.6"/>
<path d="M40.9,772.5 41.9,772.4 43,772.4 44,772.3 45.1,772.2 46.1,772.2 47.2,772.1 48.2,772 49.2,772 50.3,771.9 51.3,771.8 52.4,771.7 53.4,771.6 54.5,771.6 55.5,771.5 56.5,771.4 57.6,771.3 58.6,771.2 59.7,771.1 60.7,771 61.8,770.9 62.8,770.8 63.8,770.7 64.9,770.5 65.9,770.4 67,770.3 68,770.2 69,770.1 70.1,770 71.1,769.8 72.2,769.7 73.2,769.6 74.3,769.5 75.3,769.4 76.3,769.3 77.4,769.1 78.4,769 79.5,768.9 80.5,768.8 81.6,768.7 82.6,768.5 83.6,768.4 84.7,768.3 85.7,768.2 86.8,768.1 87.8,768 88.9,767.9 89.9,767.8 90.9,767.7 92,767.6 93,767.6 94.1,767.5 95.1,767.4 96.2,767.3 97.2,767.3 98.2,767.2 99.3,767.2 100.3,767.1 101.4,767.1 102.4,767 103.5,767 104.5,767 105.5,766.9 106.6,766.9 107.6,766.9 108.7,766.9 109.7,766.9 110.7,766.9 111.8,766.9 112.8,766.9 113.9,766.9 114.9,767 116,767 117,767 118,767 119.1,767.1 120.1,767.1 121.2,767.1 122.2,767.1 123.3,767.2 124.3,767.2 125.3,767.2 126.4,767.3 127.4,767.3 128.5,767.3 129.5,767.3 130.6,767.3 131.6,767.3 132.6,767.3 133.7,767.3 134.7,767.3 135.8,767.3 136.8,767.3 137.9,767.2 138.9,767.2 139.9,767.1 141,767 142,766.9 143.1,766.8 144.1,766.7 145.2,766.6 146.2,766.4 147.2,766.2 148.3,766.1 149.3,765.9 150.4,765.7 151.4,765.4 152.4,765.2 153.5,764.9 154.5,764.7 155.6,764.4 156.6,764.1 157.7,763.8 158.7,763.5 159.7,763.1 160.8,762.8 161.8,762.4 162.9,762.1 163.9,761.7 165,761.3 166,760.9 167,760.6 168.1,760.2 169.1,759.8 170.2,759.4 171.2,759 172.3,758.6 173.3,758.2 174.3,757.8 175.4,757.5 176.4,757.1 177.5,756.7 178.5,756.3 179.6,756 180.6,755.6 181.6,755.2 182.7,754.9 183.7,754.5 184.8,754.2 185.8,753.8 186.9,753.5 187.9,753.1 188.9,752.7 190,752.3 191,752 192.1,751.6 193.1,751.1 194.1,750.7 195.2,750.3 196.2,749.8 197.3,749.3 198.3,748.8 199.4,748.2 200.4,747.6 201.4,747 202.5,746.3 203.5,745.7 204.6,744.9 205.6,744.2 206.7,743.3 207.7,742.5 208.7,741.6 209.8,740.6 210.8,739.6 211.9,738.6 212.9,737.5 214,736.4 215,735.2 216,734 217.1,732.7 218.1,731.4 219.2,730 220.2,728.6 221.3,727.2 222.3,725.7 223.3,724.2 224.4,722.7 225.4,721.1 226.5,719.5 227.5,717.9 228.6,716.3 229.6,714.6 230.6,712.9 231.7,711.2 232.7,709.5 233.8,707.8 234.8,706 235.8,704.3 236.9,702.5 237.9,700.8 239,699 240,697.3 241.1,695.5 242.1,693.8 243.1,692 244.2,690.3 245.2,688.6 246.3,686.9 247.3,685.3 248.4,683.6 249.4,682 250.4,680.5 251.5,678.9 252.5,677.4 253.6,676 254.6,674.6 255.7,673.2 256.7,672 257.7,670.7 258.8,669.6 259.8,668.6 260.9,667.6 261.9,666.7 263,666 264,665.3 265,664.8 266.1,664.3 267.1,664.1 268.2,663.9 269.2,663.9 270.2,664 271.3,664.2 272.3,664.6 273.4,665.2 274.4,665.9 275.5,666.7 276.5,667.8 277.5,668.9 278.6,670.2 279.6,671.7 280.7,673.3 281.7,675 282.8,676.9 283.8,678.9 284.8,681 285.9,683.2 286.9,685.6 288,688 289,690.5 290.1,693.1 291.1,695.7 292.1,698.3 293.2,701.1 294.2,703.8 295.3,706.5 296.3,709.2 297.4,712 298.4,714.6 299.4,717.3 300.5,719.9 301.5,722.4 302.6,724.9 303.6,727.3 304.7,729.6 305.7,731.8 306.7,733.9 307.8,735.9 308.8,737.8 309.9,739.6 310.9,741.3 311.9,742.8 313,744.3 314,745.6 315.1,746.7 316.1,747.8 317.2,748.8 318.2,749.6 319.2,750.4 320.3,751 321.3,751.6 322.4,752 323.4,752.4 324.5,752.7 325.5,753 326.5,753.2 327.6,753.3 328.6,753.4 329.7,753.5 330.7,753.6 331.8,753.6 332.8,753.6 333.8,753.6 334.9,753.7 335.9,753.7 337,753.8 338,753.8 339.1,753.9 340.1,754 341.1,754.1 342.2,754.2 343.2,754.3 344.3,754.4 345.3,754.5 346.4,754.6 347.4,754.6 348.4,754.6 349.5,754.6 350.5,754.4 351.6,754.1 352.6,753.7 353.6,753.2 354.7,752.5 355.7,751.6 356.8,750.4 357.8,749 358.9,747.4 359.9,745.4 360.9,743.1 362,740.5 363,737.6 364.1,734.4 365.1,730.8 366.2,726.9 367.2,722.7 368.2,718.3 369.3,713.6 370.3,708.7 371.4,703.7 372.4,698.6 373.5,693.5 374.5,688.4 375.5,683.5 376.6,678.8 377.6,674.3 378.7,670.3 379.7,666.6 380.8,663.5 381.8,660.9 382.8,658.9 383.9,657.6 384.9,656.9 386,657 387,657.7 388.1,659.2 389.1,661.3 390.1,664.1 391.2,667.4 392.2,671.4 393.3,675.8 394.3,680.6 395.4,685.8 396.4,691.2 397.4,696.9 398.5,702.6 399.5,708.4 400.6,714.2 401.6,719.9 402.6,725.5 403.7,730.9 404.7,736.1 405.8,740.9 406.8,745.5 407.9,749.8 408.9,753.8 409.9,757.5 411,760.8 412,763.8 413.1,766.5 414.1,768.9 415.2,771.1 416.2,773 417.2,774.6 418.3,776 419.3,777.3 420.4,778.3 421.4,779.3 422.5,780 423.5,780.7 424.5,781.3 425.6,781.7 426.6,782.1 427.7,782.5 428.7,782.7 429.8,783 430.8,783.2 431.8,783.4 432.9,783.5 433.9,783.7 435,783.8 436,783.9 437.1,784 438.1,784.1 439.1,784.2 440.2,784.2 441.2,784.3 442.3,784.4 443.3,784.5 444.3,784.5 445.4,784.6 446.4,784.7 447.5,784.7 448.5,784.8 449.6,784.9 450.6,785 451.6,785 452.7,785.1 453.7,785.2 454.8,785.2 455.8,785.3 456.9,785.4 457.9,785.5" fill="none" stroke="#3c3c3c" stroke-width="1.9" stroke-linejoin="round" />
<path d="M40.9,771.9 43,771.5 45.1,772 47.2,771.3 49.2,771 51.3,771.6 53.4,772.6 55.5,772.1 57.6,771.9 59.7,770.5 61.8,771 63.8,770.2 65.9,769.7 68,769.3 70.1,769.3 72.2,770.7 74.3,770.2 76.3,769.9 78.4,769.7 80.5,768.1 82.6,768.1 84.7,768.6 86.8,768.6 88.9,768.7 90.9,768.6 93,766.7 95.1,767.6 97.2,767.7 99.3,767.2 101.4,766.4 103.5,766.9 105.5,766 107.6,767.9 109.7,767.7 111.8,767 113.9,766.5 116,767.9 118,767.2 120.1,767.9 122.2,767.9 124.3,767.2 126.4,767.1 128.5,767.5 130.6,767.2 132.6,766.6 134.7,766.9 136.8,768 138.9,766.2 141,766 143.1,767.1 145.2,766.1 147.2,766.3 149.3,765.8 151.4,765.1 153.5,766.1 155.6,763.8 157.7,763.6 159.7,762.5 161.8,762.8 163.9,761.3 166,760.8 168.1,760.9 170.2,759.2 172.3,759 174.3,759.1 176.4,756.6 178.5,755.9 180.6,755.6 182.7,756.1 184.8,755.2 186.9,753.7 188.9,753.3 191,752.3 193.1,752.3 195.2,750.6 197.3,751.1 199.4,750.6 201.4,749.6 203.5,747.9 205.6,746.9 207.7,743.2 209.8,741.9 211.9,741.4 214,738.7 216,735.4 218.1,733.9 220.2,730.3 222.3,727.7 224.4,723.4 226.5,719.8 228.6,716.9 230.6,712.7 232.7,709.7 234.8,707.4 236.9,702.3 239,698 241.1,694.5 243.1,691.3 245.2,689.3 247.3,685 249.4,681.7 251.5,678.2 253.6,677.4 255.7,673.6 257.7,670.8 259.8,668.4 261.9,666.7 264,665.7 266.1,666 268.2,664.6 270.2,664.5 272.3,666.3 274.4,667 276.5,670.6 278.6,671.2 280.7,675.1 282.8,679.2 284.8,682.5 286.9,688.2 289,691.9 291.1,696.5 293.2,702.1 295.3,706.7 297.4,712.9 299.4,717.7 301.5,724.1 303.6,728.8 305.7,732.5 307.8,735.5 309.9,739.6 311.9,742.7 314,745.2 316.1,747.5 318.2,750.7 320.3,750.4 322.4,751.2 324.5,753.8 326.5,753.4 328.6,754.6 330.7,753.4 332.8,754.6 334.9,754 337,754.4 339.1,754.4 341.1,754.1 343.2,753.4 345.3,753.9 347.4,755.5 349.5,755.4 351.6,755.1 353.6,752.8 355.7,751.9 357.8,749.7 359.9,745.7 362,741.2 364.1,734.4 366.2,727.3 368.2,718.7 370.3,708.2 372.4,699.5 374.5,689.4 376.6,677.8 378.7,671.3 380.8,664.5 382.8,659.3 384.9,655.9 387,658.5 389.1,659.9 391.2,667 393.3,673.6 395.8,680.9 398.3,691 400.8,702.5 403.3,713 405.8,723.9 408.3,734.1 410.9,741.6 412.9,749.2 415,758.3 417.1,762.2 419.2,769 421.3,771.2 423.4,775.9 425.5,778.2 427.5,780.2 429.6,780.9 431.7,782.6 433.5,781.9 435.3,783.4 437.1,783.1 438.9,784.6 440.6,784.6 442.4,784.2 444.2,784.5 446,783.5 447.8,783.7 449.6,785.1 451.6,785 453.7,786 455.8,785.5 457.9,784.7" fill="none" stroke="#222" stroke-width="1.0" stroke-linejoin="round" stroke-dasharray="1 1.6"/>
<rect x="40.9" y="485.5" width="417" height="310" fill="none" stroke="#000" stroke-width="3" />
<line x1="40.9" y1="640.6" x2="457.9" y2="640.6" stroke="#000" stroke-width="2.6" />
<line x1="457.9" y1="795.5" x2="457.9" y2="801" stroke="#000" stroke-width="2.6" />
<text x="457.9" y="815.6" font-size="15.5" font-weight="bold" text-anchor="middle" >280</text>
<line x1="416.2" y1="795.5" x2="416.2" y2="798.5" stroke="#000" stroke-width="2.2" />
<line x1="374.5" y1="795.5" x2="374.5" y2="801" stroke="#000" stroke-width="2.6" />
<text x="374.5" y="815.6" font-size="15.5" font-weight="bold" text-anchor="middle" >282</text>
<line x1="332.8" y1="795.5" x2="332.8" y2="798.5" stroke="#000" stroke-width="2.2" />
<line x1="291.1" y1="795.5" x2="291.1" y2="801" stroke="#000" stroke-width="2.6" />
<text x="291.1" y="815.6" font-size="15.5" font-weight="bold" text-anchor="middle" >284</text>
<line x1="249.4" y1="795.5" x2="249.4" y2="798.5" stroke="#000" stroke-width="2.2" />
<line x1="207.7" y1="795.5" x2="207.7" y2="801" stroke="#000" stroke-width="2.6" />
<text x="207.7" y="815.6" font-size="15.5" font-weight="bold" text-anchor="middle" >286</text>
<line x1="166" y1="795.5" x2="166" y2="798.5" stroke="#000" stroke-width="2.2" />
<line x1="124.3" y1="795.5" x2="124.3" y2="801" stroke="#000" stroke-width="2.6" />
<text x="124.3" y="815.6" font-size="15.5" font-weight="bold" text-anchor="middle" >288</text>
<line x1="82.6" y1="795.5" x2="82.6" y2="798.5" stroke="#000" stroke-width="2.2" />
<line x1="40.9" y1="795.5" x2="40.9" y2="801" stroke="#000" stroke-width="2.6" />
<text x="40.9" y="815.6" font-size="15.5" font-weight="bold" text-anchor="middle" >290</text>
<text x="263.8" y="850.3" font-size="24" font-weight="bold" text-anchor="middle" textLength="225.4" lengthAdjust="spacingAndGlyphs" >Binding energy (eV)</text>
<text x="23.3" y="634.8" font-size="24" font-weight="bold" text-anchor="middle" transform="rotate(-90 23.3 634.8)" textLength="165.5" lengthAdjust="spacingAndGlyphs" >Intensity (a.u.)</text>
<text x="54.7" y="517.4" font-size="19" font-weight="bold" textLength="85.4" lengthAdjust="spacingAndGlyphs" >HST 0.5G</text>
<text x="55.7" y="672" font-size="19" font-weight="bold" textLength="103.6" lengthAdjust="spacingAndGlyphs" >MXene-NH₂</text>
<text x="86.8" y="754.6" font-size="18.5" font-weight="bold" fill="#7d1a1f" textLength="40" lengthAdjust="spacingAndGlyphs" >C=O</text>
<text x="148.2" y="740.6" font-size="18.5" font-weight="bold" fill="#2fb5b0" textLength="33.5" lengthAdjust="spacingAndGlyphs" >C-O</text>
<text x="197.5" y="712.2" font-size="18.5" font-weight="bold" fill="#2f4fa8" textLength="28.8" lengthAdjust="spacingAndGlyphs" >sp³</text>
<text x="254" y="689.3" font-size="18.5" font-weight="bold" fill="#e8323c" textLength="28" lengthAdjust="spacingAndGlyphs" >sp²</text>
<text x="298.6" y="694.4" font-size="18.5" font-weight="bold" fill="#f2e63c" textLength="73.5" lengthAdjust="spacingAndGlyphs" >C-Ti-(T)<tspan font-size="11" dy="3">x</tspan></text>
<text x="407.3" y="675" font-size="18.5" font-weight="bold" fill="#3fae4a" textLength="36" lengthAdjust="spacingAndGlyphs" >C-Ti</text>
</g>
<g id="pg">
<line x1="602.2" y1="711.6" x2="640.5" y2="711.6" stroke="#57483f" stroke-width="5.6" />
<line x1="647" y1="716.2" x2="682" y2="704.8" stroke="#57483f" stroke-width="5.6" />
<line x1="663.2" y1="717.3" x2="700.7" y2="717.3" stroke="#57483f" stroke-width="5.6" />
<line x1="695.8" y1="705.1" x2="730" y2="718.1" stroke="#57483f" stroke-width="5.6" />
<line x1="728" y1="710.3" x2="765" y2="710.3" stroke="#57483f" stroke-width="5.6" />
<line x1="742.2" y1="716.5" x2="778.8" y2="721.4" stroke="#57483f" stroke-width="5.6" />
<line x1="633.1" y1="725.8" x2="670.6" y2="725.8" stroke="#57483f" stroke-width="5.6" />
<line x1="627.4" y1="733.3" x2="664.9" y2="733.3" stroke="#57483f" stroke-width="5.6" />
<line x1="603" y1="733.6" x2="639.6" y2="745" stroke="#57483f" stroke-width="5.6" />
<line x1="666.5" y1="740.1" x2="703.1" y2="747.4" stroke="#57483f" stroke-width="5.6" />
<line x1="690.9" y1="736.8" x2="728" y2="744.2" stroke="#57483f" stroke-width="5.6" />
<line x1="733.2" y1="740.9" x2="770.7" y2="740.9" stroke="#57483f" stroke-width="5.6" />
<line x1="678.7" y1="724.6" x2="746.3" y2="724.6" stroke="#f59a1e" stroke-width="2.2" />
<line x1="681.1" y1="729" x2="748.7" y2="729" stroke="#f59a1e" stroke-width="2.2" />
<line x1="709.6" y1="733.6" x2="775.5" y2="733.6" stroke="#f59a1e" stroke-width="2.2" />
<ellipse cx="649.4" cy="725.4" rx="30" ry="23" fill="none" stroke="#2a2a8c" stroke-width="1.1" stroke-dasharray="1.6 2.2"/>
<ellipse cx="728.3" cy="728.9" rx="16.5" ry="7.3" fill="none" stroke="#1f7a4a" stroke-width="1.1" stroke-dasharray="1.6 2.2"/>
<path d="M653.5,702.7 Q700,661 770,662.8" fill="none" stroke="#2a2a8c" stroke-width="1.3"/>
<path d="M774.5,662.8 l-6.5,-3 v6z" fill="#2a2a8c"/>
<path d="M733.2,719.8 Q760,668 833,666.9" fill="none" stroke="#1f7a4a" stroke-width="1.3"/>
<path d="M838,666.9 l-6.5,-3 v6z" fill="#1f7a4a"/>
<line x1="776.9" y1="611" x2="776.9" y2="791.6" stroke="#23237a" stroke-width="2.2" stroke-dasharray="4.2 4.6"/>
<line x1="842.7" y1="668" x2="842.7" y2="791.6" stroke="#1f8f55" stroke-width="2.2" stroke-dasharray="4.2 4.6"/>
<path d="M558.8,582.3 559.5,585.9 560.2,590 560.9,593.7 561.6,598.5 562.3,603.3 563,609.7 563.7,616.1 564.4,623 565.1,629.4 565.8,636 566.5,641.9 567.2,648 567.9,653.4 568.6,659.7 569.3,665 570,669 570.7,671.4 571.4,674.3 572.1,670.5 572.8,667.5 573.5,663.9 574.2,655.9 574.9,647.4 575.6,639.4 576.3,630.9 577,622.9 577.7,615.2 578.4,608.7 579.1,602.6 579.8,597.3 580.5,591.9 581.2,587.6 581.9,583.4 582.6,580.3 583.3,576.4 584,573.2 584.7,569.8 585.4,567.2 586.1,564.7 586.8,562.8 587.5,560.4 588.2,559.2 588.9,557.6 589.6,556.8 590.3,555.9 591,555.3 591.7,554.3 592.4,553.6 593.1,509.7 593.8,509 594.5,507.7 595.2,508 595.9,508.9 596.6,510.1 597.3,510.4 598,511.6 598.7,512.2 599.4,513.2 600.1,513.7 600.8,516 601.5,516 602.2,518 602.9,517.4 603.6,519.1 604.3,519.9 605,521.3 605.7,522.1 606.4,523.6 607.1,523.8 607.8,525.5 608.5,525.1 609.2,527.2 609.9,527.3 610.6,528.9 611.3,530.2 612,531.6 612.7,531.5 613.4,533.8 614.1,534 614.8,536 615.5,536.2 616.2,537.6 616.9,538.2 617.6,539.8 618.3,539.9 619,541.9 619.7,541.8 620.4,544.7 621.1,544.7 621.8,546.7 622.5,546.1 623.2,547.9 623.9,548.5 624.6,550.2 625.3,550.6 626,551.9 626.7,552.8 627.4,554.8 628.1,555.3 628.8,557.1 629.5,556.9 630.2,558.6 630.9,558.8 631.6,561 632.3,561.1 633,562.8 633.7,563.4 634.4,565.8 635.1,564.9 635.8,567.5 636.5,567.1 637.2,569.5 637.9,569.5 638.6,571.2 639.3,571.4 640,573.7 640.7,573.1 641.4,575.8 642.1,576 642.8,578.9 643.5,577.8 644.2,579.6 644.9,578.9 645.6,580.9 646.3,580.8 647,582.6 647.7,582.4 648.4,584.7 649.1,582.5 649.8,585.4 650.5,584.6 651.2,587.1 651.9,586.1 652.6,589.1 653.3,588 654,590.1 654.7,589 655.4,592.6 656.1,592.1 656.8,593.2 657.5,592.8 658.2,595.2 658.9,594.2 659.6,595.3 660.3,595.2 661,597.3 661.7,597.2 662.4,599.2 663.1,598.7 663.8,599.9 664.5,599.1 665.2,601.7 665.9,600 666.6,604.2 667.3,603 668,603.6 668.7,603.6 669.4,605.2 670.1,603.9 670.8,606.8 671.5,604.6 672.2,607.1 672.9,607.4 673.6,609 674.3,608.5 675,609.4 675.7,608.7 676.4,611 677.1,610.4 677.8,611.8 678.5,609.9 679.2,615.2 679.9,611.7 680.6,613.9 681.3,612.6 682,614.5 682.7,614.6 683.4,616.6 684.1,614.7 684.8,616.2 685.5,614.8 686.2,617.6 686.9,616.4 687.6,618.3 688.3,617.4 689,618.1 689.7,616.8 690.4,620.9 691.1,618 691.8,619.9 692.5,619.4 693.2,621.2 693.9,619.9 694.6,620.9 695.3,620.1 696,621.6 696.7,619.9 697.4,623.7 698.1,620.6 698.8,622.4 699.5,620.5 700.2,623.7 700.9,620.9 701.6,624.5 702.3,621.1 703,624.7 703.7,621.5 704.4,624.7 705.1,623.2 705.8,625.6 706.5,623.7 707.2,625.4 707.9,622.7 708.6,625.7 709.3,623.2 710,625.1 710.7,624.1 711.4,626.8 712.1,624.9 712.8,627.2 713.5,625 714.2,626.6 714.9,625.2 715.6,626.5 716.3,624.8 717,626.5 717.7,624.3 718.4,627 719.1,624.6 719.8,627.1 720.5,623.1 721.2,626.4 721.9,624.3 722.6,626.3 723.3,624 724,626.6 724.7,624 725.4,626.1 726.1,623.9 726.8,625.8 727.5,624 728.2,624.5 728.9,622.3 729.6,625.1 730.3,622.3 731,623.2 731.7,621.8 732.4,625 733.1,621.7 733.8,622.9 734.5,621.6 735.2,622.9 735.9,619.5 736.6,622.1 737.3,619.7 738,620.9 738.7,619.1 739.4,620.1 740.1,616.2 740.8,619.9 741.5,617.8 742.2,618.9 742.9,615.6 743.6,617.9 744.3,614.5 745,617.3 745.7,615 746.4,615.2 747.1,612.6 747.8,614.6 748.5,611.7 749.2,614.1 749.9,610.5 750.6,612.3 751.3,610 752,611.4 752.7,610 753.4,610.3 754.1,607.9 754.8,609.6 755.5,607.3 756.2,608 756.9,605.8 757.6,608 758.3,605 759,606.5 759.7,604.9 760.4,605.4 761.1,604.9 761.8,605.4 762.5,603.4 763.2,605.6 763.9,603.6 764.6,604.6 765.3,603.1 766,605.4 766.7,601.5 767.4,604.1 768.1,603.5 768.8,604.4 769.5,603 770.2,604.1 770.9,603.2 771.6,604.1 772.3,602.1 773,605.7 773.7,603 774.4,605.2 775.1,603.2 775.8,605.8 776.5,604.8 777.2,606.5 777.9,603.9 778.6,608.2 779.3,606.5 780,608 780.7,607.3 781.4,608.5 782.1,607.7 782.8,610.1 783.5,607.6 784.2,611.2 784.9,610.3 785.6,612.1 786.3,610.6 787,614.4 787.7,611.5 788.4,614.2 789.1,613 789.8,614.2 790.5,614.4 791.2,615.7 791.9,615.5 792.6,617.8 793.3,617.1 794,618.2 794.7,618.5 795.4,619.8 796.1,618.5 796.8,620.3 797.5,620.9 798.2,621.5 798.9,621.2 799.6,624.2 800.3,622.6 801,624.1 801.7,622.5 802.4,625.4 803.1,623.6 803.8,628.1 804.5,625.2 805.2,627.3 805.9,626.8 806.6,629.3 807.3,626.6 808,630.2 808.7,629.3 809.4,629.6 810.1,628.6 810.8,632.3 811.5,630.8 812.2,633 812.9,631.5 813.6,634.8 814.3,633.4 815,636.9 815.7,633.8 816.4,637.9 817.1,633.5 817.8,637 818.5,637.1 819.2,638.8 819.9,637.6 820.6,639.8 821.3,637.2 822,638.9 822.7,638.5 823.4,639.6 824.1,639 824.8,642.9 825.5,638 826.2,642.9 826.9,641.1 827.6,644.4 828.3,640.8 829,645 829.7,642.5 830.4,646.4 831.1,642.8 831.8,645 832.5,643 833.2,648.1 833.9,644.8 834.6,648.1 835.3,645.4 836,648.2 836.7,646.5 837.4,650.3 838.1,648.2 838.8,651.8 839.5,650.3 840.2,651.9 840.9,649.9 841.6,652.6 842.3,652.2 843,654.6 843.7,653.3 844.4,658 845.1,658.5 845.8,661.1 846.5,661.2 847.2,664.7 847.9,662.8 848.6,668.6 849.3,665.9 850,671.6 850.7,667.6 851.4,672.8 852.1,670.9 852.8,675.3 853.5,673.1 854.2,678.6 854.9,677.4 855.6,679.9 856.3,679.7 857,681.9 857.7,680.6 858.4,686.6 859.1,683.9 859.8,687 860.5,687.7 861.2,691.1 861.9,688.5 862.6,695 863.3,692.8 864,695.2 864.7,695.2 865.4,696.5 866.1,695.6 866.8,701.1 867.5,697.4 868.2,702.5 868.9,702 869.6,705 870.3,703.3 871,709.8 871.7,702.4 872.4,711 873.1,704.6 873.8,712.5 874.5,712.4 875.2,716.2 875.9,713.3 876.6,719.4 877.3,718.1 878,722.2 878.7,714.4 879.4,723.1 880.1,719.2 880.8,723.8 881.5,720.3 882.2,727.7 882.9,724.2 883.6,727.6 884.3,726.8 885,733.4 885.7,729 886.4,728.8 887.1,727 887.8,736.3 888.5,730.8 889.2,736.9 889.9,732.7 890.6,737.7 891.3,732.5 892,744.2 892.7,736.2 893.4,741.5 894.1,739 894.8,739.9 895.5,735.3 896.2,740.7 896.9,738 897.6,741.8 898.3,740.1 899,746.6 899.7,741.7 900.4,748.2 901.1,744.3 901.8,746.8 902.5,739.6 903.2,747.9 903.9,744.7 904.6,751 905.3,743.1 906,752.2 906.7,744.3 907.4,753.3 908.1,744.2 908.8,753.9 909.5,748.6 910.2,752.4 910.9,749.7 911.6,757 912.3,747.5 913,758.3 913.7,754.8 914.4,760.1 915.1,749.7 915.8,759.7 916.5,752 917.2,760.8 917.9,752.3 918.6,763.3 919.3,755.2 920,766.3 920.7,756.7 921.4,764 922.1,761.8 922.8,763.3 923.5,757.5 924.2,763.2 924.9,759.3 925.6,769.4 926.3,763.4 927,769.7 927.7,760.7 928.4,766.9 929.1,762.6 929.8,771.3 930.5,759.5 931.2,765.9 931.9,761.3 932.6,770.4" fill="none" stroke="#4a4a4a" stroke-width="3.5" stroke-linejoin="round" clip-path="url(#cg)"/>
<path d="M558.6,688.1 559.3,585.8 560,591.1 560.7,595.8 561.4,601.2 562.1,607.5 562.8,615.3 563.5,623.7 564.2,632.7 564.9,641 565.6,649.8 566.3,657.6 567,665.8 567.7,672.6 568.4,680.4 569.1,687.4 569.8,695.1 570.5,700 571.2,704.5 571.9,708.5 572.6,706.2 573.3,700.5 574,695.7 574.7,685.5 575.4,674 576.1,662 576.8,650.8 577.5,638.7 578.2,627.5 578.9,617.5 579.6,610.3 580.3,605 581,601 581.7,597 582.4,593.7 583.1,590.3 583.8,587.8 584.5,584.8 585.2,583.1 585.9,581.1 586.6,580.1 587.3,579 588,577.9 588.7,576.7 589.4,575.7 590.1,574.7 590.8,574.2 591.5,573.4 592.2,573.1 592.9,545.1 593.6,535.3 594.3,534.2 595,533.6 595.7,533.5 596.4,534.5 597.1,535.3 597.8,536.3 598.5,537 599.2,538.2 599.9,538.8 600.6,540 601.3,539.8 602,542 602.7,542.3 603.4,544.4 604.1,543.9 604.8,545.7 605.5,545.9 606.2,548.3 606.9,547.9 607.6,549.3 608.3,550.1 609,551.9 609.7,551.7 610.4,553.4 611.1,553.9 611.8,556.3 612.5,556.2 613.2,557.3 613.9,557.8 614.6,560.5 615.3,559.1 616,562.2 616.7,562 617.4,565.1 618.1,563.7 618.8,566.1 619.5,566.7 620.2,569.2 620.9,568 621.6,570.6 622.3,570 623,573 623.7,572.4 624.4,575.7 625.1,574.7 625.8,577.2 626.5,576.9 627.2,579.7 627.9,578 628.6,581.1 629.3,580.8 630,582.6 630.7,583.2 631.4,586 632.1,584.5 632.8,587.8 633.5,586.9 634.2,589.2 634.9,589.2 635.6,591.6 636.3,590.8 637,593.7 637.7,592.2 638.4,595.7 639.1,595.4 639.8,597.9 640.5,597.2 641.2,598.5 641.9,598.1 642.6,599.5 643.3,600.4 644,602.7 644.7,601.1 645.4,605.4 646.1,603.2 646.8,606.7 647.5,604.7 648.2,606.7 648.9,607.1 649.6,608 650.3,608.1 651,610.9 651.7,609.3 652.4,612.7 653.1,611 653.8,613 654.5,613 655.2,615.2 655.9,613.4 656.6,615.5 657.3,614 658,618.3 658.7,615.8 659.4,619.4 660.1,616.5 660.8,621.4 661.5,616.8 662.2,621.2 662.9,619.1 663.6,621.9 664.3,620.4 665,622.9 665.7,621.9 666.4,624.8 667.1,622.7 667.8,624.5 668.5,624.1 669.2,625.2 669.9,623.9 670.6,627.3 671.3,624.2 672,628.4 672.7,626.2 673.4,627.3 674.1,625.7 674.8,627.9 675.5,628.3 676.2,630.2 676.9,626.6 677.6,630.9 678.3,629.4 679,631.1 679.7,629.8 680.4,632.1 681.1,630.7 681.8,632.8 682.5,631.3 683.2,634 683.9,631.4 684.6,632.9 685.3,632.7 686,635.8 686.7,632.8 687.4,633.4 688.1,632.8 688.8,636.7 689.5,633.4 690.2,635.5 690.9,633.8 691.6,638.8 692.3,634.4 693,636.6 693.7,634 694.4,637.5 695.1,635.4 695.8,636.8 696.5,635 697.2,637.2 697.9,636.4 698.6,639.1 699.3,635.4 700,640.1 700.7,634.3 701.4,638.5 702.1,637.5 702.8,638.3 703.5,635.8 704.2,638.2 704.9,636.3 705.6,637.8 706.3,635.4 707,638.4 707.7,636.4 708.4,640.4 709.1,636.1 709.8,638.7 710.5,635.7 711.2,639.7 711.9,636.7 712.6,637.2 713.3,636.1 714,638.2 714.7,635.5 715.4,636.8 716.1,635.3 716.8,637.6 717.5,635.4 718.2,637.1 718.9,635 719.6,637 720.3,633.9 721,636.6 721.7,633.7 722.4,638 723.1,634.5 723.8,637.5 724.5,633.8 725.2,634.5 725.9,632.9 726.6,633.9 727.3,632.6 728,634.4 728.7,630.5 729.4,631.6 730.1,631.1 730.8,633 731.5,630.9 732.2,632.7 732.9,628.9 733.6,631.5 734.3,629.7 735,630 735.7,627.6 736.4,628.9 737.1,627 737.8,628.7 738.5,627 739.2,627.4 739.9,624.4 740.6,625.4 741.3,623 742,625.2 742.7,622.9 743.4,625.2 744.1,621.7 744.8,622.9 745.5,620 746.2,622.4 746.9,619.5 747.6,620.6 748.3,617.7 749,619.2 749.7,616.6 750.4,615.9 751.1,614.6 751.8,614.4 752.5,612.2 753.2,612.6 753.9,610.5 754.6,609.9 755.3,608.6 756,609.8 756.7,605.2 757.4,605.5 758.1,602.6 758.8,603.4 759.5,600.6 760.2,600.6 760.9,598.4 761.6,597.4 762.3,595.5 763,594.8 763.7,592 764.4,591.9 765.1,589.4 765.8,588.5 766.5,585.8 767.2,587 767.9,583.4 768.6,582.2 769.3,578.9 770,579.5 770.7,578.3 771.4,576.8 772.1,574.5 772.8,574.1 773.5,572.1 774.2,572 774.9,569.1 775.6,570.5 776.3,569.1 777,568.1 777.7,567 778.4,567.6 779.1,566.3 779.8,567.5 780.5,566.6 781.2,567.7 781.9,567.5 782.6,569.1 783.3,568.5 784,571.2 784.7,571.1 785.4,572.6 786.1,572.9 786.8,576.2 787.5,576.2 788.2,579.7 788.9,579.1 789.6,581.2 790.3,581.2 791,585.1 791.7,585.1 792.4,588.3 793.1,588.9 793.8,591.8 794.5,593.7 795.2,595.9 795.9,596.6 796.6,600.1 797.3,601.1 798,604.2 798.7,604.5 799.4,608.2 800.1,608.2 800.8,610.3 801.5,611.9 802.2,614.6 802.9,613 803.6,618.4 804.3,617.6 805,620.5 805.7,620.7 806.4,624.2 807.1,622.6 807.8,626.9 808.5,627.1 809.2,629.5 809.9,629.2 810.6,631.7 811.3,632.8 812,635.9 812.7,634.8 813.4,639 814.1,638.8 814.8,643.6 815.5,640.9 816.2,645.3 816.9,646.7 817.6,648.8 818.3,647.4 819,651.1 819.7,651 820.4,655.8 821.1,653 821.8,657.1 822.5,655.1 823.2,661.8 823.9,660.5 824.6,664.2 825.3,664.4 826,667.1 826.7,666.2 827.4,668.8 828.1,669.4 828.8,674.2 829.5,673.5 830.2,676.9 830.9,674.2 831.6,681.4 832.3,677.1 833,681.5 833.7,681.9 834.4,683.8 835.1,683.7 835.8,686.1 836.5,687.5 837.2,693.5 837.9,690.6 838.6,694.9 839.3,693.4 840,695.8 840.7,693.1 841.4,700.5 842.1,696.5 842.8,703.6 843.5,699.9 844.2,707.2 844.9,702.6 845.6,706.6 846.3,705.4 847,711.2 847.7,706.4 848.4,711.5 849.1,711 849.8,714.4 850.5,710.8 851.2,717 851.9,714.3 852.6,717.3 853.3,714.3 854,717.2 854.7,716.4 855.4,719.7 856.1,718.1 856.8,720.4 857.5,722.1 858.2,724.6 858.9,718.9 859.6,725.9 860.3,718.8 861,726.8 861.7,721.2 862.4,728.2 863.1,724.8 863.8,730.5 864.5,724.6 865.2,731.3 865.9,727.5 866.6,734.1 867.3,728.3 868,733.5 868.7,728.4 869.4,731.7 870.1,726.8 870.8,738.9 871.5,733.3 872.2,736 872.9,732.2 873.6,736.1 874.3,732.1 875,738.5 875.7,736.5 876.4,744 877.1,736.1 877.8,744.3 878.5,737.4 879.2,749.5 879.9,741 880.6,746 881.3,741.1 882,748.1 882.7,745.5 883.4,751 884.1,746.6 884.8,752.1 885.5,745.3 886.2,753.3 886.9,746.3 887.6,756.3 888.3,749.5 889,753.7 889.7,749.6 890.4,762 891.1,751.5 891.8,754.8 892.5,748.2 893.2,765.2 893.9,751.6 894.6,764.2 895.3,749.1 896,755.3 896.7,756.4 897.4,761.7 898.1,753.2 898.8,763.7 899.5,751.1 900.2,761.8 900.9,748.2 901.6,754.3 902.3,749.8 903,772.7 903.7,752.2 904.4,760 905.1,754.4 905.8,765.3 906.5,749.1 907.2,767.2 907.9,756.3 908.6,769.6 909.3,761.6 910,774.5 910.7,760.9 911.4,769.1 912.1,751.4 912.8,768.9 913.5,760.6 914.2,771.4 914.9,759.7 915.6,769.6 916.3,758.4 917,778 917.7,760.1 918.4,767.1 919.1,760.6 919.8,781.8 920.5,761.5 921.2,779.2 921.9,758 922.6,783.3 923.3,768.9 924,771.5 924.7,763.9 925.4,778.4 926.1,757.7 926.8,769.1 927.5,772.2 928.2,780.1 928.9,766.6 929.6,775.2 930.3,758.6 931,779.6 931.7,772.8 932.4,766.3 933.1,764.7" fill="none" stroke="#ea2f36" stroke-width="3.5" stroke-linejoin="round" clip-path="url(#cg)"/>
<rect x="558.2" y="485.9" width="375.1" height="305.7" fill="none" stroke="#000" stroke-width="3" />
<line x1="558.2" y1="791.6" x2="558.2" y2="797.6" stroke="#000" stroke-width="2.6" />
<text x="558.2" y="813.6" font-size="15" font-weight="bold" text-anchor="middle" >0</text>
<line x1="606.2" y1="791.6" x2="606.2" y2="797.6" stroke="#000" stroke-width="2.6" />
<text x="606.2" y="813.6" font-size="15" font-weight="bold" text-anchor="middle" >1</text>
<line x1="654.2" y1="791.6" x2="654.2" y2="797.6" stroke="#000" stroke-width="2.6" />
<text x="654.2" y="813.6" font-size="15" font-weight="bold" text-anchor="middle" >2</text>
<line x1="702.2" y1="791.6" x2="702.2" y2="797.6" stroke="#000" stroke-width="2.6" />
<text x="702.2" y="813.6" font-size="15" font-weight="bold" text-anchor="middle" >3</text>
<line x1="750.2" y1="791.6" x2="750.2" y2="797.6" stroke="#000" stroke-width="2.6" />
<text x="750.2" y="813.6" font-size="15" font-weight="bold" text-anchor="middle" >4</text>
<line x1="798.2" y1="791.6" x2="798.2" y2="797.6" stroke="#000" stroke-width="2.6" />
<text x="798.2" y="813.6" font-size="15" font-weight="bold" text-anchor="middle" >5</text>
<line x1="846.2" y1="791.6" x2="846.2" y2="797.6" stroke="#000" stroke-width="2.6" />
<text x="846.2" y="813.6" font-size="15" font-weight="bold" text-anchor="middle" >6</text>
<line x1="894.2" y1="791.6" x2="894.2" y2="797.6" stroke="#000" stroke-width="2.6" />
<text x="894.2" y="813.6" font-size="15" font-weight="bold" text-anchor="middle" >7</text>
<path d="M567.8,791.6v3M577.4,791.6v3M587,791.6v3M596.6,791.6v3M615.8,791.6v3M625.4,791.6v3M635,791.6v3M644.6,791.6v3M663.8,791.6v3M673.4,791.6v3M683,791.6v3M692.6,791.6v3M711.8,791.6v3M721.4,791.6v3M731,791.6v3M740.6,791.6v3M759.8,791.6v3M769.4,791.6v3M779,791.6v3M788.6,791.6v3M807.8,791.6v3M817.4,791.6v3M827,791.6v3M836.6,791.6v3M855.8,791.6v3M865.4,791.6v3M875,791.6v3M884.6,791.6v3M903.8,791.6v3M913.4,791.6v3M923,791.6v3M932.6,791.6v3M558.2,791.2h-2.6M558.2,780.7h-2.6M558.2,771.9h-2.6M558.2,764.2h-2.6M558.2,757.4h-2.6M558.2,711.4h-2.6M558.2,688h-2.6M558.2,671.4h-2.6M558.2,658.5h-2.6M558.2,648h-2.6M558.2,639.2h-2.6M558.2,631.5h-2.6M558.2,624.7h-2.6M558.2,578.7h-2.6M558.2,555.3h-2.6M558.2,538.7h-2.6M558.2,525.8h-2.6M558.2,515.3h-2.6M558.2,506.5h-2.6M558.2,498.8h-2.6M558.2,492h-2.6M558.2,791.2h-2.6M558.2,780.7h-2.6M558.2,771.9h-2.6M558.2,764.2h-2.6M558.2,757.4h-2.6" stroke="#000" stroke-width="1.8" fill="none"/>
<line x1="558.2" y1="751.3" x2="551.7" y2="751.3" stroke="#000" stroke-width="2.6" />
<text x="525.8" y="757.5" font-size="14.5" font-weight="bold" >10<tspan font-size="9" dy="-6">2</tspan></text>
<line x1="558.2" y1="618.6" x2="551.7" y2="618.6" stroke="#000" stroke-width="2.6" />
<text x="525.8" y="624.8" font-size="14.5" font-weight="bold" >10<tspan font-size="9" dy="-6">3</tspan></text>
<line x1="558.2" y1="485.9" x2="551.7" y2="485.9" stroke="#000" stroke-width="2.6" />
<text x="525.8" y="492.1" font-size="14.5" font-weight="bold" >10<tspan font-size="9" dy="-6">4</tspan></text>
<text x="745" y="842" font-size="24" font-weight="bold" text-anchor="middle" >q<tspan font-size="14.5" dy="5">z</tspan><tspan dy="-5"> (nm</tspan><tspan font-size="14.5" dy="-8">-1</tspan><tspan dy="8">)</tspan></text>
<text x="509.5" y="633" font-size="24" font-weight="bold" text-anchor="middle" transform="rotate(-90 509.5 633)" textLength="174" lengthAdjust="spacingAndGlyphs" >Intensity (a. u.)</text>
<line x1="803.5" y1="508.4" x2="841.1" y2="508.4" stroke="#4a4a4a" stroke-width="3" />
<line x1="803.5" y1="530.3" x2="841.1" y2="530.3" stroke="#ea2f36" stroke-width="3" />
<text x="845" y="514.2" font-size="16" font-weight="bold" textLength="70.8" lengthAdjust="spacingAndGlyphs" >mixed 3G</text>
<text x="845" y="536.2" font-size="16" font-weight="bold" textLength="54.7" lengthAdjust="spacingAndGlyphs" >HST 3G</text>
</g>
<g id="ph">
<path d="M994.4,715.3 995.5,708.8 996.5,721.4 997.6,710.8 998.7,713.6 999.7,708.7 1000.8,718.3 1001.9,704.3 1002.9,712.3 1004,710.8 1005.1,717.4 1006.1,704.4 1007.2,719 1008.2,701.9 1009.3,713 1010.4,704.8 1011.4,718.1 1012.5,703.8 1013.6,708.8 1014.6,705.3 1015.7,710.5 1016.8,700.1 1017.8,707.9 1018.9,699.6 1020,708.7 1021,695.9 1022.1,710 1023.2,696.1 1024.2,701.8 1025.3,693.1 1026.4,699.3 1027.4,694.5 1028.5,697.9 1029.5,692.4 1030.6,698.4 1031.7,690.1 1032.7,705.5 1033.8,689.3 1034.9,700.5 1035.9,691.8 1037,695.1 1038.1,683.5 1039.1,694 1040.2,682.6 1041.3,692.9 1042.3,685.3 1043.4,692.6 1044.5,682.7 1045.5,695.1 1046.6,679.6 1047.7,689.1 1048.7,675.8 1049.8,688 1050.8,675.7 1051.9,686.1 1053,671.8 1054,684.9 1055.1,666.8 1056.2,678.6 1057.2,669.4 1058.3,678.6 1059.4,662.4 1060.4,679.5 1061.5,663 1062.6,673 1063.6,657.1 1064.7,669.5 1065.8,655.5 1066.8,666.6 1067.9,655.9 1069,659.3 1070,652.3 1071.1,662.9 1072.1,641.9 1073.2,661.8 1074.3,640.7 1075.3,658.2 1076.4,639.1 1077.5,653 1078.5,635.7 1079.6,656.8 1080.7,637.2 1081.7,643.5 1082.8,624.8 1083.9,644.5 1084.9,625.3 1086,644.2 1087.1,631.3 1088.1,645.6 1089.2,615 1090.3,635.1 1091.3,616.2 1092.4,631.7 1093.4,620.4 1094.5,627.5 1095.6,611.2 1096.6,630.2 1097.7,606.1 1098.8,622 1099.8,599.5 1100.9,614.7 1102,598.7 1103,620.8 1104.1,600.7 1105.2,606.6 1106.2,600.4 1107.3,610.1 1108.4,589.5 1109.4,613.8 1110.5,594.2 1111.6,602.4 1112.6,581.9 1113.7,598.4 1114.7,584.6 1115.8,600.5 1116.9,568.1 1117.9,598.6 1119,580.3 1120.1,587.4 1121.1,570.5 1122.2,597.5 1123.3,564.8 1124.3,584.4 1125.4,555.9 1126.5,580.2 1127.5,550.7 1128.6,573.6 1129.7,561.7 1130.7,579.3 1131.8,546.8 1132.9,576.1 1133.9,550.7 1135,562.7 1136,554.2 1137.1,562.7 1138.2,550.2 1139.2,567.8 1140.3,546.1 1141.4,566.7 1142.4,540.7 1143.5,556.8 1144.6,537.8 1145.6,559.6 1146.7,530.3 1147.8,551.2 1148.8,535.3 1149.9,542.9 1151,520.2 1152,560.4 1153.1,530.5 1154.2,545 1155.2,535.9 1156.3,547.7 1157.3,523.8 1158.4,558.1 1159.5,521.7 1160.5,537.6 1161.6,524.8 1162.7,552.1 1163.7,518.9 1164.8,531.3 1165.9,517.6 1166.9,530.1 1168,503.9 1169.1,546.5 1170.1,512.3 1171.2,536 1172.3,521 1173.3,535.6 1174.4,524.6 1175.5,540.4 1176.5,519.6 1177.6,528.6 1178.6,504.6 1179.7,547.4 1180.8,522.3 1181.8,524.9 1182.9,506.7 1184,541.2 1185,520.7 1186.1,529.6 1187.2,518.6 1188.2,526.1 1189.3,518.9 1190.4,544.8 1191.4,509 1192.5,549.8 1193.6,515.5 1194.6,535.5 1195.7,522.9 1196.8,536.4 1197.8,526.3 1198.9,530.2 1199.9,512.5 1201,549.9 1202.1,512.7 1203.1,550.2 1204.2,518.4 1205.3,536.6 1206.3,521.2 1207.4,540.5 1208.5,531.4 1209.5,536.5 1210.6,535.1 1211.7,546.5 1212.7,526.1 1213.8,545 1214.9,519.2 1215.9,551.5 1217,527.3 1218.1,560.7 1219.1,539.3 1220.2,548.4 1221.2,531 1222.3,552 1223.4,529.8 1224.4,561.3 1225.5,534.5 1226.6,566.5 1227.6,549 1228.7,568.7 1229.8,551.1 1230.8,561.7 1231.9,552.4 1233,574.2 1234,547 1235.1,578.4 1236.2,563.1 1237.2,571.2 1238.3,561.7 1239.4,577.1 1240.4,558.3 1241.5,576.1 1242.5,563.7 1243.6,585.1 1244.7,562.5 1245.7,581.9 1246.8,576.5 1247.9,585.4 1248.9,565.2 1250,599.1 1251.1,579.2 1252.1,597.3 1253.2,581.3 1254.3,600.3 1255.3,586.5 1256.4,600.6 1257.5,595.5 1258.5,602.2 1259.6,583.6 1260.7,611.6 1261.7,595.4 1262.8,610.9 1263.8,598.9 1264.9,617 1266,605.9 1267,619.4 1268.1,604.9 1269.2,618 1270.2,613.3 1271.3,620.1 1272.4,618 1273.4,632.2 1274.5,618.6 1275.6,629.9 1276.6,622.5 1277.7,631.5 1278.8,622.6 1279.8,642.4 1280.9,625.9 1282,639.8 1283,632.2 1284.1,642.9 1285.1,628.8 1286.2,644.7 1287.3,640.7 1288.3,644.1 1289.4,643.5 1290.5,646.5 1291.5,637.5 1292.6,656.5 1293.7,645.9 1294.7,663.7 1295.8,650.5 1296.9,663.6 1297.9,647.6 1299,658.2 1300.1,658.6 1301.1,662.3 1302.2,652.8 1303.3,673.4 1304.3,663.6 1305.4,674.9 1306.4,663 1307.5,671.9 1308.6,666.1 1309.6,674.6 1310.7,670.4 1311.8,674.5 1312.8,673.4 1313.9,682.1 1315,664.7 1316,689.1 1317.1,674.8 1318.2,680.7 1319.2,677.2 1320.3,683.5 1321.4,671.5 1322.4,690.7 1323.5,682.4 1324.6,693.8 1325.6,680.1 1326.7,688.4 1327.7,685.6 1328.8,693.5 1329.9,685.6 1330.9,696.5 1332,688.6 1333.1,698.4 1334.1,691.1 1335.2,696.4 1336.3,685.9 1337.3,702.1 1338.4,691 1339.5,698.3 1340.5,694.5 1341.6,706.5 1342.7,699.5 1343.7,708.7 1344.8,698 1345.9,707.8 1346.9,698.5 1348,708.5 1349,695.6 1350.1,707.7 1351.2,695.7 1352.2,707.7 1353.3,704.7 1354.4,713.5 1355.4,706.2 1356.5,711.2 1357.6,701.1 1358.6,717.1 1359.7,708.3 1360.8,715.9 1361.8,700.1 1362.9,718.9 1364,707.5 1365,714.2 1366.1,708.6 1367.2,713.3" fill="none" stroke="#4a4a4a" stroke-width="2.2" stroke-linejoin="round" clip-path="url(#ch)"/>
<path d="M994.4,747.4 995.5,745.1 996.5,748.1 997.6,745.2 998.7,748.9 999.7,743.8 1000.8,746.6 1001.9,740.8 1002.9,745.5 1004,743.7 1005.1,743.5 1006.1,741.9 1007.2,745 1008.2,739.2 1009.3,744.6 1010.4,737 1011.4,744.3 1012.5,737.3 1013.6,742.8 1014.6,736.2 1015.7,739.3 1016.8,734.7 1017.8,738.8 1018.9,734.7 1020,739.7 1021,732.2 1022.1,735.5 1023.2,731.8 1024.2,737 1025.3,730.6 1026.4,734.2 1027.4,728 1028.5,732.3 1029.5,726.4 1030.6,729.5 1031.7,726.1 1032.7,728.2 1033.8,724.2 1034.9,727.7 1035.9,719.9 1037,723.6 1038.1,719.2 1039.1,721.5 1040.2,718.9 1041.3,720.5 1042.3,715.8 1043.4,718.2 1044.5,714.2 1045.5,718.5 1046.6,711.9 1047.7,713.5 1048.7,708.3 1049.8,711.2 1050.8,708.8 1051.9,710.3 1053,703.7 1054,706 1055.1,700.6 1056.2,705.1 1057.2,700.7 1058.3,704.4 1059.4,696 1060.4,697.6 1061.5,692.9 1062.6,696.6 1063.6,689.2 1064.7,691.5 1065.8,686.1 1066.8,691.9 1067.9,683.5 1069,688.4 1070,679.4 1071.1,685.4 1072.1,678 1073.2,679.8 1074.3,673.2 1075.3,679.4 1076.4,671.1 1077.5,674.8 1078.5,666.9 1079.6,670.4 1080.7,664 1081.7,666.9 1082.8,660.6 1083.9,665.9 1084.9,654.3 1086,659.7 1087.1,652.9 1088.1,656.7 1089.2,651.1 1090.3,654.4 1091.3,646.1 1092.4,649.5 1093.4,643.9 1094.5,645.5 1095.6,638.1 1096.6,644.1 1097.7,633.8 1098.8,641.3 1099.8,631.2 1100.9,633.5 1102,626.5 1103,628.5 1104.1,619.4 1105.2,627.5 1106.2,620.9 1107.3,622.5 1108.4,611.9 1109.4,615.4 1110.5,609.9 1111.6,613.9 1112.6,602.4 1113.7,611.3 1114.7,603.1 1115.8,605.3 1116.9,594.2 1117.9,601.6 1119,590.2 1120.1,595.7 1121.1,590.7 1122.2,594.4 1123.3,587.9 1124.3,590.7 1125.4,580.8 1126.5,585.9 1127.5,582.1 1128.6,587 1129.7,571.3 1130.7,578.5 1131.8,570.4 1132.9,575.8 1133.9,565 1135,569.8 1136,565.5 1137.1,574.3 1138.2,563.9 1139.2,566.6 1140.3,560.1 1141.4,560.5 1142.4,557.1 1143.5,561 1144.6,554.4 1145.6,555.7 1146.7,546 1147.8,554 1148.8,548.7 1149.9,555.8 1151,542 1152,553.1 1153.1,542.7 1154.2,551.4 1155.2,541.1 1156.3,541.1 1157.3,536.2 1158.4,541.2 1159.5,532.1 1160.5,538.6 1161.6,529 1162.7,542.3 1163.7,530.9 1164.8,532.7 1165.9,528.6 1166.9,537.6 1168,523.5 1169.1,532.8 1170.1,527.5 1171.2,532.6 1172.3,520.6 1173.3,529.5 1174.4,518.6 1175.5,531.5 1176.5,520.9 1177.6,528.3 1178.6,517.1 1179.7,529.9 1180.8,525.1 1181.8,531.9 1182.9,521.9 1184,532.6 1185,520.1 1186.1,527.6 1187.2,520.3 1188.2,528.3 1189.3,523.7 1190.4,530.3 1191.4,519.3 1192.5,531.1 1193.6,522.8 1194.6,530 1195.7,521.8 1196.8,533.5 1197.8,521.8 1198.9,534.9 1199.9,520.6 1201,531.2 1202.1,527.5 1203.1,538.3 1204.2,526.4 1205.3,534.4 1206.3,534.4 1207.4,540.1 1208.5,529.8 1209.5,545.4 1210.6,539 1211.7,544.7 1212.7,534 1213.8,546.8 1214.9,542.6 1215.9,547.1 1217,546 1218.1,555 1219.1,545.8 1220.2,553.3 1221.2,550.3 1222.3,556.9 1223.4,553.4 1224.4,557.6 1225.5,554.2 1226.6,562.7 1227.6,556.1 1228.7,566.9 1229.8,557.6 1230.8,569.7 1231.9,563.4 1233,573.7 1234,569.6 1235.1,579.5 1236.2,572.6 1237.2,576.9 1238.3,571.9 1239.4,585.3 1240.4,580 1241.5,589.7 1242.5,580.2 1243.6,592.8 1244.7,589 1245.7,595.3 1246.8,592.6 1247.9,597.4 1248.9,595.5 1250,600.7 1251.1,597.1 1252.1,604.8 1253.2,600.9 1254.3,610.8 1255.3,607.5 1256.4,614.7 1257.5,608.8 1258.5,620.6 1259.6,614.8 1260.7,625.7 1261.7,617.2 1262.8,628.6 1263.8,625.1 1264.9,628 1266,624.1 1267,633.6 1268.1,629.5 1269.2,640.2 1270.2,637.1 1271.3,642.6 1272.4,635 1273.4,647 1274.5,642 1275.6,650.4 1276.6,646.1 1277.7,654.5 1278.8,647.6 1279.8,656.4 1280.9,652.7 1282,661 1283,656.1 1284.1,665.5 1285.1,662.8 1286.2,669.5 1287.3,663.2 1288.3,669.3 1289.4,668.6 1290.5,672.2 1291.5,672 1292.6,678.4 1293.7,676.7 1294.7,679.9 1295.8,679.6 1296.9,683.2 1297.9,682.6 1299,685.8 1300.1,683.7 1301.1,690.2 1302.2,688.9 1303.3,694.9 1304.3,691.5 1305.4,697.7 1306.4,695.3 1307.5,701.2 1308.6,697 1309.6,700.6 1310.7,698.5 1311.8,702.7 1312.8,703.3 1313.9,707.4 1315,705 1316,710.2 1317.1,706.6 1318.2,712.4 1319.2,709 1320.3,715.3 1321.4,711.5 1322.4,718.1 1323.5,712.5 1324.6,717.5 1325.6,717.5 1326.7,722.9 1327.7,718.6 1328.8,723.1 1329.9,720.1 1330.9,725.1 1332,719.6 1333.1,725.7 1334.1,723.6 1335.2,728.4 1336.3,726.9 1337.3,728.9 1338.4,727.5 1339.5,731.7 1340.5,728.3 1341.6,732 1342.7,732 1343.7,736.8 1344.8,732 1345.9,737.2 1346.9,733.7 1348,736.6 1349,732.2 1350.1,737.2 1351.2,736.9 1352.2,740.8 1353.3,736.9 1354.4,739.6 1355.4,737.9 1356.5,743.1 1357.6,740.9 1358.6,742.6 1359.7,739.2 1360.8,746.5 1361.8,741.9 1362.9,744.4 1364,742.1 1365,745 1366.1,744.1 1367.2,746.3" fill="none" stroke="#ea2f36" stroke-width="2.4" stroke-linejoin="round" clip-path="url(#ch)"/>
<text x="1103.5" y="663.5" font-size="16.5" font-style="italic" textLength="44.5" lengthAdjust="spacingAndGlyphs" >mixed</text>
<text x="1104.4" y="728.1" font-size="16.5" font-style="italic" textLength="34" lengthAdjust="spacingAndGlyphs" >HST</text>
<line x1="1094.3" y1="676.6" x2="1132" y2="676.6" stroke="#57483f" stroke-width="5.6" />
<line x1="1138.4" y1="681" x2="1174.2" y2="669.3" stroke="#57483f" stroke-width="5.6" />
<line x1="1154.7" y1="682.4" x2="1192" y2="682.4" stroke="#57483f" stroke-width="5.6" />
<line x1="1186.4" y1="670" x2="1222.2" y2="682.7" stroke="#57483f" stroke-width="5.6" />
<line x1="1219.5" y1="675.2" x2="1257" y2="675.2" stroke="#57483f" stroke-width="5.6" />
<line x1="1234.4" y1="681.5" x2="1271" y2="686.7" stroke="#57483f" stroke-width="5.6" />
<line x1="1124.5" y1="690.6" x2="1162" y2="690.6" stroke="#57483f" stroke-width="5.6" />
<line x1="1118.4" y1="698.4" x2="1156.2" y2="698.4" stroke="#57483f" stroke-width="5.6" />
<line x1="1095.3" y1="699" x2="1131.5" y2="709.2" stroke="#57483f" stroke-width="5.6" />
<line x1="1158" y1="705.9" x2="1195.1" y2="712.4" stroke="#57483f" stroke-width="5.6" />
<line x1="1182.9" y1="701.9" x2="1219.5" y2="708.5" stroke="#57483f" stroke-width="5.6" />
<line x1="1224.4" y1="706.3" x2="1262.3" y2="706.3" stroke="#57483f" stroke-width="5.6" />
<line x1="1171.6" y1="689.4" x2="1237.9" y2="689.4" stroke="#f59a1e" stroke-width="2.2" />
<line x1="1173.3" y1="694.1" x2="1240.5" y2="694.1" stroke="#f59a1e" stroke-width="2.2" />
<line x1="1201.2" y1="698.4" x2="1269.3" y2="698.4" stroke="#f59a1e" stroke-width="2.2" />
<line x1="1097.1" y1="735.6" x2="1134.9" y2="735.6" stroke="#57483f" stroke-width="5.2" />
<line x1="1097.1" y1="748" x2="1134.9" y2="748" stroke="#57483f" stroke-width="5.2" />
<line x1="1097.1" y1="760.4" x2="1134.9" y2="760.4" stroke="#57483f" stroke-width="5.2" />
<line x1="1097.1" y1="772.9" x2="1134.9" y2="772.9" stroke="#57483f" stroke-width="5.2" />
<line x1="1141.9" y1="735.6" x2="1179.1" y2="735.6" stroke="#57483f" stroke-width="5.2" />
<line x1="1141.9" y1="748" x2="1179.1" y2="748" stroke="#57483f" stroke-width="5.2" />
<line x1="1141.9" y1="760.4" x2="1179.1" y2="760.4" stroke="#57483f" stroke-width="5.2" />
<line x1="1141.9" y1="772.9" x2="1179.1" y2="772.9" stroke="#57483f" stroke-width="5.2" />
<line x1="1186.4" y1="735.6" x2="1223.9" y2="735.6" stroke="#57483f" stroke-width="5.2" />
<line x1="1186.4" y1="748" x2="1223.9" y2="748" stroke="#57483f" stroke-width="5.2" />
<line x1="1186.4" y1="760.4" x2="1223.9" y2="760.4" stroke="#57483f" stroke-width="5.2" />
<line x1="1186.4" y1="772.9" x2="1223.9" y2="772.9" stroke="#57483f" stroke-width="5.2" />
<line x1="1230.9" y1="735.6" x2="1268.4" y2="735.6" stroke="#57483f" stroke-width="5.2" />
<line x1="1230.9" y1="748" x2="1268.4" y2="748" stroke="#57483f" stroke-width="5.2" />
<line x1="1230.9" y1="760.4" x2="1268.4" y2="760.4" stroke="#57483f" stroke-width="5.2" />
<line x1="1230.9" y1="772.9" x2="1268.4" y2="772.9" stroke="#57483f" stroke-width="5.2" />
<line x1="1108.8" y1="741.5" x2="1174.2" y2="741.5" stroke="#f59a1e" stroke-width="2.2" />
<line x1="1197.7" y1="753.9" x2="1263.2" y2="753.9" stroke="#f59a1e" stroke-width="2.2" />
<line x1="1153.3" y1="765.6" x2="1218.7" y2="765.6" stroke="#f59a1e" stroke-width="2.2" />
<rect x="995.3" y="487.4" width="371.7" height="302.8" fill="none" stroke="#000" stroke-width="3" />
<line x1="1021" y1="790.2" x2="1021" y2="796.2" stroke="#000" stroke-width="2.6" />
<text x="1021" y="811.8" font-size="15" font-weight="bold" text-anchor="middle" >60</text>
<line x1="1074.3" y1="790.2" x2="1074.3" y2="796.2" stroke="#000" stroke-width="2.6" />
<text x="1074.3" y="811.8" font-size="15" font-weight="bold" text-anchor="middle" >70</text>
<line x1="1127.5" y1="790.2" x2="1127.5" y2="796.2" stroke="#000" stroke-width="2.6" />
<text x="1127.5" y="811.8" font-size="15" font-weight="bold" text-anchor="middle" >80</text>
<line x1="1180.8" y1="790.2" x2="1180.8" y2="796.2" stroke="#000" stroke-width="2.6" />
<text x="1180.8" y="811.8" font-size="15" font-weight="bold" text-anchor="middle" >90</text>
<line x1="1234" y1="790.2" x2="1234" y2="796.2" stroke="#000" stroke-width="2.6" />
<text x="1234" y="811.8" font-size="15" font-weight="bold" text-anchor="middle" >100</text>
<line x1="1287.3" y1="790.2" x2="1287.3" y2="796.2" stroke="#000" stroke-width="2.6" />
<text x="1287.3" y="811.8" font-size="15" font-weight="bold" text-anchor="middle" >110</text>
<line x1="1340.5" y1="790.2" x2="1340.5" y2="796.2" stroke="#000" stroke-width="2.6" />
<text x="1340.5" y="811.8" font-size="15" font-weight="bold" text-anchor="middle" >120</text>
<path d="M999.7,790.2v3.6M1010.4,790.2v3.6M1031.7,790.2v3.6M1042.3,790.2v3.6M1053,790.2v3.6M1063.6,790.2v3.6M1084.9,790.2v3.6M1095.6,790.2v3.6M1106.2,790.2v3.6M1116.9,790.2v3.6M1138.2,790.2v3.6M1148.8,790.2v3.6M1159.5,790.2v3.6M1170.1,790.2v3.6M1191.4,790.2v3.6M1202.1,790.2v3.6M1212.7,790.2v3.6M1223.4,790.2v3.6M1244.7,790.2v3.6M1255.3,790.2v3.6M1266,790.2v3.6M1276.6,790.2v3.6M1297.9,790.2v3.6M1308.6,790.2v3.6M1319.2,790.2v3.6M1329.9,790.2v3.6M1351.2,790.2v3.6M1361.8,790.2v3.6" stroke="#000" stroke-width="1.8" fill="none"/>
<text x="1175.5" y="841.4" font-size="24" font-weight="bold" text-anchor="middle" >Azimuthal angle (<tspan font-size="15" dy="-7">O</tspan><tspan dy="7">)</tspan></text>
<text x="978.3" y="616.8" font-size="24" font-weight="bold" text-anchor="middle" transform="rotate(-90 978.3 616.8)" textLength="175" lengthAdjust="spacingAndGlyphs" >Intensity (a. u.)</text>
<line x1="1229" y1="507.4" x2="1262.2" y2="507.4" stroke="#4a4a4a" stroke-width="2" />
<line x1="1229" y1="529.4" x2="1262.2" y2="529.4" stroke="#ea2f36" stroke-width="2" />
<text x="1268.1" y="513.2" font-size="16.5" font-weight="bold" textLength="90.9" lengthAdjust="spacingAndGlyphs" >mixed 0.5G</text>
<text x="1268.1" y="535.2" font-size="16.5" font-weight="bold" textLength="76.2" lengthAdjust="spacingAndGlyphs" >HST 0.5G</text>
</g>
<g id="pi">
<rect x="1457.2" y="541.6" width="27.6" height="205.4" fill="#4f4f4f" />
<rect x="1502.5" y="529.3" width="27.6" height="217.7" fill="#ed1c24" />
<rect x="1547.8" y="541.6" width="27.6" height="205.4" fill="#4f4f4f" />
<rect x="1593.1" y="530.9" width="27.6" height="216.1" fill="#ed1c24" />
<rect x="1638.4" y="525.4" width="27.6" height="221.6" fill="#4f4f4f" />
<rect x="1683.7" y="533" width="27.6" height="214" fill="#ed1c24" />
<rect x="1448.1" y="486.3" width="271.7" height="260.7" fill="none" stroke="#000" stroke-width="3" />
<rect x="1448.1" y="747" width="271.7" height="44.6" fill="none" stroke="#000" stroke-width="3" />
<line x1="1448.1" y1="769.5" x2="1719.8" y2="769.5" stroke="#000" stroke-width="3" />
<line x1="1493.4" y1="747" x2="1493.4" y2="769.5" stroke="#000" stroke-width="3" />
<line x1="1538.7" y1="747" x2="1538.7" y2="791.6" stroke="#000" stroke-width="3" />
<line x1="1583.9" y1="747" x2="1583.9" y2="769.5" stroke="#000" stroke-width="3" />
<line x1="1629.2" y1="747" x2="1629.2" y2="791.6" stroke="#000" stroke-width="3" />
<line x1="1674.5" y1="747" x2="1674.5" y2="769.5" stroke="#000" stroke-width="3" />
<text x="1470.7" y="763.2" font-size="13.5" font-weight="bold" text-anchor="middle" textLength="38.3" lengthAdjust="spacingAndGlyphs" >mixed</text>
<text x="1516" y="763.2" font-size="13.5" font-weight="bold" text-anchor="middle" textLength="26" lengthAdjust="spacingAndGlyphs" >HST</text>
<text x="1561.3" y="763.2" font-size="13.5" font-weight="bold" text-anchor="middle" textLength="38.3" lengthAdjust="spacingAndGlyphs" >mixed</text>
<text x="1606.6" y="763.2" font-size="13.5" font-weight="bold" text-anchor="middle" textLength="26" lengthAdjust="spacingAndGlyphs" >HST</text>
<text x="1651.9" y="763.2" font-size="13.5" font-weight="bold" text-anchor="middle" textLength="38.3" lengthAdjust="spacingAndGlyphs" >mixed</text>
<text x="1697.2" y="763.2" font-size="13.5" font-weight="bold" text-anchor="middle" textLength="26" lengthAdjust="spacingAndGlyphs" >HST</text>
<text x="1493.4" y="785.2" font-size="13.5" font-weight="bold" text-anchor="middle" >0.5G</text>
<text x="1583.9" y="785.2" font-size="13.5" font-weight="bold" text-anchor="middle" >1.5G</text>
<text x="1674.5" y="785.2" font-size="13.5" font-weight="bold" text-anchor="middle" >3G</text>
<line x1="1448.1" y1="747" x2="1441.6" y2="747" stroke="#000" stroke-width="2.6" />
<text x="1438.2" y="751.4" font-size="12.5" font-weight="bold" text-anchor="end" >0.0</text>
<line x1="1448.1" y1="720.9" x2="1444.3" y2="720.9" stroke="#000" stroke-width="2.0" />
<line x1="1448.1" y1="694.9" x2="1441.6" y2="694.9" stroke="#000" stroke-width="2.6" />
<text x="1438.2" y="699.3" font-size="12.5" font-weight="bold" text-anchor="end" >0.2</text>
<line x1="1448.1" y1="668.8" x2="1444.3" y2="668.8" stroke="#000" stroke-width="2.0" />
<line x1="1448.1" y1="642.7" x2="1441.6" y2="642.7" stroke="#000" stroke-width="2.6" />
<text x="1438.2" y="647.1" font-size="12.5" font-weight="bold" text-anchor="end" >0.4</text>
<line x1="1448.1" y1="616.6" x2="1444.3" y2="616.6" stroke="#000" stroke-width="2.0" />
<line x1="1448.1" y1="590.6" x2="1441.6" y2="590.6" stroke="#000" stroke-width="2.6" />
<text x="1438.2" y="595" font-size="12.5" font-weight="bold" text-anchor="end" >0.6</text>
<line x1="1448.1" y1="564.5" x2="1444.3" y2="564.5" stroke="#000" stroke-width="2.0" />
<line x1="1448.1" y1="538.4" x2="1441.6" y2="538.4" stroke="#000" stroke-width="2.6" />
<text x="1438.2" y="542.8" font-size="12.5" font-weight="bold" text-anchor="end" >0.8</text>
<line x1="1448.1" y1="512.4" x2="1444.3" y2="512.4" stroke="#000" stroke-width="2.0" />
<line x1="1448.1" y1="486.3" x2="1441.6" y2="486.3" stroke="#000" stroke-width="2.6" />
<text x="1438.2" y="490.7" font-size="12.5" font-weight="bold" text-anchor="end" >1.0</text>
<text x="1411.6" y="626.8" font-size="24.3" font-weight="bold" text-anchor="middle" transform="rotate(-90 1411.6 626.8)" textLength="254" lengthAdjust="spacingAndGlyphs" >Orientation parameter</text>
</g>
<text x="4.6" y="27.4" font-size="33" font-weight="bold" >(a)</text>
<text x="527.6" y="27.4" font-size="33" font-weight="bold" >(b)</text>
<text x="826.2" y="27.4" font-size="33" font-weight="bold" >(c)</text>
<text x="1120.5" y="27.4" font-size="33" font-weight="bold" >(d)</text>
<text x="1422.1" y="27.4" font-size="33" font-weight="bold" >(e)</text>
<text x="4.4" y="471.6" font-size="33" font-weight="bold" >(f)</text>
<text x="483.2" y="471.6" font-size="33" font-weight="bold" >(g)</text>
<text x="950.2" y="471.6" font-size="33" font-weight="bold" >(h)</text>
<text x="1382" y="471.6" font-size="33" font-weight="bold" >(i)</text>
</svg>
</body></html>
